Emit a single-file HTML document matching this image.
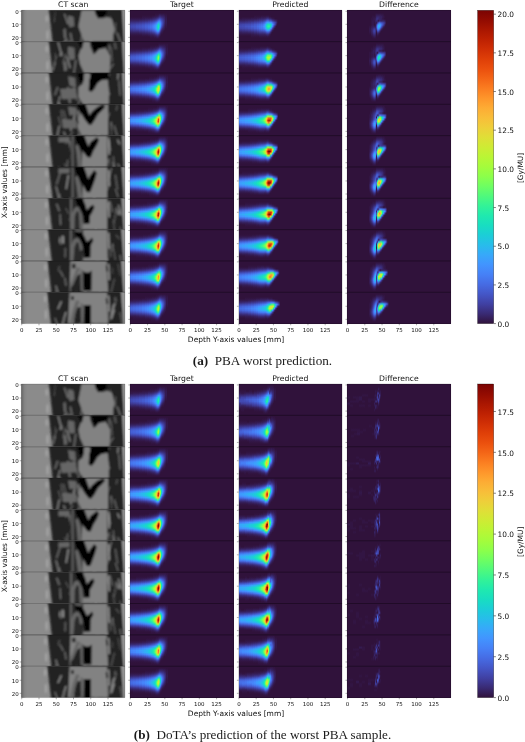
<!DOCTYPE html><html><head><meta charset="utf-8"><title>Figure</title><style>
html,body{margin:0;padding:0;background:#fff}#f{position:relative;width:525px;height:742px;overflow:hidden;background:#fff}.p{position:absolute;background:#30123b;overflow:hidden}.c{position:absolute;display:flex}.c i{flex:0 0 1px;height:100%}svg{position:absolute;left:0;top:0}text{font-family:"DejaVu Sans","Liberation Sans",sans-serif;fill:#111}.cap{font-family:"Liberation Serif",serif;fill:#1a1a1a}
</style></head><body><div id="f">
<div class="p" style="left:130px;top:10px;width:104px;height:32px"><div class="c" style="left:0px;top:3px;height:26px"><i style="flex-basis:3px;background:linear-gradient(#30123b,#30123b,#30123b,#33184a,#372466,#3d358b,#4143a7,#4249b1,#3f3e9c,#3a2d79,#351e58,#321543,#30123b,#30123b)"></i><i style="flex-basis:3px;background:linear-gradient(#30123b,#30123b,#30123b,#33184a,#372466,#3d358b,#4146ac,#424bb5,#4040a2,#3b2f80,#351e58,#321543,#30123b,#30123b)"></i><i style="flex-basis:3px;background:linear-gradient(#30123b,#30123b,#30123b,#33184a,#372466,#3e3891,#424bb5,#4451bf,#4146ac,#3b2f80,#351e58,#321543,#30123b,#30123b)"></i><i style="flex-basis:3px;background:linear-gradient(#30123b,#30123b,#30123b,#33184a,#38276d,#3f3b97,#434eba,#4454c3,#4249b1,#3d358b,#36215f,#321543,#30123b,#30123b)"></i><i style="flex-basis:3px;background:linear-gradient(#30123b,#30123b,#321543,#341b51,#392a73,#4040a2,#4454c3,#4559cb,#434eba,#3e3891,#372466,#33184a,#30123b,#30123b)"></i><i style="flex-basis:3px;background:linear-gradient(#30123b,#30123b,#321543,#351e58,#3a2d79,#4146ac,#455ccf,#4661d6,#4456c7,#3f3e9c,#38276d,#33184a,#30123b,#30123b)"></i><i style="flex-basis:2px;background:linear-gradient(#30123b,#30123b,#321543,#351e58,#3c3286,#424bb5,#4661d6,#4669e0,#455ed3,#4143a7,#392a73,#341b51,#30123b,#30123b)"></i><i style="flex-basis:2px;background:linear-gradient(#30123b,#30123b,#321543,#36215f,#3e3891,#4454c3,#466be3,#4773eb,#4666dd,#424bb5,#3b2f80,#351e58,#321543,#30123b)"></i><i style="background:linear-gradient(#30123b,#30123b,#33184a,#372466,#3f3b97,#4559cb,#4773eb,#477bf2,#476ee6,#4454c3,#3d358b,#351e58,#321543,#30123b)"></i><i style="background:linear-gradient(#30123b,#30123b,#33184a,#38276d,#4040a2,#455ed3,#477bf2,#4685fa,#4778f0,#4559cb,#3e3891,#36215f,#321543,#30123b)"></i><i style="background:linear-gradient(#30123b,#30123b,#341b51,#392a73,#4143a7,#4666dd,#4685fa,#448ffe,#4682f8,#4664da,#3f3e9c,#372466,#33184a,#30123b)"></i><i style="background:linear-gradient(#30123b,#321543,#341b51,#3a2d79,#424bb5,#4771e9,#4391fe,#3d9efe,#4391fe,#4771e9,#4249b1,#392a73,#33184a,#30123b)"></i><i style="background:linear-gradient(#30123b,#321543,#351e58,#3c3286,#4454c3,#4680f6,#38a5fb,#2cb7f0,#35abf8,#4685fa,#4456c7,#3b2f80,#341b51,#30123b)"></i><i style="background:linear-gradient(#30123b,#321543,#36215f,#3f3b97,#4664da,#4099ff,#20c7df,#18d7ca,#1ecbda,#3e9bfe,#4661d6,#3d358b,#351e58,#30123b)"></i><i style="background:linear-gradient(#30123b,#33184a,#38276d,#4146ac,#4778f0,#2cb7f0,#19e2bb,#1fe9af,#1ad4d0,#4099ff,#4559cb,#3b2f80,#341b51,#30123b)"></i><i style="background:linear-gradient(#30123b,#351e58,#3b2f80,#4451bf,#4680f6,#31aff5,#20c7df,#22c5e2,#38a5fb,#4771e9,#4040a2,#372466,#321543,#30123b)"></i><i style="background:linear-gradient(#30123b,#351e58,#3b2f80,#424bb5,#476ee6,#458afc,#4294ff,#4685fa,#4664da,#4040a2,#372466,#33184a,#30123b,#30123b)"></i><i style="background:linear-gradient(#30123b,#341b51,#392a73,#4040a2,#4456c7,#4666dd,#4666dd,#4454c3,#3f3b97,#372466,#33184a,#30123b,#30123b,#30123b)"></i><i style="background:linear-gradient(#30123b,#341b51,#38276d,#3e3891,#4146ac,#434eba,#4249b1,#3f3b97,#38276d,#341b51,#321543,#30123b,#30123b,#30123b)"></i><i style="background:linear-gradient(#30123b,#341b51,#372466,#3b2f80,#3e3891,#3f3b97,#3d358b,#392a73,#351e58,#321543,#30123b,#30123b,#30123b,#30123b)"></i><i style="background:linear-gradient(#30123b,#33184a,#36215f,#38276d,#3a2d79,#392a73,#372466,#351e58,#33184a,#30123b,#30123b,#30123b,#30123b,#30123b)"></i><i style="flex-basis:2px;background:linear-gradient(#30123b,#321543,#33184a,#341b51,#341b51,#341b51,#33184a,#321543,#30123b,#30123b,#30123b,#30123b,#30123b,#30123b)"></i></div></div>
<div class="p" style="left:239px;top:10px;width:103px;height:32px"><div class="c" style="left:0px;top:5px;height:23px"><i style="flex-basis:3px;background:linear-gradient(#30123b,#30123b,#321543,#36215f,#3c3286,#4143a7,#4249b1,#4143a7,#3c3286,#36215f,#33184a,#30123b,#30123b)"></i><i style="flex-basis:3px;background:linear-gradient(#30123b,#30123b,#33184a,#36215f,#3c3286,#4146ac,#424bb5,#4146ac,#3d358b,#372466,#33184a,#30123b,#30123b)"></i><i style="flex-basis:3px;background:linear-gradient(#30123b,#30123b,#33184a,#372466,#3d358b,#4249b1,#4451bf,#4249b1,#3e3891,#372466,#33184a,#30123b,#30123b)"></i><i style="flex-basis:3px;background:linear-gradient(#30123b,#30123b,#33184a,#38276d,#3e3891,#424bb5,#4454c3,#434eba,#3f3b97,#38276d,#33184a,#30123b,#30123b)"></i><i style="flex-basis:3px;background:linear-gradient(#30123b,#30123b,#341b51,#38276d,#3f3e9c,#4451bf,#455ccf,#4454c3,#4040a2,#392a73,#341b51,#321543,#30123b)"></i><i style="flex-basis:3px;background:linear-gradient(#30123b,#321543,#341b51,#3a2d79,#4143a7,#4559cb,#4661d6,#455ccf,#4146ac,#3b2f80,#351e58,#321543,#30123b)"></i><i style="flex-basis:2px;background:linear-gradient(#30123b,#321543,#351e58,#3b2f80,#4249b1,#4661d6,#466be3,#4664da,#434eba,#3d358b,#36215f,#321543,#30123b)"></i><i style="flex-basis:2px;background:linear-gradient(#30123b,#321543,#36215f,#3d358b,#434eba,#4669e0,#4773eb,#476ee6,#4456c7,#3f3b97,#372466,#33184a,#30123b)"></i><i style="flex-basis:2px;background:linear-gradient(#30123b,#33184a,#372466,#3e3891,#4456c7,#4771e9,#467df4,#4776ee,#455ccf,#3f3b97,#372466,#33184a,#30123b)"></i><i style="background:linear-gradient(#30123b,#33184a,#372466,#3f3e9c,#455ed3,#467df4,#458cfd,#4680f6,#4661d6,#3f3e9c,#372466,#33184a,#30123b)"></i><i style="background:linear-gradient(#30123b,#33184a,#38276d,#4143a7,#4669e0,#458cfd,#3e9bfe,#458afc,#4666dd,#4040a2,#372466,#33184a,#30123b)"></i><i style="background:linear-gradient(#30123b,#33184a,#392a73,#424bb5,#467df4,#37a8fa,#2ab9ee,#3aa3fc,#4776ee,#4146ac,#38276d,#33184a,#30123b)"></i><i style="background:linear-gradient(#30123b,#341b51,#3b2f80,#455ccf,#4294ff,#1fc9dd,#18dbc5,#22c5e2,#458cfd,#4454c3,#3a2d79,#33184a,#30123b)"></i><i style="background:linear-gradient(#30123b,#341b51,#3d358b,#4666dd,#37a8fa,#18e0bd,#25eca7,#18dbc5,#3d9efe,#455ccf,#3b2f80,#341b51,#30123b)"></i><i style="background:linear-gradient(#30123b,#341b51,#3c3286,#4664da,#35abf8,#1ce6b4,#32f298,#18e0bd,#3d9efe,#4559cb,#3a2d79,#33184a,#30123b)"></i><i style="background:linear-gradient(#30123b,#321543,#392a73,#4456c7,#3ba0fd,#19e2bb,#2cf09e,#19d5cd,#458cfd,#4249b1,#36215f,#321543,#30123b)"></i><i style="background:linear-gradient(#30123b,#321543,#38276d,#4454c3,#3d9efe,#18dec0,#19e3b9,#2fb2f4,#4664da,#3b2f80,#33184a,#30123b,#30123b)"></i><i style="background:linear-gradient(#30123b,#30123b,#36215f,#424bb5,#4391fe,#1fc9dd,#25c0e7,#467df4,#3f3e9c,#341b51,#30123b,#30123b,#30123b)"></i><i style="background:linear-gradient(#30123b,#30123b,#341b51,#3f3b97,#4776ee,#4099ff,#4682f8,#4249b1,#36215f,#30123b,#30123b,#30123b,#30123b)"></i><i style="background:linear-gradient(#30123b,#30123b,#33184a,#3c3286,#4661d6,#4776ee,#4454c3,#392a73,#321543,#30123b,#30123b,#30123b,#30123b)"></i><i style="background:linear-gradient(#30123b,#30123b,#321543,#392a73,#4451bf,#4456c7,#3c3286,#33184a,#30123b,#30123b,#30123b,#30123b,#30123b)"></i><i style="background:linear-gradient(#30123b,#30123b,#30123b,#372466,#4040a2,#3f3b97,#351e58,#30123b,#30123b,#30123b,#30123b,#30123b,#30123b)"></i><i style="background:linear-gradient(#30123b,#30123b,#30123b,#351e58,#3a2d79,#36215f,#30123b,#30123b,#30123b,#30123b,#30123b,#30123b,#30123b)"></i><i style="background:linear-gradient(#30123b,#30123b,#30123b,#321543,#33184a,#30123b,#30123b,#30123b,#30123b,#30123b,#30123b,#30123b,#30123b)"></i></div></div>
<div class="p" style="left:347px;top:10px;width:104px;height:32px"><div class="c" style="left:22px;top:3px;height:26px"><i style="flex-basis:2px;background:linear-gradient(#30123b,#30123b,#30123b,#30123b,#30123b,#30123b,#30123b,#321543,#33184a,#33184a,#321543,#30123b,#30123b,#30123b)"></i><i style="background:linear-gradient(#30123b,#30123b,#30123b,#321543,#321543,#321543,#321543,#341b51,#36215f,#36215f,#351e58,#33184a,#30123b,#30123b)"></i><i style="background:linear-gradient(#30123b,#30123b,#321543,#321543,#33184a,#33184a,#33184a,#351e58,#38276d,#392a73,#372466,#341b51,#321543,#30123b)"></i><i style="background:linear-gradient(#30123b,#30123b,#321543,#33184a,#33184a,#33184a,#33184a,#36215f,#3c3286,#3f3b97,#3c3286,#372466,#33184a,#30123b)"></i><i style="background:linear-gradient(#30123b,#30123b,#321543,#341b51,#33184a,#321543,#30123b,#36215f,#3f3b97,#4143a7,#3e3891,#38276d,#341b51,#30123b)"></i><i style="background:linear-gradient(#30123b,#321543,#33184a,#351e58,#36215f,#341b51,#33184a,#36215f,#3b2f80,#3d358b,#3a2d79,#36215f,#33184a,#30123b)"></i><i style="background:linear-gradient(#30123b,#341b51,#372466,#3a2d79,#38276d,#33184a,#3f3e9c,#424bb5,#3e3891,#351e58,#30123b,#30123b,#30123b,#30123b)"></i><i style="background:linear-gradient(#30123b,#341b51,#38276d,#3b2f80,#36215f,#3e3891,#4778f0,#4391fe,#477bf2,#424bb5,#38276d,#33184a,#30123b,#30123b)"></i><i style="background:linear-gradient(#30123b,#341b51,#38276d,#392a73,#321543,#455ccf,#3aa3fc,#2cb7f0,#458afc,#434eba,#372466,#321543,#30123b,#30123b)"></i><i style="background:linear-gradient(#30123b,#341b51,#372466,#372466,#372466,#4771e9,#31aff5,#33adf7,#4771e9,#3d358b,#33184a,#30123b,#30123b,#30123b)"></i><i style="background:linear-gradient(#30123b,#341b51,#36215f,#36215f,#372466,#4669e0,#4099ff,#4682f8,#4146ac,#351e58,#30123b,#30123b,#30123b,#30123b)"></i><i style="background:linear-gradient(#30123b,#33184a,#36215f,#351e58,#36215f,#455ccf,#4773eb,#4454c3,#38276d,#30123b,#30123b,#30123b,#30123b,#30123b)"></i><i style="background:linear-gradient(#30123b,#33184a,#341b51,#33184a,#372466,#4451bf,#4559cb,#3d358b,#33184a,#30123b,#30123b,#30123b,#30123b,#30123b)"></i><i style="background:linear-gradient(#30123b,#321543,#33184a,#321543,#372466,#4146ac,#4040a2,#351e58,#30123b,#30123b,#30123b,#30123b,#30123b,#30123b)"></i><i style="background:linear-gradient(#30123b,#30123b,#321543,#30123b,#36215f,#3e3891,#392a73,#321543,#30123b,#30123b,#30123b,#30123b,#30123b,#30123b)"></i><i style="background:linear-gradient(#30123b,#30123b,#30123b,#30123b,#33184a,#372466,#321543,#30123b,#30123b,#30123b,#30123b,#30123b,#30123b,#30123b)"></i></div></div>
<div class="p" style="left:130px;top:42px;width:104px;height:31px"><div class="c" style="left:0px;top:1px;height:28px"><i style="flex-basis:3px;background:linear-gradient(#30123b,#30123b,#30123b,#321543,#351e58,#3b2f80,#4249b1,#455ccf,#455ccf,#4249b1,#3b2f80,#341b51,#321543,#30123b,#30123b)"></i><i style="flex-basis:3px;background:linear-gradient(#30123b,#30123b,#30123b,#321543,#351e58,#3c3286,#424bb5,#455ed3,#455ed3,#424bb5,#3b2f80,#351e58,#321543,#30123b,#30123b)"></i><i style="flex-basis:3px;background:linear-gradient(#30123b,#30123b,#30123b,#321543,#36215f,#3d358b,#4451bf,#4664da,#4664da,#434eba,#3c3286,#351e58,#321543,#30123b,#30123b)"></i><i style="flex-basis:3px;background:linear-gradient(#30123b,#30123b,#30123b,#321543,#36215f,#3e3891,#4456c7,#4669e0,#4669e0,#4454c3,#3e3891,#36215f,#321543,#30123b,#30123b)"></i><i style="flex-basis:3px;background:linear-gradient(#30123b,#30123b,#30123b,#33184a,#372466,#3f3e9c,#455ccf,#4771e9,#4771e9,#455ccf,#3f3b97,#372466,#321543,#30123b,#30123b)"></i><i style="flex-basis:3px;background:linear-gradient(#30123b,#30123b,#30123b,#33184a,#38276d,#4143a7,#4664da,#477bf2,#477bf2,#4664da,#4143a7,#38276d,#33184a,#30123b,#30123b)"></i><i style="flex-basis:2px;background:linear-gradient(#30123b,#30123b,#30123b,#341b51,#3a2d79,#4249b1,#466be3,#4685fa,#4685fa,#476ee6,#424bb5,#3a2d79,#341b51,#30123b,#30123b)"></i><i style="flex-basis:2px;background:linear-gradient(#30123b,#30123b,#321543,#351e58,#3b2f80,#4451bf,#4776ee,#4391fe,#4391fe,#4778f0,#4454c3,#3b2f80,#341b51,#321543,#30123b)"></i><i style="background:linear-gradient(#30123b,#30123b,#321543,#351e58,#3d358b,#4559cb,#4680f6,#3e9bfe,#3d9efe,#4685fa,#455ccf,#3d358b,#351e58,#321543,#30123b)"></i><i style="background:linear-gradient(#30123b,#30123b,#321543,#36215f,#3e3891,#455ed3,#458afc,#38a5fb,#35abf8,#448ffe,#4664da,#3f3b97,#36215f,#321543,#30123b)"></i><i style="background:linear-gradient(#30123b,#30123b,#321543,#372466,#3f3e9c,#4666dd,#4294ff,#2eb4f2,#2ab9ee,#3d9efe,#476ee6,#4040a2,#372466,#33184a,#30123b)"></i><i style="background:linear-gradient(#30123b,#30123b,#33184a,#372466,#4143a7,#4771e9,#3aa3fc,#20c7df,#1ecbda,#2fb2f4,#4680f6,#424bb5,#392a73,#33184a,#30123b)"></i><i style="background:linear-gradient(#30123b,#30123b,#33184a,#392a73,#424bb5,#4680f6,#2ab9ee,#18e0bd,#1ce6b4,#1bd0d5,#4099ff,#455ccf,#3b2f80,#341b51,#30123b)"></i><i style="background:linear-gradient(#30123b,#30123b,#341b51,#3b2f80,#4559cb,#4196ff,#18dbc5,#43f787,#55fa76,#22ebaa,#2fb2f4,#4669e0,#3d358b,#341b51,#30123b)"></i><i style="background:linear-gradient(#30123b,#321543,#351e58,#3f3b97,#476ee6,#2ab9ee,#35f394,#8bff4b,#88ff4e,#2aefa1,#35abf8,#455ed3,#3b2f80,#33184a,#30123b)"></i><i style="background:linear-gradient(#30123b,#33184a,#38276d,#4249b1,#467df4,#27bee9,#1fe9af,#35f394,#20eaac,#23c3e4,#477bf2,#4040a2,#36215f,#321543,#30123b)"></i><i style="background:linear-gradient(#30123b,#33184a,#392a73,#4146ac,#4771e9,#3d9efe,#28bceb,#27bee9,#3d9efe,#4771e9,#4143a7,#372466,#321543,#30123b,#30123b)"></i><i style="background:linear-gradient(#30123b,#33184a,#38276d,#3f3e9c,#455ccf,#4778f0,#4687fb,#467df4,#4661d6,#4040a2,#372466,#33184a,#30123b,#30123b,#30123b)"></i><i style="background:linear-gradient(#30123b,#33184a,#372466,#3d358b,#424bb5,#455ed3,#4664da,#4456c7,#4040a2,#392a73,#341b51,#30123b,#30123b,#30123b,#30123b)"></i><i style="background:linear-gradient(#30123b,#33184a,#36215f,#3b2f80,#3f3e9c,#4249b1,#4249b1,#3f3e9c,#3a2d79,#351e58,#321543,#30123b,#30123b,#30123b,#30123b)"></i><i style="background:linear-gradient(#30123b,#33184a,#351e58,#392a73,#3c3286,#3d358b,#3c3286,#392a73,#351e58,#33184a,#30123b,#30123b,#30123b,#30123b,#30123b)"></i><i style="background:linear-gradient(#30123b,#321543,#341b51,#36215f,#372466,#38276d,#36215f,#341b51,#33184a,#30123b,#30123b,#30123b,#30123b,#30123b,#30123b)"></i><i style="flex-basis:2px;background:linear-gradient(#30123b,#321543,#321543,#33184a,#33184a,#33184a,#321543,#30123b,#30123b,#30123b,#30123b,#30123b,#30123b,#30123b,#30123b)"></i></div></div>
<div class="p" style="left:239px;top:42px;width:103px;height:31px"><div class="c" style="left:0px;top:4px;height:23px"><i style="flex-basis:3px;background:linear-gradient(#30123b,#30123b,#33184a,#372466,#3e3891,#4451bf,#455ed3,#4559cb,#4143a7,#3a2d79,#341b51,#30123b,#30123b)"></i><i style="flex-basis:3px;background:linear-gradient(#30123b,#30123b,#33184a,#372466,#3f3b97,#4454c3,#4661d6,#455ccf,#4146ac,#3a2d79,#341b51,#321543,#30123b)"></i><i style="flex-basis:3px;background:linear-gradient(#30123b,#30123b,#33184a,#38276d,#3f3e9c,#4559cb,#4666dd,#4661d6,#424bb5,#3b2f80,#351e58,#321543,#30123b)"></i><i style="flex-basis:3px;background:linear-gradient(#30123b,#30123b,#341b51,#392a73,#4143a7,#455ed3,#466be3,#4666dd,#4451bf,#3d358b,#351e58,#321543,#30123b)"></i><i style="flex-basis:3px;background:linear-gradient(#30123b,#321543,#341b51,#3a2d79,#4249b1,#4664da,#4773eb,#476ee6,#4456c7,#3e3891,#36215f,#321543,#30123b)"></i><i style="flex-basis:2px;background:linear-gradient(#30123b,#321543,#351e58,#3b2f80,#434eba,#466be3,#477bf2,#4776ee,#455ed3,#3f3e9c,#372466,#33184a,#30123b)"></i><i style="flex-basis:2px;background:linear-gradient(#30123b,#321543,#36215f,#3d358b,#4454c3,#4773eb,#4685fa,#4680f6,#4666dd,#4143a7,#38276d,#33184a,#30123b)"></i><i style="flex-basis:2px;background:linear-gradient(#30123b,#321543,#36215f,#3f3b97,#455ccf,#467df4,#448ffe,#458afc,#4771e9,#424bb5,#3a2d79,#341b51,#30123b)"></i><i style="flex-basis:2px;background:linear-gradient(#30123b,#33184a,#372466,#3f3e9c,#4664da,#4687fb,#3e9bfe,#4294ff,#4778f0,#4451bf,#3b2f80,#341b51,#30123b)"></i><i style="background:linear-gradient(#30123b,#33184a,#38276d,#4143a7,#466be3,#4391fe,#37a8fa,#3ba0fd,#467df4,#4454c3,#3b2f80,#341b51,#30123b)"></i><i style="background:linear-gradient(#30123b,#33184a,#38276d,#4146ac,#4773eb,#3d9efe,#2cb7f0,#35abf8,#4685fa,#4456c7,#3b2f80,#341b51,#30123b)"></i><i style="background:linear-gradient(#30123b,#33184a,#392a73,#424bb5,#467df4,#2fb2f4,#1fc9dd,#28bceb,#458cfd,#4559cb,#3c3286,#341b51,#30123b)"></i><i style="background:linear-gradient(#30123b,#33184a,#3a2d79,#4456c7,#4294ff,#1bd0d5,#1ce6b4,#18d7ca,#3ba0fd,#4661d6,#3c3286,#341b51,#30123b)"></i><i style="background:linear-gradient(#30123b,#341b51,#3d358b,#4669e0,#2eb4f2,#27eea4,#5dfc6f,#35f394,#23c3e4,#4776ee,#3f3b97,#351e58,#30123b)"></i><i style="background:linear-gradient(#30123b,#351e58,#3f3b97,#4776ee,#1ecbda,#5dfc6f,#a1fd3d,#75fe5c,#18dbc5,#4685fa,#4143a7,#36215f,#30123b)"></i><i style="background:linear-gradient(#30123b,#341b51,#3d358b,#4773eb,#1bd0d5,#75fe5c,#b7f735,#8fff49,#18dec0,#4682f8,#3f3e9c,#351e58,#30123b)"></i><i style="background:linear-gradient(#30123b,#33184a,#3a2d79,#4664da,#23c3e4,#6dfe62,#b1f936,#75fe5c,#1ecbda,#466be3,#3b2f80,#33184a,#30123b)"></i><i style="background:linear-gradient(#30123b,#321543,#38276d,#4661d6,#23c3e4,#65fd69,#96fe44,#2cf09e,#4196ff,#4143a7,#351e58,#30123b,#30123b)"></i><i style="background:linear-gradient(#30123b,#30123b,#372466,#4456c7,#2eb4f2,#38f491,#3ff68a,#27bee9,#455ed3,#38276d,#321543,#30123b,#30123b)"></i><i style="background:linear-gradient(#30123b,#30123b,#341b51,#4143a7,#4391fe,#1bd0d5,#27bee9,#4771e9,#3b2f80,#321543,#30123b,#30123b,#30123b)"></i><i style="background:linear-gradient(#30123b,#30123b,#33184a,#3e3891,#4778f0,#3ba0fd,#467df4,#3f3e9c,#341b51,#30123b,#30123b,#30123b,#30123b)"></i><i style="background:linear-gradient(#30123b,#30123b,#321543,#3b2f80,#4664da,#4778f0,#424bb5,#36215f,#30123b,#30123b,#30123b,#30123b,#30123b)"></i><i style="background:linear-gradient(#30123b,#30123b,#30123b,#38276d,#4451bf,#4454c3,#392a73,#321543,#30123b,#30123b,#30123b,#30123b,#30123b)"></i><i style="background:linear-gradient(#30123b,#30123b,#30123b,#351e58,#3f3b97,#3c3286,#33184a,#30123b,#30123b,#30123b,#30123b,#30123b,#30123b)"></i><i style="background:linear-gradient(#30123b,#30123b,#30123b,#321543,#351e58,#321543,#30123b,#30123b,#30123b,#30123b,#30123b,#30123b,#30123b)"></i></div></div>
<div class="p" style="left:347px;top:42px;width:104px;height:31px"><div class="c" style="left:22px;top:1px;height:28px"><i style="flex-basis:2px;background:linear-gradient(#30123b,#30123b,#30123b,#30123b,#30123b,#321543,#321543,#321543,#33184a,#341b51,#33184a,#321543,#30123b,#30123b,#30123b)"></i><i style="background:linear-gradient(#30123b,#30123b,#30123b,#321543,#321543,#33184a,#33184a,#33184a,#36215f,#38276d,#38276d,#351e58,#33184a,#30123b,#30123b)"></i><i style="background:linear-gradient(#30123b,#30123b,#30123b,#321543,#33184a,#341b51,#33184a,#341b51,#38276d,#3c3286,#3c3286,#38276d,#341b51,#321543,#30123b)"></i><i style="background:linear-gradient(#30123b,#30123b,#321543,#33184a,#351e58,#351e58,#341b51,#351e58,#3c3286,#4146ac,#4249b1,#3e3891,#372466,#33184a,#30123b)"></i><i style="background:linear-gradient(#30123b,#30123b,#321543,#341b51,#351e58,#341b51,#321543,#341b51,#3e3891,#4454c3,#4454c3,#4040a2,#38276d,#33184a,#30123b)"></i><i style="background:linear-gradient(#30123b,#30123b,#33184a,#36215f,#38276d,#38276d,#351e58,#351e58,#3b2f80,#4040a2,#4040a2,#3c3286,#36215f,#321543,#30123b)"></i><i style="background:linear-gradient(#30123b,#33184a,#36215f,#3b2f80,#3d358b,#372466,#3b2f80,#455ccf,#455ed3,#3f3b97,#351e58,#30123b,#30123b,#30123b,#30123b)"></i><i style="background:linear-gradient(#30123b,#33184a,#372466,#3d358b,#3e3891,#30123b,#4669e0,#2eb4f2,#23c3e4,#448ffe,#4451bf,#38276d,#321543,#30123b,#30123b)"></i><i style="background:linear-gradient(#30123b,#33184a,#372466,#3c3286,#3a2d79,#3d358b,#3ba0fd,#1ce6b4,#19e2bb,#3d9efe,#434eba,#372466,#321543,#30123b,#30123b)"></i><i style="background:linear-gradient(#30123b,#33184a,#372466,#3a2d79,#351e58,#434eba,#27bee9,#25eca7,#1ad2d2,#4778f0,#3c3286,#33184a,#30123b,#30123b,#30123b)"></i><i style="background:linear-gradient(#30123b,#33184a,#36215f,#392a73,#341b51,#434eba,#2fb2f4,#1ad4d0,#4099ff,#4146ac,#341b51,#30123b,#30123b,#30123b,#30123b)"></i><i style="background:linear-gradient(#30123b,#33184a,#36215f,#38276d,#341b51,#4146ac,#4391fe,#4099ff,#4559cb,#372466,#30123b,#30123b,#30123b,#30123b,#30123b)"></i><i style="background:linear-gradient(#30123b,#33184a,#341b51,#36215f,#321543,#4143a7,#467df4,#466be3,#3c3286,#321543,#30123b,#30123b,#30123b,#30123b,#30123b)"></i><i style="background:linear-gradient(#30123b,#321543,#33184a,#341b51,#30123b,#4040a2,#4666dd,#4146ac,#341b51,#30123b,#30123b,#30123b,#30123b,#30123b,#30123b)"></i><i style="background:linear-gradient(#30123b,#30123b,#321543,#321543,#321543,#3e3891,#424bb5,#38276d,#30123b,#30123b,#30123b,#30123b,#30123b,#30123b,#30123b)"></i><i style="background:linear-gradient(#30123b,#30123b,#30123b,#30123b,#30123b,#38276d,#392a73,#321543,#30123b,#30123b,#30123b,#30123b,#30123b,#30123b,#30123b)"></i></div></div>
<div class="p" style="left:130px;top:73px;width:104px;height:31px"><div class="c" style="left:0px;top:1px;height:29px"><i style="flex-basis:3px;background:linear-gradient(#30123b,#30123b,#30123b,#321543,#36215f,#3f3b97,#455ccf,#4773eb,#476ee6,#4454c3,#3c3286,#341b51,#30123b,#30123b,#30123b)"></i><i style="flex-basis:3px;background:linear-gradient(#30123b,#30123b,#30123b,#321543,#372466,#3f3e9c,#4661d6,#4778f0,#4773eb,#4456c7,#3d358b,#351e58,#321543,#30123b,#30123b)"></i><i style="flex-basis:3px;background:linear-gradient(#30123b,#30123b,#30123b,#321543,#372466,#4040a2,#4666dd,#467df4,#477bf2,#455ccf,#3e3891,#351e58,#321543,#30123b,#30123b)"></i><i style="flex-basis:3px;background:linear-gradient(#30123b,#30123b,#30123b,#33184a,#38276d,#4146ac,#466be3,#4685fa,#4682f8,#4664da,#3f3b97,#36215f,#321543,#30123b,#30123b)"></i><i style="flex-basis:3px;background:linear-gradient(#30123b,#30123b,#30123b,#33184a,#392a73,#424bb5,#4773eb,#448ffe,#458afc,#466be3,#4143a7,#372466,#321543,#30123b,#30123b)"></i><i style="flex-basis:2px;background:linear-gradient(#30123b,#30123b,#30123b,#341b51,#3a2d79,#4451bf,#477bf2,#4196ff,#4294ff,#4773eb,#4249b1,#38276d,#33184a,#30123b,#30123b)"></i><i style="flex-basis:2px;background:linear-gradient(#30123b,#30123b,#30123b,#341b51,#3c3286,#4559cb,#4685fa,#3aa3fc,#3d9efe,#467df4,#434eba,#392a73,#33184a,#30123b,#30123b)"></i><i style="background:linear-gradient(#30123b,#30123b,#321543,#351e58,#3d358b,#455ed3,#458cfd,#35abf8,#37a8fa,#4685fa,#4456c7,#3b2f80,#341b51,#30123b,#30123b)"></i><i style="background:linear-gradient(#30123b,#30123b,#321543,#351e58,#3e3891,#4664da,#4391fe,#2fb2f4,#2fb2f4,#458cfd,#455ccf,#3c3286,#341b51,#30123b,#30123b)"></i><i style="background:linear-gradient(#30123b,#30123b,#321543,#36215f,#3f3b97,#4669e0,#4099ff,#28bceb,#2ab9ee,#4196ff,#4661d6,#3d358b,#341b51,#30123b,#30123b)"></i><i style="background:linear-gradient(#30123b,#30123b,#321543,#36215f,#3f3e9c,#476ee6,#3aa3fc,#22c5e2,#22c5e2,#3ba0fd,#4669e0,#3e3891,#351e58,#321543,#30123b)"></i><i style="background:linear-gradient(#30123b,#30123b,#321543,#372466,#4143a7,#4776ee,#31aff5,#1ad2d2,#1ad2d2,#33adf7,#4771e9,#3f3e9c,#36215f,#321543,#30123b)"></i><i style="background:linear-gradient(#30123b,#30123b,#33184a,#38276d,#4249b1,#4680f6,#28bceb,#18dec0,#18e0bd,#27bee9,#467df4,#4146ac,#372466,#321543,#30123b)"></i><i style="background:linear-gradient(#30123b,#30123b,#33184a,#392a73,#4451bf,#458cfd,#1bd0d5,#27eea4,#2cf09e,#19d5cd,#4391fe,#4451bf,#392a73,#33184a,#30123b)"></i><i style="background:linear-gradient(#30123b,#30123b,#341b51,#3b2f80,#455ccf,#3ba0fd,#1ae4b6,#61fc6c,#71fe5f,#2aefa1,#31aff5,#4664da,#3b2f80,#341b51,#30123b)"></i><i style="background:linear-gradient(#30123b,#321543,#351e58,#3e3891,#476ee6,#25c0e7,#55fa76,#b7f735,#c3f134,#75fe5c,#1ecbda,#476ee6,#3d358b,#341b51,#30123b)"></i><i style="background:linear-gradient(#30123b,#321543,#36215f,#4143a7,#4687fb,#19e3b9,#a9fb39,#eecf3a,#e3db38,#7dff56,#25c0e7,#4664da,#3a2d79,#33184a,#30123b)"></i><i style="background:linear-gradient(#30123b,#341b51,#3a2d79,#4456c7,#3e9bfe,#1ce6b4,#80ff53,#a4fc3c,#79fe59,#18e0bd,#458afc,#4143a7,#36215f,#321543,#30123b)"></i><i style="background:linear-gradient(#30123b,#341b51,#3a2d79,#4454c3,#458afc,#20c7df,#1ce6b4,#1ae4b6,#23c3e4,#4682f8,#4249b1,#372466,#321543,#30123b,#30123b)"></i><i style="background:linear-gradient(#30123b,#341b51,#392a73,#4249b1,#4771e9,#4196ff,#37a8fa,#3e9bfe,#4773eb,#4146ac,#38276d,#33184a,#30123b,#30123b,#30123b)"></i><i style="background:linear-gradient(#30123b,#341b51,#392a73,#4040a2,#455ed3,#4776ee,#477bf2,#4669e0,#424bb5,#3a2d79,#341b51,#30123b,#30123b,#30123b,#30123b)"></i><i style="background:linear-gradient(#30123b,#341b51,#38276d,#3e3891,#424bb5,#4559cb,#4559cb,#4249b1,#3c3286,#36215f,#321543,#30123b,#30123b,#30123b,#30123b)"></i><i style="background:linear-gradient(#30123b,#33184a,#372466,#3b2f80,#3f3b97,#4040a2,#3f3b97,#3b2f80,#36215f,#33184a,#30123b,#30123b,#30123b,#30123b,#30123b)"></i><i style="background:linear-gradient(#30123b,#33184a,#351e58,#38276d,#3a2d79,#3a2d79,#38276d,#351e58,#33184a,#30123b,#30123b,#30123b,#30123b,#30123b,#30123b)"></i><i style="flex-basis:2px;background:linear-gradient(#30123b,#321543,#33184a,#33184a,#341b51,#33184a,#33184a,#321543,#30123b,#30123b,#30123b,#30123b,#30123b,#30123b,#30123b)"></i></div></div>
<div class="p" style="left:239px;top:73px;width:103px;height:31px"><div class="c" style="left:0px;top:4px;height:24px"><i style="flex-basis:3px;background:linear-gradient(#30123b,#30123b,#33184a,#392a73,#4146ac,#4664da,#4776ee,#466be3,#434eba,#3b2f80,#341b51,#30123b,#30123b)"></i><i style="flex-basis:3px;background:linear-gradient(#30123b,#30123b,#33184a,#392a73,#4249b1,#4669e0,#477bf2,#4771e9,#4451bf,#3b2f80,#341b51,#30123b,#30123b)"></i><i style="flex-basis:3px;background:linear-gradient(#30123b,#30123b,#341b51,#3a2d79,#424bb5,#476ee6,#4680f6,#4776ee,#4456c7,#3d358b,#351e58,#321543,#30123b)"></i><i style="flex-basis:3px;background:linear-gradient(#30123b,#30123b,#341b51,#3b2f80,#4451bf,#4776ee,#4687fb,#467df4,#455ed3,#3e3891,#351e58,#321543,#30123b)"></i><i style="flex-basis:3px;background:linear-gradient(#30123b,#321543,#351e58,#3d358b,#4559cb,#467df4,#4391fe,#4687fb,#4666dd,#3f3e9c,#36215f,#321543,#30123b)"></i><i style="flex-basis:2px;background:linear-gradient(#30123b,#321543,#36215f,#3e3891,#4661d6,#4687fb,#3e9bfe,#4391fe,#476ee6,#4143a7,#372466,#33184a,#30123b)"></i><i style="flex-basis:2px;background:linear-gradient(#30123b,#321543,#372466,#3f3e9c,#4666dd,#4391fe,#37a8fa,#3e9bfe,#4778f0,#424bb5,#392a73,#33184a,#30123b)"></i><i style="background:linear-gradient(#30123b,#33184a,#372466,#4143a7,#476ee6,#4099ff,#2fb2f4,#37a8fa,#4680f6,#4451bf,#3a2d79,#33184a,#30123b)"></i><i style="flex-basis:2px;background:linear-gradient(#30123b,#33184a,#38276d,#4249b1,#4776ee,#38a5fb,#27bee9,#2fb2f4,#458afc,#4456c7,#3b2f80,#341b51,#30123b)"></i><i style="background:linear-gradient(#30123b,#33184a,#392a73,#424bb5,#467df4,#31aff5,#1fc9dd,#28bceb,#448ffe,#4559cb,#3c3286,#341b51,#30123b)"></i><i style="background:linear-gradient(#30123b,#33184a,#392a73,#434eba,#4685fa,#28bceb,#1ad2d2,#22c5e2,#4294ff,#455ccf,#3c3286,#341b51,#30123b)"></i><i style="background:linear-gradient(#30123b,#33184a,#3a2d79,#4454c3,#448ffe,#1fc9dd,#18dec0,#1bd0d5,#3e9bfe,#455ed3,#3c3286,#341b51,#30123b)"></i><i style="background:linear-gradient(#30123b,#33184a,#3a2d79,#455ccf,#3d9efe,#18dbc5,#27eea4,#18dec0,#38a5fb,#4661d6,#3c3286,#341b51,#30123b)"></i><i style="background:linear-gradient(#30123b,#341b51,#3c3286,#4666dd,#2cb7f0,#2ff19b,#65fd69,#32f298,#2ab9ee,#4669e0,#3c3286,#341b51,#30123b)"></i><i style="background:linear-gradient(#30123b,#351e58,#3f3b97,#477bf2,#18d9c8,#8bff4b,#c1f334,#8fff49,#18dbc5,#467df4,#3f3b97,#351e58,#30123b)"></i><i style="background:linear-gradient(#30123b,#351e58,#4143a7,#448ffe,#2cf09e,#cdec34,#f7c13a,#d0ea34,#2ff19b,#4391fe,#4143a7,#351e58,#30123b)"></i><i style="background:linear-gradient(#30123b,#341b51,#3f3e9c,#458cfd,#38f491,#e5d938,#fe9b2d,#e7d739,#3cf58e,#448ffe,#3f3e9c,#351e58,#30123b)"></i><i style="background:linear-gradient(#30123b,#33184a,#3c3286,#477bf2,#27eea4,#e3db38,#fe9e2f,#d7e535,#1ce6b4,#4773eb,#3b2f80,#33184a,#30123b)"></i><i style="background:linear-gradient(#30123b,#321543,#3a2d79,#4776ee,#27eea4,#e3db38,#f8be39,#8fff49,#33adf7,#4146ac,#341b51,#30123b,#30123b)"></i><i style="background:linear-gradient(#30123b,#321543,#38276d,#466be3,#1ce6b4,#c3f134,#c1f334,#19e3b9,#4669e0,#38276d,#321543,#30123b,#30123b)"></i><i style="background:linear-gradient(#30123b,#30123b,#351e58,#4456c7,#20c7df,#59fb73,#27eea4,#4687fb,#3c3286,#321543,#30123b,#30123b,#30123b)"></i><i style="background:linear-gradient(#30123b,#30123b,#33184a,#4146ac,#3ba0fd,#19d5cd,#3ba0fd,#4146ac,#341b51,#30123b,#30123b,#30123b,#30123b)"></i><i style="background:linear-gradient(#30123b,#30123b,#321543,#3e3891,#4685fa,#3aa3fc,#455ed3,#36215f,#30123b,#30123b,#30123b,#30123b,#30123b)"></i><i style="background:linear-gradient(#30123b,#30123b,#30123b,#3b2f80,#476ee6,#476ee6,#3b2f80,#321543,#30123b,#30123b,#30123b,#30123b,#30123b)"></i><i style="background:linear-gradient(#30123b,#30123b,#30123b,#372466,#4454c3,#4040a2,#33184a,#30123b,#30123b,#30123b,#30123b,#30123b,#30123b)"></i><i style="background:linear-gradient(#30123b,#30123b,#30123b,#33184a,#392a73,#341b51,#30123b,#30123b,#30123b,#30123b,#30123b,#30123b,#30123b)"></i></div></div>
<div class="p" style="left:347px;top:73px;width:104px;height:31px"><div class="c" style="left:22px;top:1px;height:28px"><i style="background:linear-gradient(#30123b,#30123b,#30123b,#30123b,#30123b,#30123b,#30123b,#321543,#33184a,#33184a,#33184a,#321543,#30123b,#30123b,#30123b)"></i><i style="background:linear-gradient(#30123b,#30123b,#30123b,#30123b,#321543,#321543,#321543,#33184a,#341b51,#36215f,#36215f,#341b51,#321543,#30123b,#30123b)"></i><i style="background:linear-gradient(#30123b,#30123b,#30123b,#321543,#33184a,#341b51,#341b51,#341b51,#372466,#3a2d79,#3a2d79,#372466,#341b51,#321543,#30123b)"></i><i style="background:linear-gradient(#30123b,#30123b,#30123b,#33184a,#341b51,#351e58,#351e58,#351e58,#3a2d79,#3f3e9c,#4040a2,#3c3286,#36215f,#33184a,#30123b)"></i><i style="background:linear-gradient(#30123b,#30123b,#321543,#341b51,#36215f,#372466,#36215f,#372466,#3f3b97,#4456c7,#455ccf,#4249b1,#3a2d79,#341b51,#30123b)"></i><i style="background:linear-gradient(#30123b,#30123b,#321543,#351e58,#372466,#38276d,#36215f,#38276d,#4146ac,#4669e0,#476ee6,#4456c7,#3d358b,#351e58,#30123b)"></i><i style="background:linear-gradient(#30123b,#30123b,#33184a,#372466,#3a2d79,#3b2f80,#392a73,#392a73,#3f3b97,#4451bf,#4454c3,#4040a2,#392a73,#341b51,#30123b)"></i><i style="background:linear-gradient(#30123b,#33184a,#372466,#3d358b,#4143a7,#3b2f80,#3a2d79,#476ee6,#477bf2,#4451bf,#38276d,#30123b,#30123b,#30123b,#30123b)"></i><i style="background:linear-gradient(#30123b,#33184a,#38276d,#3f3e9c,#4146ac,#33184a,#4776ee,#18ddc2,#2aefa1,#1fc9dd,#4773eb,#3d358b,#341b51,#30123b,#30123b)"></i><i style="background:linear-gradient(#30123b,#341b51,#38276d,#3e3891,#3e3891,#3c3286,#28bceb,#75fe5c,#88ff4e,#18ddc2,#4773eb,#3b2f80,#33184a,#30123b,#30123b)"></i><i style="background:linear-gradient(#30123b,#341b51,#38276d,#3d358b,#38276d,#4454c3,#18e0bd,#9ffd3f,#69fd66,#2fb2f4,#424bb5,#351e58,#30123b,#30123b,#30123b)"></i><i style="background:linear-gradient(#30123b,#341b51,#372466,#3b2f80,#372466,#4559cb,#18dec0,#65fd69,#18dec0,#476ee6,#38276d,#30123b,#30123b,#30123b,#30123b)"></i><i style="background:linear-gradient(#30123b,#33184a,#372466,#3a2d79,#36215f,#434eba,#28bceb,#19d5cd,#458afc,#3d358b,#321543,#30123b,#30123b,#30123b,#30123b)"></i><i style="background:linear-gradient(#30123b,#33184a,#351e58,#372466,#341b51,#424bb5,#3aa3fc,#3d9efe,#434eba,#341b51,#30123b,#30123b,#30123b,#30123b,#30123b)"></i><i style="background:linear-gradient(#30123b,#321543,#341b51,#351e58,#30123b,#4249b1,#4687fb,#4669e0,#38276d,#30123b,#30123b,#30123b,#30123b,#30123b,#30123b)"></i><i style="background:linear-gradient(#30123b,#321543,#321543,#33184a,#30123b,#4040a2,#4669e0,#3f3b97,#321543,#30123b,#30123b,#30123b,#30123b,#30123b,#30123b)"></i><i style="background:linear-gradient(#30123b,#30123b,#30123b,#321543,#30123b,#3c3286,#3f3e9c,#341b51,#30123b,#30123b,#30123b,#30123b,#30123b,#30123b,#30123b)"></i><i style="background:linear-gradient(#30123b,#30123b,#30123b,#30123b,#30123b,#33184a,#33184a,#30123b,#30123b,#30123b,#30123b,#30123b,#30123b,#30123b,#30123b)"></i></div></div>
<div class="p" style="left:130px;top:104px;width:104px;height:32px"><div class="c" style="left:0px;top:1px;height:29px"><i style="flex-basis:3px;background:linear-gradient(#30123b,#30123b,#30123b,#321543,#372466,#4143a7,#476ee6,#448ffe,#4391fe,#4771e9,#4143a7,#372466,#321543,#30123b,#30123b)"></i><i style="flex-basis:3px;background:linear-gradient(#30123b,#30123b,#30123b,#321543,#372466,#4146ac,#4773eb,#4196ff,#4196ff,#4776ee,#4249b1,#372466,#321543,#30123b,#30123b)"></i><i style="flex-basis:3px;background:linear-gradient(#30123b,#30123b,#30123b,#33184a,#38276d,#4249b1,#4778f0,#3d9efe,#3ba0fd,#467df4,#424bb5,#38276d,#33184a,#30123b,#30123b)"></i><i style="flex-basis:3px;background:linear-gradient(#30123b,#30123b,#30123b,#33184a,#392a73,#434eba,#4680f6,#37a8fa,#37a8fa,#4685fa,#4454c3,#392a73,#33184a,#30123b,#30123b)"></i><i style="flex-basis:2px;background:linear-gradient(#30123b,#30123b,#30123b,#33184a,#3a2d79,#4456c7,#458afc,#2fb2f4,#2eb4f2,#448ffe,#4559cb,#3b2f80,#33184a,#30123b,#30123b)"></i><i style="flex-basis:2px;background:linear-gradient(#30123b,#30123b,#30123b,#341b51,#3b2f80,#455ccf,#4391fe,#2ab9ee,#27bee9,#4196ff,#4661d6,#3c3286,#341b51,#30123b,#30123b)"></i><i style="flex-basis:2px;background:linear-gradient(#30123b,#30123b,#30123b,#341b51,#3d358b,#4661d6,#3e9bfe,#22c5e2,#1fc9dd,#3aa3fc,#4669e0,#3e3891,#341b51,#30123b,#30123b)"></i><i style="background:linear-gradient(#30123b,#30123b,#321543,#351e58,#3e3891,#4669e0,#3aa3fc,#1bd0d5,#1ad2d2,#33adf7,#4771e9,#3f3b97,#351e58,#321543,#30123b)"></i><i style="background:linear-gradient(#30123b,#30123b,#321543,#351e58,#3f3b97,#476ee6,#35abf8,#19d5cd,#18d9c8,#2eb4f2,#4776ee,#3f3e9c,#36215f,#321543,#30123b)"></i><i style="background:linear-gradient(#30123b,#30123b,#321543,#36215f,#3f3e9c,#4773eb,#2eb4f2,#18ddc2,#18e0bd,#27bee9,#467df4,#4143a7,#36215f,#321543,#30123b)"></i><i style="background:linear-gradient(#30123b,#30123b,#321543,#36215f,#4143a7,#477bf2,#28bceb,#1ae4b6,#1fe9af,#1fc9dd,#4685fa,#4249b1,#372466,#321543,#30123b)"></i><i style="background:linear-gradient(#30123b,#30123b,#321543,#372466,#4146ac,#4682f8,#20c7df,#25eca7,#2cf09e,#19d5cd,#448ffe,#434eba,#38276d,#33184a,#30123b)"></i><i style="background:linear-gradient(#30123b,#30123b,#33184a,#38276d,#424bb5,#458afc,#1ad4d0,#38f491,#46f884,#19e2bb,#3d9efe,#4456c7,#392a73,#33184a,#30123b)"></i><i style="background:linear-gradient(#30123b,#30123b,#33184a,#392a73,#4454c3,#4196ff,#18e0bd,#5dfc6f,#71fe5f,#2aefa1,#31aff5,#4661d6,#3b2f80,#341b51,#30123b)"></i><i style="background:linear-gradient(#30123b,#30123b,#33184a,#3a2d79,#455ccf,#37a8fa,#2aefa1,#92ff47,#a7fc3a,#5dfc6f,#1fc9dd,#4773eb,#3e3891,#351e58,#30123b)"></i><i style="background:linear-gradient(#30123b,#30123b,#341b51,#3c3286,#4669e0,#25c0e7,#61fc6c,#cdec34,#e3db38,#affa37,#1fe9af,#458cfd,#4143a7,#36215f,#30123b)"></i><i style="background:linear-gradient(#30123b,#321543,#351e58,#3f3b97,#467df4,#18dec0,#b7f735,#fea431,#fb8122,#f1cb3a,#55fa76,#3d9efe,#424bb5,#36215f,#30123b)"></i><i style="background:linear-gradient(#30123b,#321543,#372466,#424bb5,#3e9bfe,#4ef97d,#f7c13a,#e4450a,#e2430a,#f7c13a,#3ff68a,#458cfd,#4040a2,#351e58,#30123b)"></i><i style="background:linear-gradient(#30123b,#341b51,#3b2f80,#4661d6,#2cb7f0,#61fc6c,#e3db38,#fcb136,#efcd3a,#8bff4b,#22c5e2,#4661d6,#392a73,#33184a,#30123b)"></i><i style="background:linear-gradient(#30123b,#341b51,#3c3286,#455ed3,#38a5fb,#20eaac,#75fe5c,#80ff53,#2ff19b,#2eb4f2,#4664da,#3b2f80,#33184a,#30123b,#30123b)"></i><i style="background:linear-gradient(#30123b,#341b51,#3b2f80,#4454c3,#4687fb,#28bceb,#19d5cd,#1ecbda,#3d9efe,#4664da,#3c3286,#341b51,#30123b,#30123b,#30123b)"></i><i style="background:linear-gradient(#30123b,#341b51,#3a2d79,#424bb5,#4771e9,#4391fe,#3d9efe,#458cfd,#4666dd,#3f3e9c,#36215f,#321543,#30123b,#30123b,#30123b)"></i><i style="background:linear-gradient(#30123b,#341b51,#392a73,#4040a2,#455ccf,#4771e9,#4771e9,#455ed3,#4143a7,#38276d,#33184a,#30123b,#30123b,#30123b,#30123b)"></i><i style="background:linear-gradient(#30123b,#341b51,#38276d,#3e3891,#4249b1,#4451bf,#424bb5,#3f3e9c,#392a73,#341b51,#321543,#30123b,#30123b,#30123b,#30123b)"></i><i style="background:linear-gradient(#30123b,#33184a,#36215f,#3a2d79,#3d358b,#3d358b,#3b2f80,#38276d,#341b51,#321543,#30123b,#30123b,#30123b,#30123b,#30123b)"></i><i style="background:linear-gradient(#30123b,#321543,#341b51,#36215f,#372466,#372466,#351e58,#33184a,#321543,#30123b,#30123b,#30123b,#30123b,#30123b,#30123b)"></i><i style="background:linear-gradient(#30123b,#321543,#321543,#33184a,#33184a,#33184a,#321543,#321543,#30123b,#30123b,#30123b,#30123b,#30123b,#30123b,#30123b)"></i></div></div>
<div class="p" style="left:239px;top:104px;width:103px;height:32px"><div class="c" style="left:0px;top:4px;height:25px"><i style="flex-basis:3px;background:linear-gradient(#30123b,#30123b,#341b51,#3b2f80,#4456c7,#4682f8,#4196ff,#4685fa,#455ccf,#3c3286,#341b51,#30123b,#30123b)"></i><i style="flex-basis:3px;background:linear-gradient(#30123b,#30123b,#341b51,#3c3286,#455ccf,#4687fb,#3e9bfe,#458cfd,#4661d6,#3d358b,#341b51,#30123b,#30123b)"></i><i style="flex-basis:3px;background:linear-gradient(#30123b,#30123b,#341b51,#3d358b,#4661d6,#448ffe,#38a5fb,#4294ff,#4666dd,#3e3891,#351e58,#30123b,#30123b)"></i><i style="flex-basis:2px;background:linear-gradient(#30123b,#321543,#351e58,#3e3891,#4666dd,#4196ff,#33adf7,#3e9bfe,#466be3,#3f3b97,#351e58,#321543,#30123b)"></i><i style="flex-basis:2px;background:linear-gradient(#30123b,#321543,#351e58,#3f3b97,#466be3,#3d9efe,#2eb4f2,#3aa3fc,#4773eb,#4040a2,#36215f,#321543,#30123b)"></i><i style="flex-basis:2px;background:linear-gradient(#30123b,#321543,#36215f,#4040a2,#4773eb,#38a5fb,#27bee9,#33adf7,#477bf2,#4143a7,#372466,#321543,#30123b)"></i><i style="flex-basis:2px;background:linear-gradient(#30123b,#321543,#372466,#4146ac,#477bf2,#31aff5,#1fc9dd,#2cb7f0,#4682f8,#424bb5,#38276d,#321543,#30123b)"></i><i style="background:linear-gradient(#30123b,#321543,#38276d,#4249b1,#4680f6,#2ab9ee,#1ad2d2,#25c0e7,#458cfd,#4451bf,#392a73,#33184a,#30123b)"></i><i style="background:linear-gradient(#30123b,#33184a,#38276d,#434eba,#4687fb,#25c0e7,#18d7ca,#1fc9dd,#4391fe,#4454c3,#392a73,#33184a,#30123b)"></i><i style="background:linear-gradient(#30123b,#33184a,#392a73,#4451bf,#458cfd,#20c7df,#18dec0,#1ad2d2,#4099ff,#4559cb,#3a2d79,#33184a,#30123b)"></i><i style="background:linear-gradient(#30123b,#33184a,#3a2d79,#4456c7,#4294ff,#1bd0d5,#1ce6b4,#18d9c8,#3aa3fc,#4661d6,#3b2f80,#341b51,#30123b)"></i><i style="background:linear-gradient(#30123b,#33184a,#3a2d79,#4559cb,#3e9bfe,#18d7ca,#22ebaa,#18dec0,#37a8fa,#4664da,#3c3286,#341b51,#30123b)"></i><i style="background:linear-gradient(#30123b,#341b51,#3b2f80,#455ed3,#3ba0fd,#18dec0,#2cf09e,#19e3b9,#35abf8,#4664da,#3c3286,#341b51,#30123b)"></i><i style="background:linear-gradient(#30123b,#341b51,#3b2f80,#4661d6,#35abf8,#1ce6b4,#3ff68a,#1fe9af,#31aff5,#4666dd,#3c3286,#341b51,#30123b)"></i><i style="background:linear-gradient(#30123b,#341b51,#3c3286,#4666dd,#2eb4f2,#2aefa1,#59fb73,#2cf09e,#2eb4f2,#4666dd,#3c3286,#341b51,#30123b)"></i><i style="background:linear-gradient(#30123b,#341b51,#3c3286,#466be3,#23c3e4,#4af880,#88ff4e,#43f787,#28bceb,#4666dd,#3c3286,#33184a,#30123b)"></i><i style="background:linear-gradient(#30123b,#341b51,#3d358b,#4776ee,#18d7ca,#8bff4b,#bcf534,#79fe59,#1ecbda,#466be3,#3b2f80,#33184a,#30123b)"></i><i style="background:linear-gradient(#30123b,#351e58,#4040a2,#448ffe,#35f394,#dbe236,#fbb838,#cbed34,#1fe9af,#4680f6,#3e3891,#341b51,#30123b)"></i><i style="background:linear-gradient(#30123b,#351e58,#4249b1,#38a5fb,#80ff53,#fe9b2d,#eb500e,#fcb136,#59fb73,#4294ff,#4040a2,#341b51,#30123b)"></i><i style="background:linear-gradient(#30123b,#351e58,#4143a7,#38a5fb,#99fe42,#f46617,#c12302,#fb8122,#71fe5f,#4294ff,#3f3b97,#341b51,#30123b)"></i><i style="background:linear-gradient(#30123b,#33184a,#3e3891,#4391fe,#88ff4e,#f26014,#bc2002,#fe992c,#38f491,#4773eb,#392a73,#321543,#30123b)"></i><i style="background:linear-gradient(#30123b,#321543,#3c3286,#448ffe,#8fff49,#f15d13,#dd3d08,#d7e535,#28bceb,#4146ac,#341b51,#30123b,#30123b)"></i><i style="background:linear-gradient(#30123b,#321543,#392a73,#4682f8,#7dff56,#fc8725,#fe9e2f,#43f787,#476ee6,#372466,#30123b,#30123b,#30123b)"></i><i style="background:linear-gradient(#30123b,#30123b,#36215f,#466be3,#32f298,#d9e436,#92ff47,#3ba0fd,#3d358b,#321543,#30123b,#30123b,#30123b)"></i><i style="background:linear-gradient(#30123b,#30123b,#341b51,#4454c3,#1bd0d5,#52fa7a,#22c5e2,#424bb5,#33184a,#30123b,#30123b,#30123b,#30123b)"></i><i style="background:linear-gradient(#30123b,#30123b,#321543,#4143a7,#31aff5,#1bd0d5,#4771e9,#372466,#30123b,#30123b,#30123b,#30123b,#30123b)"></i><i style="background:linear-gradient(#30123b,#30123b,#321543,#3e3891,#448ffe,#458cfd,#3d358b,#321543,#30123b,#30123b,#30123b,#30123b,#30123b)"></i><i style="background:linear-gradient(#30123b,#30123b,#30123b,#3a2d79,#476ee6,#4451bf,#33184a,#30123b,#30123b,#30123b,#30123b,#30123b,#30123b)"></i><i style="background:linear-gradient(#30123b,#30123b,#30123b,#351e58,#3f3b97,#36215f,#30123b,#30123b,#30123b,#30123b,#30123b,#30123b,#30123b)"></i></div></div>
<div class="p" style="left:347px;top:104px;width:104px;height:32px"><div class="c" style="left:22px;top:1px;height:29px"><i style="background:linear-gradient(#30123b,#30123b,#30123b,#30123b,#30123b,#321543,#321543,#33184a,#341b51,#351e58,#341b51,#33184a,#30123b,#30123b,#30123b)"></i><i style="background:linear-gradient(#30123b,#30123b,#30123b,#321543,#33184a,#33184a,#341b51,#351e58,#372466,#392a73,#38276d,#351e58,#321543,#30123b,#30123b)"></i><i style="background:linear-gradient(#30123b,#30123b,#30123b,#321543,#341b51,#36215f,#36215f,#38276d,#3c3286,#3f3b97,#3e3891,#392a73,#341b51,#321543,#30123b)"></i><i style="background:linear-gradient(#30123b,#30123b,#321543,#341b51,#36215f,#38276d,#392a73,#3b2f80,#4143a7,#4456c7,#4451bf,#3f3b97,#372466,#33184a,#30123b)"></i><i style="background:linear-gradient(#30123b,#30123b,#321543,#351e58,#392a73,#3c3286,#3e3891,#4143a7,#4664da,#4680f6,#4778f0,#4456c7,#3c3286,#341b51,#30123b)"></i><i style="background:linear-gradient(#30123b,#30123b,#33184a,#372466,#3c3286,#3f3e9c,#4146ac,#4456c7,#4682f8,#3aa3fc,#4196ff,#4666dd,#3e3891,#351e58,#30123b)"></i><i style="background:linear-gradient(#30123b,#321543,#341b51,#392a73,#4040a2,#4451bf,#4456c7,#4664da,#477bf2,#458afc,#4778f0,#4451bf,#3a2d79,#341b51,#30123b)"></i><i style="background:linear-gradient(#30123b,#33184a,#392a73,#4143a7,#4559cb,#434eba,#33184a,#4666dd,#4771e9,#3f3e9c,#30123b,#33184a,#321543,#30123b,#30123b)"></i><i style="background:linear-gradient(#30123b,#341b51,#3a2d79,#424bb5,#455ccf,#392a73,#4687fb,#3ff68a,#71fe5f,#18dbc5,#4776ee,#3c3286,#33184a,#30123b,#30123b)"></i><i style="background:linear-gradient(#30123b,#341b51,#3a2d79,#4146ac,#4249b1,#3d358b,#19e3b9,#d7e535,#d7e535,#27eea4,#4778f0,#3a2d79,#321543,#30123b,#30123b)"></i><i style="background:linear-gradient(#30123b,#341b51,#3a2d79,#4040a2,#3c3286,#4666dd,#65fd69,#f6c33a,#c1f334,#20c7df,#424bb5,#341b51,#30123b,#30123b,#30123b)"></i><i style="background:linear-gradient(#30123b,#341b51,#392a73,#3f3b97,#392a73,#4773eb,#75fe5c,#dbe236,#46f884,#4778f0,#38276d,#30123b,#30123b,#30123b,#30123b)"></i><i style="background:linear-gradient(#30123b,#341b51,#38276d,#3d358b,#38276d,#4666dd,#27eea4,#4ef97d,#3aa3fc,#3e3891,#321543,#30123b,#30123b,#30123b,#30123b)"></i><i style="background:linear-gradient(#30123b,#33184a,#372466,#3a2d79,#351e58,#4661d6,#1ad4d0,#22c5e2,#4456c7,#33184a,#30123b,#30123b,#30123b,#30123b,#30123b)"></i><i style="background:linear-gradient(#30123b,#33184a,#341b51,#36215f,#321543,#455ed3,#2fb2f4,#467df4,#392a73,#30123b,#30123b,#30123b,#30123b,#30123b,#30123b)"></i><i style="background:linear-gradient(#30123b,#321543,#33184a,#33184a,#30123b,#4454c3,#4687fb,#4143a7,#321543,#30123b,#30123b,#30123b,#30123b,#30123b,#30123b)"></i><i style="background:linear-gradient(#30123b,#30123b,#321543,#321543,#30123b,#4143a7,#4454c3,#351e58,#30123b,#30123b,#30123b,#30123b,#30123b,#30123b,#30123b)"></i><i style="background:linear-gradient(#30123b,#30123b,#30123b,#30123b,#30123b,#36215f,#351e58,#30123b,#30123b,#30123b,#30123b,#30123b,#30123b,#30123b,#30123b)"></i></div></div>
<div class="p" style="left:130px;top:136px;width:104px;height:31px"><div class="c" style="left:0px;top:0px;height:30px"><i style="flex-basis:3px;background:linear-gradient(#30123b,#30123b,#30123b,#321543,#351e58,#3f3b97,#4666dd,#448ffe,#3ba0fd,#448ffe,#4661d6,#3d358b,#351e58,#30123b,#30123b,#30123b)"></i><i style="flex-basis:3px;background:linear-gradient(#30123b,#30123b,#30123b,#321543,#36215f,#3f3e9c,#466be3,#4196ff,#37a8fa,#4294ff,#4666dd,#3e3891,#351e58,#321543,#30123b,#30123b)"></i><i style="flex-basis:3px;background:linear-gradient(#30123b,#30123b,#30123b,#321543,#36215f,#4040a2,#4771e9,#3d9efe,#2fb2f4,#3d9efe,#476ee6,#3f3e9c,#36215f,#321543,#30123b,#30123b)"></i><i style="flex-basis:2px;background:linear-gradient(#30123b,#30123b,#30123b,#321543,#372466,#4146ac,#4776ee,#37a8fa,#28bceb,#38a5fb,#4773eb,#4040a2,#36215f,#321543,#30123b,#30123b)"></i><i style="flex-basis:2px;background:linear-gradient(#30123b,#30123b,#30123b,#321543,#38276d,#4249b1,#467df4,#31aff5,#23c3e4,#33adf7,#477bf2,#4146ac,#372466,#321543,#30123b,#30123b)"></i><i style="flex-basis:2px;background:linear-gradient(#30123b,#30123b,#30123b,#33184a,#392a73,#434eba,#4685fa,#2cb7f0,#1ecbda,#2cb7f0,#4682f8,#424bb5,#38276d,#321543,#30123b,#30123b)"></i><i style="flex-basis:2px;background:linear-gradient(#30123b,#30123b,#30123b,#33184a,#3a2d79,#4454c3,#458cfd,#23c3e4,#19d5cd,#23c3e4,#458cfd,#4451bf,#392a73,#33184a,#30123b,#30123b)"></i><i style="background:linear-gradient(#30123b,#30123b,#30123b,#341b51,#3b2f80,#4559cb,#4294ff,#1ecbda,#18dec0,#1ecbda,#4294ff,#4456c7,#3a2d79,#33184a,#30123b,#30123b)"></i><i style="background:linear-gradient(#30123b,#30123b,#30123b,#341b51,#3b2f80,#455ed3,#3e9bfe,#1ad2d2,#19e3b9,#1ad4d0,#3e9bfe,#455ccf,#3b2f80,#341b51,#30123b,#30123b)"></i><i style="background:linear-gradient(#30123b,#30123b,#30123b,#341b51,#3c3286,#4661d6,#3ba0fd,#18d9c8,#1fe9af,#18dbc5,#3aa3fc,#4661d6,#3c3286,#341b51,#30123b,#30123b)"></i><i style="background:linear-gradient(#30123b,#30123b,#321543,#351e58,#3d358b,#4666dd,#35abf8,#18e0bd,#2aefa1,#19e3b9,#33adf7,#4669e0,#3d358b,#341b51,#30123b,#30123b)"></i><i style="background:linear-gradient(#30123b,#30123b,#321543,#351e58,#3f3b97,#476ee6,#2fb2f4,#1de7b2,#3cf58e,#20eaac,#2ab9ee,#4771e9,#3e3891,#351e58,#321543,#30123b)"></i><i style="background:linear-gradient(#30123b,#30123b,#321543,#36215f,#3f3e9c,#4776ee,#27bee9,#2aefa1,#55fa76,#32f298,#22c5e2,#4778f0,#3f3e9c,#36215f,#321543,#30123b)"></i><i style="background:linear-gradient(#30123b,#30123b,#321543,#372466,#4143a7,#467df4,#1ecbda,#43f787,#75fe5c,#52fa7a,#1ad4d0,#4685fa,#4146ac,#372466,#321543,#30123b)"></i><i style="background:linear-gradient(#30123b,#30123b,#321543,#372466,#4249b1,#458afc,#18d9c8,#69fd66,#9ffd3f,#7dff56,#1ae4b6,#4294ff,#434eba,#38276d,#33184a,#30123b)"></i><i style="background:linear-gradient(#30123b,#30123b,#33184a,#392a73,#4451bf,#4196ff,#1fe9af,#9cfe40,#cbed34,#b4f836,#3ff68a,#33adf7,#455ccf,#3a2d79,#33184a,#30123b)"></i><i style="background:linear-gradient(#30123b,#30123b,#33184a,#3a2d79,#455ccf,#33adf7,#4af880,#d4e735,#faba39,#f1cb3a,#99fe42,#1ad2d2,#4771e9,#3d358b,#341b51,#30123b)"></i><i style="background:linear-gradient(#30123b,#30123b,#341b51,#3d358b,#476ee6,#1ccdd8,#a1fd3d,#fe9b2d,#e7490c,#f46617,#dde037,#1fe9af,#467df4,#3f3b97,#341b51,#30123b)"></i><i style="background:linear-gradient(#30123b,#321543,#36215f,#4143a7,#458afc,#2cf09e,#eecf3a,#d83706,#9e1001,#e14109,#d9e436,#18ddc2,#476ee6,#3c3286,#33184a,#30123b)"></i><i style="background:linear-gradient(#30123b,#33184a,#3a2d79,#4559cb,#37a8fa,#4af880,#e3db38,#fd8a26,#fc8725,#ebd339,#4ef97d,#3d9efe,#4249b1,#36215f,#321543,#30123b)"></i><i style="background:linear-gradient(#30123b,#341b51,#3a2d79,#4456c7,#3e9bfe,#1ce6b4,#84ff51,#affa37,#88ff4e,#1ce6b4,#4196ff,#434eba,#372466,#321543,#30123b,#30123b)"></i><i style="background:linear-gradient(#30123b,#341b51,#3a2d79,#434eba,#4682f8,#28bceb,#18dec0,#19e2bb,#22c5e2,#4687fb,#434eba,#38276d,#33184a,#30123b,#30123b,#30123b)"></i><i style="background:linear-gradient(#30123b,#341b51,#392a73,#4146ac,#476ee6,#4294ff,#35abf8,#3aa3fc,#4682f8,#4456c7,#3b2f80,#341b51,#30123b,#30123b,#30123b,#30123b)"></i><i style="background:linear-gradient(#30123b,#341b51,#392a73,#4040a2,#455ccf,#4773eb,#467df4,#4771e9,#4456c7,#3e3891,#36215f,#321543,#30123b,#30123b,#30123b,#30123b)"></i><i style="background:linear-gradient(#30123b,#341b51,#38276d,#3d358b,#4249b1,#4456c7,#4456c7,#4249b1,#3d358b,#372466,#33184a,#30123b,#30123b,#30123b,#30123b,#30123b)"></i><i style="background:linear-gradient(#30123b,#33184a,#36215f,#3a2d79,#3d358b,#3f3b97,#3e3891,#3a2d79,#36215f,#33184a,#30123b,#30123b,#30123b,#30123b,#30123b,#30123b)"></i><i style="background:linear-gradient(#30123b,#321543,#341b51,#36215f,#372466,#38276d,#372466,#351e58,#33184a,#30123b,#30123b,#30123b,#30123b,#30123b,#30123b,#30123b)"></i><i style="background:linear-gradient(#30123b,#321543,#321543,#33184a,#341b51,#341b51,#33184a,#321543,#30123b,#30123b,#30123b,#30123b,#30123b,#30123b,#30123b,#30123b)"></i></div></div>
<div class="p" style="left:239px;top:136px;width:103px;height:31px"><div class="c" style="left:0px;top:3px;height:25px"><i style="flex-basis:3px;background:linear-gradient(#30123b,#30123b,#33184a,#3b2f80,#4456c7,#4685fa,#3ba0fd,#4196ff,#466be3,#3f3b97,#351e58,#321543,#30123b)"></i><i style="flex-basis:3px;background:linear-gradient(#30123b,#30123b,#341b51,#3b2f80,#455ccf,#458cfd,#37a8fa,#3d9efe,#4771e9,#3f3e9c,#36215f,#321543,#30123b)"></i><i style="flex-basis:3px;background:linear-gradient(#30123b,#30123b,#341b51,#3c3286,#4661d6,#4294ff,#2fb2f4,#38a5fb,#4776ee,#4143a7,#36215f,#321543,#30123b)"></i><i style="flex-basis:2px;background:linear-gradient(#30123b,#30123b,#341b51,#3d358b,#4666dd,#3e9bfe,#28bceb,#31aff5,#467df4,#4249b1,#372466,#321543,#30123b)"></i><i style="flex-basis:2px;background:linear-gradient(#30123b,#321543,#351e58,#3f3b97,#466be3,#3aa3fc,#23c3e4,#2cb7f0,#4685fa,#424bb5,#38276d,#321543,#30123b)"></i><i style="flex-basis:2px;background:linear-gradient(#30123b,#321543,#36215f,#3f3e9c,#4773eb,#33adf7,#1ccdd8,#25c0e7,#448ffe,#4451bf,#392a73,#33184a,#30123b)"></i><i style="flex-basis:2px;background:linear-gradient(#30123b,#321543,#36215f,#4143a7,#477bf2,#2cb7f0,#18d7ca,#1ccdd8,#4099ff,#4559cb,#3a2d79,#33184a,#30123b)"></i><i style="background:linear-gradient(#30123b,#321543,#372466,#4249b1,#4682f8,#25c0e7,#18dec0,#19d5cd,#3aa3fc,#4661d6,#3b2f80,#33184a,#30123b)"></i><i style="background:linear-gradient(#30123b,#321543,#38276d,#424bb5,#4687fb,#20c7df,#1ae4b6,#18ddc2,#35abf8,#4666dd,#3c3286,#341b51,#30123b)"></i><i style="background:linear-gradient(#30123b,#33184a,#38276d,#434eba,#448ffe,#1bd0d5,#20eaac,#19e3b9,#2eb4f2,#466be3,#3d358b,#341b51,#30123b)"></i><i style="background:linear-gradient(#30123b,#33184a,#392a73,#4454c3,#4196ff,#18d7ca,#2cf09e,#20eaac,#27bee9,#4773eb,#3f3b97,#351e58,#30123b)"></i><i style="background:linear-gradient(#30123b,#33184a,#3a2d79,#4456c7,#3e9bfe,#18dec0,#3cf58e,#2aefa1,#23c3e4,#4776ee,#3f3b97,#351e58,#30123b)"></i><i style="background:linear-gradient(#30123b,#33184a,#3a2d79,#455ccf,#3aa3fc,#1ae4b6,#4af880,#32f298,#20c7df,#4778f0,#3f3e9c,#351e58,#30123b)"></i><i style="background:linear-gradient(#30123b,#33184a,#3a2d79,#455ed3,#35abf8,#25eca7,#61fc6c,#43f787,#1ecbda,#4778f0,#3f3e9c,#351e58,#30123b)"></i><i style="background:linear-gradient(#30123b,#33184a,#3b2f80,#4661d6,#2eb4f2,#38f491,#84ff51,#59fb73,#1ad2d2,#477bf2,#3f3e9c,#351e58,#30123b)"></i><i style="background:linear-gradient(#30123b,#33184a,#3b2f80,#4666dd,#23c3e4,#5dfc6f,#a9fb39,#7dff56,#18d7ca,#477bf2,#3f3b97,#351e58,#30123b)"></i><i style="background:linear-gradient(#30123b,#33184a,#3c3286,#4771e9,#18d7ca,#9cfe40,#d9e436,#affa37,#1ae4b6,#4680f6,#3f3b97,#341b51,#30123b)"></i><i style="background:linear-gradient(#30123b,#341b51,#3f3b97,#4687fb,#2ff19b,#e7d739,#fe9029,#f4c73a,#55fa76,#4099ff,#4143a7,#351e58,#30123b)"></i><i style="background:linear-gradient(#30123b,#351e58,#4143a7,#3d9efe,#7dff56,#fc8725,#cc2b04,#f56918,#a7fc3a,#2eb4f2,#434eba,#36215f,#30123b)"></i><i style="background:linear-gradient(#30123b,#341b51,#3f3e9c,#3e9bfe,#92ff47,#ec530f,#880802,#da3907,#b9f635,#2eb4f2,#4249b1,#351e58,#30123b)"></i><i style="background:linear-gradient(#30123b,#321543,#3c3286,#4687fb,#79fe59,#ec530f,#7e0502,#e5470b,#8bff4b,#448ffe,#3d358b,#33184a,#30123b)"></i><i style="background:linear-gradient(#30123b,#321543,#3a2d79,#4682f8,#7dff56,#e84b0c,#a71401,#fdac34,#18e0bd,#4456c7,#351e58,#30123b,#30123b)"></i><i style="background:linear-gradient(#30123b,#30123b,#38276d,#4776ee,#69fd66,#f76f1a,#ef5811,#9cfe40,#458cfd,#3a2d79,#321543,#30123b,#30123b)"></i><i style="background:linear-gradient(#30123b,#30123b,#351e58,#4661d6,#27eea4,#ebd339,#cbed34,#22c5e2,#4143a7,#33184a,#30123b,#30123b,#30123b)"></i><i style="background:linear-gradient(#30123b,#30123b,#33184a,#4249b1,#1fc9dd,#75fe5c,#19e3b9,#4661d6,#351e58,#30123b,#30123b,#30123b,#30123b)"></i><i style="background:linear-gradient(#30123b,#30123b,#321543,#3f3b97,#37a8fa,#18e0bd,#458afc,#3a2d79,#30123b,#30123b,#30123b,#30123b,#30123b)"></i><i style="background:linear-gradient(#30123b,#30123b,#30123b,#3b2f80,#458afc,#3ba0fd,#4146ac,#321543,#30123b,#30123b,#30123b,#30123b,#30123b)"></i><i style="background:linear-gradient(#30123b,#30123b,#30123b,#38276d,#476ee6,#4661d6,#351e58,#30123b,#30123b,#30123b,#30123b,#30123b,#30123b)"></i><i style="background:linear-gradient(#30123b,#30123b,#30123b,#341b51,#3f3e9c,#38276d,#30123b,#30123b,#30123b,#30123b,#30123b,#30123b,#30123b)"></i></div></div>
<div class="p" style="left:347px;top:136px;width:104px;height:31px"><div class="c" style="left:22px;top:0px;height:30px"><i style="background:linear-gradient(#30123b,#30123b,#30123b,#30123b,#30123b,#321543,#321543,#33184a,#33184a,#351e58,#351e58,#341b51,#321543,#30123b,#30123b,#30123b)"></i><i style="background:linear-gradient(#30123b,#30123b,#30123b,#30123b,#321543,#341b51,#341b51,#351e58,#372466,#392a73,#3a2d79,#38276d,#341b51,#321543,#30123b,#30123b)"></i><i style="background:linear-gradient(#30123b,#30123b,#30123b,#321543,#341b51,#36215f,#372466,#38276d,#3b2f80,#3f3e9c,#4040a2,#3d358b,#372466,#33184a,#30123b,#30123b)"></i><i style="background:linear-gradient(#30123b,#30123b,#30123b,#33184a,#36215f,#392a73,#3a2d79,#3c3286,#4040a2,#4456c7,#455ed3,#434eba,#3c3286,#351e58,#321543,#30123b)"></i><i style="background:linear-gradient(#30123b,#30123b,#321543,#351e58,#392a73,#3d358b,#3f3e9c,#4146ac,#455ed3,#4682f8,#448ffe,#4776ee,#424bb5,#392a73,#33184a,#30123b)"></i><i style="background:linear-gradient(#30123b,#30123b,#33184a,#36215f,#3c3286,#4040a2,#424bb5,#4559cb,#467df4,#35abf8,#2eb4f2,#448ffe,#4559cb,#3b2f80,#341b51,#30123b)"></i><i style="background:linear-gradient(#30123b,#30123b,#341b51,#392a73,#4040a2,#4456c7,#4661d6,#466be3,#4682f8,#4099ff,#4294ff,#4771e9,#4146ac,#38276d,#33184a,#30123b)"></i><i style="background:linear-gradient(#30123b,#33184a,#38276d,#4040a2,#455ed3,#4664da,#3c3286,#4249b1,#4776ee,#4456c7,#36215f,#33184a,#341b51,#321543,#30123b,#30123b)"></i><i style="background:linear-gradient(#30123b,#341b51,#392a73,#4249b1,#4664da,#434eba,#434eba,#1ae4b6,#92ff47,#55fa76,#2eb4f2,#4456c7,#372466,#321543,#30123b,#30123b)"></i><i style="background:linear-gradient(#30123b,#341b51,#392a73,#4146ac,#4454c3,#351e58,#33adf7,#bef434,#faba39,#affa37,#23c3e4,#4451bf,#36215f,#30123b,#30123b,#30123b)"></i><i style="background:linear-gradient(#30123b,#341b51,#392a73,#4040a2,#4143a7,#3b2f80,#1ae4b6,#f5c53a,#fcb136,#69fd66,#4687fb,#3b2f80,#321543,#30123b,#30123b,#30123b)"></i><i style="background:linear-gradient(#30123b,#341b51,#392a73,#3f3b97,#3f3b97,#4040a2,#27eea4,#ebd339,#c8ef34,#1ecbda,#4249b1,#33184a,#30123b,#30123b,#30123b,#30123b)"></i><i style="background:linear-gradient(#30123b,#341b51,#38276d,#3d358b,#3d358b,#3f3b97,#18d7ca,#88ff4e,#1ce6b4,#4666dd,#351e58,#30123b,#30123b,#30123b,#30123b,#30123b)"></i><i style="background:linear-gradient(#30123b,#33184a,#36215f,#3a2d79,#392a73,#3f3b97,#25c0e7,#1ce6b4,#448ffe,#3b2f80,#30123b,#30123b,#30123b,#30123b,#30123b,#30123b)"></i><i style="background:linear-gradient(#30123b,#33184a,#341b51,#36215f,#351e58,#3f3e9c,#35abf8,#33adf7,#424bb5,#33184a,#30123b,#30123b,#30123b,#30123b,#30123b,#30123b)"></i><i style="background:linear-gradient(#30123b,#321543,#33184a,#341b51,#321543,#3f3b97,#458cfd,#466be3,#372466,#30123b,#30123b,#30123b,#30123b,#30123b,#30123b,#30123b)"></i><i style="background:linear-gradient(#30123b,#30123b,#321543,#321543,#30123b,#3b2f80,#4661d6,#3d358b,#30123b,#30123b,#30123b,#30123b,#30123b,#30123b,#30123b,#30123b)"></i><i style="background:linear-gradient(#30123b,#30123b,#30123b,#30123b,#30123b,#341b51,#38276d,#321543,#30123b,#30123b,#30123b,#30123b,#30123b,#30123b,#30123b,#30123b)"></i></div></div>
<div class="p" style="left:130px;top:167px;width:104px;height:31px"><div class="c" style="left:0px;top:0px;height:30px"><i style="flex-basis:3px;background:linear-gradient(#30123b,#30123b,#30123b,#30123b,#351e58,#3d358b,#455ed3,#458afc,#3aa3fc,#4294ff,#466be3,#3f3e9c,#36215f,#321543,#30123b,#30123b)"></i><i style="flex-basis:3px;background:linear-gradient(#30123b,#30123b,#30123b,#321543,#351e58,#3e3891,#4664da,#4391fe,#35abf8,#3e9bfe,#4771e9,#4040a2,#36215f,#321543,#30123b,#30123b)"></i><i style="flex-basis:3px;background:linear-gradient(#30123b,#30123b,#30123b,#321543,#351e58,#3f3b97,#4669e0,#4099ff,#2fb2f4,#3aa3fc,#4776ee,#4143a7,#372466,#321543,#30123b,#30123b)"></i><i style="flex-basis:2px;background:linear-gradient(#30123b,#30123b,#30123b,#321543,#36215f,#3f3e9c,#476ee6,#3ba0fd,#28bceb,#33adf7,#467df4,#4249b1,#372466,#321543,#30123b,#30123b)"></i><i style="flex-basis:2px;background:linear-gradient(#30123b,#30123b,#30123b,#321543,#36215f,#4040a2,#4773eb,#37a8fa,#23c3e4,#2eb4f2,#4685fa,#434eba,#38276d,#33184a,#30123b,#30123b)"></i><i style="flex-basis:2px;background:linear-gradient(#30123b,#30123b,#30123b,#321543,#372466,#4146ac,#477bf2,#2fb2f4,#1ecbda,#27bee9,#458cfd,#4454c3,#392a73,#33184a,#30123b,#30123b)"></i><i style="flex-basis:2px;background:linear-gradient(#30123b,#30123b,#30123b,#33184a,#38276d,#424bb5,#4682f8,#28bceb,#19d5cd,#1fc9dd,#4196ff,#455ccf,#3b2f80,#33184a,#30123b,#30123b)"></i><i style="background:linear-gradient(#30123b,#30123b,#30123b,#33184a,#392a73,#4451bf,#458afc,#22c5e2,#18dec0,#1ad4d0,#3ba0fd,#4661d6,#3c3286,#341b51,#30123b,#30123b)"></i><i style="background:linear-gradient(#30123b,#30123b,#30123b,#33184a,#3a2d79,#4454c3,#4391fe,#1ecbda,#19e3b9,#18d9c8,#37a8fa,#4666dd,#3d358b,#341b51,#30123b,#30123b)"></i><i style="background:linear-gradient(#30123b,#30123b,#30123b,#341b51,#3b2f80,#4559cb,#4196ff,#1ad4d0,#20eaac,#18e0bd,#31aff5,#466be3,#3e3891,#351e58,#321543,#30123b)"></i><i style="background:linear-gradient(#30123b,#30123b,#30123b,#341b51,#3b2f80,#455ed3,#3d9efe,#18dbc5,#2aefa1,#1de7b2,#2ab9ee,#4773eb,#3f3b97,#351e58,#321543,#30123b)"></i><i style="background:linear-gradient(#30123b,#30123b,#30123b,#341b51,#3d358b,#4664da,#37a8fa,#19e3b9,#3cf58e,#2aefa1,#22c5e2,#477bf2,#4040a2,#36215f,#321543,#30123b)"></i><i style="background:linear-gradient(#30123b,#30123b,#321543,#351e58,#3e3891,#466be3,#2fb2f4,#22ebaa,#55fa76,#3ff68a,#1ad2d2,#4685fa,#4146ac,#372466,#321543,#30123b)"></i><i style="background:linear-gradient(#30123b,#30123b,#321543,#351e58,#3f3b97,#4773eb,#25c0e7,#35f394,#75fe5c,#5dfc6f,#18e0bd,#4391fe,#434eba,#38276d,#33184a,#30123b)"></i><i style="background:linear-gradient(#30123b,#30123b,#321543,#36215f,#4040a2,#467df4,#1ccdd8,#59fb73,#9ffd3f,#8bff4b,#27eea4,#3aa3fc,#4559cb,#3a2d79,#33184a,#30123b)"></i><i style="background:linear-gradient(#30123b,#30123b,#321543,#372466,#4249b1,#458afc,#18e0bd,#8bff4b,#cbed34,#bef434,#59fb73,#27bee9,#4669e0,#3c3286,#341b51,#30123b)"></i><i style="background:linear-gradient(#30123b,#30123b,#33184a,#392a73,#4454c3,#3d9efe,#32f298,#c6f034,#f9bc39,#f7c13a,#affa37,#18e0bd,#4680f6,#3f3e9c,#351e58,#30123b)"></i><i style="background:linear-gradient(#30123b,#30123b,#33184a,#3b2f80,#4661d6,#27bee9,#88ff4e,#fdae35,#e84b0c,#ed5510,#f1cb3a,#38f491,#448ffe,#4143a7,#351e58,#30123b)"></i><i style="background:linear-gradient(#30123b,#321543,#351e58,#3f3b97,#477bf2,#19e3b9,#dbe236,#e4450a,#9b0f01,#d02f05,#f1cb3a,#25eca7,#467df4,#3e3891,#341b51,#30123b)"></i><i style="background:linear-gradient(#30123b,#33184a,#38276d,#434eba,#4099ff,#2ff19b,#d4e735,#fe9029,#fa7b1f,#f6c33a,#75fe5c,#2fb2f4,#4454c3,#38276d,#321543,#30123b)"></i><i style="background:linear-gradient(#30123b,#33184a,#392a73,#434eba,#448ffe,#18ddc2,#75fe5c,#affa37,#96fe44,#2aefa1,#38a5fb,#4559cb,#392a73,#33184a,#30123b,#30123b)"></i><i style="background:linear-gradient(#30123b,#33184a,#392a73,#4249b1,#4778f0,#2fb2f4,#18ddc2,#1ae4b6,#1ccdd8,#4294ff,#4456c7,#3a2d79,#33184a,#30123b,#30123b,#30123b)"></i><i style="background:linear-gradient(#30123b,#33184a,#38276d,#4040a2,#4666dd,#448ffe,#35abf8,#37a8fa,#458afc,#455ed3,#3d358b,#351e58,#321543,#30123b,#30123b,#30123b)"></i><i style="background:linear-gradient(#30123b,#33184a,#38276d,#3f3b97,#4456c7,#4771e9,#467df4,#4776ee,#455ccf,#3f3b97,#372466,#33184a,#30123b,#30123b,#30123b,#30123b)"></i><i style="background:linear-gradient(#30123b,#33184a,#372466,#3c3286,#4146ac,#4454c3,#4456c7,#424bb5,#3e3891,#38276d,#33184a,#30123b,#30123b,#30123b,#30123b,#30123b)"></i><i style="background:linear-gradient(#30123b,#33184a,#351e58,#392a73,#3d358b,#3f3b97,#3e3891,#3b2f80,#372466,#341b51,#321543,#30123b,#30123b,#30123b,#30123b,#30123b)"></i><i style="background:linear-gradient(#30123b,#321543,#341b51,#36215f,#372466,#38276d,#372466,#351e58,#33184a,#321543,#30123b,#30123b,#30123b,#30123b,#30123b,#30123b)"></i><i style="background:linear-gradient(#30123b,#321543,#321543,#33184a,#341b51,#341b51,#33184a,#321543,#30123b,#30123b,#30123b,#30123b,#30123b,#30123b,#30123b,#30123b)"></i></div></div>
<div class="p" style="left:239px;top:167px;width:103px;height:31px"><div class="c" style="left:0px;top:4px;height:24px"><i style="flex-basis:3px;background:linear-gradient(#30123b,#30123b,#351e58,#3d358b,#455ed3,#458cfd,#3aa3fc,#4294ff,#466be3,#3f3e9c,#36215f,#321543,#30123b)"></i><i style="flex-basis:3px;background:linear-gradient(#30123b,#321543,#351e58,#3e3891,#4664da,#4391fe,#35abf8,#3e9bfe,#4771e9,#4040a2,#36215f,#321543,#30123b)"></i><i style="flex-basis:3px;background:linear-gradient(#30123b,#321543,#351e58,#3f3b97,#4669e0,#3e9bfe,#2eb4f2,#38a5fb,#4778f0,#4146ac,#372466,#321543,#30123b)"></i><i style="flex-basis:2px;background:linear-gradient(#30123b,#321543,#36215f,#3f3e9c,#4771e9,#3aa3fc,#27bee9,#33adf7,#4680f6,#4249b1,#38276d,#321543,#30123b)"></i><i style="flex-basis:2px;background:linear-gradient(#30123b,#321543,#372466,#4143a7,#4776ee,#35abf8,#22c5e2,#2cb7f0,#4685fa,#434eba,#38276d,#33184a,#30123b)"></i><i style="flex-basis:2px;background:linear-gradient(#30123b,#321543,#372466,#4146ac,#467df4,#2eb4f2,#1ccdd8,#25c0e7,#448ffe,#4454c3,#3a2d79,#33184a,#30123b)"></i><i style="flex-basis:2px;background:linear-gradient(#30123b,#33184a,#38276d,#434eba,#4685fa,#27bee9,#18d9c8,#1ecbda,#4099ff,#455ccf,#3b2f80,#341b51,#30123b)"></i><i style="background:linear-gradient(#30123b,#33184a,#392a73,#4451bf,#458cfd,#20c7df,#18e0bd,#19d5cd,#3aa3fc,#4664da,#3c3286,#341b51,#30123b)"></i><i style="background:linear-gradient(#30123b,#33184a,#3a2d79,#4456c7,#4294ff,#1bd0d5,#1ce6b4,#18ddc2,#35abf8,#4669e0,#3d358b,#341b51,#30123b)"></i><i style="background:linear-gradient(#30123b,#341b51,#3b2f80,#455ccf,#4099ff,#19d5cd,#22ebaa,#19e3b9,#2eb4f2,#476ee6,#3f3b97,#351e58,#30123b)"></i><i style="background:linear-gradient(#30123b,#341b51,#3c3286,#4661d6,#3aa3fc,#18dec0,#2ff19b,#20eaac,#27bee9,#4776ee,#3f3e9c,#36215f,#30123b)"></i><i style="background:linear-gradient(#30123b,#341b51,#3d358b,#4664da,#35abf8,#1ae4b6,#3ff68a,#2aefa1,#23c3e4,#4778f0,#4040a2,#36215f,#30123b)"></i><i style="background:linear-gradient(#30123b,#341b51,#3d358b,#4669e0,#2fb2f4,#20eaac,#52fa7a,#32f298,#20c7df,#477bf2,#4040a2,#36215f,#30123b)"></i><i style="background:linear-gradient(#30123b,#351e58,#3e3891,#466be3,#2ab9ee,#2ff19b,#69fd66,#43f787,#1ecbda,#467df4,#4040a2,#36215f,#30123b)"></i><i style="background:linear-gradient(#30123b,#351e58,#3e3891,#4771e9,#22c5e2,#4af880,#88ff4e,#59fb73,#1ad2d2,#4680f6,#4040a2,#36215f,#30123b)"></i><i style="background:linear-gradient(#30123b,#351e58,#3f3b97,#4778f0,#1ad4d0,#75fe5c,#affa37,#80ff53,#18dbc5,#4680f6,#4040a2,#351e58,#30123b)"></i><i style="background:linear-gradient(#30123b,#351e58,#3f3e9c,#4685fa,#1ce6b4,#affa37,#dfdf37,#affa37,#1ce6b4,#4685fa,#3f3e9c,#351e58,#30123b)"></i><i style="background:linear-gradient(#30123b,#36215f,#4249b1,#3ba0fd,#5dfc6f,#f5c53a,#fc8423,#f5c53a,#5dfc6f,#3ba0fd,#4249b1,#36215f,#30123b)"></i><i style="background:linear-gradient(#30123b,#372466,#4454c3,#28bceb,#acfb38,#f46617,#c12302,#f36315,#acfb38,#28bceb,#4456c7,#372466,#30123b)"></i><i style="background:linear-gradient(#30123b,#36215f,#4451bf,#28bceb,#c1f334,#d83706,#7a0403,#d83706,#c1f334,#28bceb,#4451bf,#36215f,#30123b)"></i><i style="background:linear-gradient(#30123b,#341b51,#4040a2,#38a5fb,#affa37,#d43305,#7a0403,#e4450a,#96fe44,#4099ff,#3f3b97,#33184a,#30123b)"></i><i style="background:linear-gradient(#30123b,#33184a,#3f3b97,#3ba0fd,#b7f735,#d23105,#9e1001,#fdac34,#19e3b9,#455ccf,#36215f,#30123b,#30123b)"></i><i style="background:linear-gradient(#30123b,#321543,#3c3286,#4294ff,#a7fc3a,#ea4e0d,#ed5510,#99fe42,#448ffe,#3b2f80,#321543,#30123b,#30123b)"></i><i style="background:linear-gradient(#30123b,#30123b,#38276d,#477bf2,#59fb73,#f5c53a,#c6f034,#23c3e4,#4146ac,#33184a,#30123b,#30123b,#30123b)"></i><i style="background:linear-gradient(#30123b,#30123b,#351e58,#455ed3,#18e0bd,#80ff53,#18dec0,#455ed3,#351e58,#30123b,#30123b,#30123b,#30123b)"></i><i style="background:linear-gradient(#30123b,#30123b,#33184a,#434eba,#27bee9,#18e0bd,#4682f8,#392a73,#30123b,#30123b,#30123b,#30123b,#30123b)"></i><i style="background:linear-gradient(#30123b,#30123b,#321543,#3f3e9c,#3e9bfe,#3e9bfe,#4040a2,#321543,#30123b,#30123b,#30123b,#30123b,#30123b)"></i><i style="background:linear-gradient(#30123b,#30123b,#30123b,#3c3286,#4778f0,#4559cb,#351e58,#30123b,#30123b,#30123b,#30123b,#30123b,#30123b)"></i><i style="background:linear-gradient(#30123b,#30123b,#30123b,#36215f,#4040a2,#372466,#30123b,#30123b,#30123b,#30123b,#30123b,#30123b,#30123b)"></i></div></div>
<div class="p" style="left:347px;top:167px;width:104px;height:31px"><div class="c" style="left:22px;top:0px;height:30px"><i style="background:linear-gradient(#30123b,#30123b,#30123b,#30123b,#30123b,#321543,#321543,#321543,#33184a,#351e58,#351e58,#341b51,#321543,#30123b,#30123b,#30123b)"></i><i style="background:linear-gradient(#30123b,#30123b,#30123b,#30123b,#321543,#33184a,#341b51,#341b51,#36215f,#392a73,#3a2d79,#38276d,#351e58,#321543,#30123b,#30123b)"></i><i style="background:linear-gradient(#30123b,#30123b,#30123b,#321543,#341b51,#351e58,#372466,#372466,#3a2d79,#3f3b97,#4040a2,#3e3891,#38276d,#341b51,#321543,#30123b)"></i><i style="background:linear-gradient(#30123b,#30123b,#30123b,#33184a,#351e58,#38276d,#3a2d79,#3b2f80,#3f3b97,#4454c3,#455ed3,#4451bf,#3e3891,#36215f,#321543,#30123b)"></i><i style="background:linear-gradient(#30123b,#30123b,#321543,#341b51,#38276d,#3c3286,#3f3b97,#4040a2,#4456c7,#477bf2,#448ffe,#477bf2,#4451bf,#3a2d79,#341b51,#30123b)"></i><i style="background:linear-gradient(#30123b,#30123b,#321543,#351e58,#3b2f80,#3f3e9c,#4146ac,#4451bf,#4771e9,#3ba0fd,#2eb4f2,#4196ff,#4661d6,#3d358b,#351e58,#30123b)"></i><i style="background:linear-gradient(#30123b,#30123b,#33184a,#38276d,#3f3b97,#4451bf,#455ccf,#4664da,#4778f0,#4391fe,#4294ff,#4776ee,#424bb5,#392a73,#33184a,#30123b)"></i><i style="background:linear-gradient(#30123b,#33184a,#372466,#3f3b97,#4559cb,#4664da,#3e3891,#4143a7,#467df4,#4669e0,#3a2d79,#321543,#341b51,#321543,#30123b,#30123b)"></i><i style="background:linear-gradient(#30123b,#33184a,#38276d,#4143a7,#4661d6,#4456c7,#3e3891,#18d9c8,#99fe42,#79fe59,#1ecbda,#4666dd,#392a73,#321543,#30123b,#30123b)"></i><i style="background:linear-gradient(#30123b,#33184a,#38276d,#4040a2,#4454c3,#3a2d79,#4391fe,#a9fb39,#fdae35,#d0ea34,#18dbc5,#4661d6,#372466,#321543,#30123b,#30123b)"></i><i style="background:linear-gradient(#30123b,#33184a,#38276d,#3f3e9c,#4146ac,#341b51,#1bd0d5,#ecd13a,#fe992c,#9ffd3f,#3aa3fc,#3f3b97,#33184a,#30123b,#30123b,#30123b)"></i><i style="background:linear-gradient(#30123b,#33184a,#38276d,#3e3891,#4040a2,#392a73,#18ddc2,#e7d739,#e3db38,#19e3b9,#455ccf,#351e58,#30123b,#30123b,#30123b,#30123b)"></i><i style="background:linear-gradient(#30123b,#33184a,#372466,#3c3286,#3e3891,#38276d,#22c5e2,#8bff4b,#35f394,#467df4,#38276d,#30123b,#30123b,#30123b,#30123b,#30123b)"></i><i style="background:linear-gradient(#30123b,#33184a,#36215f,#3a2d79,#3a2d79,#392a73,#31aff5,#22ebaa,#37a8fa,#3f3b97,#321543,#30123b,#30123b,#30123b,#30123b,#30123b)"></i><i style="background:linear-gradient(#30123b,#321543,#341b51,#36215f,#36215f,#3b2f80,#3d9efe,#28bceb,#455ccf,#341b51,#30123b,#30123b,#30123b,#30123b,#30123b,#30123b)"></i><i style="background:linear-gradient(#30123b,#321543,#33184a,#341b51,#33184a,#3b2f80,#4685fa,#477bf2,#3a2d79,#30123b,#30123b,#30123b,#30123b,#30123b,#30123b,#30123b)"></i><i style="background:linear-gradient(#30123b,#30123b,#321543,#321543,#321543,#38276d,#4661d6,#4040a2,#321543,#30123b,#30123b,#30123b,#30123b,#30123b,#30123b,#30123b)"></i><i style="background:linear-gradient(#30123b,#30123b,#30123b,#30123b,#30123b,#33184a,#38276d,#33184a,#30123b,#30123b,#30123b,#30123b,#30123b,#30123b,#30123b,#30123b)"></i></div></div>
<div class="p" style="left:130px;top:198px;width:104px;height:32px"><div class="c" style="left:0px;top:1px;height:29px"><i style="flex-basis:3px;background:linear-gradient(#30123b,#30123b,#30123b,#321543,#38276d,#4249b1,#4778f0,#3e9bfe,#3d9efe,#477bf2,#4249b1,#38276d,#321543,#30123b,#30123b)"></i><i style="flex-basis:3px;background:linear-gradient(#30123b,#30123b,#30123b,#33184a,#38276d,#424bb5,#467df4,#3aa3fc,#38a5fb,#4680f6,#434eba,#38276d,#321543,#30123b,#30123b)"></i><i style="flex-basis:3px;background:linear-gradient(#30123b,#30123b,#30123b,#33184a,#392a73,#4451bf,#4682f8,#35abf8,#33adf7,#4687fb,#4451bf,#392a73,#33184a,#30123b,#30123b)"></i><i style="flex-basis:2px;background:linear-gradient(#30123b,#30123b,#30123b,#33184a,#3a2d79,#4454c3,#458afc,#2eb4f2,#2cb7f0,#448ffe,#4456c7,#3a2d79,#33184a,#30123b,#30123b)"></i><i style="flex-basis:2px;background:linear-gradient(#30123b,#30123b,#30123b,#33184a,#3b2f80,#4559cb,#4391fe,#28bceb,#27bee9,#4196ff,#455ccf,#3b2f80,#33184a,#30123b,#30123b)"></i><i style="flex-basis:2px;background:linear-gradient(#30123b,#30123b,#30123b,#341b51,#3c3286,#455ed3,#4099ff,#22c5e2,#20c7df,#3ba0fd,#4664da,#3c3286,#341b51,#30123b,#30123b)"></i><i style="flex-basis:2px;background:linear-gradient(#30123b,#30123b,#30123b,#341b51,#3d358b,#4666dd,#3aa3fc,#1bd0d5,#1ad2d2,#35abf8,#466be3,#3e3891,#351e58,#30123b,#30123b)"></i><i style="background:linear-gradient(#30123b,#30123b,#321543,#351e58,#3e3891,#466be3,#33adf7,#18d7ca,#18dbc5,#2eb4f2,#4773eb,#3f3b97,#351e58,#321543,#30123b)"></i><i style="background:linear-gradient(#30123b,#30123b,#321543,#351e58,#3f3b97,#4771e9,#2fb2f4,#18dec0,#18e0bd,#28bceb,#4778f0,#4040a2,#36215f,#321543,#30123b)"></i><i style="background:linear-gradient(#30123b,#30123b,#321543,#36215f,#4040a2,#4776ee,#28bceb,#19e3b9,#1de7b2,#22c5e2,#4680f6,#4143a7,#36215f,#321543,#30123b)"></i><i style="background:linear-gradient(#30123b,#30123b,#321543,#36215f,#4143a7,#467df4,#23c3e4,#20eaac,#25eca7,#1ccdd8,#4687fb,#4249b1,#372466,#321543,#30123b)"></i><i style="background:linear-gradient(#30123b,#30123b,#321543,#372466,#4249b1,#4685fa,#1ccdd8,#2cf09e,#35f394,#18d7ca,#4391fe,#434eba,#38276d,#321543,#30123b)"></i><i style="background:linear-gradient(#30123b,#30123b,#321543,#38276d,#424bb5,#458cfd,#18d7ca,#43f787,#4ef97d,#19e3b9,#3e9bfe,#4454c3,#392a73,#33184a,#30123b)"></i><i style="background:linear-gradient(#30123b,#30123b,#33184a,#392a73,#4454c3,#4196ff,#19e2bb,#61fc6c,#71fe5f,#27eea4,#35abf8,#455ed3,#3a2d79,#33184a,#30123b)"></i><i style="background:linear-gradient(#30123b,#30123b,#33184a,#3a2d79,#4559cb,#38a5fb,#25eca7,#8bff4b,#9cfe40,#4af880,#27bee9,#4669e0,#3c3286,#341b51,#30123b)"></i><i style="background:linear-gradient(#30123b,#30123b,#341b51,#3c3286,#4664da,#2cb7f0,#4af880,#b7f735,#c8ef34,#88ff4e,#18d9c8,#477bf2,#3f3b97,#351e58,#30123b)"></i><i style="background:linear-gradient(#30123b,#30123b,#341b51,#3e3891,#4773eb,#1bd0d5,#8fff49,#eecf3a,#fbb838,#d2e935,#35f394,#4196ff,#4249b1,#36215f,#30123b)"></i><i style="background:linear-gradient(#30123b,#321543,#351e58,#4040a2,#4687fb,#22ebaa,#dbe236,#f66c19,#e5470b,#fea431,#80ff53,#33adf7,#4451bf,#372466,#30123b)"></i><i style="background:linear-gradient(#30123b,#321543,#38276d,#4451bf,#35abf8,#7dff56,#fe9029,#b41b01,#b21a01,#fe932a,#65fd69,#4099ff,#4143a7,#351e58,#30123b)"></i><i style="background:linear-gradient(#30123b,#341b51,#3d358b,#466be3,#20c7df,#8fff49,#faba39,#fa7b1f,#fea732,#b1f936,#1ad4d0,#4669e0,#3a2d79,#33184a,#30123b)"></i><i style="background:linear-gradient(#30123b,#351e58,#3d358b,#4666dd,#2eb4f2,#38f491,#9ffd3f,#a7fc3a,#55fa76,#22c5e2,#476ee6,#3c3286,#341b51,#30123b,#30123b)"></i><i style="background:linear-gradient(#30123b,#351e58,#3c3286,#455ccf,#4294ff,#1ecbda,#19e3b9,#18dbc5,#35abf8,#466be3,#3e3891,#341b51,#30123b,#30123b,#30123b)"></i><i style="background:linear-gradient(#30123b,#351e58,#3b2f80,#4451bf,#477bf2,#3d9efe,#35abf8,#4099ff,#476ee6,#4040a2,#372466,#321543,#30123b,#30123b,#30123b)"></i><i style="background:linear-gradient(#30123b,#351e58,#3a2d79,#4146ac,#4664da,#477bf2,#477bf2,#4666dd,#4146ac,#392a73,#33184a,#30123b,#30123b,#30123b,#30123b)"></i><i style="background:linear-gradient(#30123b,#341b51,#392a73,#3f3b97,#434eba,#4456c7,#4454c3,#4040a2,#3a2d79,#351e58,#321543,#30123b,#30123b,#30123b,#30123b)"></i><i style="background:linear-gradient(#30123b,#341b51,#372466,#3b2f80,#3e3891,#3f3b97,#3c3286,#38276d,#351e58,#321543,#30123b,#30123b,#30123b,#30123b,#30123b)"></i><i style="background:linear-gradient(#30123b,#33184a,#341b51,#36215f,#38276d,#372466,#36215f,#341b51,#321543,#30123b,#30123b,#30123b,#30123b,#30123b,#30123b)"></i><i style="background:linear-gradient(#30123b,#321543,#33184a,#33184a,#341b51,#33184a,#33184a,#321543,#30123b,#30123b,#30123b,#30123b,#30123b,#30123b,#30123b)"></i></div></div>
<div class="p" style="left:239px;top:198px;width:103px;height:32px"><div class="c" style="left:0px;top:4px;height:25px"><i style="flex-basis:3px;background:linear-gradient(#30123b,#30123b,#341b51,#3c3286,#455ed3,#458cfd,#3aa3fc,#4391fe,#4664da,#3d358b,#341b51,#30123b,#30123b)"></i><i style="flex-basis:3px;background:linear-gradient(#30123b,#30123b,#341b51,#3d358b,#4664da,#4294ff,#35abf8,#4196ff,#4666dd,#3e3891,#351e58,#30123b,#30123b)"></i><i style="flex-basis:3px;background:linear-gradient(#30123b,#321543,#351e58,#3e3891,#4669e0,#3e9bfe,#2eb4f2,#3ba0fd,#476ee6,#3f3b97,#351e58,#321543,#30123b)"></i><i style="flex-basis:2px;background:linear-gradient(#30123b,#321543,#351e58,#3f3e9c,#476ee6,#3aa3fc,#28bceb,#37a8fa,#4776ee,#4040a2,#36215f,#321543,#30123b)"></i><i style="flex-basis:2px;background:linear-gradient(#30123b,#321543,#36215f,#4040a2,#4776ee,#35abf8,#22c5e2,#2fb2f4,#477bf2,#4143a7,#36215f,#321543,#30123b)"></i><i style="flex-basis:2px;background:linear-gradient(#30123b,#321543,#372466,#4146ac,#477bf2,#2eb4f2,#1ccdd8,#28bceb,#4685fa,#4249b1,#372466,#321543,#30123b)"></i><i style="flex-basis:2px;background:linear-gradient(#30123b,#321543,#38276d,#424bb5,#4685fa,#25c0e7,#18d7ca,#20c7df,#448ffe,#4451bf,#38276d,#321543,#30123b)"></i><i style="background:linear-gradient(#30123b,#33184a,#392a73,#4451bf,#458cfd,#1fc9dd,#18e0bd,#1ad2d2,#4196ff,#4456c7,#392a73,#33184a,#30123b)"></i><i style="background:linear-gradient(#30123b,#33184a,#392a73,#4454c3,#4391fe,#1bd0d5,#1ce6b4,#18d7ca,#3d9efe,#455ccf,#3a2d79,#33184a,#30123b)"></i><i style="background:linear-gradient(#30123b,#33184a,#3a2d79,#4559cb,#4099ff,#18d7ca,#22ebaa,#18dec0,#37a8fa,#4661d6,#3b2f80,#33184a,#30123b)"></i><i style="background:linear-gradient(#30123b,#341b51,#3b2f80,#455ed3,#3ba0fd,#18dec0,#2ff19b,#1ce6b4,#2fb2f4,#4669e0,#3c3286,#341b51,#30123b)"></i><i style="background:linear-gradient(#30123b,#341b51,#3b2f80,#4661d6,#37a8fa,#1ae4b6,#3cf58e,#22ebaa,#2cb7f0,#466be3,#3d358b,#341b51,#30123b)"></i><i style="background:linear-gradient(#30123b,#341b51,#3c3286,#4664da,#31aff5,#20eaac,#4ef97d,#2aefa1,#2ab9ee,#466be3,#3d358b,#341b51,#30123b)"></i><i style="background:linear-gradient(#30123b,#341b51,#3c3286,#4669e0,#2cb7f0,#2ff19b,#61fc6c,#35f394,#27bee9,#476ee6,#3d358b,#341b51,#30123b)"></i><i style="background:linear-gradient(#30123b,#341b51,#3d358b,#466be3,#25c0e7,#43f787,#80ff53,#43f787,#23c3e4,#476ee6,#3d358b,#341b51,#30123b)"></i><i style="background:linear-gradient(#30123b,#341b51,#3d358b,#4771e9,#1ccdd8,#69fd66,#a1fd3d,#5dfc6f,#20c7df,#466be3,#3c3286,#341b51,#30123b)"></i><i style="background:linear-gradient(#30123b,#341b51,#3e3891,#477bf2,#18ddc2,#9cfe40,#c8ef34,#88ff4e,#1bd0d5,#476ee6,#3c3286,#33184a,#30123b)"></i><i style="background:linear-gradient(#30123b,#351e58,#4040a2,#4391fe,#3cf58e,#e1dd37,#fcb136,#d2e935,#22ebaa,#4680f6,#3e3891,#341b51,#30123b)"></i><i style="background:linear-gradient(#30123b,#36215f,#424bb5,#35abf8,#8fff49,#fd8d27,#e4450a,#fea732,#65fd69,#4196ff,#4040a2,#351e58,#30123b)"></i><i style="background:linear-gradient(#30123b,#351e58,#4146ac,#31aff5,#affa37,#e5470b,#9e1001,#f36315,#88ff4e,#4099ff,#3f3e9c,#341b51,#30123b)"></i><i style="background:linear-gradient(#30123b,#33184a,#3f3b97,#3d9efe,#a7fc3a,#da3907,#850702,#f66c19,#52fa7a,#477bf2,#3a2d79,#321543,#30123b)"></i><i style="background:linear-gradient(#30123b,#321543,#3d358b,#4099ff,#b1f936,#d23105,#af1801,#efcd3a,#1fc9dd,#4249b1,#341b51,#30123b,#30123b)"></i><i style="background:linear-gradient(#30123b,#321543,#3a2d79,#4391fe,#acfb38,#e4450a,#f15d13,#71fe5f,#4778f0,#38276d,#30123b,#30123b,#30123b)"></i><i style="background:linear-gradient(#30123b,#30123b,#372466,#477bf2,#75fe5c,#fea933,#d0ea34,#2cb7f0,#3f3b97,#321543,#30123b,#30123b,#30123b)"></i><i style="background:linear-gradient(#30123b,#30123b,#351e58,#455ed3,#1de7b2,#99fe42,#18ddc2,#4456c7,#341b51,#30123b,#30123b,#30123b,#30123b)"></i><i style="background:linear-gradient(#30123b,#30123b,#33184a,#424bb5,#20c7df,#1ce6b4,#4680f6,#38276d,#30123b,#30123b,#30123b,#30123b,#30123b)"></i><i style="background:linear-gradient(#30123b,#30123b,#321543,#3f3e9c,#38a5fb,#3ba0fd,#3f3e9c,#321543,#30123b,#30123b,#30123b,#30123b,#30123b)"></i><i style="background:linear-gradient(#30123b,#30123b,#30123b,#3c3286,#4680f6,#455ed3,#341b51,#30123b,#30123b,#30123b,#30123b,#30123b,#30123b)"></i><i style="background:linear-gradient(#30123b,#30123b,#30123b,#372466,#434eba,#38276d,#30123b,#30123b,#30123b,#30123b,#30123b,#30123b,#30123b)"></i><i style="background:linear-gradient(#30123b,#30123b,#30123b,#321543,#341b51,#30123b,#30123b,#30123b,#30123b,#30123b,#30123b,#30123b,#30123b)"></i></div></div>
<div class="p" style="left:347px;top:198px;width:104px;height:32px"><div class="c" style="left:22px;top:1px;height:29px"><i style="background:linear-gradient(#30123b,#30123b,#30123b,#30123b,#321543,#321543,#321543,#33184a,#341b51,#351e58,#351e58,#33184a,#30123b,#30123b,#30123b)"></i><i style="background:linear-gradient(#30123b,#30123b,#30123b,#321543,#33184a,#341b51,#351e58,#36215f,#38276d,#3a2d79,#392a73,#36215f,#33184a,#30123b,#30123b)"></i><i style="background:linear-gradient(#30123b,#30123b,#30123b,#33184a,#351e58,#372466,#38276d,#3a2d79,#3e3891,#4143a7,#3f3e9c,#3a2d79,#351e58,#321543,#30123b)"></i><i style="background:linear-gradient(#30123b,#30123b,#321543,#341b51,#372466,#3a2d79,#3c3286,#3f3e9c,#4451bf,#4661d6,#455ccf,#4040a2,#38276d,#33184a,#30123b)"></i><i style="background:linear-gradient(#30123b,#30123b,#33184a,#36215f,#3b2f80,#3f3e9c,#4249b1,#455ccf,#477bf2,#4196ff,#458afc,#455ed3,#3d358b,#351e58,#30123b)"></i><i style="background:linear-gradient(#30123b,#30123b,#33184a,#38276d,#3f3e9c,#4451bf,#4664da,#4680f6,#35abf8,#20c7df,#31aff5,#4773eb,#3f3e9c,#36215f,#30123b)"></i><i style="background:linear-gradient(#30123b,#321543,#351e58,#3b2f80,#434eba,#4669e0,#467df4,#4294ff,#33adf7,#2fb2f4,#448ffe,#455ccf,#3c3286,#341b51,#30123b)"></i><i style="background:linear-gradient(#30123b,#341b51,#3a2d79,#424bb5,#4669e0,#4664da,#38276d,#4249b1,#4454c3,#38276d,#351e58,#351e58,#33184a,#30123b,#30123b)"></i><i style="background:linear-gradient(#30123b,#341b51,#3b2f80,#4451bf,#4666dd,#3d358b,#4685fa,#43f787,#7dff56,#18dec0,#4778f0,#3c3286,#33184a,#30123b,#30123b)"></i><i style="background:linear-gradient(#30123b,#351e58,#3b2f80,#424bb5,#434eba,#3d358b,#22ebaa,#eecf3a,#eecf3a,#3cf58e,#467df4,#3b2f80,#321543,#30123b,#30123b)"></i><i style="background:linear-gradient(#30123b,#351e58,#3b2f80,#4143a7,#3e3891,#476ee6,#96fe44,#fe992c,#e1dd37,#19d5cd,#4451bf,#341b51,#30123b,#30123b,#30123b)"></i><i style="background:linear-gradient(#30123b,#351e58,#3a2d79,#4040a2,#392a73,#4685fa,#affa37,#fbb637,#80ff53,#4687fb,#392a73,#30123b,#30123b,#30123b,#30123b)"></i><i style="background:linear-gradient(#30123b,#341b51,#392a73,#3e3891,#372466,#467df4,#71fe5f,#9ffd3f,#25c0e7,#4040a2,#321543,#30123b,#30123b,#30123b,#30123b)"></i><i style="background:linear-gradient(#30123b,#341b51,#372466,#3b2f80,#351e58,#4773eb,#22ebaa,#18ddc2,#4661d6,#341b51,#30123b,#30123b,#30123b,#30123b,#30123b)"></i><i style="background:linear-gradient(#30123b,#33184a,#351e58,#372466,#30123b,#476ee6,#1ecbda,#4391fe,#3a2d79,#30123b,#30123b,#30123b,#30123b,#30123b,#30123b)"></i><i style="background:linear-gradient(#30123b,#321543,#33184a,#341b51,#30123b,#4664da,#3e9bfe,#434eba,#321543,#30123b,#30123b,#30123b,#30123b,#30123b,#30123b)"></i><i style="background:linear-gradient(#30123b,#30123b,#321543,#321543,#321543,#4451bf,#4666dd,#36215f,#30123b,#30123b,#30123b,#30123b,#30123b,#30123b,#30123b)"></i><i style="background:linear-gradient(#30123b,#30123b,#30123b,#30123b,#30123b,#3a2d79,#392a73,#30123b,#30123b,#30123b,#30123b,#30123b,#30123b,#30123b,#30123b)"></i></div></div>
<div class="p" style="left:130px;top:230px;width:104px;height:31px"><div class="c" style="left:0px;top:0px;height:30px"><i style="flex-basis:3px;background:linear-gradient(#30123b,#30123b,#30123b,#321543,#351e58,#3e3891,#4661d6,#458afc,#3e9bfe,#4687fb,#455ed3,#3d358b,#341b51,#30123b,#30123b,#30123b)"></i><i style="flex-basis:3px;background:linear-gradient(#30123b,#30123b,#30123b,#321543,#36215f,#3f3b97,#4666dd,#4391fe,#3ba0fd,#448ffe,#4661d6,#3e3891,#351e58,#30123b,#30123b,#30123b)"></i><i style="flex-basis:3px;background:linear-gradient(#30123b,#30123b,#30123b,#321543,#36215f,#3f3e9c,#466be3,#4099ff,#35abf8,#4196ff,#4669e0,#3f3b97,#351e58,#321543,#30123b,#30123b)"></i><i style="flex-basis:2px;background:linear-gradient(#30123b,#30123b,#30123b,#321543,#372466,#4143a7,#4771e9,#3ba0fd,#2fb2f4,#3d9efe,#476ee6,#3f3e9c,#36215f,#321543,#30123b,#30123b)"></i><i style="flex-basis:2px;background:linear-gradient(#30123b,#30123b,#30123b,#321543,#372466,#4146ac,#4778f0,#37a8fa,#2ab9ee,#38a5fb,#4776ee,#4143a7,#36215f,#321543,#30123b,#30123b)"></i><i style="flex-basis:2px;background:linear-gradient(#30123b,#30123b,#30123b,#33184a,#38276d,#424bb5,#467df4,#31aff5,#23c3e4,#31aff5,#467df4,#4249b1,#372466,#321543,#30123b,#30123b)"></i><i style="flex-basis:2px;background:linear-gradient(#30123b,#30123b,#30123b,#33184a,#392a73,#4451bf,#4687fb,#2ab9ee,#1ccdd8,#2ab9ee,#4685fa,#434eba,#38276d,#33184a,#30123b,#30123b)"></i><i style="background:linear-gradient(#30123b,#30123b,#30123b,#33184a,#3a2d79,#4456c7,#448ffe,#23c3e4,#19d5cd,#22c5e2,#448ffe,#4454c3,#392a73,#33184a,#30123b,#30123b)"></i><i style="background:linear-gradient(#30123b,#30123b,#30123b,#341b51,#3b2f80,#4559cb,#4294ff,#1fc9dd,#18ddc2,#1ecbda,#4294ff,#4559cb,#3a2d79,#33184a,#30123b,#30123b)"></i><i style="background:linear-gradient(#30123b,#30123b,#30123b,#341b51,#3c3286,#455ed3,#3e9bfe,#1ad2d2,#19e3b9,#1ad4d0,#3e9bfe,#455ed3,#3b2f80,#341b51,#30123b,#30123b)"></i><i style="background:linear-gradient(#30123b,#30123b,#321543,#341b51,#3d358b,#4664da,#3aa3fc,#18d9c8,#1fe9af,#18dbc5,#38a5fb,#4664da,#3c3286,#341b51,#30123b,#30123b)"></i><i style="background:linear-gradient(#30123b,#30123b,#321543,#351e58,#3e3891,#4669e0,#35abf8,#18e0bd,#2aefa1,#19e3b9,#31aff5,#466be3,#3e3891,#351e58,#321543,#30123b)"></i><i style="background:linear-gradient(#30123b,#30123b,#321543,#36215f,#3f3b97,#4771e9,#2cb7f0,#1fe9af,#3ff68a,#25eca7,#28bceb,#4773eb,#3f3b97,#351e58,#321543,#30123b)"></i><i style="background:linear-gradient(#30123b,#30123b,#321543,#36215f,#4040a2,#4778f0,#23c3e4,#2ff19b,#5dfc6f,#3cf58e,#1ecbda,#467df4,#4143a7,#36215f,#321543,#30123b)"></i><i style="background:linear-gradient(#30123b,#30123b,#321543,#372466,#4146ac,#4682f8,#1ad2d2,#52fa7a,#88ff4e,#65fd69,#18ddc2,#448ffe,#424bb5,#372466,#321543,#30123b)"></i><i style="background:linear-gradient(#30123b,#30123b,#33184a,#38276d,#434eba,#4391fe,#19e2bb,#84ff51,#b7f735,#9ffd3f,#2cf09e,#38a5fb,#4559cb,#3a2d79,#33184a,#30123b)"></i><i style="background:linear-gradient(#30123b,#30123b,#33184a,#3a2d79,#4559cb,#38a5fb,#38f491,#c1f334,#efcd3a,#e1dd37,#80ff53,#20c7df,#466be3,#3c3286,#341b51,#30123b)"></i><i style="background:linear-gradient(#30123b,#30123b,#341b51,#3c3286,#4669e0,#20c7df,#8fff49,#fbb637,#f46617,#fc8725,#c8ef34,#19e2bb,#4778f0,#3e3891,#341b51,#30123b)"></i><i style="background:linear-gradient(#30123b,#321543,#36215f,#4040a2,#4685fa,#20eaac,#dfdf37,#ea4e0d,#c32503,#f15d13,#c3f134,#1ad4d0,#4669e0,#3b2f80,#33184a,#30123b)"></i><i style="background:linear-gradient(#30123b,#33184a,#392a73,#4454c3,#3ba0fd,#35f394,#d2e935,#fea732,#fea431,#d9e436,#38f491,#4196ff,#4146ac,#36215f,#321543,#30123b)"></i><i style="background:linear-gradient(#30123b,#341b51,#3a2d79,#4454c3,#4294ff,#18dec0,#6dfe62,#99fe42,#6dfe62,#18e0bd,#448ffe,#424bb5,#372466,#321543,#30123b,#30123b)"></i><i style="background:linear-gradient(#30123b,#341b51,#392a73,#424bb5,#477bf2,#2fb2f4,#18d7ca,#18dbc5,#28bceb,#4682f8,#424bb5,#38276d,#33184a,#30123b,#30123b,#30123b)"></i><i style="background:linear-gradient(#30123b,#341b51,#392a73,#4143a7,#4669e0,#458cfd,#3aa3fc,#3e9bfe,#477bf2,#4451bf,#3b2f80,#341b51,#30123b,#30123b,#30123b,#30123b)"></i><i style="background:linear-gradient(#30123b,#341b51,#38276d,#3f3e9c,#4559cb,#4771e9,#4778f0,#466be3,#4451bf,#3d358b,#36215f,#321543,#30123b,#30123b,#30123b,#30123b)"></i><i style="background:linear-gradient(#30123b,#341b51,#372466,#3d358b,#4146ac,#4451bf,#4454c3,#4146ac,#3c3286,#36215f,#33184a,#30123b,#30123b,#30123b,#30123b,#30123b)"></i><i style="background:linear-gradient(#30123b,#33184a,#36215f,#392a73,#3c3286,#3e3891,#3d358b,#3a2d79,#36215f,#33184a,#30123b,#30123b,#30123b,#30123b,#30123b,#30123b)"></i><i style="background:linear-gradient(#30123b,#321543,#341b51,#36215f,#372466,#372466,#36215f,#341b51,#33184a,#30123b,#30123b,#30123b,#30123b,#30123b,#30123b,#30123b)"></i><i style="background:linear-gradient(#30123b,#321543,#321543,#33184a,#341b51,#33184a,#33184a,#321543,#30123b,#30123b,#30123b,#30123b,#30123b,#30123b,#30123b,#30123b)"></i></div></div>
<div class="p" style="left:239px;top:230px;width:103px;height:31px"><div class="c" style="left:0px;top:4px;height:24px"><i style="flex-basis:3px;background:linear-gradient(#30123b,#321543,#351e58,#3e3891,#4661d6,#458afc,#3e9bfe,#4687fb,#455ed3,#3d358b,#341b51,#30123b,#30123b)"></i><i style="flex-basis:3px;background:linear-gradient(#30123b,#321543,#36215f,#3f3b97,#4666dd,#4391fe,#3aa3fc,#448ffe,#4664da,#3e3891,#351e58,#30123b,#30123b)"></i><i style="flex-basis:3px;background:linear-gradient(#30123b,#321543,#36215f,#3f3e9c,#466be3,#4099ff,#35abf8,#4196ff,#4669e0,#3f3b97,#351e58,#321543,#30123b)"></i><i style="flex-basis:2px;background:linear-gradient(#30123b,#321543,#372466,#4143a7,#4773eb,#3ba0fd,#2eb4f2,#3ba0fd,#4771e9,#4040a2,#36215f,#321543,#30123b)"></i><i style="flex-basis:2px;background:linear-gradient(#30123b,#321543,#38276d,#4146ac,#4778f0,#37a8fa,#28bceb,#37a8fa,#4776ee,#4143a7,#372466,#321543,#30123b)"></i><i style="flex-basis:2px;background:linear-gradient(#30123b,#33184a,#38276d,#424bb5,#4680f6,#2fb2f4,#22c5e2,#2fb2f4,#467df4,#4249b1,#372466,#321543,#30123b)"></i><i style="flex-basis:2px;background:linear-gradient(#30123b,#33184a,#392a73,#4451bf,#4687fb,#28bceb,#1bd0d5,#28bceb,#4687fb,#434eba,#392a73,#33184a,#30123b)"></i><i style="background:linear-gradient(#30123b,#341b51,#3a2d79,#4456c7,#4391fe,#22c5e2,#18d9c8,#20c7df,#4391fe,#4456c7,#3a2d79,#33184a,#30123b)"></i><i style="background:linear-gradient(#30123b,#341b51,#3b2f80,#455ccf,#4196ff,#1ccdd8,#18dec0,#1ccdd8,#4196ff,#4559cb,#3b2f80,#33184a,#30123b)"></i><i style="background:linear-gradient(#30123b,#341b51,#3c3286,#4661d6,#3d9efe,#1ad4d0,#1ae4b6,#19d5cd,#3ba0fd,#455ed3,#3c3286,#341b51,#30123b)"></i><i style="background:linear-gradient(#30123b,#351e58,#3d358b,#4666dd,#38a5fb,#18dbc5,#22ebaa,#18dec0,#35abf8,#4666dd,#3d358b,#341b51,#30123b)"></i><i style="background:linear-gradient(#30123b,#351e58,#3e3891,#4669e0,#33adf7,#19e2bb,#2cf09e,#19e3b9,#33adf7,#4669e0,#3d358b,#351e58,#30123b)"></i><i style="background:linear-gradient(#30123b,#351e58,#3e3891,#476ee6,#2eb4f2,#1de7b2,#38f491,#1de7b2,#2fb2f4,#4669e0,#3d358b,#351e58,#30123b)"></i><i style="background:linear-gradient(#30123b,#351e58,#3f3b97,#4771e9,#28bceb,#27eea4,#46f884,#22ebaa,#2eb4f2,#466be3,#3d358b,#351e58,#30123b)"></i><i style="background:linear-gradient(#30123b,#351e58,#3f3b97,#4776ee,#23c3e4,#35f394,#5dfc6f,#2aefa1,#2cb7f0,#466be3,#3d358b,#341b51,#30123b)"></i><i style="background:linear-gradient(#30123b,#351e58,#3f3e9c,#4778f0,#1ecbda,#4ef97d,#79fe59,#35f394,#2ab9ee,#4669e0,#3c3286,#341b51,#30123b)"></i><i style="background:linear-gradient(#30123b,#351e58,#3f3e9c,#4680f6,#18d9c8,#75fe5c,#9cfe40,#4ef97d,#28bceb,#4666dd,#3b2f80,#33184a,#30123b)"></i><i style="background:linear-gradient(#30123b,#36215f,#4146ac,#4294ff,#2aefa1,#b7f735,#d9e436,#96fe44,#18d7ca,#4776ee,#3d358b,#341b51,#30123b)"></i><i style="background:linear-gradient(#30123b,#372466,#4451bf,#33adf7,#71fe5f,#f5c53a,#fe9b2d,#dbe236,#2cf09e,#458afc,#3f3e9c,#351e58,#30123b)"></i><i style="background:linear-gradient(#30123b,#372466,#4451bf,#2ab9ee,#a7fc3a,#f9751d,#df3f08,#fdac34,#52fa7a,#448ffe,#3f3e9c,#341b51,#30123b)"></i><i style="background:linear-gradient(#30123b,#351e58,#4146ac,#31aff5,#b4f836,#e84b0c,#be2102,#fea431,#35f394,#4778f0,#3b2f80,#321543,#30123b)"></i><i style="background:linear-gradient(#30123b,#341b51,#4143a7,#2fb2f4,#c6f034,#dd3d08,#d63506,#d7e535,#25c0e7,#4249b1,#341b51,#30123b,#30123b)"></i><i style="background:linear-gradient(#30123b,#33184a,#3f3b97,#33adf7,#cbed34,#e5470b,#fb7e21,#59fb73,#4776ee,#38276d,#321543,#30123b,#30123b)"></i><i style="background:linear-gradient(#30123b,#321543,#3c3286,#3d9efe,#b1f936,#fe9029,#cbed34,#2eb4f2,#3f3b97,#33184a,#30123b,#30123b,#30123b)"></i><i style="background:linear-gradient(#30123b,#30123b,#38276d,#4680f6,#52fa7a,#affa37,#18dec0,#4456c7,#341b51,#30123b,#30123b,#30123b,#30123b)"></i><i style="background:linear-gradient(#30123b,#30123b,#351e58,#4666dd,#18dec0,#1de7b2,#477bf2,#372466,#30123b,#30123b,#30123b,#30123b,#30123b)"></i><i style="background:linear-gradient(#30123b,#30123b,#33184a,#4454c3,#2ab9ee,#3d9efe,#3e3891,#321543,#30123b,#30123b,#30123b,#30123b,#30123b)"></i><i style="background:linear-gradient(#30123b,#30123b,#321543,#4146ac,#448ffe,#4559cb,#341b51,#30123b,#30123b,#30123b,#30123b,#30123b,#30123b)"></i><i style="background:linear-gradient(#30123b,#30123b,#30123b,#3e3891,#4661d6,#38276d,#30123b,#30123b,#30123b,#30123b,#30123b,#30123b,#30123b)"></i><i style="background:linear-gradient(#30123b,#30123b,#30123b,#341b51,#38276d,#30123b,#30123b,#30123b,#30123b,#30123b,#30123b,#30123b,#30123b)"></i></div></div>
<div class="p" style="left:347px;top:230px;width:104px;height:31px"><div class="c" style="left:22px;top:0px;height:30px"><i style="background:linear-gradient(#30123b,#30123b,#30123b,#30123b,#30123b,#321543,#321543,#33184a,#341b51,#351e58,#351e58,#341b51,#321543,#30123b,#30123b,#30123b)"></i><i style="background:linear-gradient(#30123b,#30123b,#30123b,#30123b,#321543,#341b51,#351e58,#351e58,#372466,#3a2d79,#3a2d79,#372466,#341b51,#321543,#30123b,#30123b)"></i><i style="background:linear-gradient(#30123b,#30123b,#30123b,#321543,#341b51,#36215f,#38276d,#392a73,#3d358b,#4040a2,#4143a7,#3d358b,#372466,#33184a,#30123b,#30123b)"></i><i style="background:linear-gradient(#30123b,#30123b,#30123b,#33184a,#36215f,#3a2d79,#3d358b,#3f3e9c,#424bb5,#455ed3,#4661d6,#434eba,#3c3286,#351e58,#321543,#30123b)"></i><i style="background:linear-gradient(#30123b,#30123b,#321543,#351e58,#3a2d79,#3f3e9c,#424bb5,#455ccf,#4776ee,#4391fe,#4196ff,#4776ee,#4249b1,#392a73,#33184a,#30123b)"></i><i style="background:linear-gradient(#30123b,#30123b,#33184a,#372466,#3e3891,#4451bf,#466be3,#4687fb,#33adf7,#1ecbda,#20c7df,#4196ff,#4559cb,#3b2f80,#341b51,#30123b)"></i><i style="background:linear-gradient(#30123b,#30123b,#341b51,#392a73,#4249b1,#466be3,#458cfd,#33adf7,#22c5e2,#1ccdd8,#2eb4f2,#467df4,#4249b1,#38276d,#33184a,#30123b)"></i><i style="background:linear-gradient(#30123b,#33184a,#38276d,#4040a2,#4664da,#4776ee,#4661d6,#38276d,#36215f,#30123b,#3a2d79,#3a2d79,#36215f,#33184a,#30123b,#30123b)"></i><i style="background:linear-gradient(#30123b,#33184a,#392a73,#4146ac,#4664da,#4456c7,#3c3286,#25c0e7,#3cf58e,#1de7b2,#4099ff,#4249b1,#36215f,#30123b,#30123b,#30123b)"></i><i style="background:linear-gradient(#30123b,#341b51,#392a73,#4143a7,#4451bf,#351e58,#3ba0fd,#a4fc3c,#ebd339,#92ff47,#2cb7f0,#424bb5,#351e58,#30123b,#30123b,#30123b)"></i><i style="background:linear-gradient(#30123b,#341b51,#38276d,#3f3e9c,#4040a2,#3c3286,#19e3b9,#efcd3a,#f9bc39,#59fb73,#4685fa,#3b2f80,#321543,#30123b,#30123b,#30123b)"></i><i style="background:linear-gradient(#30123b,#341b51,#38276d,#3e3891,#3d358b,#424bb5,#3ff68a,#f8be39,#d9e436,#1ad2d2,#424bb5,#33184a,#30123b,#30123b,#30123b,#30123b)"></i><i style="background:linear-gradient(#30123b,#341b51,#372466,#3c3286,#3a2d79,#4454c3,#38f491,#d2e935,#52fa7a,#4778f0,#372466,#30123b,#30123b,#30123b,#30123b,#30123b)"></i><i style="background:linear-gradient(#30123b,#33184a,#36215f,#392a73,#38276d,#424bb5,#18dbc5,#43f787,#3aa3fc,#3d358b,#30123b,#30123b,#30123b,#30123b,#30123b,#30123b)"></i><i style="background:linear-gradient(#30123b,#321543,#341b51,#36215f,#341b51,#4249b1,#23c3e4,#22c5e2,#4456c7,#33184a,#30123b,#30123b,#30123b,#30123b,#30123b,#30123b)"></i><i style="background:linear-gradient(#30123b,#321543,#33184a,#341b51,#321543,#4146ac,#3aa3fc,#477bf2,#38276d,#30123b,#30123b,#30123b,#30123b,#30123b,#30123b,#30123b)"></i><i style="background:linear-gradient(#30123b,#30123b,#321543,#321543,#30123b,#3f3e9c,#467df4,#4040a2,#321543,#30123b,#30123b,#30123b,#30123b,#30123b,#30123b,#30123b)"></i><i style="background:linear-gradient(#30123b,#30123b,#30123b,#30123b,#30123b,#3a2d79,#4146ac,#341b51,#30123b,#30123b,#30123b,#30123b,#30123b,#30123b,#30123b,#30123b)"></i><i style="background:linear-gradient(#30123b,#30123b,#30123b,#30123b,#30123b,#321543,#341b51,#30123b,#30123b,#30123b,#30123b,#30123b,#30123b,#30123b,#30123b,#30123b)"></i></div></div>
<div class="p" style="left:130px;top:261px;width:104px;height:31px"><div class="c" style="left:0px;top:1px;height:29px"><i style="flex-basis:3px;background:linear-gradient(#30123b,#30123b,#30123b,#321543,#372466,#4040a2,#4669e0,#4680f6,#467df4,#455ed3,#3e3891,#351e58,#321543,#30123b,#30123b)"></i><i style="flex-basis:3px;background:linear-gradient(#30123b,#30123b,#30123b,#33184a,#38276d,#4146ac,#466be3,#4687fb,#4682f8,#4661d6,#3f3b97,#351e58,#321543,#30123b,#30123b)"></i><i style="flex-basis:3px;background:linear-gradient(#30123b,#30123b,#30123b,#33184a,#38276d,#4249b1,#4773eb,#458cfd,#458afc,#4669e0,#3f3e9c,#36215f,#321543,#30123b,#30123b)"></i><i style="flex-basis:3px;background:linear-gradient(#30123b,#30123b,#30123b,#33184a,#392a73,#434eba,#4778f0,#4196ff,#4391fe,#476ee6,#4143a7,#372466,#321543,#30123b,#30123b)"></i><i style="flex-basis:2px;background:linear-gradient(#30123b,#30123b,#30123b,#341b51,#3a2d79,#4454c3,#4680f6,#3d9efe,#3e9bfe,#4776ee,#4249b1,#38276d,#321543,#30123b,#30123b)"></i><i style="flex-basis:2px;background:linear-gradient(#30123b,#30123b,#30123b,#341b51,#3b2f80,#4559cb,#4687fb,#37a8fa,#3aa3fc,#467df4,#434eba,#392a73,#33184a,#30123b,#30123b)"></i><i style="flex-basis:2px;background:linear-gradient(#30123b,#30123b,#30123b,#351e58,#3d358b,#455ed3,#4391fe,#2fb2f4,#33adf7,#4687fb,#4454c3,#3a2d79,#33184a,#30123b,#30123b)"></i><i style="background:linear-gradient(#30123b,#30123b,#321543,#351e58,#3e3891,#4666dd,#4099ff,#28bceb,#2cb7f0,#448ffe,#4559cb,#3b2f80,#341b51,#30123b,#30123b)"></i><i style="background:linear-gradient(#30123b,#30123b,#321543,#36215f,#3f3b97,#4669e0,#3d9efe,#23c3e4,#27bee9,#4196ff,#455ed3,#3c3286,#341b51,#30123b,#30123b)"></i><i style="background:linear-gradient(#30123b,#30123b,#321543,#36215f,#3f3e9c,#476ee6,#38a5fb,#1fc9dd,#20c7df,#3d9efe,#4666dd,#3d358b,#351e58,#30123b,#30123b)"></i><i style="background:linear-gradient(#30123b,#30123b,#321543,#372466,#4143a7,#4776ee,#31aff5,#1ad4d0,#1ad2d2,#37a8fa,#466be3,#3f3b97,#351e58,#321543,#30123b)"></i><i style="background:linear-gradient(#30123b,#30123b,#321543,#372466,#4146ac,#467df4,#2ab9ee,#18ddc2,#18dbc5,#2eb4f2,#4776ee,#3f3e9c,#36215f,#321543,#30123b)"></i><i style="background:linear-gradient(#30123b,#30123b,#33184a,#38276d,#424bb5,#4685fa,#22c5e2,#1ce6b4,#1ce6b4,#23c3e4,#4680f6,#4146ac,#372466,#321543,#30123b)"></i><i style="background:linear-gradient(#30123b,#30123b,#33184a,#392a73,#4454c3,#4391fe,#1ad4d0,#2ff19b,#2ff19b,#1ad4d0,#448ffe,#434eba,#38276d,#33184a,#30123b)"></i><i style="background:linear-gradient(#30123b,#30123b,#341b51,#3b2f80,#455ccf,#3ba0fd,#1ae4b6,#59fb73,#61fc6c,#1fe9af,#38a5fb,#455ccf,#3a2d79,#33184a,#30123b)"></i><i style="background:linear-gradient(#30123b,#30123b,#341b51,#3d358b,#4669e0,#2cb7f0,#3cf58e,#a1fd3d,#acfb38,#5dfc6f,#22c5e2,#476ee6,#3d358b,#341b51,#30123b)"></i><i style="background:linear-gradient(#30123b,#321543,#351e58,#3f3e9c,#477bf2,#18d7ca,#96fe44,#e9d539,#f1cb3a,#affa37,#18e0bd,#467df4,#3f3b97,#351e58,#30123b)"></i><i style="background:linear-gradient(#30123b,#321543,#372466,#424bb5,#4099ff,#38f491,#dfdf37,#fe9029,#fea431,#b4f836,#19d5cd,#476ee6,#3c3286,#33184a,#30123b)"></i><i style="background:linear-gradient(#30123b,#341b51,#3c3286,#4661d6,#31aff5,#43f787,#b9f635,#d9e436,#b4f836,#2ff19b,#3e9bfe,#424bb5,#372466,#321543,#30123b)"></i><i style="background:linear-gradient(#30123b,#341b51,#3c3286,#455ed3,#3d9efe,#18ddc2,#3cf58e,#38f491,#18d7ca,#4391fe,#4451bf,#38276d,#321543,#30123b,#30123b)"></i><i style="background:linear-gradient(#30123b,#341b51,#3b2f80,#4451bf,#4680f6,#35abf8,#27bee9,#31aff5,#4682f8,#434eba,#392a73,#33184a,#30123b,#30123b,#30123b)"></i><i style="background:linear-gradient(#30123b,#341b51,#3a2d79,#4249b1,#4669e0,#4685fa,#458afc,#4776ee,#4454c3,#3c3286,#341b51,#30123b,#30123b,#30123b,#30123b)"></i><i style="background:linear-gradient(#30123b,#341b51,#392a73,#3f3e9c,#4456c7,#4664da,#4664da,#4451bf,#3e3891,#36215f,#321543,#30123b,#30123b,#30123b,#30123b)"></i><i style="background:linear-gradient(#30123b,#341b51,#38276d,#3d358b,#4143a7,#4249b1,#4143a7,#3d358b,#372466,#33184a,#30123b,#30123b,#30123b,#30123b,#30123b)"></i><i style="background:linear-gradient(#30123b,#33184a,#36215f,#392a73,#3b2f80,#3b2f80,#392a73,#36215f,#33184a,#321543,#30123b,#30123b,#30123b,#30123b,#30123b)"></i><i style="background:linear-gradient(#30123b,#321543,#341b51,#351e58,#36215f,#36215f,#341b51,#33184a,#321543,#30123b,#30123b,#30123b,#30123b,#30123b,#30123b)"></i><i style="background:linear-gradient(#30123b,#321543,#321543,#33184a,#33184a,#33184a,#321543,#30123b,#30123b,#30123b,#30123b,#30123b,#30123b,#30123b,#30123b)"></i></div></div>
<div class="p" style="left:239px;top:261px;width:103px;height:31px"><div class="c" style="left:0px;top:4px;height:24px"><i style="flex-basis:3px;background:linear-gradient(#30123b,#30123b,#341b51,#3a2d79,#434eba,#4771e9,#4682f8,#4778f0,#4456c7,#3c3286,#341b51,#30123b,#30123b)"></i><i style="flex-basis:3px;background:linear-gradient(#30123b,#30123b,#341b51,#3b2f80,#4451bf,#4776ee,#458afc,#467df4,#455ccf,#3d358b,#351e58,#321543,#30123b)"></i><i style="flex-basis:3px;background:linear-gradient(#30123b,#30123b,#341b51,#3c3286,#4456c7,#467df4,#4391fe,#4685fa,#4661d6,#3e3891,#351e58,#321543,#30123b)"></i><i style="flex-basis:3px;background:linear-gradient(#30123b,#321543,#351e58,#3d358b,#455ccf,#4685fa,#4099ff,#458cfd,#4669e0,#3f3e9c,#36215f,#321543,#30123b)"></i><i style="flex-basis:2px;background:linear-gradient(#30123b,#321543,#36215f,#3e3891,#4664da,#458cfd,#3aa3fc,#4196ff,#4771e9,#4143a7,#372466,#321543,#30123b)"></i><i style="flex-basis:2px;background:linear-gradient(#30123b,#321543,#36215f,#3f3e9c,#4669e0,#4294ff,#35abf8,#3ba0fd,#4778f0,#4249b1,#38276d,#33184a,#30123b)"></i><i style="flex-basis:2px;background:linear-gradient(#30123b,#321543,#372466,#4143a7,#4771e9,#3d9efe,#2cb7f0,#35abf8,#4680f6,#434eba,#392a73,#33184a,#30123b)"></i><i style="background:linear-gradient(#30123b,#33184a,#38276d,#4146ac,#4778f0,#37a8fa,#25c0e7,#2eb4f2,#458afc,#4456c7,#3a2d79,#341b51,#30123b)"></i><i style="background:linear-gradient(#30123b,#33184a,#392a73,#424bb5,#467df4,#31aff5,#20c7df,#27bee9,#4391fe,#4559cb,#3b2f80,#341b51,#30123b)"></i><i style="background:linear-gradient(#30123b,#33184a,#392a73,#434eba,#4682f8,#2cb7f0,#1bd0d5,#22c5e2,#4099ff,#4661d6,#3c3286,#341b51,#30123b)"></i><i style="background:linear-gradient(#30123b,#33184a,#3a2d79,#4451bf,#4687fb,#27bee9,#19d5cd,#1ecbda,#3e9bfe,#4661d6,#3d358b,#351e58,#30123b)"></i><i style="background:linear-gradient(#30123b,#341b51,#3a2d79,#4454c3,#458cfd,#22c5e2,#18ddc2,#1bd0d5,#3ba0fd,#4664da,#3d358b,#351e58,#30123b)"></i><i style="background:linear-gradient(#30123b,#341b51,#3a2d79,#4456c7,#4294ff,#1ccdd8,#19e2bb,#19d5cd,#3aa3fc,#4664da,#3d358b,#351e58,#30123b)"></i><i style="background:linear-gradient(#30123b,#341b51,#3b2f80,#4559cb,#4099ff,#1ad4d0,#1fe9af,#18dbc5,#38a5fb,#4664da,#3d358b,#341b51,#30123b)"></i><i style="background:linear-gradient(#30123b,#33184a,#3b2f80,#455ccf,#3d9efe,#18ddc2,#27eea4,#18e0bd,#38a5fb,#4661d6,#3c3286,#341b51,#30123b)"></i><i style="background:linear-gradient(#30123b,#33184a,#3b2f80,#455ed3,#37a8fa,#1ce6b4,#3cf58e,#1ce6b4,#37a8fa,#455ed3,#3b2f80,#33184a,#30123b)"></i><i style="background:linear-gradient(#30123b,#341b51,#3c3286,#4669e0,#28bceb,#38f491,#6dfe62,#35f394,#28bceb,#4669e0,#3c3286,#341b51,#30123b)"></i><i style="background:linear-gradient(#30123b,#341b51,#3f3b97,#4778f0,#19d5cd,#80ff53,#b7f735,#80ff53,#19d5cd,#4778f0,#3f3b97,#341b51,#30123b)"></i><i style="background:linear-gradient(#30123b,#341b51,#3f3b97,#4682f8,#1fe9af,#c3f134,#f2c93a,#c3f134,#1fe9af,#4682f8,#3f3b97,#341b51,#30123b)"></i><i style="background:linear-gradient(#30123b,#33184a,#3d358b,#4680f6,#35f394,#efcd3a,#fc8725,#e3db38,#20eaac,#4776ee,#3b2f80,#33184a,#30123b)"></i><i style="background:linear-gradient(#30123b,#321543,#3c3286,#4687fb,#5dfc6f,#fea732,#f9781e,#c3f134,#25c0e7,#434eba,#351e58,#30123b,#30123b)"></i><i style="background:linear-gradient(#30123b,#321543,#3a2d79,#4685fa,#71fe5f,#fe9b2d,#fea431,#59fb73,#467df4,#3a2d79,#321543,#30123b,#30123b)"></i><i style="background:linear-gradient(#30123b,#30123b,#392a73,#4680f6,#71fe5f,#fcb136,#d4e735,#20c7df,#4146ac,#33184a,#30123b,#30123b,#30123b)"></i><i style="background:linear-gradient(#30123b,#30123b,#36215f,#4771e9,#43f787,#cdec34,#3cf58e,#476ee6,#36215f,#30123b,#30123b,#30123b,#30123b)"></i><i style="background:linear-gradient(#30123b,#30123b,#341b51,#4559cb,#18d9c8,#35f394,#4196ff,#3b2f80,#30123b,#30123b,#30123b,#30123b,#30123b)"></i><i style="background:linear-gradient(#30123b,#30123b,#321543,#4249b1,#2cb7f0,#2cb7f0,#4249b1,#33184a,#30123b,#30123b,#30123b,#30123b,#30123b)"></i><i style="background:linear-gradient(#30123b,#30123b,#30123b,#3f3b97,#4294ff,#476ee6,#36215f,#30123b,#30123b,#30123b,#30123b,#30123b,#30123b)"></i><i style="background:linear-gradient(#30123b,#30123b,#30123b,#3c3286,#4771e9,#3d358b,#30123b,#30123b,#30123b,#30123b,#30123b,#30123b,#30123b)"></i><i style="background:linear-gradient(#30123b,#30123b,#30123b,#36215f,#4146ac,#341b51,#30123b,#30123b,#30123b,#30123b,#30123b,#30123b,#30123b)"></i><i style="background:linear-gradient(#30123b,#30123b,#30123b,#321543,#341b51,#30123b,#30123b,#30123b,#30123b,#30123b,#30123b,#30123b,#30123b)"></i></div></div>
<div class="p" style="left:347px;top:261px;width:104px;height:31px"><div class="c" style="left:22px;top:1px;height:29px"><i style="background:linear-gradient(#30123b,#30123b,#30123b,#30123b,#30123b,#321543,#321543,#33184a,#341b51,#341b51,#341b51,#321543,#30123b,#30123b,#30123b)"></i><i style="background:linear-gradient(#30123b,#30123b,#30123b,#321543,#33184a,#341b51,#341b51,#351e58,#372466,#392a73,#372466,#341b51,#321543,#30123b,#30123b)"></i><i style="background:linear-gradient(#30123b,#30123b,#30123b,#33184a,#341b51,#36215f,#372466,#3a2d79,#3d358b,#3f3b97,#3c3286,#372466,#33184a,#30123b,#30123b)"></i><i style="background:linear-gradient(#30123b,#30123b,#321543,#341b51,#372466,#3a2d79,#3d358b,#3f3e9c,#434eba,#4456c7,#424bb5,#3c3286,#351e58,#321543,#30123b)"></i><i style="background:linear-gradient(#30123b,#30123b,#33184a,#36215f,#3b2f80,#4040a2,#434eba,#4661d6,#477bf2,#4687fb,#4771e9,#424bb5,#392a73,#33184a,#30123b)"></i><i style="background:linear-gradient(#30123b,#30123b,#33184a,#38276d,#3f3e9c,#4559cb,#4773eb,#4391fe,#2fb2f4,#2cb7f0,#4391fe,#455ccf,#3b2f80,#341b51,#30123b)"></i><i style="background:linear-gradient(#30123b,#321543,#351e58,#3c3286,#4454c3,#4778f0,#3d9efe,#27bee9,#1fc9dd,#2cb7f0,#4685fa,#434eba,#392a73,#33184a,#30123b)"></i><i style="background:linear-gradient(#30123b,#341b51,#392a73,#4249b1,#4669e0,#4773eb,#455ccf,#3e3891,#3c3286,#3f3e9c,#3e3891,#38276d,#33184a,#30123b,#30123b)"></i><i style="background:linear-gradient(#30123b,#341b51,#3a2d79,#424bb5,#455ccf,#3d358b,#455ccf,#27bee9,#1fc9dd,#448ffe,#4249b1,#36215f,#30123b,#30123b,#30123b)"></i><i style="background:linear-gradient(#30123b,#341b51,#3a2d79,#4143a7,#3f3b97,#4146ac,#18dec0,#a7fc3a,#84ff51,#22c5e2,#4559cb,#372466,#30123b,#30123b,#30123b)"></i><i style="background:linear-gradient(#30123b,#341b51,#392a73,#3f3b97,#36215f,#4682f8,#7dff56,#e5d938,#84ff51,#3aa3fc,#3f3b97,#33184a,#30123b,#30123b,#30123b)"></i><i style="background:linear-gradient(#30123b,#341b51,#392a73,#3d358b,#30123b,#38a5fb,#b7f735,#e5d938,#2ff19b,#4669e0,#36215f,#30123b,#30123b,#30123b,#30123b)"></i><i style="background:linear-gradient(#30123b,#341b51,#38276d,#3b2f80,#351e58,#2ab9ee,#bcf534,#affa37,#2eb4f2,#3e3891,#321543,#30123b,#30123b,#30123b,#30123b)"></i><i style="background:linear-gradient(#30123b,#33184a,#36215f,#38276d,#36215f,#33adf7,#75fe5c,#1de7b2,#455ed3,#341b51,#30123b,#30123b,#30123b,#30123b,#30123b)"></i><i style="background:linear-gradient(#30123b,#33184a,#341b51,#351e58,#36215f,#4294ff,#18e0bd,#458afc,#38276d,#30123b,#30123b,#30123b,#30123b,#30123b,#30123b)"></i><i style="background:linear-gradient(#30123b,#321543,#33184a,#33184a,#36215f,#4685fa,#35abf8,#4146ac,#321543,#30123b,#30123b,#30123b,#30123b,#30123b,#30123b)"></i><i style="background:linear-gradient(#30123b,#30123b,#321543,#321543,#351e58,#4771e9,#466be3,#351e58,#30123b,#30123b,#30123b,#30123b,#30123b,#30123b,#30123b)"></i><i style="background:linear-gradient(#30123b,#30123b,#30123b,#30123b,#341b51,#4559cb,#3e3891,#30123b,#30123b,#30123b,#30123b,#30123b,#30123b,#30123b,#30123b)"></i><i style="background:linear-gradient(#30123b,#30123b,#30123b,#30123b,#321543,#3b2f80,#351e58,#30123b,#30123b,#30123b,#30123b,#30123b,#30123b,#30123b,#30123b)"></i></div></div>
<div class="p" style="left:130px;top:292px;width:104px;height:32px"><div class="c" style="left:0px;top:2px;height:28px"><i style="flex-basis:3px;background:linear-gradient(#30123b,#30123b,#30123b,#321543,#372466,#3f3b97,#4456c7,#4669e0,#4664da,#424bb5,#3b2f80,#341b51,#30123b,#30123b,#30123b)"></i><i style="flex-basis:3px;background:linear-gradient(#30123b,#30123b,#30123b,#33184a,#372466,#3f3e9c,#455ccf,#476ee6,#4669e0,#434eba,#3c3286,#341b51,#321543,#30123b,#30123b)"></i><i style="flex-basis:3px;background:linear-gradient(#30123b,#30123b,#30123b,#33184a,#38276d,#4040a2,#4661d6,#4773eb,#476ee6,#4454c3,#3d358b,#351e58,#321543,#30123b,#30123b)"></i><i style="flex-basis:3px;background:linear-gradient(#30123b,#30123b,#30123b,#33184a,#392a73,#4146ac,#4666dd,#4778f0,#4773eb,#4559cb,#3e3891,#36215f,#321543,#30123b,#30123b)"></i><i style="flex-basis:3px;background:linear-gradient(#30123b,#30123b,#30123b,#341b51,#3a2d79,#424bb5,#476ee6,#4682f8,#467df4,#4661d6,#3f3e9c,#36215f,#321543,#30123b,#30123b)"></i><i style="flex-basis:2px;background:linear-gradient(#30123b,#30123b,#321543,#341b51,#3b2f80,#4451bf,#4776ee,#458afc,#4685fa,#4669e0,#4143a7,#38276d,#33184a,#30123b,#30123b)"></i><i style="flex-basis:2px;background:linear-gradient(#30123b,#30123b,#321543,#351e58,#3c3286,#4456c7,#467df4,#4294ff,#448ffe,#4771e9,#4249b1,#392a73,#33184a,#30123b,#30123b)"></i><i style="flex-basis:2px;background:linear-gradient(#30123b,#30123b,#321543,#36215f,#3e3891,#455ed3,#4687fb,#3ba0fd,#3e9bfe,#477bf2,#4451bf,#3a2d79,#341b51,#30123b,#30123b)"></i><i style="background:linear-gradient(#30123b,#30123b,#321543,#372466,#3f3e9c,#4666dd,#4391fe,#35abf8,#37a8fa,#4687fb,#4559cb,#3c3286,#341b51,#321543,#30123b)"></i><i style="background:linear-gradient(#30123b,#30123b,#33184a,#372466,#4040a2,#466be3,#4099ff,#2eb4f2,#2fb2f4,#448ffe,#455ed3,#3d358b,#351e58,#321543,#30123b)"></i><i style="background:linear-gradient(#30123b,#30123b,#33184a,#38276d,#4146ac,#4773eb,#3aa3fc,#25c0e7,#27bee9,#3e9bfe,#4669e0,#3f3b97,#36215f,#321543,#30123b)"></i><i style="background:linear-gradient(#30123b,#30123b,#33184a,#392a73,#424bb5,#467df4,#2fb2f4,#1bd0d5,#1ccdd8,#35abf8,#4773eb,#4143a7,#372466,#321543,#30123b)"></i><i style="background:linear-gradient(#30123b,#30123b,#341b51,#3a2d79,#4454c3,#458afc,#23c3e4,#18e0bd,#18e0bd,#23c3e4,#4685fa,#434eba,#392a73,#33184a,#30123b)"></i><i style="background:linear-gradient(#30123b,#321543,#341b51,#3c3286,#455ed3,#3d9efe,#18dbc5,#38f491,#3cf58e,#18e0bd,#3ba0fd,#455ccf,#3b2f80,#341b51,#30123b)"></i><i style="background:linear-gradient(#30123b,#321543,#36215f,#3f3b97,#4771e9,#28bceb,#38f491,#8fff49,#96fe44,#3ff68a,#2ab9ee,#4669e0,#3d358b,#341b51,#30123b)"></i><i style="background:linear-gradient(#30123b,#33184a,#38276d,#4249b1,#458afc,#18dec0,#8bff4b,#cbed34,#b9f635,#46f884,#31aff5,#455ed3,#3a2d79,#33184a,#30123b)"></i><i style="background:linear-gradient(#30123b,#341b51,#3c3286,#455ccf,#3e9bfe,#18dec0,#55fa76,#75fe5c,#43f787,#1ccdd8,#467df4,#4040a2,#36215f,#321543,#30123b)"></i><i style="background:linear-gradient(#30123b,#351e58,#3c3286,#4456c7,#458afc,#28bceb,#18d7ca,#1ad2d2,#33adf7,#4776ee,#4143a7,#372466,#321543,#30123b,#30123b)"></i><i style="background:linear-gradient(#30123b,#351e58,#3a2d79,#424bb5,#476ee6,#458cfd,#4099ff,#458afc,#4666dd,#4040a2,#372466,#33184a,#30123b,#30123b,#30123b)"></i><i style="background:linear-gradient(#30123b,#341b51,#392a73,#4040a2,#4559cb,#466be3,#476ee6,#455ed3,#4143a7,#392a73,#341b51,#30123b,#30123b,#30123b,#30123b)"></i><i style="background:linear-gradient(#30123b,#341b51,#38276d,#3e3891,#4249b1,#4454c3,#434eba,#4040a2,#3a2d79,#351e58,#321543,#30123b,#30123b,#30123b,#30123b)"></i><i style="background:linear-gradient(#30123b,#341b51,#372466,#3b2f80,#3e3891,#3f3b97,#3d358b,#392a73,#351e58,#33184a,#30123b,#30123b,#30123b,#30123b,#30123b)"></i><i style="background:linear-gradient(#30123b,#33184a,#351e58,#372466,#392a73,#392a73,#372466,#351e58,#33184a,#30123b,#30123b,#30123b,#30123b,#30123b,#30123b)"></i><i style="flex-basis:2px;background:linear-gradient(#30123b,#321543,#33184a,#33184a,#33184a,#33184a,#321543,#30123b,#30123b,#30123b,#30123b,#30123b,#30123b,#30123b,#30123b)"></i></div></div>
<div class="p" style="left:239px;top:292px;width:103px;height:32px"><div class="c" style="left:0px;top:5px;height:23px"><i style="flex-basis:3px;background:linear-gradient(#30123b,#30123b,#341b51,#392a73,#4146ac,#455ed3,#466be3,#4661d6,#4146ac,#3a2d79,#341b51,#30123b,#30123b)"></i><i style="flex-basis:3px;background:linear-gradient(#30123b,#30123b,#341b51,#3a2d79,#4249b1,#4664da,#476ee6,#4666dd,#424bb5,#3b2f80,#341b51,#30123b,#30123b)"></i><i style="flex-basis:3px;background:linear-gradient(#30123b,#321543,#341b51,#3b2f80,#424bb5,#4669e0,#4776ee,#466be3,#434eba,#3b2f80,#351e58,#321543,#30123b)"></i><i style="flex-basis:3px;background:linear-gradient(#30123b,#321543,#351e58,#3c3286,#4451bf,#476ee6,#477bf2,#4771e9,#4454c3,#3d358b,#351e58,#321543,#30123b)"></i><i style="flex-basis:3px;background:linear-gradient(#30123b,#321543,#36215f,#3e3891,#4456c7,#4776ee,#4685fa,#477bf2,#455ccf,#3f3b97,#36215f,#321543,#30123b)"></i><i style="flex-basis:2px;background:linear-gradient(#30123b,#321543,#372466,#3f3b97,#455ed3,#4680f6,#458cfd,#4682f8,#4664da,#4040a2,#372466,#33184a,#30123b)"></i><i style="flex-basis:2px;background:linear-gradient(#30123b,#33184a,#38276d,#4040a2,#4666dd,#4687fb,#4196ff,#458cfd,#466be3,#4146ac,#38276d,#33184a,#30123b)"></i><i style="flex-basis:2px;background:linear-gradient(#30123b,#33184a,#392a73,#4146ac,#476ee6,#4294ff,#3aa3fc,#4099ff,#4778f0,#434eba,#3a2d79,#341b51,#30123b)"></i><i style="flex-basis:2px;background:linear-gradient(#30123b,#341b51,#3a2d79,#424bb5,#4778f0,#3d9efe,#2fb2f4,#3aa3fc,#4680f6,#4451bf,#3b2f80,#341b51,#30123b)"></i><i style="flex-basis:2px;background:linear-gradient(#30123b,#341b51,#3a2d79,#4451bf,#4680f6,#33adf7,#27bee9,#33adf7,#4682f8,#4454c3,#3b2f80,#341b51,#30123b)"></i><i style="background:linear-gradient(#30123b,#341b51,#3a2d79,#4454c3,#4687fb,#2cb7f0,#20c7df,#2eb4f2,#4682f8,#4451bf,#3a2d79,#341b51,#30123b)"></i><i style="background:linear-gradient(#30123b,#341b51,#3b2f80,#4456c7,#458cfd,#25c0e7,#1bd0d5,#2ab9ee,#4682f8,#434eba,#392a73,#33184a,#30123b)"></i><i style="background:linear-gradient(#30123b,#341b51,#3c3286,#455ed3,#3e9bfe,#1bd0d5,#18e0bd,#1fc9dd,#448ffe,#4454c3,#3a2d79,#33184a,#30123b)"></i><i style="background:linear-gradient(#30123b,#351e58,#3d358b,#4669e0,#33adf7,#1ae4b6,#2cf09e,#18dec0,#3ba0fd,#455ed3,#3b2f80,#341b51,#30123b)"></i><i style="background:linear-gradient(#30123b,#341b51,#3e3891,#4771e9,#23c3e4,#3ff68a,#71fe5f,#2ff19b,#2eb4f2,#4664da,#3b2f80,#33184a,#30123b)"></i><i style="background:linear-gradient(#30123b,#33184a,#3d358b,#4776ee,#18d9c8,#8fff49,#b9f635,#61fc6c,#28bceb,#455ed3,#392a73,#321543,#30123b)"></i><i style="background:linear-gradient(#30123b,#33184a,#3d358b,#4682f8,#2aefa1,#c8ef34,#d7e535,#52fa7a,#3e9bfe,#4143a7,#341b51,#30123b,#30123b)"></i><i style="background:linear-gradient(#30123b,#33184a,#3d358b,#458afc,#46f884,#dde037,#c6f034,#19e3b9,#466be3,#38276d,#321543,#30123b,#30123b)"></i><i style="background:linear-gradient(#30123b,#321543,#3b2f80,#458afc,#59fb73,#d7e535,#88ff4e,#38a5fb,#3f3e9c,#33184a,#30123b,#30123b,#30123b)"></i><i style="background:linear-gradient(#30123b,#30123b,#392a73,#4685fa,#4ef97d,#acfb38,#1ae4b6,#4661d6,#36215f,#30123b,#30123b,#30123b,#30123b)"></i><i style="background:linear-gradient(#30123b,#30123b,#372466,#4773eb,#1fe9af,#2ff19b,#458cfd,#3a2d79,#30123b,#30123b,#30123b,#30123b,#30123b)"></i><i style="background:linear-gradient(#30123b,#30123b,#341b51,#455ccf,#25c0e7,#37a8fa,#4040a2,#321543,#30123b,#30123b,#30123b,#30123b,#30123b)"></i><i style="background:linear-gradient(#30123b,#30123b,#33184a,#434eba,#4099ff,#4661d6,#351e58,#30123b,#30123b,#30123b,#30123b,#30123b,#30123b)"></i><i style="background:linear-gradient(#30123b,#30123b,#321543,#4143a7,#4771e9,#3a2d79,#30123b,#30123b,#30123b,#30123b,#30123b,#30123b,#30123b)"></i><i style="background:linear-gradient(#30123b,#30123b,#30123b,#3c3286,#434eba,#33184a,#30123b,#30123b,#30123b,#30123b,#30123b,#30123b,#30123b)"></i><i style="background:linear-gradient(#30123b,#30123b,#30123b,#36215f,#3a2d79,#321543,#30123b,#30123b,#30123b,#30123b,#30123b,#30123b,#30123b)"></i></div></div>
<div class="p" style="left:347px;top:292px;width:104px;height:32px"><div class="c" style="left:22px;top:2px;height:28px"><i style="background:linear-gradient(#30123b,#30123b,#30123b,#30123b,#30123b,#321543,#321543,#321543,#33184a,#33184a,#33184a,#321543,#30123b,#30123b,#30123b)"></i><i style="background:linear-gradient(#30123b,#30123b,#30123b,#321543,#321543,#33184a,#33184a,#341b51,#36215f,#372466,#36215f,#33184a,#321543,#30123b,#30123b)"></i><i style="background:linear-gradient(#30123b,#30123b,#30123b,#321543,#341b51,#351e58,#36215f,#38276d,#3a2d79,#3c3286,#3a2d79,#36215f,#33184a,#30123b,#30123b)"></i><i style="background:linear-gradient(#30123b,#30123b,#321543,#341b51,#36215f,#38276d,#3b2f80,#3e3891,#4143a7,#4249b1,#3f3e9c,#3a2d79,#351e58,#321543,#30123b)"></i><i style="background:linear-gradient(#30123b,#30123b,#33184a,#36215f,#3a2d79,#3e3891,#4146ac,#4454c3,#4669e0,#476ee6,#455ed3,#4040a2,#38276d,#33184a,#30123b)"></i><i style="background:linear-gradient(#30123b,#30123b,#341b51,#38276d,#3e3891,#434eba,#4666dd,#467df4,#4294ff,#4196ff,#4778f0,#434eba,#3a2d79,#341b51,#30123b)"></i><i style="background:linear-gradient(#30123b,#321543,#351e58,#3b2f80,#434eba,#476ee6,#448ffe,#37a8fa,#31aff5,#3e9bfe,#4771e9,#4143a7,#38276d,#33184a,#30123b)"></i><i style="background:linear-gradient(#30123b,#341b51,#392a73,#4143a7,#455ed3,#4669e0,#455ed3,#4249b1,#4143a7,#4146ac,#3e3891,#372466,#33184a,#30123b,#30123b)"></i><i style="background:linear-gradient(#30123b,#341b51,#3a2d79,#4143a7,#434eba,#3c3286,#3f3b97,#467df4,#4685fa,#455ed3,#3d358b,#341b51,#30123b,#30123b,#30123b)"></i><i style="background:linear-gradient(#30123b,#341b51,#392a73,#3f3b97,#3a2d79,#4146ac,#28bceb,#2ff19b,#1ae4b6,#4196ff,#4249b1,#351e58,#30123b,#30123b,#30123b)"></i><i style="background:linear-gradient(#30123b,#341b51,#38276d,#3b2f80,#30123b,#4685fa,#3ff68a,#96fe44,#27eea4,#4685fa,#3d358b,#33184a,#30123b,#30123b,#30123b)"></i><i style="background:linear-gradient(#30123b,#341b51,#38276d,#392a73,#38276d,#35abf8,#84ff51,#9ffd3f,#1ad4d0,#4559cb,#351e58,#30123b,#30123b,#30123b,#30123b)"></i><i style="background:linear-gradient(#30123b,#341b51,#372466,#372466,#3c3286,#23c3e4,#9cfe40,#6dfe62,#4099ff,#3c3286,#321543,#30123b,#30123b,#30123b,#30123b)"></i><i style="background:linear-gradient(#30123b,#33184a,#351e58,#351e58,#3e3891,#20c7df,#79fe59,#18dec0,#4559cb,#341b51,#30123b,#30123b,#30123b,#30123b,#30123b)"></i><i style="background:linear-gradient(#30123b,#321543,#341b51,#33184a,#3c3286,#33adf7,#18e0bd,#4682f8,#38276d,#30123b,#30123b,#30123b,#30123b,#30123b,#30123b)"></i><i style="background:linear-gradient(#30123b,#321543,#321543,#321543,#3b2f80,#4294ff,#3ba0fd,#3f3e9c,#321543,#30123b,#30123b,#30123b,#30123b,#30123b,#30123b)"></i><i style="background:linear-gradient(#30123b,#30123b,#30123b,#30123b,#392a73,#467df4,#4664da,#341b51,#30123b,#30123b,#30123b,#30123b,#30123b,#30123b,#30123b)"></i><i style="background:linear-gradient(#30123b,#30123b,#30123b,#30123b,#372466,#4664da,#3c3286,#30123b,#30123b,#30123b,#30123b,#30123b,#30123b,#30123b,#30123b)"></i><i style="background:linear-gradient(#30123b,#30123b,#30123b,#30123b,#341b51,#4146ac,#36215f,#30123b,#30123b,#30123b,#30123b,#30123b,#30123b,#30123b,#30123b)"></i><i style="background:linear-gradient(#30123b,#30123b,#30123b,#30123b,#321543,#36215f,#321543,#30123b,#30123b,#30123b,#30123b,#30123b,#30123b,#30123b,#30123b)"></i></div></div>
<div class="p" style="left:130px;top:384px;width:104px;height:31px"><div class="c" style="left:0px;top:2px;height:27px"><i style="flex-basis:3px;background:linear-gradient(#30123b,#30123b,#30123b,#321543,#341b51,#3a2d79,#3f3e9c,#424bb5,#4249b1,#3f3b97,#392a73,#341b51,#30123b,#30123b,#30123b)"></i><i style="flex-basis:3px;background:linear-gradient(#30123b,#30123b,#30123b,#321543,#351e58,#3a2d79,#4040a2,#434eba,#434eba,#3f3e9c,#392a73,#341b51,#321543,#30123b,#30123b)"></i><i style="flex-basis:3px;background:linear-gradient(#30123b,#30123b,#30123b,#321543,#351e58,#3b2f80,#4143a7,#4451bf,#4451bf,#4040a2,#3a2d79,#341b51,#321543,#30123b,#30123b)"></i><i style="flex-basis:3px;background:linear-gradient(#30123b,#30123b,#30123b,#321543,#36215f,#3c3286,#4249b1,#4456c7,#4456c7,#4146ac,#3b2f80,#351e58,#321543,#30123b,#30123b)"></i><i style="flex-basis:3px;background:linear-gradient(#30123b,#30123b,#30123b,#33184a,#36215f,#3d358b,#424bb5,#455ccf,#455ccf,#424bb5,#3c3286,#36215f,#321543,#30123b,#30123b)"></i><i style="flex-basis:3px;background:linear-gradient(#30123b,#30123b,#30123b,#33184a,#372466,#3f3b97,#4454c3,#4664da,#4664da,#4451bf,#3e3891,#372466,#33184a,#30123b,#30123b)"></i><i style="flex-basis:2px;background:linear-gradient(#30123b,#30123b,#30123b,#341b51,#392a73,#4040a2,#455ccf,#466be3,#466be3,#4559cb,#3f3e9c,#38276d,#33184a,#30123b,#30123b)"></i><i style="flex-basis:2px;background:linear-gradient(#30123b,#30123b,#321543,#341b51,#3a2d79,#4146ac,#4664da,#4776ee,#4776ee,#4664da,#4146ac,#392a73,#341b51,#321543,#30123b)"></i><i style="background:linear-gradient(#30123b,#30123b,#321543,#351e58,#3b2f80,#424bb5,#466be3,#467df4,#4680f6,#466be3,#434eba,#3b2f80,#351e58,#321543,#30123b)"></i><i style="background:linear-gradient(#30123b,#30123b,#321543,#351e58,#3c3286,#4451bf,#4771e9,#4687fb,#4687fb,#4773eb,#4454c3,#3c3286,#351e58,#321543,#30123b)"></i><i style="background:linear-gradient(#30123b,#30123b,#321543,#36215f,#3e3891,#4559cb,#477bf2,#4391fe,#4294ff,#4680f6,#455ccf,#3e3891,#36215f,#321543,#30123b)"></i><i style="background:linear-gradient(#30123b,#30123b,#33184a,#372466,#3f3e9c,#4661d6,#4685fa,#3ba0fd,#3aa3fc,#448ffe,#4669e0,#4040a2,#38276d,#33184a,#30123b)"></i><i style="background:linear-gradient(#30123b,#30123b,#33184a,#38276d,#4143a7,#476ee6,#4099ff,#2ab9ee,#27bee9,#37a8fa,#467df4,#434eba,#3a2d79,#341b51,#30123b)"></i><i style="background:linear-gradient(#30123b,#321543,#341b51,#3a2d79,#4451bf,#4682f8,#2cb7f0,#18d9c8,#18dec0,#20c7df,#4391fe,#4559cb,#3b2f80,#341b51,#30123b)"></i><i style="background:linear-gradient(#30123b,#321543,#351e58,#3e3891,#4661d6,#3e9bfe,#19d5cd,#27eea4,#22ebaa,#1ecbda,#458cfd,#4451bf,#392a73,#33184a,#30123b)"></i><i style="background:linear-gradient(#30123b,#33184a,#38276d,#4143a7,#476ee6,#3d9efe,#22c5e2,#1ad2d2,#22c5e2,#3e9bfe,#4666dd,#3e3891,#351e58,#321543,#30123b)"></i><i style="background:linear-gradient(#30123b,#341b51,#38276d,#4040a2,#4661d6,#4682f8,#4196ff,#4196ff,#4680f6,#455ccf,#3e3891,#36215f,#321543,#30123b,#30123b)"></i><i style="background:linear-gradient(#30123b,#33184a,#372466,#3e3891,#434eba,#4664da,#466be3,#4664da,#434eba,#3d358b,#36215f,#321543,#30123b,#30123b,#30123b)"></i><i style="background:linear-gradient(#30123b,#33184a,#36215f,#3b2f80,#4040a2,#434eba,#4451bf,#4146ac,#3d358b,#372466,#33184a,#30123b,#30123b,#30123b,#30123b)"></i><i style="background:linear-gradient(#30123b,#33184a,#36215f,#3a2d79,#3d358b,#3f3e9c,#3f3b97,#3c3286,#38276d,#341b51,#321543,#30123b,#30123b,#30123b,#30123b)"></i><i style="background:linear-gradient(#30123b,#33184a,#351e58,#372466,#392a73,#3a2d79,#392a73,#372466,#341b51,#321543,#30123b,#30123b,#30123b,#30123b,#30123b)"></i><i style="flex-basis:2px;background:linear-gradient(#30123b,#321543,#33184a,#341b51,#341b51,#341b51,#33184a,#321543,#30123b,#30123b,#30123b,#30123b,#30123b,#30123b,#30123b)"></i></div></div>
<div class="p" style="left:239px;top:384px;width:103px;height:31px"><div class="c" style="left:0px;top:1px;height:29px"><i style="flex-basis:2px;background:linear-gradient(#30123b,#30123b,#30123b,#321543,#341b51,#392a73,#3e3891,#4249b1,#4249b1,#3b2f80,#372466,#33184a,#30123b,#30123b,#30123b)"></i><i style="flex-basis:3px;background:linear-gradient(#30123b,#30123b,#30123b,#321543,#33184a,#392a73,#4040a2,#424bb5,#4249b1,#3f3b97,#36215f,#33184a,#321543,#30123b,#30123b)"></i><i style="flex-basis:2px;background:linear-gradient(#30123b,#30123b,#30123b,#321543,#341b51,#3a2d79,#4040a2,#4451bf,#424bb5,#3f3e9c,#372466,#33184a,#30123b,#30123b,#30123b)"></i><i style="flex-basis:3px;background:linear-gradient(#30123b,#30123b,#30123b,#30123b,#351e58,#3b2f80,#4249b1,#4559cb,#434eba,#4040a2,#392a73,#33184a,#30123b,#30123b,#30123b)"></i><i style="flex-basis:3px;background:linear-gradient(#30123b,#30123b,#30123b,#321543,#351e58,#3c3286,#424bb5,#455ed3,#4559cb,#4143a7,#3a2d79,#341b51,#30123b,#30123b,#30123b)"></i><i style="flex-basis:2px;background:linear-gradient(#30123b,#30123b,#30123b,#30123b,#341b51,#3c3286,#4451bf,#4664da,#455ed3,#4249b1,#3d358b,#341b51,#30123b,#30123b,#30123b)"></i><i style="flex-basis:3px;background:linear-gradient(#30123b,#30123b,#30123b,#321543,#36215f,#3d358b,#4451bf,#4666dd,#4664da,#434eba,#3e3891,#351e58,#321543,#30123b,#30123b)"></i><i style="flex-basis:2px;background:linear-gradient(#30123b,#30123b,#30123b,#33184a,#372466,#4040a2,#4456c7,#476ee6,#466be3,#4456c7,#3f3e9c,#36215f,#321543,#30123b,#30123b)"></i><i style="flex-basis:2px;background:linear-gradient(#30123b,#30123b,#30123b,#33184a,#392a73,#4143a7,#4661d6,#477bf2,#477bf2,#4661d6,#4146ac,#38276d,#33184a,#30123b,#30123b)"></i><i style="background:linear-gradient(#30123b,#30123b,#30123b,#341b51,#3a2d79,#4249b1,#466be3,#4682f8,#4682f8,#466be3,#4249b1,#392a73,#33184a,#30123b,#30123b)"></i><i style="background:linear-gradient(#30123b,#30123b,#30123b,#341b51,#3b2f80,#434eba,#4773eb,#4687fb,#458cfd,#4776ee,#434eba,#3a2d79,#341b51,#30123b,#30123b)"></i><i style="background:linear-gradient(#30123b,#30123b,#321543,#351e58,#3c3286,#4456c7,#467df4,#4294ff,#4099ff,#4682f8,#4559cb,#3d358b,#351e58,#321543,#30123b)"></i><i style="background:linear-gradient(#30123b,#30123b,#321543,#36215f,#3e3891,#4661d6,#448ffe,#38a5fb,#33adf7,#4294ff,#4666dd,#3f3e9c,#372466,#33184a,#30123b)"></i><i style="background:linear-gradient(#30123b,#30123b,#321543,#372466,#4040a2,#4771e9,#38a5fb,#25c0e7,#1ccdd8,#2ab9ee,#4778f0,#4146ac,#392a73,#341b51,#30123b)"></i><i style="background:linear-gradient(#30123b,#30123b,#33184a,#3a2d79,#434eba,#4685fa,#23c3e4,#1ae4b6,#25eca7,#1ecbda,#458cfd,#4456c7,#392a73,#33184a,#30123b)"></i><i style="background:linear-gradient(#30123b,#321543,#351e58,#3f3e9c,#4661d6,#3d9efe,#1ad4d0,#20eaac,#27eea4,#2fb2f4,#4680f6,#4146ac,#351e58,#321543,#30123b)"></i><i style="background:linear-gradient(#30123b,#33184a,#36215f,#4143a7,#477bf2,#3e9bfe,#18d7ca,#1ad2d2,#2fb2f4,#477bf2,#4451bf,#3a2d79,#33184a,#30123b,#30123b)"></i><i style="background:linear-gradient(#30123b,#33184a,#3b2f80,#3a2d79,#3f3b97,#4687fb,#3e9bfe,#3aa3fc,#4687fb,#434eba,#392a73,#33184a,#30123b,#30123b,#30123b)"></i><i style="background:linear-gradient(#30123b,#33184a,#351e58,#392a73,#4249b1,#4778f0,#477bf2,#4776ee,#4454c3,#3d358b,#351e58,#321543,#30123b,#30123b,#30123b)"></i><i style="background:linear-gradient(#30123b,#33184a,#341b51,#3a2d79,#4040a2,#455ed3,#4456c7,#4040a2,#3b2f80,#351e58,#321543,#30123b,#30123b,#30123b,#30123b)"></i><i style="background:linear-gradient(#30123b,#33184a,#341b51,#372466,#3b2f80,#3e3891,#3d358b,#3a2d79,#36215f,#33184a,#30123b,#30123b,#30123b,#30123b,#30123b)"></i><i style="background:linear-gradient(#30123b,#321543,#341b51,#36215f,#38276d,#38276d,#372466,#351e58,#33184a,#30123b,#30123b,#30123b,#30123b,#30123b,#30123b)"></i><i style="flex-basis:2px;background:linear-gradient(#30123b,#30123b,#321543,#33184a,#33184a,#33184a,#33184a,#321543,#30123b,#30123b,#30123b,#30123b,#30123b,#30123b,#30123b)"></i></div></div>
<div class="p" style="left:347px;top:384px;width:104px;height:31px"><div class="c" style="left:0px;top:3px;height:25px"><i style="flex-basis:3px;background:linear-gradient(#30123b,#30123b,#30123b,#30123b,#30123b,#321543,#30123b,#30123b,#33184a,#30123b,#30123b,#30123b,#30123b)"></i><i style="flex-basis:3px;background:linear-gradient(#30123b,#30123b,#30123b,#30123b,#30123b,#30123b,#30123b,#321543,#30123b,#321543,#30123b,#30123b,#30123b)"></i><i style="flex-basis:3px;background:linear-gradient(#30123b,#30123b,#30123b,#30123b,#30123b,#321543,#30123b,#321543,#30123b,#30123b,#30123b,#30123b,#30123b)"></i><i style="flex-basis:3px;background:linear-gradient(#30123b,#30123b,#30123b,#30123b,#30123b,#321543,#321543,#321543,#30123b,#30123b,#30123b,#30123b,#30123b)"></i><i style="flex-basis:3px;background:linear-gradient(#30123b,#30123b,#30123b,#30123b,#30123b,#33184a,#33184a,#30123b,#30123b,#321543,#30123b,#30123b,#30123b)"></i><i style="flex-basis:3px;background:linear-gradient(#30123b,#30123b,#30123b,#30123b,#321543,#30123b,#30123b,#321543,#30123b,#321543,#30123b,#30123b,#30123b)"></i><i style="flex-basis:3px;background:linear-gradient(#30123b,#30123b,#30123b,#30123b,#321543,#30123b,#30123b,#30123b,#30123b,#30123b,#30123b,#30123b,#30123b)"></i><i style="flex-basis:3px;background:linear-gradient(#30123b,#30123b,#30123b,#30123b,#30123b,#30123b,#321543,#321543,#30123b,#321543,#30123b,#30123b,#30123b)"></i><i style="flex-basis:3px;background:linear-gradient(#30123b,#30123b,#30123b,#30123b,#30123b,#30123b,#321543,#30123b,#30123b,#30123b,#30123b,#30123b,#30123b)"></i><i style="background:linear-gradient(#30123b,#30123b,#30123b,#30123b,#321543,#321543,#33184a,#321543,#351e58,#33184a,#30123b,#33184a,#30123b)"></i><i style="background:linear-gradient(#30123b,#30123b,#33184a,#321543,#341b51,#321543,#33184a,#38276d,#30123b,#36215f,#36215f,#30123b,#30123b)"></i><i style="background:linear-gradient(#30123b,#30123b,#321543,#30123b,#33184a,#351e58,#33184a,#3a2d79,#30123b,#351e58,#33184a,#30123b,#30123b)"></i><i style="background:linear-gradient(#30123b,#30123b,#33184a,#3c3286,#3c3286,#4040a2,#3c3286,#351e58,#30123b,#321543,#321543,#30123b,#30123b)"></i><i style="background:linear-gradient(#30123b,#351e58,#321543,#3d358b,#33184a,#36215f,#4143a7,#3e3891,#36215f,#321543,#30123b,#30123b,#30123b)"></i><i style="background:linear-gradient(#30123b,#321543,#321543,#341b51,#3f3e9c,#3d358b,#38276d,#341b51,#321543,#30123b,#30123b,#30123b,#30123b)"></i><i style="background:linear-gradient(#30123b,#30123b,#33184a,#341b51,#36215f,#33184a,#30123b,#30123b,#30123b,#30123b,#30123b,#30123b,#30123b)"></i></div></div>
<div class="p" style="left:130px;top:415px;width:104px;height:32px"><div class="c" style="left:0px;top:2px;height:28px"><i style="flex-basis:3px;background:linear-gradient(#30123b,#30123b,#30123b,#321543,#36215f,#3d358b,#4451bf,#4661d6,#455ed3,#4249b1,#3a2d79,#341b51,#30123b,#30123b,#30123b)"></i><i style="flex-basis:3px;background:linear-gradient(#30123b,#30123b,#30123b,#321543,#36215f,#3e3891,#4454c3,#4664da,#4661d6,#424bb5,#3b2f80,#341b51,#321543,#30123b,#30123b)"></i><i style="flex-basis:3px;background:linear-gradient(#30123b,#30123b,#30123b,#321543,#372466,#3f3b97,#4456c7,#4669e0,#4666dd,#434eba,#3c3286,#351e58,#321543,#30123b,#30123b)"></i><i style="flex-basis:3px;background:linear-gradient(#30123b,#30123b,#30123b,#33184a,#372466,#3f3e9c,#455ccf,#4771e9,#466be3,#4454c3,#3d358b,#351e58,#321543,#30123b,#30123b)"></i><i style="flex-basis:3px;background:linear-gradient(#30123b,#30123b,#30123b,#33184a,#38276d,#4143a7,#4664da,#4778f0,#4773eb,#455ccf,#3f3b97,#36215f,#321543,#30123b,#30123b)"></i><i style="flex-basis:2px;background:linear-gradient(#30123b,#30123b,#30123b,#341b51,#3a2d79,#4249b1,#4669e0,#4680f6,#467df4,#4664da,#4040a2,#372466,#33184a,#30123b,#30123b)"></i><i style="flex-basis:2px;background:linear-gradient(#30123b,#30123b,#321543,#341b51,#3b2f80,#434eba,#4771e9,#4687fb,#4685fa,#466be3,#4146ac,#38276d,#33184a,#30123b,#30123b)"></i><i style="flex-basis:2px;background:linear-gradient(#30123b,#30123b,#321543,#351e58,#3c3286,#4456c7,#477bf2,#4391fe,#448ffe,#4773eb,#434eba,#3a2d79,#341b51,#30123b,#30123b)"></i><i style="background:linear-gradient(#30123b,#30123b,#321543,#36215f,#3e3891,#455ccf,#4682f8,#3e9bfe,#3e9bfe,#467df4,#4454c3,#3b2f80,#341b51,#321543,#30123b)"></i><i style="background:linear-gradient(#30123b,#30123b,#321543,#36215f,#3f3b97,#4661d6,#458afc,#38a5fb,#3aa3fc,#4685fa,#455ccf,#3d358b,#351e58,#321543,#30123b)"></i><i style="background:linear-gradient(#30123b,#30123b,#33184a,#372466,#3f3e9c,#4669e0,#4294ff,#31aff5,#31aff5,#4391fe,#4664da,#3e3891,#36215f,#321543,#30123b)"></i><i style="background:linear-gradient(#30123b,#30123b,#33184a,#38276d,#4143a7,#4771e9,#3ba0fd,#27bee9,#27bee9,#3d9efe,#476ee6,#4040a2,#372466,#321543,#30123b)"></i><i style="background:linear-gradient(#30123b,#30123b,#33184a,#392a73,#424bb5,#467df4,#2fb2f4,#1ad2d2,#1ad4d0,#2eb4f2,#467df4,#4249b1,#38276d,#33184a,#30123b)"></i><i style="background:linear-gradient(#30123b,#30123b,#341b51,#3b2f80,#4454c3,#458cfd,#1fc9dd,#1fe9af,#22ebaa,#1ad4d0,#4196ff,#4559cb,#3b2f80,#341b51,#30123b)"></i><i style="background:linear-gradient(#30123b,#321543,#351e58,#3d358b,#4664da,#37a8fa,#1de7b2,#61fc6c,#6dfe62,#27eea4,#31aff5,#4664da,#3c3286,#341b51,#30123b)"></i><i style="background:linear-gradient(#30123b,#321543,#372466,#4143a7,#477bf2,#1ecbda,#59fb73,#a4fc3c,#96fe44,#2cf09e,#38a5fb,#4559cb,#3a2d79,#33184a,#30123b)"></i><i style="background:linear-gradient(#30123b,#341b51,#3a2d79,#4451bf,#458afc,#1ccdd8,#2ff19b,#4af880,#27eea4,#23c3e4,#4778f0,#3f3e9c,#36215f,#321543,#30123b)"></i><i style="background:linear-gradient(#30123b,#341b51,#3a2d79,#434eba,#477bf2,#35abf8,#20c7df,#23c3e4,#3ba0fd,#476ee6,#4040a2,#36215f,#321543,#30123b,#30123b)"></i><i style="background:linear-gradient(#30123b,#341b51,#392a73,#4143a7,#4664da,#4680f6,#458cfd,#4680f6,#4661d6,#3f3e9c,#372466,#321543,#30123b,#30123b,#30123b)"></i><i style="background:linear-gradient(#30123b,#341b51,#38276d,#3f3b97,#4451bf,#4664da,#4666dd,#4559cb,#4040a2,#392a73,#33184a,#30123b,#30123b,#30123b,#30123b)"></i><i style="background:linear-gradient(#30123b,#341b51,#372466,#3d358b,#4143a7,#424bb5,#4249b1,#3f3e9c,#3a2d79,#351e58,#321543,#30123b,#30123b,#30123b,#30123b)"></i><i style="background:linear-gradient(#30123b,#33184a,#36215f,#3a2d79,#3d358b,#3e3891,#3c3286,#392a73,#351e58,#321543,#30123b,#30123b,#30123b,#30123b,#30123b)"></i><i style="background:linear-gradient(#30123b,#33184a,#351e58,#372466,#38276d,#38276d,#36215f,#341b51,#321543,#30123b,#30123b,#30123b,#30123b,#30123b,#30123b)"></i><i style="flex-basis:2px;background:linear-gradient(#30123b,#321543,#321543,#33184a,#33184a,#33184a,#321543,#30123b,#30123b,#30123b,#30123b,#30123b,#30123b,#30123b,#30123b)"></i></div></div>
<div class="p" style="left:239px;top:415px;width:103px;height:32px"><div class="c" style="left:0px;top:1px;height:28px"><i style="flex-basis:3px;background:linear-gradient(#30123b,#30123b,#30123b,#321543,#341b51,#3a2d79,#4040a2,#4559cb,#4664da,#4456c7,#3f3e9c,#36215f,#321543,#30123b,#30123b)"></i><i style="flex-basis:2px;background:linear-gradient(#30123b,#30123b,#30123b,#321543,#341b51,#3a2d79,#4146ac,#4661d6,#4666dd,#4454c3,#3e3891,#372466,#321543,#30123b,#30123b)"></i><i style="flex-basis:3px;background:linear-gradient(#30123b,#30123b,#30123b,#321543,#341b51,#3b2f80,#4249b1,#4664da,#476ee6,#455ed3,#3f3e9c,#392a73,#321543,#30123b,#30123b)"></i><i style="flex-basis:2px;background:linear-gradient(#30123b,#30123b,#30123b,#30123b,#351e58,#3b2f80,#424bb5,#4666dd,#4771e9,#4661d6,#4143a7,#392a73,#33184a,#30123b,#30123b)"></i><i style="flex-basis:3px;background:linear-gradient(#30123b,#30123b,#30123b,#321543,#351e58,#3c3286,#4451bf,#4669e0,#4778f0,#466be3,#4249b1,#392a73,#341b51,#321543,#30123b)"></i><i style="flex-basis:3px;background:linear-gradient(#30123b,#30123b,#30123b,#321543,#36215f,#3d358b,#4559cb,#4776ee,#4680f6,#476ee6,#434eba,#3c3286,#341b51,#321543,#30123b)"></i><i style="flex-basis:2px;background:linear-gradient(#30123b,#30123b,#30123b,#33184a,#36215f,#3f3e9c,#455ccf,#4680f6,#4687fb,#4776ee,#4454c3,#3d358b,#351e58,#321543,#30123b)"></i><i style="flex-basis:2px;background:linear-gradient(#30123b,#30123b,#30123b,#33184a,#38276d,#4040a2,#4666dd,#4687fb,#448ffe,#4680f6,#455ed3,#3e3891,#351e58,#321543,#30123b)"></i><i style="background:linear-gradient(#30123b,#30123b,#30123b,#33184a,#392a73,#4143a7,#466be3,#448ffe,#4099ff,#458afc,#4664da,#3f3e9c,#36215f,#321543,#30123b)"></i><i style="background:linear-gradient(#30123b,#30123b,#30123b,#33184a,#392a73,#4249b1,#4771e9,#4196ff,#3aa3fc,#4391fe,#4669e0,#4143a7,#38276d,#33184a,#30123b)"></i><i style="background:linear-gradient(#30123b,#30123b,#30123b,#341b51,#3a2d79,#424bb5,#4778f0,#3d9efe,#33adf7,#3d9efe,#4773eb,#4249b1,#392a73,#33184a,#30123b)"></i><i style="background:linear-gradient(#30123b,#30123b,#321543,#341b51,#3b2f80,#4451bf,#4682f8,#35abf8,#2cb7f0,#33adf7,#467df4,#4451bf,#3a2d79,#341b51,#30123b)"></i><i style="background:linear-gradient(#30123b,#30123b,#321543,#351e58,#3d358b,#4559cb,#458cfd,#2ab9ee,#20c7df,#27bee9,#458cfd,#455ccf,#3c3286,#351e58,#30123b)"></i><i style="background:linear-gradient(#30123b,#30123b,#321543,#36215f,#3f3b97,#4666dd,#3e9bfe,#1bd0d5,#18e0bd,#18d7ca,#38a5fb,#466be3,#3f3b97,#36215f,#30123b)"></i><i style="background:linear-gradient(#30123b,#30123b,#33184a,#372466,#4143a7,#4776ee,#2cb7f0,#25eca7,#46f884,#35f394,#1ccdd8,#477bf2,#4143a7,#36215f,#30123b)"></i><i style="background:linear-gradient(#30123b,#30123b,#33184a,#392a73,#4451bf,#4294ff,#19e3b9,#71fe5f,#a1fd3d,#75fe5c,#18dbc5,#4687fb,#4040a2,#36215f,#30123b)"></i><i style="background:linear-gradient(#30123b,#321543,#36215f,#3f3e9c,#4773eb,#22c5e2,#32f298,#69fd66,#9ffd3f,#5dfc6f,#18dec0,#458afc,#3f3e9c,#351e58,#30123b)"></i><i style="background:linear-gradient(#30123b,#33184a,#372466,#4040a2,#4776ee,#27bee9,#1bd0d5,#1fe9af,#55fa76,#18d7ca,#458afc,#424bb5,#372466,#33184a,#30123b)"></i><i style="background:linear-gradient(#30123b,#33184a,#3e3891,#4451bf,#476ee6,#28bceb,#1ad4d0,#23c3e4,#2fb2f4,#4773eb,#4040a2,#38276d,#33184a,#30123b,#30123b)"></i><i style="background:linear-gradient(#30123b,#30123b,#351e58,#3d358b,#4661d6,#466be3,#37a8fa,#458afc,#4666dd,#4249b1,#392a73,#33184a,#30123b,#30123b,#30123b)"></i><i style="background:linear-gradient(#30123b,#33184a,#351e58,#392a73,#4146ac,#4666dd,#476ee6,#4456c7,#4143a7,#3a2d79,#341b51,#321543,#30123b,#30123b,#30123b)"></i><i style="background:linear-gradient(#30123b,#33184a,#351e58,#392a73,#3e3891,#4143a7,#4143a7,#3f3b97,#3a2d79,#351e58,#321543,#30123b,#30123b,#30123b,#30123b)"></i><i style="background:linear-gradient(#30123b,#321543,#341b51,#372466,#3a2d79,#3b2f80,#3b2f80,#38276d,#351e58,#33184a,#30123b,#30123b,#30123b,#30123b,#30123b)"></i><i style="background:linear-gradient(#30123b,#321543,#33184a,#351e58,#36215f,#36215f,#36215f,#341b51,#321543,#30123b,#30123b,#30123b,#30123b,#30123b,#30123b)"></i><i style="background:linear-gradient(#30123b,#30123b,#321543,#33184a,#33184a,#33184a,#33184a,#321543,#30123b,#30123b,#30123b,#30123b,#30123b,#30123b,#30123b)"></i></div></div>
<div class="p" style="left:347px;top:415px;width:104px;height:32px"><div class="c" style="left:1px;top:3px;height:22px"><i style="flex-basis:3px;background:linear-gradient(#30123b,#30123b,#30123b,#30123b,#30123b,#30123b,#30123b,#30123b,#30123b,#30123b,#30123b,#30123b)"></i><i style="flex-basis:3px;background:linear-gradient(#30123b,#30123b,#30123b,#30123b,#30123b,#30123b,#321543,#30123b,#30123b,#321543,#30123b,#30123b)"></i><i style="flex-basis:3px;background:linear-gradient(#30123b,#30123b,#30123b,#30123b,#30123b,#30123b,#321543,#30123b,#321543,#30123b,#30123b,#30123b)"></i><i style="flex-basis:3px;background:linear-gradient(#30123b,#30123b,#30123b,#30123b,#30123b,#30123b,#321543,#321543,#33184a,#30123b,#30123b,#30123b)"></i><i style="flex-basis:3px;background:linear-gradient(#30123b,#30123b,#30123b,#30123b,#30123b,#30123b,#30123b,#321543,#30123b,#30123b,#30123b,#30123b)"></i><i style="flex-basis:3px;background:linear-gradient(#30123b,#30123b,#30123b,#30123b,#30123b,#30123b,#321543,#30123b,#30123b,#30123b,#30123b,#30123b)"></i><i style="flex-basis:3px;background:linear-gradient(#30123b,#30123b,#30123b,#30123b,#30123b,#30123b,#30123b,#30123b,#30123b,#30123b,#30123b,#30123b)"></i><i style="flex-basis:3px;background:linear-gradient(#30123b,#30123b,#30123b,#30123b,#321543,#30123b,#30123b,#30123b,#30123b,#30123b,#30123b,#30123b)"></i><i style="flex-basis:2px;background:linear-gradient(#30123b,#30123b,#30123b,#30123b,#30123b,#321543,#30123b,#30123b,#321543,#30123b,#30123b,#30123b)"></i><i style="background:linear-gradient(#30123b,#30123b,#30123b,#30123b,#30123b,#321543,#36215f,#351e58,#351e58,#321543,#321543,#30123b)"></i><i style="background:linear-gradient(#30123b,#30123b,#321543,#341b51,#392a73,#392a73,#33184a,#372466,#351e58,#36215f,#341b51,#30123b)"></i><i style="background:linear-gradient(#30123b,#30123b,#321543,#341b51,#3b2f80,#351e58,#392a73,#372466,#38276d,#3a2d79,#392a73,#30123b)"></i><i style="background:linear-gradient(#30123b,#33184a,#351e58,#3a2d79,#3f3e9c,#33184a,#341b51,#4143a7,#372466,#321543,#30123b,#30123b)"></i><i style="background:linear-gradient(#30123b,#351e58,#351e58,#33184a,#3d358b,#4661d6,#4451bf,#3c3286,#36215f,#30123b,#30123b,#30123b)"></i><i style="background:linear-gradient(#30123b,#30123b,#33184a,#351e58,#38276d,#3d358b,#30123b,#30123b,#321543,#30123b,#30123b,#30123b)"></i><i style="background:linear-gradient(#30123b,#30123b,#30123b,#321543,#33184a,#321543,#30123b,#30123b,#30123b,#30123b,#30123b,#30123b)"></i></div></div>
<div class="p" style="left:130px;top:447px;width:104px;height:31px"><div class="c" style="left:0px;top:1px;height:28px"><i style="flex-basis:3px;background:linear-gradient(#30123b,#30123b,#30123b,#321543,#36215f,#3f3b97,#455ccf,#4776ee,#4776ee,#455ed3,#3f3b97,#36215f,#321543,#30123b,#30123b)"></i><i style="flex-basis:3px;background:linear-gradient(#30123b,#30123b,#30123b,#321543,#372466,#3f3e9c,#4661d6,#477bf2,#477bf2,#4664da,#3f3e9c,#372466,#321543,#30123b,#30123b)"></i><i style="flex-basis:3px;background:linear-gradient(#30123b,#30123b,#30123b,#33184a,#372466,#4040a2,#4666dd,#4680f6,#4682f8,#4669e0,#4143a7,#372466,#321543,#30123b,#30123b)"></i><i style="flex-basis:3px;background:linear-gradient(#30123b,#30123b,#30123b,#33184a,#38276d,#4146ac,#466be3,#4687fb,#458afc,#476ee6,#4249b1,#38276d,#33184a,#30123b,#30123b)"></i><i style="flex-basis:3px;background:linear-gradient(#30123b,#30123b,#30123b,#33184a,#392a73,#424bb5,#4773eb,#4391fe,#4294ff,#4778f0,#434eba,#3a2d79,#33184a,#30123b,#30123b)"></i><i style="flex-basis:2px;background:linear-gradient(#30123b,#30123b,#30123b,#341b51,#3b2f80,#4451bf,#467df4,#3e9bfe,#3d9efe,#4682f8,#4456c7,#3b2f80,#341b51,#30123b,#30123b)"></i><i style="flex-basis:2px;background:linear-gradient(#30123b,#30123b,#321543,#351e58,#3c3286,#4559cb,#4685fa,#37a8fa,#35abf8,#458cfd,#455ed3,#3d358b,#351e58,#321543,#30123b)"></i><i style="background:linear-gradient(#30123b,#30123b,#321543,#351e58,#3d358b,#455ed3,#448ffe,#2fb2f4,#2eb4f2,#4196ff,#4666dd,#3e3891,#351e58,#321543,#30123b)"></i><i style="background:linear-gradient(#30123b,#30123b,#321543,#36215f,#3e3891,#4664da,#4294ff,#2ab9ee,#28bceb,#3d9efe,#466be3,#3f3e9c,#36215f,#321543,#30123b)"></i><i style="background:linear-gradient(#30123b,#30123b,#321543,#36215f,#3f3e9c,#4669e0,#3e9bfe,#23c3e4,#22c5e2,#38a5fb,#4773eb,#4040a2,#372466,#321543,#30123b)"></i><i style="background:linear-gradient(#30123b,#30123b,#321543,#372466,#4040a2,#4771e9,#38a5fb,#1ecbda,#1bd0d5,#2fb2f4,#477bf2,#4146ac,#38276d,#33184a,#30123b)"></i><i style="background:linear-gradient(#30123b,#30123b,#33184a,#38276d,#4146ac,#4778f0,#2fb2f4,#18d7ca,#18dbc5,#25c0e7,#4685fa,#434eba,#392a73,#33184a,#30123b)"></i><i style="background:linear-gradient(#30123b,#30123b,#33184a,#38276d,#424bb5,#4682f8,#25c0e7,#1ae4b6,#1fe9af,#1bd0d5,#4294ff,#4456c7,#3a2d79,#341b51,#30123b)"></i><i style="background:linear-gradient(#30123b,#30123b,#33184a,#3a2d79,#4454c3,#448ffe,#1ad2d2,#2ff19b,#3ff68a,#1ae4b6,#35abf8,#4666dd,#3d358b,#351e58,#30123b)"></i><i style="background:linear-gradient(#30123b,#30123b,#341b51,#3c3286,#455ed3,#3aa3fc,#1de7b2,#71fe5f,#8bff4b,#4ef97d,#1ecbda,#477bf2,#4040a2,#36215f,#30123b)"></i><i style="background:linear-gradient(#30123b,#321543,#351e58,#3e3891,#4771e9,#23c3e4,#5dfc6f,#c3f134,#d9e436,#a4fc3c,#1ce6b4,#458cfd,#4146ac,#36215f,#30123b)"></i><i style="background:linear-gradient(#30123b,#321543,#372466,#4146ac,#458afc,#1ce6b4,#b1f936,#f6c33a,#f7c13a,#affa37,#18e0bd,#467df4,#3f3e9c,#351e58,#30123b)"></i><i style="background:linear-gradient(#30123b,#341b51,#3b2f80,#455ccf,#3ba0fd,#20eaac,#8fff49,#b9f635,#9ffd3f,#2ff19b,#37a8fa,#4456c7,#392a73,#33184a,#30123b)"></i><i style="background:linear-gradient(#30123b,#341b51,#3b2f80,#4456c7,#448ffe,#1ecbda,#20eaac,#25eca7,#1ad2d2,#4196ff,#4456c7,#3a2d79,#33184a,#30123b,#30123b)"></i><i style="background:linear-gradient(#30123b,#341b51,#3a2d79,#424bb5,#4776ee,#3e9bfe,#31aff5,#38a5fb,#4680f6,#4454c3,#3b2f80,#341b51,#30123b,#30123b,#30123b)"></i><i style="background:linear-gradient(#30123b,#341b51,#392a73,#4143a7,#4661d6,#4778f0,#4680f6,#4773eb,#4454c3,#3d358b,#351e58,#321543,#30123b,#30123b,#30123b)"></i><i style="background:linear-gradient(#30123b,#341b51,#38276d,#3f3b97,#434eba,#455ed3,#455ed3,#434eba,#3e3891,#372466,#33184a,#30123b,#30123b,#30123b,#30123b)"></i><i style="background:linear-gradient(#30123b,#341b51,#372466,#3c3286,#3f3e9c,#4143a7,#4040a2,#3c3286,#372466,#341b51,#321543,#30123b,#30123b,#30123b,#30123b)"></i><i style="background:linear-gradient(#30123b,#33184a,#351e58,#38276d,#3a2d79,#3a2d79,#392a73,#36215f,#33184a,#321543,#30123b,#30123b,#30123b,#30123b,#30123b)"></i><i style="flex-basis:2px;background:linear-gradient(#30123b,#321543,#33184a,#341b51,#341b51,#341b51,#33184a,#321543,#30123b,#30123b,#30123b,#30123b,#30123b,#30123b,#30123b)"></i></div></div>
<div class="p" style="left:239px;top:447px;width:103px;height:31px"><div class="c" style="left:0px;top:0px;height:30px"><i style="flex-basis:2px;background:linear-gradient(#30123b,#30123b,#30123b,#321543,#341b51,#392a73,#424bb5,#476ee6,#4776ee,#4771e9,#434eba,#3a2d79,#33184a,#30123b,#30123b,#30123b)"></i><i style="flex-basis:3px;background:linear-gradient(#30123b,#30123b,#30123b,#30123b,#341b51,#3a2d79,#424bb5,#476ee6,#4682f8,#4771e9,#434eba,#3b2f80,#341b51,#30123b,#30123b,#30123b)"></i><i style="flex-basis:2px;background:linear-gradient(#30123b,#30123b,#30123b,#30123b,#341b51,#3b2f80,#4454c3,#4773eb,#4682f8,#4776ee,#4454c3,#3c3286,#341b51,#321543,#30123b,#30123b)"></i><i style="flex-basis:2px;background:linear-gradient(#30123b,#30123b,#30123b,#321543,#351e58,#3b2f80,#4454c3,#4776ee,#448ffe,#467df4,#4456c7,#3c3286,#341b51,#30123b,#30123b,#30123b)"></i><i style="flex-basis:2px;background:linear-gradient(#30123b,#30123b,#30123b,#321543,#351e58,#3c3286,#4454c3,#477bf2,#4196ff,#4682f8,#455ed3,#3d358b,#341b51,#321543,#30123b,#30123b)"></i><i style="flex-basis:2px;background:linear-gradient(#30123b,#30123b,#30123b,#321543,#351e58,#3d358b,#455ccf,#4685fa,#4099ff,#4687fb,#4664da,#3f3b97,#351e58,#321543,#30123b,#30123b)"></i><i style="flex-basis:2px;background:linear-gradient(#30123b,#30123b,#30123b,#321543,#36215f,#3f3b97,#455ed3,#4687fb,#3e9bfe,#448ffe,#4669e0,#3f3b97,#36215f,#321543,#30123b,#30123b)"></i><i style="flex-basis:2px;background:linear-gradient(#30123b,#30123b,#30123b,#321543,#372466,#4143a7,#4669e0,#458cfd,#38a5fb,#4099ff,#4771e9,#4040a2,#372466,#321543,#30123b,#30123b)"></i><i style="background:linear-gradient(#30123b,#30123b,#30123b,#33184a,#372466,#4143a7,#4771e9,#4196ff,#37a8fa,#3ba0fd,#4778f0,#4146ac,#372466,#321543,#30123b,#30123b)"></i><i style="background:linear-gradient(#30123b,#30123b,#30123b,#33184a,#38276d,#4146ac,#4773eb,#3ba0fd,#31aff5,#37a8fa,#467df4,#424bb5,#38276d,#321543,#30123b,#30123b)"></i><i style="background:linear-gradient(#30123b,#30123b,#30123b,#33184a,#392a73,#4249b1,#4776ee,#38a5fb,#28bceb,#31aff5,#4682f8,#4451bf,#392a73,#33184a,#30123b,#30123b)"></i><i style="background:linear-gradient(#30123b,#30123b,#30123b,#33184a,#392a73,#434eba,#477bf2,#33adf7,#20c7df,#2cb7f0,#458afc,#4456c7,#3a2d79,#341b51,#30123b,#30123b)"></i><i style="background:linear-gradient(#30123b,#30123b,#321543,#33184a,#3a2d79,#4454c3,#4685fa,#2cb7f0,#1ad2d2,#23c3e4,#4391fe,#455ccf,#3b2f80,#341b51,#30123b,#30123b)"></i><i style="background:linear-gradient(#30123b,#30123b,#321543,#341b51,#3b2f80,#4559cb,#4391fe,#22c5e2,#18dbc5,#1ccdd8,#3e9bfe,#4661d6,#3e3891,#351e58,#321543,#30123b)"></i><i style="background:linear-gradient(#30123b,#30123b,#321543,#341b51,#3c3286,#455ed3,#3d9efe,#1bd0d5,#19e3b9,#18dbc5,#35abf8,#466be3,#3f3e9c,#36215f,#321543,#30123b)"></i><i style="background:linear-gradient(#30123b,#30123b,#321543,#351e58,#3e3891,#4666dd,#37a8fa,#18dbc5,#27eea4,#1de7b2,#27bee9,#477bf2,#4143a7,#372466,#321543,#30123b)"></i><i style="background:linear-gradient(#30123b,#30123b,#321543,#36215f,#3f3e9c,#4773eb,#2ab9ee,#22ebaa,#52fa7a,#43f787,#18d9c8,#4391fe,#4451bf,#38276d,#33184a,#30123b)"></i><i style="background:linear-gradient(#30123b,#30123b,#33184a,#38276d,#4249b1,#4685fa,#19d5cd,#69fd66,#a9fb39,#9cfe40,#38f491,#2eb4f2,#4666dd,#3c3286,#341b51,#30123b)"></i><i style="background:linear-gradient(#30123b,#30123b,#33184a,#3a2d79,#4456c7,#3aa3fc,#38f491,#d4e735,#faba39,#e5d938,#84ff51,#23c3e4,#476ee6,#3c3286,#341b51,#30123b)"></i><i style="background:linear-gradient(#30123b,#321543,#36215f,#3f3e9c,#4771e9,#20c7df,#92ff47,#d2e935,#d0ea34,#acfb38,#2cf09e,#3ba0fd,#4559cb,#38276d,#33184a,#30123b)"></i><i style="background:linear-gradient(#30123b,#33184a,#3a2d79,#4456c7,#3ba0fd,#46f884,#bcf534,#9ffd3f,#92ff47,#3ff68a,#20c7df,#466be3,#3b2f80,#341b51,#30123b,#30123b)"></i><i style="background:linear-gradient(#30123b,#341b51,#38276d,#4146ac,#4687fb,#18ddc2,#2ff19b,#19e2bb,#3ba0fd,#4294ff,#466be3,#3d358b,#341b51,#30123b,#30123b,#30123b)"></i><i style="background:linear-gradient(#30123b,#33184a,#36215f,#3c3286,#476ee6,#467df4,#1bd0d5,#1ad4d0,#4685fa,#4559cb,#3c3286,#351e58,#321543,#30123b,#30123b,#30123b)"></i><i style="background:linear-gradient(#30123b,#341b51,#372466,#3c3286,#4454c3,#4771e9,#4682f8,#4685fa,#4664da,#3f3b97,#372466,#321543,#30123b,#30123b,#30123b,#30123b)"></i><i style="background:linear-gradient(#30123b,#33184a,#36215f,#3b2f80,#4040a2,#4451bf,#4454c3,#4249b1,#3f3b97,#38276d,#341b51,#30123b,#30123b,#30123b,#30123b,#30123b)"></i><i style="background:linear-gradient(#30123b,#33184a,#351e58,#392a73,#3c3286,#3f3b97,#3e3891,#3b2f80,#372466,#341b51,#321543,#30123b,#30123b,#30123b,#30123b,#30123b)"></i><i style="background:linear-gradient(#30123b,#321543,#341b51,#36215f,#38276d,#38276d,#372466,#36215f,#33184a,#321543,#30123b,#30123b,#30123b,#30123b,#30123b,#30123b)"></i><i style="flex-basis:2px;background:linear-gradient(#30123b,#30123b,#321543,#33184a,#33184a,#33184a,#321543,#321543,#30123b,#30123b,#30123b,#30123b,#30123b,#30123b,#30123b,#30123b)"></i></div></div>
<div class="p" style="left:347px;top:447px;width:104px;height:31px"><div class="c" style="left:0px;top:3px;height:23px"><i style="flex-basis:3px;background:linear-gradient(#30123b,#30123b,#30123b,#30123b,#30123b,#30123b,#30123b,#321543,#321543,#30123b,#30123b,#30123b,#30123b)"></i><i style="flex-basis:3px;background:linear-gradient(#30123b,#30123b,#30123b,#30123b,#30123b,#30123b,#30123b,#321543,#30123b,#30123b,#321543,#30123b,#30123b)"></i><i style="flex-basis:3px;background:linear-gradient(#30123b,#30123b,#30123b,#30123b,#30123b,#30123b,#30123b,#321543,#30123b,#30123b,#30123b,#30123b,#30123b)"></i><i style="flex-basis:3px;background:linear-gradient(#30123b,#30123b,#30123b,#30123b,#321543,#30123b,#30123b,#341b51,#30123b,#30123b,#30123b,#30123b,#30123b)"></i><i style="flex-basis:3px;background:linear-gradient(#30123b,#30123b,#30123b,#30123b,#30123b,#321543,#30123b,#30123b,#321543,#321543,#30123b,#30123b,#30123b)"></i><i style="flex-basis:3px;background:linear-gradient(#30123b,#30123b,#30123b,#30123b,#30123b,#321543,#321543,#30123b,#321543,#30123b,#30123b,#30123b,#30123b)"></i><i style="flex-basis:3px;background:linear-gradient(#30123b,#30123b,#30123b,#30123b,#30123b,#30123b,#321543,#30123b,#321543,#30123b,#30123b,#30123b,#30123b)"></i><i style="flex-basis:3px;background:linear-gradient(#30123b,#30123b,#30123b,#30123b,#30123b,#30123b,#321543,#341b51,#321543,#30123b,#30123b,#30123b,#30123b)"></i><i style="flex-basis:3px;background:linear-gradient(#30123b,#30123b,#30123b,#30123b,#30123b,#30123b,#30123b,#30123b,#30123b,#30123b,#30123b,#30123b,#30123b)"></i><i style="background:linear-gradient(#30123b,#30123b,#30123b,#30123b,#30123b,#30123b,#341b51,#351e58,#30123b,#33184a,#321543,#341b51,#30123b)"></i><i style="background:linear-gradient(#30123b,#30123b,#30123b,#341b51,#30123b,#3a2d79,#3b2f80,#321543,#30123b,#30123b,#321543,#341b51,#30123b)"></i><i style="background:linear-gradient(#30123b,#33184a,#341b51,#3a2d79,#4559cb,#424bb5,#392a73,#3b2f80,#321543,#351e58,#30123b,#30123b,#30123b)"></i><i style="background:linear-gradient(#30123b,#351e58,#38276d,#4143a7,#4666dd,#4669e0,#36215f,#30123b,#36215f,#392a73,#341b51,#30123b,#30123b)"></i><i style="background:linear-gradient(#30123b,#321543,#33184a,#4146ac,#455ccf,#4454c3,#36215f,#36215f,#351e58,#351e58,#30123b,#30123b,#30123b)"></i><i style="background:linear-gradient(#30123b,#33184a,#341b51,#30123b,#33184a,#4249b1,#3f3b97,#33184a,#30123b,#30123b,#30123b,#30123b,#30123b)"></i><i style="background:linear-gradient(#30123b,#321543,#30123b,#33184a,#351e58,#33184a,#351e58,#321543,#30123b,#30123b,#30123b,#30123b,#30123b)"></i></div></div>
<div class="p" style="left:130px;top:478px;width:104px;height:31px"><div class="c" style="left:0px;top:1px;height:29px"><i style="flex-basis:3px;background:linear-gradient(#30123b,#30123b,#30123b,#33184a,#38276d,#4249b1,#4776ee,#4196ff,#4294ff,#4771e9,#4143a7,#372466,#321543,#30123b,#30123b)"></i><i style="flex-basis:3px;background:linear-gradient(#30123b,#30123b,#30123b,#33184a,#392a73,#434eba,#467df4,#3d9efe,#3e9bfe,#4776ee,#4146ac,#372466,#321543,#30123b,#30123b)"></i><i style="flex-basis:3px;background:linear-gradient(#30123b,#30123b,#30123b,#33184a,#392a73,#4451bf,#4682f8,#38a5fb,#38a5fb,#467df4,#424bb5,#38276d,#321543,#30123b,#30123b)"></i><i style="flex-basis:2px;background:linear-gradient(#30123b,#30123b,#30123b,#33184a,#3a2d79,#4456c7,#458afc,#31aff5,#33adf7,#4685fa,#4451bf,#392a73,#33184a,#30123b,#30123b)"></i><i style="flex-basis:2px;background:linear-gradient(#30123b,#30123b,#30123b,#341b51,#3b2f80,#455ccf,#4391fe,#2cb7f0,#2eb4f2,#458cfd,#4456c7,#3a2d79,#33184a,#30123b,#30123b)"></i><i style="flex-basis:2px;background:linear-gradient(#30123b,#30123b,#30123b,#341b51,#3c3286,#4661d6,#4099ff,#25c0e7,#27bee9,#4294ff,#455ccf,#3b2f80,#33184a,#30123b,#30123b)"></i><i style="flex-basis:2px;background:linear-gradient(#30123b,#30123b,#30123b,#351e58,#3e3891,#4669e0,#3aa3fc,#1fc9dd,#1fc9dd,#3d9efe,#4664da,#3c3286,#341b51,#30123b,#30123b)"></i><i style="background:linear-gradient(#30123b,#30123b,#321543,#351e58,#3f3b97,#476ee6,#35abf8,#1ad4d0,#1ad2d2,#37a8fa,#4669e0,#3e3891,#341b51,#30123b,#30123b)"></i><i style="background:linear-gradient(#30123b,#30123b,#321543,#36215f,#3f3e9c,#4773eb,#2fb2f4,#18d9c8,#18d9c8,#31aff5,#476ee6,#3f3b97,#351e58,#30123b,#30123b)"></i><i style="background:linear-gradient(#30123b,#30123b,#321543,#36215f,#4040a2,#4778f0,#2ab9ee,#18e0bd,#18e0bd,#2ab9ee,#4776ee,#3f3e9c,#351e58,#321543,#30123b)"></i><i style="background:linear-gradient(#30123b,#30123b,#321543,#372466,#4146ac,#467df4,#25c0e7,#1ce6b4,#1ce6b4,#23c3e4,#467df4,#4040a2,#36215f,#321543,#30123b)"></i><i style="background:linear-gradient(#30123b,#30123b,#321543,#372466,#4249b1,#4685fa,#1ecbda,#25eca7,#27eea4,#1ccdd8,#4685fa,#4146ac,#372466,#321543,#30123b)"></i><i style="background:linear-gradient(#30123b,#30123b,#33184a,#38276d,#434eba,#448ffe,#19d5cd,#35f394,#38f491,#18d7ca,#448ffe,#434eba,#38276d,#321543,#30123b)"></i><i style="background:linear-gradient(#30123b,#30123b,#33184a,#392a73,#4454c3,#4099ff,#18e0bd,#52fa7a,#59fb73,#1ae4b6,#3d9efe,#4454c3,#392a73,#33184a,#30123b)"></i><i style="background:linear-gradient(#30123b,#30123b,#33184a,#3a2d79,#455ccf,#38a5fb,#22ebaa,#7dff56,#84ff51,#2ff19b,#31aff5,#4661d6,#3b2f80,#33184a,#30123b)"></i><i style="background:linear-gradient(#30123b,#30123b,#341b51,#3c3286,#4666dd,#2ab9ee,#46f884,#acfb38,#b7f735,#69fd66,#1fc9dd,#4771e9,#3d358b,#341b51,#30123b)"></i><i style="background:linear-gradient(#30123b,#321543,#351e58,#3e3891,#4776ee,#1bd0d5,#88ff4e,#e5d938,#f1cb3a,#b9f635,#1fe9af,#458afc,#4040a2,#36215f,#30123b)"></i><i style="background:linear-gradient(#30123b,#321543,#36215f,#4143a7,#458afc,#25eca7,#d7e535,#fb7e21,#f36315,#f7c13a,#55fa76,#3e9bfe,#4249b1,#36215f,#30123b)"></i><i style="background:linear-gradient(#30123b,#33184a,#38276d,#4454c3,#31aff5,#7dff56,#fe992c,#ca2a04,#d23105,#faba39,#3cf58e,#458afc,#3f3e9c,#351e58,#30123b)"></i><i style="background:linear-gradient(#30123b,#351e58,#3d358b,#476ee6,#1fc9dd,#8bff4b,#f6c33a,#fe962b,#f7c13a,#92ff47,#23c3e4,#455ed3,#392a73,#321543,#30123b)"></i><i style="background:linear-gradient(#30123b,#351e58,#3e3891,#4669e0,#2eb4f2,#35f394,#92ff47,#92ff47,#38f491,#2eb4f2,#4664da,#3b2f80,#33184a,#30123b,#30123b)"></i><i style="background:linear-gradient(#30123b,#351e58,#3d358b,#455ccf,#4294ff,#20c7df,#18dec0,#1ad2d2,#3d9efe,#4661d6,#3c3286,#341b51,#30123b,#30123b,#30123b)"></i><i style="background:linear-gradient(#30123b,#351e58,#3b2f80,#4451bf,#4778f0,#3e9bfe,#38a5fb,#448ffe,#4666dd,#3f3b97,#36215f,#321543,#30123b,#30123b,#30123b)"></i><i style="background:linear-gradient(#30123b,#351e58,#3a2d79,#4146ac,#4664da,#4776ee,#4776ee,#4661d6,#4143a7,#38276d,#33184a,#30123b,#30123b,#30123b,#30123b)"></i><i style="background:linear-gradient(#30123b,#341b51,#392a73,#3f3b97,#424bb5,#4454c3,#434eba,#3f3e9c,#392a73,#341b51,#321543,#30123b,#30123b,#30123b,#30123b)"></i><i style="background:linear-gradient(#30123b,#341b51,#372466,#3b2f80,#3d358b,#3e3891,#3c3286,#38276d,#341b51,#321543,#30123b,#30123b,#30123b,#30123b,#30123b)"></i><i style="background:linear-gradient(#30123b,#33184a,#341b51,#36215f,#372466,#372466,#351e58,#33184a,#321543,#30123b,#30123b,#30123b,#30123b,#30123b,#30123b)"></i><i style="background:linear-gradient(#30123b,#321543,#33184a,#33184a,#341b51,#33184a,#321543,#321543,#30123b,#30123b,#30123b,#30123b,#30123b,#30123b,#30123b)"></i></div></div>
<div class="p" style="left:239px;top:478px;width:103px;height:31px"><div class="c" style="left:0px;top:0px;height:30px"><i style="flex-basis:3px;background:linear-gradient(#30123b,#30123b,#30123b,#30123b,#351e58,#3b2f80,#4559cb,#4685fa,#3d9efe,#4391fe,#466be3,#3f3e9c,#36215f,#321543,#30123b,#30123b)"></i><i style="flex-basis:2px;background:linear-gradient(#30123b,#30123b,#30123b,#321543,#351e58,#3c3286,#455ccf,#4685fa,#3aa3fc,#4196ff,#476ee6,#4040a2,#36215f,#321543,#30123b,#30123b)"></i><i style="flex-basis:2px;background:linear-gradient(#30123b,#30123b,#30123b,#321543,#351e58,#3c3286,#4661d6,#448ffe,#37a8fa,#3e9bfe,#4776ee,#4040a2,#36215f,#321543,#30123b,#30123b)"></i><i style="flex-basis:2px;background:linear-gradient(#30123b,#30123b,#30123b,#30123b,#351e58,#3f3b97,#4666dd,#4391fe,#31aff5,#3ba0fd,#477bf2,#4146ac,#372466,#321543,#30123b,#30123b)"></i><i style="flex-basis:2px;background:linear-gradient(#30123b,#30123b,#30123b,#30123b,#36215f,#3f3b97,#4664da,#4196ff,#2ab9ee,#37a8fa,#4682f8,#434eba,#38276d,#33184a,#30123b,#30123b)"></i><i style="flex-basis:2px;background:linear-gradient(#30123b,#30123b,#30123b,#321543,#36215f,#3f3b97,#4669e0,#3ba0fd,#23c3e4,#31aff5,#4682f8,#4451bf,#38276d,#33184a,#30123b,#30123b)"></i><i style="flex-basis:2px;background:linear-gradient(#30123b,#30123b,#30123b,#321543,#372466,#3f3e9c,#4771e9,#37a8fa,#20c7df,#27bee9,#458afc,#4456c7,#3a2d79,#33184a,#30123b,#30123b)"></i><i style="flex-basis:2px;background:linear-gradient(#30123b,#30123b,#30123b,#33184a,#372466,#4146ac,#4778f0,#2eb4f2,#1bd0d5,#20c7df,#4196ff,#455ccf,#3b2f80,#341b51,#30123b,#30123b)"></i><i style="background:linear-gradient(#30123b,#30123b,#30123b,#33184a,#392a73,#424bb5,#4680f6,#27bee9,#18d7ca,#1bd0d5,#3ba0fd,#4664da,#3c3286,#341b51,#30123b,#30123b)"></i><i style="background:linear-gradient(#30123b,#30123b,#30123b,#33184a,#392a73,#424bb5,#458afc,#23c3e4,#18e0bd,#18d7ca,#37a8fa,#4669e0,#3d358b,#351e58,#30123b,#30123b)"></i><i style="background:linear-gradient(#30123b,#30123b,#30123b,#341b51,#3a2d79,#4451bf,#4391fe,#1ecbda,#1ce6b4,#18dec0,#2fb2f4,#476ee6,#3e3891,#351e58,#321543,#30123b)"></i><i style="background:linear-gradient(#30123b,#30123b,#30123b,#341b51,#3a2d79,#4456c7,#4196ff,#19d5cd,#25eca7,#1ce6b4,#27bee9,#4776ee,#3f3e9c,#36215f,#321543,#30123b)"></i><i style="background:linear-gradient(#30123b,#30123b,#321543,#341b51,#3c3286,#455ed3,#3d9efe,#18e0bd,#32f298,#27eea4,#1fc9dd,#4680f6,#4143a7,#36215f,#321543,#30123b)"></i><i style="background:linear-gradient(#30123b,#30123b,#321543,#341b51,#3d358b,#4666dd,#37a8fa,#1fe9af,#4af880,#3cf58e,#1ad4d0,#458afc,#424bb5,#372466,#321543,#30123b)"></i><i style="background:linear-gradient(#30123b,#30123b,#321543,#351e58,#3f3b97,#476ee6,#2eb4f2,#2cf09e,#69fd66,#59fb73,#19e2bb,#4099ff,#4454c3,#392a73,#33184a,#30123b)"></i><i style="background:linear-gradient(#30123b,#30123b,#321543,#36215f,#4040a2,#4778f0,#22c5e2,#4af880,#96fe44,#8bff4b,#2ff19b,#33adf7,#455ed3,#3b2f80,#33184a,#30123b)"></i><i style="background:linear-gradient(#30123b,#30123b,#321543,#372466,#4146ac,#4687fb,#18dbc5,#7dff56,#c8ef34,#c6f034,#79fe59,#1ccdd8,#4773eb,#3f3b97,#341b51,#30123b)"></i><i style="background:linear-gradient(#30123b,#30123b,#33184a,#38276d,#4451bf,#3e9bfe,#35f394,#c8ef34,#fcb136,#fdae35,#d7e535,#35f394,#448ffe,#4143a7,#351e58,#30123b)"></i><i style="background:linear-gradient(#30123b,#30123b,#341b51,#3b2f80,#4664da,#22c5e2,#96fe44,#fe9b2d,#ea4e0d,#f26014,#eecf3a,#38f491,#4687fb,#3f3b97,#351e58,#30123b)"></i><i style="background:linear-gradient(#30123b,#321543,#372466,#4143a7,#4682f8,#20eaac,#d7e535,#fb8122,#d02f05,#eb500e,#dde037,#18ddc2,#4776ee,#3e3891,#341b51,#30123b)"></i><i style="background:linear-gradient(#30123b,#341b51,#3b2f80,#4249b1,#477bf2,#20eaac,#9ffd3f,#d2e935,#e9d539,#d4e735,#22ebaa,#4685fa,#4143a7,#372466,#321543,#30123b)"></i><i style="background:linear-gradient(#30123b,#351e58,#3c3286,#4143a7,#3e9bfe,#20eaac,#a1fd3d,#a4fc3c,#35f394,#18d7ca,#458cfd,#4040a2,#36215f,#321543,#30123b,#30123b)"></i><i style="background:linear-gradient(#30123b,#341b51,#3b2f80,#3f3e9c,#4687fb,#1ccdd8,#2cf09e,#18d7ca,#2fb2f4,#477bf2,#4249b1,#38276d,#33184a,#30123b,#30123b,#30123b)"></i><i style="background:linear-gradient(#30123b,#33184a,#38276d,#4040a2,#4669e0,#458afc,#3ba0fd,#3aa3fc,#4773eb,#424bb5,#3a2d79,#341b51,#30123b,#30123b,#30123b,#30123b)"></i><i style="background:linear-gradient(#30123b,#341b51,#372466,#3e3891,#4451bf,#4669e0,#466be3,#4661d6,#424bb5,#3c3286,#351e58,#321543,#30123b,#30123b,#30123b,#30123b)"></i><i style="background:linear-gradient(#30123b,#33184a,#36215f,#3a2d79,#3f3e9c,#4146ac,#4146ac,#3f3e9c,#3b2f80,#36215f,#33184a,#30123b,#30123b,#30123b,#30123b,#30123b)"></i><i style="background:linear-gradient(#30123b,#321543,#341b51,#372466,#3a2d79,#3b2f80,#3a2d79,#38276d,#351e58,#33184a,#30123b,#30123b,#30123b,#30123b,#30123b,#30123b)"></i><i style="flex-basis:2px;background:linear-gradient(#30123b,#30123b,#321543,#33184a,#341b51,#341b51,#33184a,#321543,#30123b,#30123b,#30123b,#30123b,#30123b,#30123b,#30123b,#30123b)"></i></div></div>
<div class="p" style="left:347px;top:478px;width:104px;height:31px"><div class="c" style="left:0px;top:1px;height:26px"><i style="flex-basis:3px;background:linear-gradient(#30123b,#30123b,#30123b,#30123b,#30123b,#30123b,#321543,#30123b,#321543,#321543,#30123b,#30123b,#30123b,#30123b)"></i><i style="flex-basis:3px;background:linear-gradient(#30123b,#30123b,#30123b,#30123b,#30123b,#321543,#321543,#30123b,#30123b,#30123b,#30123b,#30123b,#30123b,#30123b)"></i><i style="flex-basis:3px;background:linear-gradient(#30123b,#30123b,#30123b,#30123b,#30123b,#30123b,#321543,#30123b,#30123b,#321543,#30123b,#30123b,#30123b,#30123b)"></i><i style="flex-basis:3px;background:linear-gradient(#30123b,#30123b,#30123b,#30123b,#30123b,#30123b,#30123b,#30123b,#30123b,#321543,#30123b,#30123b,#30123b,#30123b)"></i><i style="flex-basis:3px;background:linear-gradient(#30123b,#30123b,#30123b,#30123b,#321543,#30123b,#321543,#33184a,#321543,#30123b,#30123b,#30123b,#30123b,#30123b)"></i><i style="flex-basis:3px;background:linear-gradient(#30123b,#30123b,#30123b,#30123b,#30123b,#30123b,#30123b,#30123b,#30123b,#30123b,#30123b,#30123b,#30123b,#30123b)"></i><i style="flex-basis:3px;background:linear-gradient(#30123b,#30123b,#30123b,#30123b,#30123b,#30123b,#30123b,#30123b,#30123b,#30123b,#30123b,#30123b,#30123b,#30123b)"></i><i style="flex-basis:3px;background:linear-gradient(#30123b,#30123b,#30123b,#30123b,#30123b,#30123b,#30123b,#33184a,#30123b,#30123b,#30123b,#30123b,#30123b,#30123b)"></i><i style="flex-basis:2px;background:linear-gradient(#30123b,#30123b,#30123b,#30123b,#30123b,#30123b,#321543,#30123b,#321543,#30123b,#30123b,#30123b,#30123b,#30123b)"></i><i style="background:linear-gradient(#30123b,#30123b,#30123b,#30123b,#30123b,#321543,#321543,#30123b,#30123b,#351e58,#351e58,#321543,#30123b,#30123b)"></i><i style="background:linear-gradient(#30123b,#30123b,#30123b,#30123b,#30123b,#321543,#33184a,#351e58,#33184a,#36215f,#38276d,#36215f,#30123b,#30123b)"></i><i style="background:linear-gradient(#30123b,#30123b,#30123b,#30123b,#351e58,#351e58,#30123b,#321543,#3c3286,#372466,#372466,#36215f,#351e58,#30123b)"></i><i style="background:linear-gradient(#30123b,#321543,#321543,#33184a,#351e58,#351e58,#321543,#341b51,#38276d,#321543,#372466,#321543,#321543,#30123b)"></i><i style="background:linear-gradient(#30123b,#33184a,#30123b,#372466,#351e58,#4040a2,#30123b,#392a73,#38276d,#3d358b,#321543,#341b51,#30123b,#30123b)"></i><i style="background:linear-gradient(#30123b,#36215f,#341b51,#3c3286,#4143a7,#476ee6,#476ee6,#3d358b,#341b51,#341b51,#30123b,#30123b,#30123b,#30123b)"></i><i style="background:linear-gradient(#30123b,#30123b,#321543,#321543,#3f3b97,#3f3b97,#4249b1,#372466,#33184a,#30123b,#30123b,#30123b,#30123b,#30123b)"></i><i style="background:linear-gradient(#30123b,#30123b,#321543,#341b51,#36215f,#36215f,#351e58,#321543,#30123b,#30123b,#30123b,#30123b,#30123b,#30123b)"></i></div></div>
<div class="p" style="left:130px;top:509px;width:104px;height:32px"><div class="c" style="left:0px;top:1px;height:30px"><i style="flex-basis:3px;background:linear-gradient(#30123b,#30123b,#30123b,#321543,#36215f,#4040a2,#476ee6,#4099ff,#37a8fa,#4391fe,#4661d6,#3d358b,#341b51,#30123b,#30123b,#30123b)"></i><i style="flex-basis:3px;background:linear-gradient(#30123b,#30123b,#30123b,#321543,#372466,#4143a7,#4773eb,#3ba0fd,#2fb2f4,#4099ff,#4666dd,#3e3891,#351e58,#30123b,#30123b,#30123b)"></i><i style="flex-basis:3px;background:linear-gradient(#30123b,#30123b,#30123b,#321543,#372466,#4146ac,#477bf2,#37a8fa,#2ab9ee,#3ba0fd,#476ee6,#3f3b97,#351e58,#321543,#30123b,#30123b)"></i><i style="flex-basis:2px;background:linear-gradient(#30123b,#30123b,#30123b,#33184a,#38276d,#424bb5,#4680f6,#2fb2f4,#23c3e4,#35abf8,#4773eb,#4040a2,#36215f,#321543,#30123b,#30123b)"></i><i style="flex-basis:2px;background:linear-gradient(#30123b,#30123b,#30123b,#33184a,#392a73,#4451bf,#4687fb,#2ab9ee,#1ecbda,#2fb2f4,#477bf2,#4143a7,#372466,#321543,#30123b,#30123b)"></i><i style="flex-basis:2px;background:linear-gradient(#30123b,#30123b,#30123b,#33184a,#3a2d79,#4456c7,#448ffe,#23c3e4,#1ad4d0,#28bceb,#4682f8,#4249b1,#372466,#321543,#30123b,#30123b)"></i><i style="flex-basis:2px;background:linear-gradient(#30123b,#30123b,#30123b,#341b51,#3b2f80,#455ccf,#4099ff,#1ccdd8,#18ddc2,#20c7df,#458cfd,#4451bf,#392a73,#33184a,#30123b,#30123b)"></i><i style="background:linear-gradient(#30123b,#30123b,#30123b,#341b51,#3c3286,#4661d6,#3ba0fd,#19d5cd,#1ae4b6,#1ad2d2,#4196ff,#4456c7,#3a2d79,#33184a,#30123b,#30123b)"></i><i style="background:linear-gradient(#30123b,#30123b,#30123b,#351e58,#3d358b,#4666dd,#37a8fa,#18ddc2,#20eaac,#18d9c8,#3d9efe,#455ccf,#3a2d79,#33184a,#30123b,#30123b)"></i><i style="background:linear-gradient(#30123b,#30123b,#321543,#351e58,#3e3891,#466be3,#31aff5,#19e3b9,#2aefa1,#18e0bd,#38a5fb,#4661d6,#3b2f80,#341b51,#30123b,#30123b)"></i><i style="background:linear-gradient(#30123b,#30123b,#321543,#351e58,#3f3b97,#4771e9,#2cb7f0,#1fe9af,#38f491,#1de7b2,#31aff5,#4666dd,#3d358b,#341b51,#30123b,#30123b)"></i><i style="background:linear-gradient(#30123b,#30123b,#321543,#36215f,#4040a2,#4778f0,#25c0e7,#2cf09e,#4ef97d,#27eea4,#28bceb,#476ee6,#3e3891,#351e58,#321543,#30123b)"></i><i style="background:linear-gradient(#30123b,#30123b,#321543,#372466,#4143a7,#4680f6,#1ecbda,#3ff68a,#6dfe62,#3cf58e,#20c7df,#4778f0,#3f3e9c,#351e58,#321543,#30123b)"></i><i style="background:linear-gradient(#30123b,#30123b,#321543,#38276d,#4249b1,#458afc,#18d9c8,#5dfc6f,#8fff49,#61fc6c,#18d7ca,#4685fa,#4143a7,#36215f,#321543,#30123b)"></i><i style="background:linear-gradient(#30123b,#30123b,#33184a,#392a73,#4451bf,#4196ff,#1ae4b6,#88ff4e,#b1f936,#8fff49,#1de7b2,#4294ff,#434eba,#38276d,#321543,#30123b)"></i><i style="background:linear-gradient(#30123b,#30123b,#33184a,#3a2d79,#4559cb,#38a5fb,#32f298,#b4f836,#dde037,#c1f334,#46f884,#33adf7,#455ccf,#3a2d79,#33184a,#30123b)"></i><i style="background:linear-gradient(#30123b,#30123b,#341b51,#3c3286,#4666dd,#27bee9,#71fe5f,#ebd339,#fea130,#f9bc39,#9ffd3f,#1ad2d2,#476ee6,#3d358b,#341b51,#30123b)"></i><i style="background:linear-gradient(#30123b,#321543,#351e58,#3f3b97,#4778f0,#18dec0,#c3f134,#f8721c,#d02f05,#eb500e,#e3db38,#1fe9af,#467df4,#3e3891,#341b51,#30123b)"></i><i style="background:linear-gradient(#30123b,#321543,#372466,#4249b1,#4099ff,#4ef97d,#fdae35,#b41b01,#7a0403,#d43305,#dde037,#18dbc5,#466be3,#3b2f80,#33184a,#30123b)"></i><i style="background:linear-gradient(#30123b,#341b51,#3b2f80,#4661d6,#2ab9ee,#71fe5f,#f7c13a,#f46617,#f66c19,#f1cb3a,#52fa7a,#3e9bfe,#4249b1,#36215f,#321543,#30123b)"></i><i style="background:linear-gradient(#30123b,#341b51,#3c3286,#4661d6,#37a8fa,#2cf09e,#a1fd3d,#c1f334,#96fe44,#1fe9af,#4196ff,#424bb5,#372466,#321543,#30123b,#30123b)"></i><i style="background:linear-gradient(#30123b,#341b51,#3b2f80,#4456c7,#458cfd,#20c7df,#1de7b2,#1de7b2,#1fc9dd,#458afc,#434eba,#38276d,#33184a,#30123b,#30123b,#30123b)"></i><i style="background:linear-gradient(#30123b,#341b51,#3a2d79,#424bb5,#4776ee,#3d9efe,#2fb2f4,#35abf8,#4685fa,#4456c7,#3b2f80,#341b51,#30123b,#30123b,#30123b,#30123b)"></i><i style="background:linear-gradient(#30123b,#341b51,#3a2d79,#4143a7,#4664da,#477bf2,#4682f8,#4773eb,#4456c7,#3e3891,#36215f,#321543,#30123b,#30123b,#30123b,#30123b)"></i><i style="background:linear-gradient(#30123b,#341b51,#38276d,#3f3b97,#434eba,#4559cb,#4559cb,#424bb5,#3d358b,#372466,#33184a,#30123b,#30123b,#30123b,#30123b,#30123b)"></i><i style="background:linear-gradient(#30123b,#341b51,#372466,#3b2f80,#3e3891,#3f3e9c,#3e3891,#3a2d79,#36215f,#33184a,#30123b,#30123b,#30123b,#30123b,#30123b,#30123b)"></i><i style="background:linear-gradient(#30123b,#33184a,#341b51,#36215f,#38276d,#38276d,#372466,#351e58,#33184a,#30123b,#30123b,#30123b,#30123b,#30123b,#30123b,#30123b)"></i><i style="background:linear-gradient(#30123b,#321543,#33184a,#341b51,#341b51,#341b51,#33184a,#321543,#30123b,#30123b,#30123b,#30123b,#30123b,#30123b,#30123b,#30123b)"></i></div></div>
<div class="p" style="left:239px;top:509px;width:103px;height:32px"><div class="c" style="left:0px;top:0px;height:31px"><i style="flex-basis:3px;background:linear-gradient(#30123b,#30123b,#30123b,#30123b,#341b51,#38276d,#4451bf,#477bf2,#37a8fa,#38a5fb,#448ffe,#455ed3,#3c3286,#341b51,#30123b,#30123b,#30123b)"></i><i style="flex-basis:3px;background:linear-gradient(#30123b,#30123b,#30123b,#30123b,#341b51,#3a2d79,#4454c3,#4680f6,#35abf8,#33adf7,#4294ff,#455ccf,#3d358b,#341b51,#30123b,#30123b,#30123b)"></i><i style="flex-basis:2px;background:linear-gradient(#30123b,#30123b,#30123b,#30123b,#33184a,#3a2d79,#4559cb,#4687fb,#2fb2f4,#2cb7f0,#4294ff,#4664da,#3f3b97,#351e58,#30123b,#30123b,#30123b)"></i><i style="flex-basis:2px;background:linear-gradient(#30123b,#30123b,#30123b,#30123b,#341b51,#3c3286,#4559cb,#458cfd,#2ab9ee,#27bee9,#3e9bfe,#466be3,#3f3b97,#351e58,#321543,#30123b,#30123b)"></i><i style="flex-basis:2px;background:linear-gradient(#30123b,#30123b,#30123b,#30123b,#341b51,#3d358b,#455ed3,#4099ff,#23c3e4,#1fc9dd,#37a8fa,#476ee6,#3f3e9c,#36215f,#321543,#30123b,#30123b)"></i><i style="flex-basis:2px;background:linear-gradient(#30123b,#30123b,#30123b,#30123b,#351e58,#3f3b97,#4664da,#3e9bfe,#1fc9dd,#1ccdd8,#33adf7,#4773eb,#4143a7,#36215f,#321543,#30123b,#30123b)"></i><i style="background:linear-gradient(#30123b,#30123b,#30123b,#30123b,#351e58,#3f3b97,#466be3,#3aa3fc,#1bd0d5,#1ad4d0,#2cb7f0,#467df4,#4249b1,#372466,#321543,#30123b,#30123b)"></i><i style="background:linear-gradient(#30123b,#30123b,#30123b,#321543,#351e58,#3f3e9c,#4771e9,#35abf8,#19d5cd,#18d9c8,#28bceb,#4685fa,#424bb5,#38276d,#321543,#30123b,#30123b)"></i><i style="background:linear-gradient(#30123b,#30123b,#30123b,#321543,#36215f,#4040a2,#4776ee,#2fb2f4,#18d9c8,#18e0bd,#23c3e4,#458afc,#424bb5,#38276d,#33184a,#30123b,#30123b)"></i><i style="background:linear-gradient(#30123b,#30123b,#30123b,#321543,#372466,#4143a7,#4778f0,#2cb7f0,#18dec0,#1ce6b4,#1fc9dd,#448ffe,#4451bf,#392a73,#33184a,#30123b,#30123b)"></i><i style="background:linear-gradient(#30123b,#30123b,#30123b,#321543,#372466,#4146ac,#467df4,#28bceb,#1ae4b6,#20eaac,#1ad2d2,#4196ff,#4456c7,#3a2d79,#33184a,#30123b,#30123b)"></i><i style="background:linear-gradient(#30123b,#30123b,#30123b,#321543,#38276d,#4249b1,#4682f8,#23c3e4,#20eaac,#2aefa1,#18dbc5,#3d9efe,#455ccf,#3b2f80,#341b51,#30123b,#30123b)"></i><i style="background:linear-gradient(#30123b,#30123b,#30123b,#33184a,#392a73,#434eba,#458afc,#1ecbda,#2ff19b,#3cf58e,#19e3b9,#37a8fa,#4661d6,#3c3286,#341b51,#30123b,#30123b)"></i><i style="background:linear-gradient(#30123b,#30123b,#30123b,#33184a,#3a2d79,#4454c3,#4294ff,#18d7ca,#46f884,#59fb73,#25eca7,#2fb2f4,#4669e0,#3d358b,#351e58,#321543,#30123b)"></i><i style="background:linear-gradient(#30123b,#30123b,#30123b,#341b51,#3b2f80,#4559cb,#3d9efe,#19e2bb,#5dfc6f,#79fe59,#38f491,#25c0e7,#4773eb,#3f3b97,#36215f,#321543,#30123b)"></i><i style="background:linear-gradient(#30123b,#30123b,#30123b,#341b51,#3c3286,#455ed3,#35abf8,#20eaac,#84ff51,#9cfe40,#5dfc6f,#1ad2d2,#4680f6,#4143a7,#372466,#321543,#30123b)"></i><i style="background:linear-gradient(#30123b,#30123b,#321543,#351e58,#3d358b,#4669e0,#28bceb,#3cf58e,#acfb38,#c3f134,#92ff47,#1ae4b6,#4294ff,#434eba,#38276d,#33184a,#30123b)"></i><i style="background:linear-gradient(#30123b,#30123b,#321543,#36215f,#3f3e9c,#4776ee,#1ccdd8,#6dfe62,#dde037,#f4c73a,#cdec34,#4af880,#2fb2f4,#4664da,#3b2f80,#33184a,#30123b)"></i><i style="background:linear-gradient(#30123b,#30123b,#321543,#372466,#4146ac,#458afc,#1ce6b4,#c1f334,#fe992c,#f76f1a,#fcb136,#a4fc3c,#18d7ca,#4773eb,#3f3b97,#351e58,#30123b)"></i><i style="background:linear-gradient(#30123b,#30123b,#33184a,#392a73,#4456c7,#35abf8,#7dff56,#fe9b2d,#b91e02,#980e01,#e5470b,#dde037,#20eaac,#477bf2,#3e3891,#341b51,#30123b)"></i><i style="background:linear-gradient(#30123b,#321543,#36215f,#3f3e9c,#4778f0,#18d9c8,#c6f034,#f05b12,#8e0a01,#c82803,#fd8d27,#99fe42,#28bceb,#4559cb,#3a2d79,#33184a,#30123b)"></i><i style="background:linear-gradient(#30123b,#33184a,#372466,#4040a2,#458cfd,#2ff19b,#bcf534,#f9bc39,#f1cb3a,#fea130,#b9f635,#19e3b9,#4778f0,#3c3286,#341b51,#30123b,#30123b)"></i><i style="background:linear-gradient(#30123b,#33184a,#36215f,#424bb5,#4773eb,#20c7df,#1ecbda,#2ff19b,#4af880,#5dfc6f,#18d9c8,#4680f6,#3f3e9c,#351e58,#321543,#30123b,#30123b)"></i><i style="background:linear-gradient(#30123b,#33184a,#3a2d79,#455ccf,#4776ee,#28bceb,#1fe9af,#4ef97d,#1de7b2,#2fb2f4,#4669e0,#3f3b97,#351e58,#321543,#30123b,#30123b,#30123b)"></i><i style="background:linear-gradient(#30123b,#33184a,#38276d,#4146ac,#4669e0,#458cfd,#4294ff,#37a8fa,#4391fe,#4669e0,#4040a2,#372466,#33184a,#30123b,#30123b,#30123b,#30123b)"></i><i style="background:linear-gradient(#30123b,#33184a,#36215f,#3d358b,#424bb5,#4661d6,#4771e9,#4773eb,#4661d6,#4143a7,#392a73,#341b51,#30123b,#30123b,#30123b,#30123b,#30123b)"></i><i style="background:linear-gradient(#30123b,#33184a,#36215f,#3a2d79,#3f3b97,#4249b1,#434eba,#4249b1,#3f3b97,#392a73,#341b51,#321543,#30123b,#30123b,#30123b,#30123b,#30123b)"></i><i style="background:linear-gradient(#30123b,#321543,#341b51,#372466,#3a2d79,#3c3286,#3c3286,#3a2d79,#372466,#341b51,#321543,#30123b,#30123b,#30123b,#30123b,#30123b,#30123b)"></i><i style="background:linear-gradient(#30123b,#321543,#33184a,#341b51,#36215f,#36215f,#36215f,#341b51,#33184a,#321543,#30123b,#30123b,#30123b,#30123b,#30123b,#30123b,#30123b)"></i><i style="background:linear-gradient(#30123b,#30123b,#321543,#321543,#33184a,#33184a,#33184a,#321543,#30123b,#30123b,#30123b,#30123b,#30123b,#30123b,#30123b,#30123b,#30123b)"></i></div></div>
<div class="p" style="left:347px;top:509px;width:104px;height:32px"><div class="c" style="left:0px;top:2px;height:27px"><i style="flex-basis:3px;background:linear-gradient(#30123b,#30123b,#30123b,#30123b,#30123b,#30123b,#30123b,#33184a,#30123b,#321543,#321543,#30123b,#30123b,#30123b,#30123b)"></i><i style="flex-basis:3px;background:linear-gradient(#30123b,#30123b,#30123b,#30123b,#30123b,#30123b,#321543,#321543,#321543,#321543,#30123b,#30123b,#30123b,#30123b,#30123b)"></i><i style="flex-basis:3px;background:linear-gradient(#30123b,#30123b,#30123b,#30123b,#30123b,#321543,#30123b,#30123b,#30123b,#321543,#30123b,#321543,#30123b,#30123b,#30123b)"></i><i style="flex-basis:3px;background:linear-gradient(#30123b,#30123b,#30123b,#30123b,#30123b,#30123b,#30123b,#30123b,#30123b,#30123b,#30123b,#30123b,#30123b,#30123b,#30123b)"></i><i style="flex-basis:3px;background:linear-gradient(#30123b,#30123b,#30123b,#30123b,#321543,#30123b,#30123b,#30123b,#321543,#321543,#321543,#30123b,#30123b,#30123b,#30123b)"></i><i style="flex-basis:3px;background:linear-gradient(#30123b,#30123b,#30123b,#30123b,#30123b,#321543,#321543,#30123b,#30123b,#30123b,#321543,#30123b,#30123b,#30123b,#30123b)"></i><i style="flex-basis:3px;background:linear-gradient(#30123b,#30123b,#30123b,#30123b,#30123b,#30123b,#321543,#30123b,#321543,#30123b,#30123b,#30123b,#30123b,#30123b,#30123b)"></i><i style="flex-basis:3px;background:linear-gradient(#30123b,#30123b,#30123b,#30123b,#30123b,#321543,#30123b,#30123b,#30123b,#30123b,#30123b,#30123b,#30123b,#30123b,#30123b)"></i><i style="flex-basis:3px;background:linear-gradient(#30123b,#30123b,#30123b,#30123b,#30123b,#321543,#321543,#30123b,#321543,#30123b,#30123b,#30123b,#30123b,#30123b,#30123b)"></i><i style="background:linear-gradient(#30123b,#30123b,#30123b,#30123b,#30123b,#33184a,#351e58,#341b51,#33184a,#36215f,#321543,#372466,#341b51,#33184a,#30123b)"></i><i style="background:linear-gradient(#30123b,#30123b,#321543,#30123b,#321543,#392a73,#372466,#392a73,#38276d,#351e58,#341b51,#341b51,#33184a,#321543,#30123b)"></i><i style="background:linear-gradient(#30123b,#30123b,#321543,#36215f,#392a73,#3b2f80,#4146ac,#4143a7,#3b2f80,#36215f,#30123b,#321543,#30123b,#30123b,#30123b)"></i><i style="background:linear-gradient(#30123b,#30123b,#321543,#351e58,#434eba,#341b51,#36215f,#424bb5,#4146ac,#4143a7,#3e3891,#36215f,#30123b,#30123b,#30123b)"></i><i style="background:linear-gradient(#30123b,#30123b,#372466,#30123b,#392a73,#341b51,#321543,#30123b,#372466,#38276d,#341b51,#321543,#30123b,#30123b,#30123b)"></i><i style="background:linear-gradient(#30123b,#341b51,#3c3286,#3a2d79,#3b2f80,#3f3b97,#4454c3,#3d358b,#372466,#30123b,#30123b,#30123b,#30123b,#30123b,#30123b)"></i><i style="background:linear-gradient(#30123b,#30123b,#321543,#321543,#33184a,#321543,#33184a,#33184a,#30123b,#30123b,#30123b,#30123b,#30123b,#30123b,#30123b)"></i></div></div>
<div class="p" style="left:130px;top:541px;width:104px;height:31px"><div class="c" style="left:0px;top:0px;height:30px"><i style="flex-basis:3px;background:linear-gradient(#30123b,#30123b,#30123b,#321543,#351e58,#3e3891,#4666dd,#4294ff,#35abf8,#4099ff,#466be3,#3f3e9c,#36215f,#321543,#30123b,#30123b)"></i><i style="flex-basis:3px;background:linear-gradient(#30123b,#30123b,#30123b,#321543,#36215f,#3f3b97,#466be3,#3e9bfe,#2fb2f4,#3ba0fd,#4771e9,#4040a2,#36215f,#321543,#30123b,#30123b)"></i><i style="flex-basis:3px;background:linear-gradient(#30123b,#30123b,#30123b,#321543,#36215f,#4040a2,#4771e9,#3aa3fc,#28bceb,#37a8fa,#4778f0,#4143a7,#372466,#321543,#30123b,#30123b)"></i><i style="flex-basis:2px;background:linear-gradient(#30123b,#30123b,#30123b,#321543,#372466,#4143a7,#4776ee,#35abf8,#22c5e2,#2fb2f4,#4680f6,#4249b1,#372466,#321543,#30123b,#30123b)"></i><i style="flex-basis:2px;background:linear-gradient(#30123b,#30123b,#30123b,#321543,#372466,#4249b1,#467df4,#2eb4f2,#1ecbda,#28bceb,#4687fb,#434eba,#38276d,#33184a,#30123b,#30123b)"></i><i style="flex-basis:2px;background:linear-gradient(#30123b,#30123b,#30123b,#33184a,#38276d,#424bb5,#4685fa,#27bee9,#19d5cd,#22c5e2,#448ffe,#4454c3,#392a73,#33184a,#30123b,#30123b)"></i><i style="flex-basis:2px;background:linear-gradient(#30123b,#30123b,#30123b,#33184a,#392a73,#4454c3,#458cfd,#20c7df,#18dec0,#1bd0d5,#4099ff,#455ccf,#3a2d79,#33184a,#30123b,#30123b)"></i><i style="background:linear-gradient(#30123b,#30123b,#30123b,#33184a,#3a2d79,#4559cb,#4196ff,#1bd0d5,#1ce6b4,#18d9c8,#3aa3fc,#4661d6,#3c3286,#341b51,#30123b,#30123b)"></i><i style="background:linear-gradient(#30123b,#30123b,#30123b,#341b51,#3b2f80,#455ccf,#3e9bfe,#18d7ca,#20eaac,#18dec0,#35abf8,#4666dd,#3d358b,#341b51,#30123b,#30123b)"></i><i style="background:linear-gradient(#30123b,#30123b,#30123b,#341b51,#3c3286,#4661d6,#3aa3fc,#18dec0,#2cf09e,#1ce6b4,#2eb4f2,#466be3,#3e3891,#351e58,#30123b,#30123b)"></i><i style="background:linear-gradient(#30123b,#30123b,#30123b,#341b51,#3d358b,#4666dd,#35abf8,#1ae4b6,#3cf58e,#25eca7,#27bee9,#4773eb,#3f3b97,#351e58,#321543,#30123b)"></i><i style="background:linear-gradient(#30123b,#30123b,#321543,#351e58,#3e3891,#466be3,#2eb4f2,#22ebaa,#52fa7a,#35f394,#1fc9dd,#477bf2,#4040a2,#36215f,#321543,#30123b)"></i><i style="background:linear-gradient(#30123b,#30123b,#321543,#351e58,#3f3e9c,#4773eb,#25c0e7,#35f394,#6dfe62,#4ef97d,#19d5cd,#4687fb,#4146ac,#372466,#321543,#30123b)"></i><i style="background:linear-gradient(#30123b,#30123b,#321543,#36215f,#4040a2,#467df4,#1ccdd8,#4ef97d,#8fff49,#71fe5f,#19e3b9,#4294ff,#434eba,#38276d,#321543,#30123b)"></i><i style="background:linear-gradient(#30123b,#30123b,#321543,#372466,#4249b1,#4687fb,#18dbc5,#79fe59,#b1f936,#9ffd3f,#2cf09e,#38a5fb,#4559cb,#392a73,#33184a,#30123b)"></i><i style="background:linear-gradient(#30123b,#30123b,#33184a,#38276d,#434eba,#4196ff,#20eaac,#a7fc3a,#dde037,#cdec34,#69fd66,#25c0e7,#4669e0,#3c3286,#341b51,#30123b)"></i><i style="background:linear-gradient(#30123b,#30123b,#33184a,#3a2d79,#455ccf,#33adf7,#52fa7a,#dfdf37,#fea130,#fcb136,#b9f635,#19e2bb,#4680f6,#3f3b97,#351e58,#30123b)"></i><i style="background:linear-gradient(#30123b,#30123b,#341b51,#3c3286,#466be3,#1ccdd8,#a9fb39,#fd8a26,#d23105,#df3f08,#f6c33a,#3ff68a,#448ffe,#4040a2,#351e58,#30123b)"></i><i style="background:linear-gradient(#30123b,#321543,#36215f,#4040a2,#4687fb,#2aefa1,#f2c93a,#c52603,#7a0403,#bc2002,#f6c33a,#25eca7,#467df4,#3e3891,#341b51,#30123b)"></i><i style="background:linear-gradient(#30123b,#33184a,#392a73,#4456c7,#38a5fb,#4ef97d,#ecd13a,#f66c19,#f26014,#fbb637,#80ff53,#2fb2f4,#4454c3,#372466,#321543,#30123b)"></i><i style="background:linear-gradient(#30123b,#341b51,#3a2d79,#4456c7,#3e9bfe,#1fe9af,#96fe44,#c3f134,#a4fc3c,#32f298,#37a8fa,#4559cb,#392a73,#33184a,#30123b,#30123b)"></i><i style="background:linear-gradient(#30123b,#341b51,#3a2d79,#434eba,#4682f8,#25c0e7,#1ae4b6,#20eaac,#1ad2d2,#4196ff,#4456c7,#3a2d79,#33184a,#30123b,#30123b,#30123b)"></i><i style="background:linear-gradient(#30123b,#341b51,#392a73,#4146ac,#476ee6,#4099ff,#2fb2f4,#31aff5,#458cfd,#455ed3,#3d358b,#351e58,#321543,#30123b,#30123b,#30123b)"></i><i style="background:linear-gradient(#30123b,#341b51,#38276d,#4040a2,#455ed3,#4778f0,#4682f8,#4778f0,#455ed3,#3f3b97,#372466,#321543,#30123b,#30123b,#30123b,#30123b)"></i><i style="background:linear-gradient(#30123b,#341b51,#38276d,#3e3891,#424bb5,#4559cb,#455ccf,#434eba,#3f3b97,#38276d,#33184a,#30123b,#30123b,#30123b,#30123b,#30123b)"></i><i style="background:linear-gradient(#30123b,#33184a,#36215f,#3a2d79,#3e3891,#3f3e9c,#3f3b97,#3b2f80,#372466,#341b51,#321543,#30123b,#30123b,#30123b,#30123b,#30123b)"></i><i style="background:linear-gradient(#30123b,#321543,#341b51,#36215f,#38276d,#38276d,#372466,#351e58,#33184a,#321543,#30123b,#30123b,#30123b,#30123b,#30123b,#30123b)"></i><i style="background:linear-gradient(#30123b,#321543,#33184a,#33184a,#341b51,#341b51,#33184a,#321543,#30123b,#30123b,#30123b,#30123b,#30123b,#30123b,#30123b,#30123b)"></i></div></div>
<div class="p" style="left:239px;top:541px;width:103px;height:31px"><div class="c" style="left:0px;top:0px;height:30px"><i style="flex-basis:2px;background:linear-gradient(#30123b,#30123b,#30123b,#321543,#351e58,#3e3891,#4669e0,#4294ff,#35abf8,#4294ff,#4771e9,#3f3b97,#36215f,#321543,#30123b,#30123b)"></i><i style="flex-basis:3px;background:linear-gradient(#30123b,#30123b,#30123b,#30123b,#36215f,#3f3e9c,#466be3,#4099ff,#2fb2f4,#3d9efe,#4771e9,#3f3e9c,#36215f,#321543,#30123b,#30123b)"></i><i style="flex-basis:2px;background:linear-gradient(#30123b,#30123b,#30123b,#321543,#36215f,#3f3e9c,#4771e9,#3ba0fd,#2cb7f0,#38a5fb,#4776ee,#4040a2,#36215f,#321543,#30123b,#30123b)"></i><i style="flex-basis:3px;background:linear-gradient(#30123b,#30123b,#30123b,#321543,#372466,#4040a2,#4776ee,#38a5fb,#23c3e4,#31aff5,#4680f6,#4146ac,#372466,#321543,#30123b,#30123b)"></i><i style="flex-basis:2px;background:linear-gradient(#30123b,#30123b,#30123b,#321543,#372466,#4146ac,#477bf2,#33adf7,#20c7df,#28bceb,#4682f8,#434eba,#38276d,#321543,#30123b,#30123b)"></i><i style="flex-basis:2px;background:linear-gradient(#30123b,#30123b,#30123b,#321543,#38276d,#424bb5,#4680f6,#2eb4f2,#1bd0d5,#22c5e2,#458afc,#4451bf,#38276d,#33184a,#30123b,#30123b)"></i><i style="background:linear-gradient(#30123b,#30123b,#30123b,#33184a,#392a73,#4451bf,#4685fa,#27bee9,#19d5cd,#1fc9dd,#4294ff,#4456c7,#392a73,#33184a,#30123b,#30123b)"></i><i style="background:linear-gradient(#30123b,#30123b,#30123b,#33184a,#392a73,#4454c3,#458afc,#23c3e4,#18ddc2,#1bd0d5,#4099ff,#4559cb,#3a2d79,#33184a,#30123b,#30123b)"></i><i style="background:linear-gradient(#30123b,#30123b,#30123b,#33184a,#392a73,#4456c7,#4391fe,#1ecbda,#19e2bb,#19d5cd,#3e9bfe,#455ed3,#3b2f80,#341b51,#30123b,#30123b)"></i><i style="background:linear-gradient(#30123b,#30123b,#30123b,#341b51,#3a2d79,#4559cb,#4099ff,#1ad4d0,#1ce6b4,#18ddc2,#3aa3fc,#4664da,#3c3286,#341b51,#30123b,#30123b)"></i><i style="background:linear-gradient(#30123b,#30123b,#30123b,#341b51,#3b2f80,#455ccf,#3ba0fd,#18dbc5,#22ebaa,#1ae4b6,#31aff5,#4669e0,#3d358b,#341b51,#30123b,#30123b)"></i><i style="background:linear-gradient(#30123b,#30123b,#30123b,#341b51,#3c3286,#4661d6,#37a8fa,#19e2bb,#2cf09e,#22ebaa,#2ab9ee,#4771e9,#3e3891,#351e58,#321543,#30123b)"></i><i style="background:linear-gradient(#30123b,#30123b,#321543,#351e58,#3d358b,#4666dd,#31aff5,#1de7b2,#3ff68a,#2cf09e,#23c3e4,#4778f0,#3f3b97,#351e58,#321543,#30123b)"></i><i style="background:linear-gradient(#30123b,#30123b,#321543,#351e58,#3e3891,#476ee6,#2ab9ee,#2cf09e,#59fb73,#3cf58e,#1ccdd8,#4680f6,#4040a2,#36215f,#321543,#30123b)"></i><i style="background:linear-gradient(#30123b,#30123b,#321543,#36215f,#3f3e9c,#4778f0,#22c5e2,#43f787,#79fe59,#59fb73,#18dbc5,#458cfd,#4249b1,#372466,#321543,#30123b)"></i><i style="background:linear-gradient(#30123b,#30123b,#321543,#36215f,#4143a7,#4680f6,#1ad2d2,#65fd69,#9ffd3f,#80ff53,#20eaac,#3e9bfe,#4451bf,#392a73,#33184a,#30123b)"></i><i style="background:linear-gradient(#30123b,#30123b,#321543,#38276d,#424bb5,#458afc,#19e2bb,#92ff47,#c6f034,#affa37,#3ff68a,#31aff5,#455ed3,#3b2f80,#33184a,#30123b)"></i><i style="background:linear-gradient(#30123b,#30123b,#33184a,#392a73,#4454c3,#3e9bfe,#2cf09e,#c1f334,#f4c73a,#e3db38,#8bff4b,#1bd0d5,#4771e9,#3d358b,#351e58,#30123b)"></i><i style="background:linear-gradient(#30123b,#30123b,#33184a,#3b2f80,#4664da,#2ab9ee,#75fe5c,#f7c13a,#f8721c,#fb7e21,#e5d938,#2cf09e,#458cfd,#4143a7,#351e58,#30123b)"></i><i style="background:linear-gradient(#30123b,#30123b,#351e58,#3e3891,#4778f0,#18e0bd,#dbe236,#e84b0c,#9e1001,#bc2002,#fbb637,#35f394,#4294ff,#4249b1,#351e58,#30123b)"></i><i style="background:linear-gradient(#30123b,#33184a,#392a73,#4451bf,#38a5fb,#79fe59,#fe9029,#c82803,#cc2b04,#f46617,#cdec34,#18e0bd,#476ee6,#3d358b,#341b51,#30123b)"></i><i style="background:linear-gradient(#30123b,#341b51,#3a2d79,#4454c3,#2cb7f0,#61fc6c,#fcb336,#fa7b1f,#fe9b2d,#c6f034,#27eea4,#448ffe,#4040a2,#36215f,#321543,#30123b)"></i><i style="background:linear-gradient(#30123b,#351e58,#3b2f80,#434eba,#25c0e7,#3cf58e,#7dff56,#92ff47,#4af880,#27bee9,#4682f8,#4249b1,#351e58,#321543,#30123b,#30123b)"></i><i style="background:linear-gradient(#30123b,#341b51,#3b2f80,#4451bf,#458cfd,#27bee9,#25c0e7,#22c5e2,#2fb2f4,#477bf2,#424bb5,#38276d,#321543,#30123b,#30123b,#30123b)"></i><i style="background:linear-gradient(#30123b,#341b51,#392a73,#4040a2,#4778f0,#448ffe,#3e9bfe,#3ba0fd,#4687fb,#4451bf,#3a2d79,#341b51,#30123b,#30123b,#30123b,#30123b)"></i><i style="background:linear-gradient(#30123b,#341b51,#392a73,#3f3e9c,#4559cb,#466be3,#4773eb,#466be3,#4451bf,#3c3286,#351e58,#321543,#30123b,#30123b,#30123b,#30123b)"></i><i style="background:linear-gradient(#30123b,#341b51,#372466,#3d358b,#4143a7,#434eba,#434eba,#4040a2,#3b2f80,#36215f,#33184a,#30123b,#30123b,#30123b,#30123b,#30123b)"></i><i style="background:linear-gradient(#30123b,#33184a,#351e58,#38276d,#3b2f80,#3c3286,#3b2f80,#38276d,#351e58,#33184a,#30123b,#30123b,#30123b,#30123b,#30123b,#30123b)"></i><i style="background:linear-gradient(#30123b,#321543,#33184a,#351e58,#36215f,#36215f,#351e58,#341b51,#321543,#30123b,#30123b,#30123b,#30123b,#30123b,#30123b,#30123b)"></i><i style="background:linear-gradient(#30123b,#30123b,#321543,#33184a,#33184a,#33184a,#321543,#321543,#30123b,#30123b,#30123b,#30123b,#30123b,#30123b,#30123b,#30123b)"></i></div></div>
<div class="p" style="left:347px;top:541px;width:104px;height:31px"><div class="c" style="left:0px;top:2px;height:25px"><i style="flex-basis:3px;background:linear-gradient(#30123b,#30123b,#30123b,#30123b,#30123b,#321543,#30123b,#30123b,#30123b,#30123b,#30123b,#30123b,#30123b)"></i><i style="flex-basis:3px;background:linear-gradient(#30123b,#30123b,#30123b,#30123b,#30123b,#321543,#30123b,#30123b,#30123b,#30123b,#30123b,#30123b,#30123b)"></i><i style="flex-basis:3px;background:linear-gradient(#30123b,#30123b,#30123b,#30123b,#30123b,#30123b,#30123b,#30123b,#30123b,#30123b,#30123b,#30123b,#30123b)"></i><i style="flex-basis:3px;background:linear-gradient(#30123b,#30123b,#30123b,#30123b,#30123b,#30123b,#321543,#30123b,#30123b,#30123b,#30123b,#30123b,#30123b)"></i><i style="flex-basis:3px;background:linear-gradient(#30123b,#30123b,#30123b,#30123b,#30123b,#321543,#321543,#321543,#321543,#30123b,#30123b,#30123b,#30123b)"></i><i style="flex-basis:3px;background:linear-gradient(#30123b,#30123b,#30123b,#30123b,#321543,#321543,#321543,#321543,#30123b,#30123b,#30123b,#30123b,#30123b)"></i><i style="flex-basis:3px;background:linear-gradient(#30123b,#30123b,#30123b,#30123b,#30123b,#30123b,#30123b,#30123b,#321543,#30123b,#30123b,#30123b,#30123b)"></i><i style="flex-basis:3px;background:linear-gradient(#30123b,#30123b,#30123b,#30123b,#30123b,#30123b,#321543,#30123b,#30123b,#30123b,#30123b,#30123b,#30123b)"></i><i style="flex-basis:3px;background:linear-gradient(#30123b,#30123b,#30123b,#30123b,#321543,#30123b,#33184a,#321543,#321543,#30123b,#30123b,#30123b,#30123b)"></i><i style="background:linear-gradient(#30123b,#30123b,#30123b,#321543,#321543,#341b51,#33184a,#30123b,#36215f,#351e58,#30123b,#341b51,#30123b)"></i><i style="background:linear-gradient(#30123b,#30123b,#321543,#351e58,#372466,#3d358b,#33184a,#351e58,#341b51,#38276d,#321543,#33184a,#30123b)"></i><i style="background:linear-gradient(#30123b,#30123b,#321543,#30123b,#3c3286,#4456c7,#3d358b,#321543,#3a2d79,#321543,#33184a,#321543,#30123b)"></i><i style="background:linear-gradient(#30123b,#321543,#341b51,#3f3e9c,#4249b1,#434eba,#36215f,#351e58,#36215f,#30123b,#30123b,#30123b,#30123b)"></i><i style="background:linear-gradient(#30123b,#30123b,#3c3286,#3c3286,#4143a7,#3f3e9c,#30123b,#351e58,#30123b,#341b51,#321543,#30123b,#30123b)"></i><i style="background:linear-gradient(#30123b,#321543,#351e58,#3b2f80,#321543,#30123b,#321543,#33184a,#321543,#30123b,#30123b,#30123b,#30123b)"></i><i style="background:linear-gradient(#30123b,#321543,#30123b,#33184a,#30123b,#321543,#351e58,#33184a,#30123b,#30123b,#30123b,#30123b,#30123b)"></i></div></div>
<div class="p" style="left:130px;top:572px;width:104px;height:32px"><div class="c" style="left:0px;top:0px;height:30px"><i style="flex-basis:3px;background:linear-gradient(#30123b,#30123b,#30123b,#30123b,#341b51,#3c3286,#455ccf,#458cfd,#37a8fa,#3d9efe,#4773eb,#4143a7,#372466,#321543,#30123b,#30123b)"></i><i style="flex-basis:3px;background:linear-gradient(#30123b,#30123b,#30123b,#30123b,#341b51,#3d358b,#4661d6,#4391fe,#31aff5,#38a5fb,#477bf2,#4146ac,#372466,#321543,#30123b,#30123b)"></i><i style="flex-basis:3px;background:linear-gradient(#30123b,#30123b,#30123b,#321543,#351e58,#3e3891,#4666dd,#4099ff,#2ab9ee,#31aff5,#4682f8,#424bb5,#38276d,#321543,#30123b,#30123b)"></i><i style="flex-basis:2px;background:linear-gradient(#30123b,#30123b,#30123b,#321543,#351e58,#3f3b97,#466be3,#3aa3fc,#23c3e4,#2cb7f0,#458afc,#4451bf,#392a73,#33184a,#30123b,#30123b)"></i><i style="flex-basis:2px;background:linear-gradient(#30123b,#30123b,#30123b,#321543,#36215f,#4040a2,#4773eb,#35abf8,#1fc9dd,#25c0e7,#4391fe,#4456c7,#3a2d79,#33184a,#30123b,#30123b)"></i><i style="flex-basis:2px;background:linear-gradient(#30123b,#30123b,#30123b,#321543,#372466,#4143a7,#4778f0,#2eb4f2,#1ad2d2,#1fc9dd,#4099ff,#455ccf,#3b2f80,#341b51,#30123b,#30123b)"></i><i style="flex-basis:2px;background:linear-gradient(#30123b,#30123b,#30123b,#321543,#38276d,#4249b1,#4682f8,#27bee9,#18ddc2,#1ad4d0,#38a5fb,#4664da,#3c3286,#341b51,#30123b,#30123b)"></i><i style="background:linear-gradient(#30123b,#30123b,#30123b,#33184a,#38276d,#434eba,#458afc,#20c7df,#19e3b9,#18ddc2,#31aff5,#466be3,#3e3891,#351e58,#30123b,#30123b)"></i><i style="background:linear-gradient(#30123b,#30123b,#30123b,#33184a,#392a73,#4451bf,#448ffe,#1ccdd8,#1fe9af,#19e3b9,#2cb7f0,#4771e9,#3f3b97,#351e58,#321543,#30123b)"></i><i style="background:linear-gradient(#30123b,#30123b,#30123b,#33184a,#3a2d79,#4456c7,#4196ff,#19d5cd,#27eea4,#1fe9af,#25c0e7,#4778f0,#3f3e9c,#36215f,#321543,#30123b)"></i><i style="background:linear-gradient(#30123b,#30123b,#30123b,#341b51,#3b2f80,#455ccf,#3d9efe,#18ddc2,#35f394,#2aefa1,#1fc9dd,#4680f6,#4143a7,#36215f,#321543,#30123b)"></i><i style="background:linear-gradient(#30123b,#30123b,#30123b,#341b51,#3c3286,#4661d6,#38a5fb,#1ae4b6,#4af880,#3cf58e,#1ad4d0,#4687fb,#4249b1,#372466,#321543,#30123b)"></i><i style="background:linear-gradient(#30123b,#30123b,#30123b,#341b51,#3d358b,#4669e0,#2fb2f4,#25eca7,#65fd69,#55fa76,#18dec0,#4294ff,#434eba,#38276d,#33184a,#30123b)"></i><i style="background:linear-gradient(#30123b,#30123b,#321543,#351e58,#3f3b97,#4771e9,#27bee9,#3cf58e,#88ff4e,#7dff56,#22ebaa,#3aa3fc,#4456c7,#392a73,#33184a,#30123b)"></i><i style="background:linear-gradient(#30123b,#30123b,#321543,#36215f,#3f3e9c,#477bf2,#1ccdd8,#5dfc6f,#acfb38,#a4fc3c,#43f787,#2eb4f2,#4664da,#3b2f80,#341b51,#30123b)"></i><i style="background:linear-gradient(#30123b,#30123b,#321543,#372466,#4146ac,#4687fb,#18dec0,#92ff47,#d7e535,#d4e735,#80ff53,#1ad2d2,#4776ee,#3e3891,#351e58,#30123b)"></i><i style="background:linear-gradient(#30123b,#30123b,#33184a,#38276d,#434eba,#3e9bfe,#2ff19b,#cbed34,#fdac34,#fea933,#cdec34,#27eea4,#448ffe,#4146ac,#36215f,#30123b)"></i><i style="background:linear-gradient(#30123b,#30123b,#33184a,#3a2d79,#455ed3,#2ab9ee,#84ff51,#fea732,#dc3b07,#da3907,#fdac34,#69fd66,#3aa3fc,#424bb5,#372466,#30123b)"></i><i style="background:linear-gradient(#30123b,#30123b,#351e58,#3e3891,#4776ee,#18e0bd,#d9e436,#dd3d08,#7a0403,#a91601,#fea732,#4af880,#448ffe,#4040a2,#351e58,#30123b)"></i><i style="background:linear-gradient(#30123b,#33184a,#38276d,#424bb5,#4294ff,#2cf09e,#d7e535,#fb7e21,#f15d13,#fea431,#a1fd3d,#22c5e2,#4661d6,#392a73,#33184a,#30123b)"></i><i style="background:linear-gradient(#30123b,#33184a,#38276d,#424bb5,#458cfd,#18ddc2,#80ff53,#bef434,#affa37,#46f884,#2cb7f0,#4664da,#3b2f80,#33184a,#30123b,#30123b)"></i><i style="background:linear-gradient(#30123b,#33184a,#38276d,#4146ac,#4778f0,#2eb4f2,#18e0bd,#20eaac,#18d9c8,#3ba0fd,#4661d6,#3c3286,#341b51,#30123b,#30123b,#30123b)"></i><i style="background:linear-gradient(#30123b,#33184a,#38276d,#4040a2,#4666dd,#448ffe,#31aff5,#31aff5,#4294ff,#4666dd,#3f3b97,#36215f,#321543,#30123b,#30123b,#30123b)"></i><i style="background:linear-gradient(#30123b,#33184a,#372466,#3f3b97,#4456c7,#4773eb,#4682f8,#477bf2,#4664da,#4040a2,#38276d,#33184a,#30123b,#30123b,#30123b,#30123b)"></i><i style="background:linear-gradient(#30123b,#33184a,#372466,#3c3286,#4146ac,#4456c7,#455ccf,#4451bf,#3f3e9c,#392a73,#341b51,#321543,#30123b,#30123b,#30123b,#30123b)"></i><i style="background:linear-gradient(#30123b,#33184a,#351e58,#392a73,#3d358b,#3f3b97,#3f3b97,#3c3286,#38276d,#341b51,#321543,#30123b,#30123b,#30123b,#30123b,#30123b)"></i><i style="background:linear-gradient(#30123b,#321543,#341b51,#36215f,#372466,#38276d,#372466,#351e58,#33184a,#321543,#30123b,#30123b,#30123b,#30123b,#30123b,#30123b)"></i><i style="background:linear-gradient(#30123b,#321543,#321543,#33184a,#341b51,#341b51,#33184a,#321543,#30123b,#30123b,#30123b,#30123b,#30123b,#30123b,#30123b,#30123b)"></i></div></div>
<div class="p" style="left:239px;top:572px;width:103px;height:32px"><div class="c" style="left:0px;top:0px;height:31px"><i style="flex-basis:3px;background:linear-gradient(#30123b,#30123b,#30123b,#30123b,#341b51,#392a73,#4454c3,#4687fb,#37a8fa,#37a8fa,#4682f8,#4451bf,#3a2d79,#341b51,#30123b,#30123b,#30123b)"></i><i style="flex-basis:3px;background:linear-gradient(#30123b,#30123b,#30123b,#30123b,#341b51,#3b2f80,#4456c7,#458cfd,#35abf8,#31aff5,#458afc,#4559cb,#3b2f80,#341b51,#30123b,#30123b,#30123b)"></i><i style="flex-basis:2px;background:linear-gradient(#30123b,#30123b,#30123b,#321543,#351e58,#3b2f80,#455ccf,#448ffe,#2eb4f2,#2cb7f0,#448ffe,#455ed3,#3c3286,#341b51,#321543,#30123b,#30123b)"></i><i style="flex-basis:2px;background:linear-gradient(#30123b,#30123b,#30123b,#30123b,#351e58,#3d358b,#4661d6,#4294ff,#28bceb,#27bee9,#4099ff,#4664da,#3e3891,#351e58,#321543,#30123b,#30123b)"></i><i style="flex-basis:2px;background:linear-gradient(#30123b,#30123b,#30123b,#321543,#351e58,#3e3891,#4669e0,#3e9bfe,#23c3e4,#22c5e2,#3ba0fd,#4669e0,#3f3b97,#351e58,#30123b,#30123b,#30123b)"></i><i style="flex-basis:2px;background:linear-gradient(#30123b,#30123b,#30123b,#321543,#36215f,#3f3e9c,#466be3,#37a8fa,#1ecbda,#1ecbda,#38a5fb,#476ee6,#3f3e9c,#351e58,#321543,#30123b,#30123b)"></i><i style="background:linear-gradient(#30123b,#30123b,#30123b,#321543,#36215f,#4040a2,#4773eb,#31aff5,#1ad2d2,#1ad2d2,#33adf7,#4776ee,#4040a2,#36215f,#321543,#30123b,#30123b)"></i><i style="background:linear-gradient(#30123b,#30123b,#30123b,#321543,#36215f,#4143a7,#4778f0,#2fb2f4,#19d5cd,#18d7ca,#2eb4f2,#477bf2,#4146ac,#372466,#321543,#30123b,#30123b)"></i><i style="background:linear-gradient(#30123b,#30123b,#30123b,#321543,#372466,#4146ac,#477bf2,#2cb7f0,#18dbc5,#18dec0,#2ab9ee,#4680f6,#4249b1,#372466,#321543,#30123b,#30123b)"></i><i style="background:linear-gradient(#30123b,#30123b,#30123b,#33184a,#38276d,#4249b1,#4680f6,#27bee9,#19e2bb,#1ae4b6,#25c0e7,#4685fa,#424bb5,#38276d,#321543,#30123b,#30123b)"></i><i style="background:linear-gradient(#30123b,#30123b,#30123b,#33184a,#392a73,#424bb5,#4687fb,#20c7df,#1fe9af,#1fe9af,#1fc9dd,#458afc,#434eba,#38276d,#33184a,#30123b,#30123b)"></i><i style="background:linear-gradient(#30123b,#30123b,#30123b,#33184a,#392a73,#4451bf,#458cfd,#1ccdd8,#25eca7,#27eea4,#1ad4d0,#4391fe,#4454c3,#392a73,#33184a,#30123b,#30123b)"></i><i style="background:linear-gradient(#30123b,#30123b,#30123b,#33184a,#3a2d79,#4454c3,#4294ff,#18d7ca,#32f298,#38f491,#18ddc2,#3e9bfe,#455ccf,#3b2f80,#341b51,#30123b,#30123b)"></i><i style="background:linear-gradient(#30123b,#30123b,#30123b,#341b51,#3b2f80,#455ccf,#3d9efe,#18e0bd,#4af880,#55fa76,#1ce6b4,#37a8fa,#4661d6,#3c3286,#341b51,#30123b,#30123b)"></i><i style="background:linear-gradient(#30123b,#30123b,#321543,#341b51,#3c3286,#4664da,#37a8fa,#1fe9af,#6dfe62,#79fe59,#2cf09e,#2cb7f0,#466be3,#3e3891,#351e58,#321543,#30123b)"></i><i style="background:linear-gradient(#30123b,#30123b,#321543,#351e58,#3e3891,#466be3,#2cb7f0,#2ff19b,#92ff47,#9cfe40,#4ef97d,#20c7df,#4776ee,#3f3e9c,#36215f,#321543,#30123b)"></i><i style="background:linear-gradient(#30123b,#30123b,#321543,#36215f,#3f3e9c,#4773eb,#22c5e2,#4ef97d,#b4f836,#c1f334,#84ff51,#18ddc2,#4687fb,#4146ac,#372466,#321543,#30123b)"></i><i style="background:linear-gradient(#30123b,#30123b,#321543,#372466,#4143a7,#4680f6,#18d7ca,#88ff4e,#dfdf37,#efcd3a,#c3f134,#38f491,#3aa3fc,#4559cb,#3a2d79,#33184a,#30123b)"></i><i style="background:linear-gradient(#30123b,#30123b,#33184a,#38276d,#434eba,#4391fe,#27eea4,#cbed34,#fe992c,#f46617,#fdae35,#9cfe40,#1ecbda,#4666dd,#3a2d79,#341b51,#30123b)"></i><i style="background:linear-gradient(#30123b,#30123b,#33184a,#3a2d79,#455ed3,#27bee9,#96fe44,#fc8423,#b91e02,#b71d02,#ef5811,#cbed34,#19d5cd,#4778f0,#3e3891,#351e58,#30123b)"></i><i style="background:linear-gradient(#30123b,#321543,#36215f,#4143a7,#4685fa,#2aefa1,#d9e436,#e2430a,#7a0403,#7e0502,#f15d13,#9cfe40,#31aff5,#4559cb,#38276d,#321543,#30123b)"></i><i style="background:linear-gradient(#30123b,#33184a,#38276d,#4454c3,#3ba0fd,#2aefa1,#bef434,#fcb136,#fe9b2d,#f1cb3a,#65fd69,#1ccdd8,#4669e0,#3b2f80,#33184a,#30123b,#30123b)"></i><i style="background:linear-gradient(#30123b,#341b51,#38276d,#455ed3,#3e9bfe,#18d7ca,#3ff68a,#71fe5f,#a4fc3c,#46f884,#2ab9ee,#476ee6,#3e3891,#341b51,#30123b,#30123b,#30123b)"></i><i style="background:linear-gradient(#30123b,#321543,#372466,#4249b1,#455ed3,#4666dd,#20c7df,#2cf09e,#1ad4d0,#3d9efe,#4664da,#3e3891,#351e58,#321543,#30123b,#30123b,#30123b)"></i><i style="background:linear-gradient(#30123b,#33184a,#392a73,#3f3b97,#4669e0,#467df4,#3aa3fc,#33adf7,#4294ff,#4664da,#3f3b97,#372466,#321543,#30123b,#30123b,#30123b,#30123b)"></i><i style="background:linear-gradient(#30123b,#33184a,#38276d,#3e3891,#4451bf,#4669e0,#4773eb,#466be3,#4559cb,#3f3e9c,#38276d,#33184a,#30123b,#30123b,#30123b,#30123b,#30123b)"></i><i style="background:linear-gradient(#30123b,#33184a,#36215f,#3b2f80,#3f3e9c,#4249b1,#434eba,#4146ac,#3e3891,#38276d,#341b51,#321543,#30123b,#30123b,#30123b,#30123b,#30123b)"></i><i style="background:linear-gradient(#30123b,#321543,#351e58,#372466,#3a2d79,#3c3286,#3c3286,#392a73,#36215f,#341b51,#321543,#30123b,#30123b,#30123b,#30123b,#30123b,#30123b)"></i><i style="background:linear-gradient(#30123b,#321543,#33184a,#341b51,#36215f,#36215f,#36215f,#341b51,#33184a,#321543,#30123b,#30123b,#30123b,#30123b,#30123b,#30123b,#30123b)"></i><i style="background:linear-gradient(#30123b,#30123b,#321543,#33184a,#33184a,#33184a,#321543,#321543,#30123b,#30123b,#30123b,#30123b,#30123b,#30123b,#30123b,#30123b,#30123b)"></i></div></div>
<div class="p" style="left:347px;top:572px;width:104px;height:32px"><div class="c" style="left:0px;top:3px;height:26px"><i style="flex-basis:3px;background:linear-gradient(#30123b,#30123b,#30123b,#30123b,#30123b,#321543,#321543,#321543,#30123b,#321543,#30123b,#30123b,#30123b,#30123b)"></i><i style="flex-basis:3px;background:linear-gradient(#30123b,#30123b,#30123b,#30123b,#30123b,#30123b,#30123b,#30123b,#30123b,#30123b,#30123b,#30123b,#30123b,#30123b)"></i><i style="flex-basis:3px;background:linear-gradient(#30123b,#30123b,#30123b,#30123b,#30123b,#30123b,#30123b,#30123b,#30123b,#30123b,#30123b,#30123b,#30123b,#30123b)"></i><i style="flex-basis:3px;background:linear-gradient(#30123b,#30123b,#30123b,#30123b,#30123b,#30123b,#30123b,#30123b,#30123b,#30123b,#321543,#30123b,#30123b,#30123b)"></i><i style="flex-basis:3px;background:linear-gradient(#30123b,#30123b,#30123b,#30123b,#30123b,#321543,#30123b,#30123b,#30123b,#30123b,#30123b,#30123b,#30123b,#30123b)"></i><i style="flex-basis:3px;background:linear-gradient(#30123b,#30123b,#30123b,#30123b,#30123b,#30123b,#30123b,#321543,#321543,#30123b,#30123b,#30123b,#30123b,#30123b)"></i><i style="flex-basis:3px;background:linear-gradient(#30123b,#30123b,#30123b,#30123b,#30123b,#30123b,#30123b,#30123b,#321543,#30123b,#30123b,#30123b,#30123b,#30123b)"></i><i style="flex-basis:3px;background:linear-gradient(#30123b,#30123b,#30123b,#30123b,#30123b,#30123b,#30123b,#321543,#30123b,#30123b,#30123b,#30123b,#30123b,#30123b)"></i><i style="flex-basis:3px;background:linear-gradient(#30123b,#30123b,#30123b,#30123b,#30123b,#30123b,#30123b,#30123b,#30123b,#30123b,#321543,#30123b,#30123b,#30123b)"></i><i style="background:linear-gradient(#30123b,#30123b,#30123b,#30123b,#30123b,#33184a,#30123b,#30123b,#36215f,#341b51,#38276d,#351e58,#30123b,#30123b)"></i><i style="background:linear-gradient(#30123b,#30123b,#30123b,#351e58,#372466,#372466,#3f3b97,#36215f,#3d358b,#3b2f80,#33184a,#351e58,#341b51,#30123b)"></i><i style="background:linear-gradient(#30123b,#30123b,#33184a,#3a2d79,#38276d,#3a2d79,#455ccf,#424bb5,#36215f,#36215f,#321543,#321543,#321543,#30123b)"></i><i style="background:linear-gradient(#30123b,#351e58,#3c3286,#3c3286,#38276d,#33184a,#3c3286,#4040a2,#351e58,#341b51,#372466,#321543,#30123b,#30123b)"></i><i style="background:linear-gradient(#30123b,#321543,#372466,#351e58,#351e58,#321543,#392a73,#3a2d79,#36215f,#341b51,#321543,#30123b,#30123b,#30123b)"></i><i style="background:linear-gradient(#30123b,#30123b,#33184a,#3f3e9c,#3b2f80,#4040a2,#372466,#30123b,#30123b,#30123b,#30123b,#30123b,#30123b,#30123b)"></i><i style="background:linear-gradient(#30123b,#321543,#321543,#341b51,#351e58,#33184a,#341b51,#321543,#30123b,#30123b,#30123b,#30123b,#30123b,#30123b)"></i></div></div>
<div class="p" style="left:130px;top:604px;width:104px;height:31px"><div class="c" style="left:0px;top:0px;height:30px"><i style="flex-basis:3px;background:linear-gradient(#30123b,#30123b,#30123b,#321543,#36215f,#3f3b97,#4669e0,#4391fe,#3ba0fd,#458cfd,#4661d6,#3d358b,#341b51,#30123b,#30123b,#30123b)"></i><i style="flex-basis:3px;background:linear-gradient(#30123b,#30123b,#30123b,#321543,#36215f,#3f3e9c,#466be3,#4099ff,#37a8fa,#4294ff,#4664da,#3e3891,#351e58,#30123b,#30123b,#30123b)"></i><i style="flex-basis:3px;background:linear-gradient(#30123b,#30123b,#30123b,#321543,#372466,#4143a7,#4773eb,#3ba0fd,#2fb2f4,#3e9bfe,#466be3,#3f3b97,#351e58,#321543,#30123b,#30123b)"></i><i style="flex-basis:2px;background:linear-gradient(#30123b,#30123b,#30123b,#321543,#372466,#4146ac,#4778f0,#37a8fa,#28bceb,#3aa3fc,#4771e9,#4040a2,#36215f,#321543,#30123b,#30123b)"></i><i style="flex-basis:2px;background:linear-gradient(#30123b,#30123b,#30123b,#33184a,#38276d,#424bb5,#4680f6,#31aff5,#23c3e4,#33adf7,#4778f0,#4143a7,#372466,#321543,#30123b,#30123b)"></i><i style="flex-basis:2px;background:linear-gradient(#30123b,#30123b,#30123b,#33184a,#392a73,#4451bf,#4685fa,#2ab9ee,#1ecbda,#2eb4f2,#4680f6,#4249b1,#372466,#321543,#30123b,#30123b)"></i><i style="flex-basis:2px;background:linear-gradient(#30123b,#30123b,#30123b,#33184a,#3a2d79,#4456c7,#448ffe,#22c5e2,#19d5cd,#25c0e7,#458afc,#434eba,#38276d,#33184a,#30123b,#30123b)"></i><i style="background:linear-gradient(#30123b,#30123b,#30123b,#341b51,#3b2f80,#455ccf,#4196ff,#1ccdd8,#18dec0,#1ecbda,#4391fe,#4456c7,#3a2d79,#33184a,#30123b,#30123b)"></i><i style="background:linear-gradient(#30123b,#30123b,#30123b,#341b51,#3c3286,#455ed3,#3d9efe,#1ad4d0,#19e3b9,#1ad2d2,#4099ff,#4559cb,#3a2d79,#33184a,#30123b,#30123b)"></i><i style="background:linear-gradient(#30123b,#30123b,#30123b,#341b51,#3d358b,#4664da,#38a5fb,#18dbc5,#1fe9af,#18d9c8,#3ba0fd,#455ed3,#3b2f80,#341b51,#30123b,#30123b)"></i><i style="background:linear-gradient(#30123b,#30123b,#321543,#351e58,#3e3891,#4669e0,#33adf7,#19e2bb,#2aefa1,#19e2bb,#35abf8,#4666dd,#3c3286,#341b51,#30123b,#30123b)"></i><i style="background:linear-gradient(#30123b,#30123b,#321543,#351e58,#3f3b97,#4771e9,#2cb7f0,#1fe9af,#3cf58e,#1fe9af,#2eb4f2,#476ee6,#3e3891,#351e58,#321543,#30123b)"></i><i style="background:linear-gradient(#30123b,#30123b,#321543,#36215f,#4040a2,#4778f0,#25c0e7,#2cf09e,#55fa76,#2ff19b,#23c3e4,#4776ee,#3f3e9c,#351e58,#321543,#30123b)"></i><i style="background:linear-gradient(#30123b,#30123b,#321543,#372466,#4146ac,#4680f6,#1ccdd8,#46f884,#75fe5c,#4ef97d,#1ad2d2,#4682f8,#4143a7,#36215f,#321543,#30123b)"></i><i style="background:linear-gradient(#30123b,#30123b,#33184a,#38276d,#424bb5,#458cfd,#18dbc5,#6dfe62,#9ffd3f,#79fe59,#19e3b9,#4391fe,#424bb5,#38276d,#321543,#30123b)"></i><i style="background:linear-gradient(#30123b,#30123b,#33184a,#392a73,#4454c3,#3e9bfe,#22ebaa,#9ffd3f,#cbed34,#b1f936,#38f491,#35abf8,#4559cb,#3a2d79,#33184a,#30123b)"></i><i style="background:linear-gradient(#30123b,#30123b,#341b51,#3b2f80,#455ed3,#2fb2f4,#52fa7a,#d7e535,#faba39,#efcd3a,#92ff47,#1ccdd8,#476ee6,#3d358b,#341b51,#30123b)"></i><i style="background:linear-gradient(#30123b,#30123b,#341b51,#3d358b,#4771e9,#1ad2d2,#a9fb39,#fe962b,#e7490c,#f66c19,#d7e535,#1ae4b6,#477bf2,#3e3891,#341b51,#30123b)"></i><i style="background:linear-gradient(#30123b,#321543,#36215f,#4146ac,#448ffe,#32f298,#f2c93a,#d43305,#a11201,#e5470b,#d0ea34,#18d7ca,#466be3,#3b2f80,#33184a,#30123b)"></i><i style="background:linear-gradient(#30123b,#341b51,#3a2d79,#455ccf,#33adf7,#52fa7a,#e7d739,#fd8a26,#fd8a26,#e5d938,#46f884,#4099ff,#4146ac,#36215f,#321543,#30123b)"></i><i style="background:linear-gradient(#30123b,#341b51,#3b2f80,#4559cb,#3d9efe,#1de7b2,#88ff4e,#acfb38,#80ff53,#1ae4b6,#4294ff,#424bb5,#372466,#321543,#30123b,#30123b)"></i><i style="background:linear-gradient(#30123b,#341b51,#3a2d79,#4451bf,#4685fa,#27bee9,#18e0bd,#19e2bb,#23c3e4,#4685fa,#424bb5,#38276d,#33184a,#30123b,#30123b,#30123b)"></i><i style="background:linear-gradient(#30123b,#341b51,#392a73,#4249b1,#476ee6,#4294ff,#35abf8,#3aa3fc,#4680f6,#4454c3,#3b2f80,#341b51,#30123b,#30123b,#30123b,#30123b)"></i><i style="background:linear-gradient(#30123b,#341b51,#392a73,#4040a2,#455ed3,#4776ee,#467df4,#4771e9,#4454c3,#3d358b,#36215f,#321543,#30123b,#30123b,#30123b,#30123b)"></i><i style="background:linear-gradient(#30123b,#341b51,#38276d,#3e3891,#4249b1,#4456c7,#4456c7,#4249b1,#3d358b,#372466,#33184a,#30123b,#30123b,#30123b,#30123b,#30123b)"></i><i style="background:linear-gradient(#30123b,#33184a,#36215f,#3a2d79,#3d358b,#3f3b97,#3d358b,#3a2d79,#36215f,#33184a,#30123b,#30123b,#30123b,#30123b,#30123b,#30123b)"></i><i style="background:linear-gradient(#30123b,#321543,#341b51,#36215f,#372466,#38276d,#36215f,#341b51,#33184a,#30123b,#30123b,#30123b,#30123b,#30123b,#30123b,#30123b)"></i><i style="background:linear-gradient(#30123b,#321543,#33184a,#33184a,#341b51,#341b51,#33184a,#321543,#30123b,#30123b,#30123b,#30123b,#30123b,#30123b,#30123b,#30123b)"></i></div></div>
<div class="p" style="left:239px;top:604px;width:103px;height:31px"><div class="c" style="left:0px;top:0px;height:30px"><i style="flex-basis:2px;background:linear-gradient(#30123b,#30123b,#30123b,#321543,#36215f,#3f3e9c,#4669e0,#4294ff,#3aa3fc,#458cfd,#455ed3,#3d358b,#341b51,#30123b,#30123b,#30123b)"></i><i style="flex-basis:3px;background:linear-gradient(#30123b,#30123b,#30123b,#30123b,#36215f,#3f3e9c,#466be3,#4196ff,#35abf8,#4294ff,#4664da,#3e3891,#341b51,#30123b,#30123b,#30123b)"></i><i style="flex-basis:2px;background:linear-gradient(#30123b,#30123b,#30123b,#321543,#36215f,#4143a7,#4771e9,#3e9bfe,#33adf7,#4196ff,#4669e0,#3f3b97,#351e58,#30123b,#30123b,#30123b)"></i><i style="flex-basis:2px;background:linear-gradient(#30123b,#30123b,#30123b,#33184a,#372466,#4143a7,#4773eb,#3aa3fc,#2ab9ee,#3ba0fd,#466be3,#3f3e9c,#36215f,#30123b,#30123b,#30123b)"></i><i style="flex-basis:2px;background:linear-gradient(#30123b,#30123b,#30123b,#33184a,#372466,#4249b1,#477bf2,#35abf8,#27bee9,#38a5fb,#4773eb,#4040a2,#36215f,#30123b,#30123b,#30123b)"></i><i style="flex-basis:2px;background:linear-gradient(#30123b,#30123b,#30123b,#33184a,#38276d,#4249b1,#4680f6,#31aff5,#25c0e7,#31aff5,#4776ee,#4146ac,#372466,#30123b,#30123b,#30123b)"></i><i style="background:linear-gradient(#30123b,#30123b,#30123b,#33184a,#392a73,#434eba,#458afc,#2cb7f0,#1fc9dd,#2eb4f2,#4680f6,#4249b1,#372466,#321543,#30123b,#30123b)"></i><i style="flex-basis:2px;background:linear-gradient(#30123b,#30123b,#30123b,#341b51,#3a2d79,#4454c3,#448ffe,#27bee9,#1ad4d0,#28bceb,#4685fa,#434eba,#38276d,#321543,#30123b,#30123b)"></i><i style="background:linear-gradient(#30123b,#30123b,#30123b,#341b51,#3b2f80,#4559cb,#4294ff,#1fc9dd,#18ddc2,#22c5e2,#458cfd,#4454c3,#3a2d79,#33184a,#30123b,#30123b)"></i><i style="background:linear-gradient(#30123b,#30123b,#30123b,#341b51,#3b2f80,#455ed3,#4099ff,#1ad2d2,#19e2bb,#1ecbda,#4391fe,#4456c7,#3a2d79,#33184a,#30123b,#30123b)"></i><i style="background:linear-gradient(#30123b,#30123b,#30123b,#341b51,#3d358b,#4661d6,#3d9efe,#19d5cd,#1ce6b4,#1ad4d0,#3e9bfe,#455ccf,#3b2f80,#33184a,#30123b,#30123b)"></i><i style="background:linear-gradient(#30123b,#30123b,#30123b,#341b51,#3e3891,#4666dd,#38a5fb,#18dbc5,#20eaac,#18dbc5,#3aa3fc,#4661d6,#3c3286,#341b51,#30123b,#30123b)"></i><i style="background:linear-gradient(#30123b,#30123b,#321543,#351e58,#3f3b97,#466be3,#31aff5,#19e2bb,#2ff19b,#19e2bb,#31aff5,#4669e0,#3d358b,#341b51,#30123b,#30123b)"></i><i style="background:linear-gradient(#30123b,#30123b,#321543,#36215f,#3f3e9c,#4773eb,#2ab9ee,#20eaac,#4af880,#20eaac,#2ab9ee,#4771e9,#3e3891,#351e58,#321543,#30123b)"></i><i style="background:linear-gradient(#30123b,#30123b,#321543,#36215f,#4040a2,#467df4,#22c5e2,#32f298,#65fd69,#32f298,#20c7df,#4778f0,#3f3e9c,#36215f,#321543,#30123b)"></i><i style="background:linear-gradient(#30123b,#30123b,#321543,#372466,#4146ac,#4685fa,#1ad4d0,#52fa7a,#88ff4e,#59fb73,#18d7ca,#4685fa,#4146ac,#372466,#321543,#30123b)"></i><i style="background:linear-gradient(#30123b,#30123b,#33184a,#38276d,#434eba,#4391fe,#19e3b9,#80ff53,#acfb38,#92ff47,#1fe9af,#4099ff,#4451bf,#392a73,#33184a,#30123b)"></i><i style="background:linear-gradient(#30123b,#30123b,#33184a,#3a2d79,#4559cb,#3aa3fc,#32f298,#b4f836,#e1dd37,#d0ea34,#59fb73,#2ab9ee,#4664da,#3c3286,#341b51,#30123b)"></i><i style="background:linear-gradient(#30123b,#30123b,#341b51,#3c3286,#4666dd,#27bee9,#79fe59,#f1cb3a,#fd8a26,#fe992c,#bef434,#18dbc5,#477bf2,#3f3b97,#351e58,#30123b)"></i><i style="background:linear-gradient(#30123b,#321543,#351e58,#3f3e9c,#4680f6,#1ae4b6,#cbed34,#ea4e0d,#9b0f01,#dc3b07,#dbe236,#27eea4,#458afc,#3e3891,#351e58,#30123b)"></i><i style="background:linear-gradient(#30123b,#33184a,#3a2d79,#4661d6,#2fb2f4,#35f394,#efcd3a,#c82803,#980e01,#fc8725,#92ff47,#20c7df,#4456c7,#38276d,#33184a,#30123b)"></i><i style="background:linear-gradient(#30123b,#351e58,#3e3891,#4661d6,#3ba0fd,#3cf58e,#e9d539,#fe932a,#f56918,#bcf534,#18dec0,#4687fb,#3f3e9c,#351e58,#321543,#30123b)"></i><i style="background:linear-gradient(#30123b,#372466,#4146ac,#4771e9,#35abf8,#32f298,#9ffd3f,#b7f735,#92ff47,#25c0e7,#476ee6,#3f3e9c,#36215f,#321543,#30123b,#30123b)"></i><i style="background:linear-gradient(#30123b,#351e58,#3f3b97,#4664da,#35abf8,#25c0e7,#18d7ca,#19e2bb,#37a8fa,#4776ee,#4040a2,#36215f,#321543,#30123b,#30123b,#30123b)"></i><i style="background:linear-gradient(#30123b,#351e58,#392a73,#424bb5,#4664da,#4687fb,#37a8fa,#3d9efe,#4773eb,#4249b1,#38276d,#33184a,#30123b,#30123b,#30123b,#30123b)"></i><i style="background:linear-gradient(#30123b,#341b51,#38276d,#3f3b97,#4456c7,#4669e0,#4771e9,#4661d6,#4146ac,#3a2d79,#341b51,#321543,#30123b,#30123b,#30123b,#30123b)"></i><i style="background:linear-gradient(#30123b,#341b51,#372466,#3c3286,#4143a7,#424bb5,#4249b1,#3f3b97,#3a2d79,#351e58,#321543,#30123b,#30123b,#30123b,#30123b,#30123b)"></i><i style="background:linear-gradient(#30123b,#33184a,#351e58,#38276d,#3b2f80,#3b2f80,#3a2d79,#372466,#341b51,#321543,#30123b,#30123b,#30123b,#30123b,#30123b,#30123b)"></i><i style="background:linear-gradient(#30123b,#321543,#33184a,#351e58,#36215f,#36215f,#351e58,#33184a,#321543,#30123b,#30123b,#30123b,#30123b,#30123b,#30123b,#30123b)"></i><i style="background:linear-gradient(#30123b,#30123b,#321543,#33184a,#33184a,#33184a,#321543,#30123b,#30123b,#30123b,#30123b,#30123b,#30123b,#30123b,#30123b,#30123b)"></i></div></div>
<div class="p" style="left:347px;top:604px;width:104px;height:31px"><div class="c" style="left:0px;top:1px;height:24px"><i style="flex-basis:3px;background:linear-gradient(#30123b,#30123b,#30123b,#30123b,#30123b,#321543,#30123b,#30123b,#30123b,#30123b,#30123b,#30123b,#30123b)"></i><i style="flex-basis:3px;background:linear-gradient(#30123b,#30123b,#30123b,#321543,#30123b,#30123b,#30123b,#30123b,#30123b,#30123b,#30123b,#30123b,#30123b)"></i><i style="flex-basis:3px;background:linear-gradient(#30123b,#30123b,#30123b,#30123b,#30123b,#30123b,#30123b,#30123b,#321543,#321543,#30123b,#30123b,#30123b)"></i><i style="flex-basis:3px;background:linear-gradient(#30123b,#30123b,#30123b,#30123b,#321543,#321543,#321543,#30123b,#30123b,#30123b,#30123b,#30123b,#30123b)"></i><i style="flex-basis:3px;background:linear-gradient(#30123b,#30123b,#30123b,#30123b,#30123b,#30123b,#30123b,#321543,#30123b,#30123b,#30123b,#30123b,#30123b)"></i><i style="flex-basis:3px;background:linear-gradient(#30123b,#30123b,#30123b,#30123b,#30123b,#30123b,#30123b,#30123b,#30123b,#30123b,#30123b,#321543,#30123b)"></i><i style="flex-basis:3px;background:linear-gradient(#30123b,#30123b,#30123b,#30123b,#30123b,#30123b,#321543,#30123b,#321543,#321543,#30123b,#30123b,#30123b)"></i><i style="flex-basis:3px;background:linear-gradient(#30123b,#30123b,#30123b,#30123b,#30123b,#30123b,#30123b,#30123b,#30123b,#321543,#30123b,#30123b,#30123b)"></i><i style="flex-basis:2px;background:linear-gradient(#30123b,#30123b,#30123b,#30123b,#30123b,#30123b,#30123b,#30123b,#30123b,#30123b,#30123b,#30123b,#30123b)"></i><i style="background:linear-gradient(#30123b,#30123b,#30123b,#30123b,#30123b,#30123b,#321543,#321543,#341b51,#33184a,#30123b,#30123b,#30123b)"></i><i style="background:linear-gradient(#30123b,#30123b,#30123b,#30123b,#321543,#321543,#341b51,#36215f,#3b2f80,#372466,#341b51,#341b51,#30123b)"></i><i style="background:linear-gradient(#30123b,#30123b,#321543,#341b51,#33184a,#351e58,#341b51,#424bb5,#4143a7,#321543,#33184a,#36215f,#30123b)"></i><i style="background:linear-gradient(#30123b,#30123b,#33184a,#372466,#33184a,#3b2f80,#321543,#3c3286,#3d358b,#392a73,#341b51,#30123b,#30123b)"></i><i style="background:linear-gradient(#30123b,#341b51,#38276d,#341b51,#30123b,#4143a7,#4776ee,#476ee6,#4664da,#321543,#351e58,#341b51,#30123b)"></i><i style="background:linear-gradient(#30123b,#351e58,#3c3286,#3a2d79,#3a2d79,#3d358b,#392a73,#424bb5,#3c3286,#321543,#30123b,#30123b,#30123b)"></i><i style="background:linear-gradient(#30123b,#33184a,#341b51,#392a73,#3e3891,#321543,#3e3891,#341b51,#321543,#30123b,#30123b,#30123b,#30123b)"></i><i style="background:linear-gradient(#30123b,#30123b,#30123b,#321543,#351e58,#30123b,#33184a,#33184a,#30123b,#30123b,#30123b,#30123b,#30123b)"></i></div></div>
<div class="p" style="left:130px;top:635px;width:104px;height:31px"><div class="c" style="left:0px;top:1px;height:29px"><i style="flex-basis:3px;background:linear-gradient(#30123b,#30123b,#30123b,#33184a,#38276d,#4146ac,#476ee6,#4687fb,#4682f8,#4661d6,#3e3891,#351e58,#321543,#30123b,#30123b)"></i><i style="flex-basis:3px;background:linear-gradient(#30123b,#30123b,#30123b,#33184a,#38276d,#4249b1,#4771e9,#458cfd,#4687fb,#4666dd,#3f3b97,#36215f,#321543,#30123b,#30123b)"></i><i style="flex-basis:3px;background:linear-gradient(#30123b,#30123b,#30123b,#33184a,#392a73,#424bb5,#4778f0,#4294ff,#448ffe,#466be3,#4040a2,#36215f,#321543,#30123b,#30123b)"></i><i style="flex-basis:3px;background:linear-gradient(#30123b,#30123b,#30123b,#33184a,#3a2d79,#4451bf,#4680f6,#3d9efe,#4196ff,#4773eb,#4143a7,#372466,#321543,#30123b,#30123b)"></i><i style="flex-basis:2px;background:linear-gradient(#30123b,#30123b,#30123b,#341b51,#3b2f80,#4559cb,#4687fb,#38a5fb,#3ba0fd,#477bf2,#4249b1,#38276d,#321543,#30123b,#30123b)"></i><i style="flex-basis:2px;background:linear-gradient(#30123b,#30123b,#30123b,#341b51,#3c3286,#455ed3,#448ffe,#31aff5,#35abf8,#4682f8,#434eba,#392a73,#33184a,#30123b,#30123b)"></i><i style="flex-basis:2px;background:linear-gradient(#30123b,#30123b,#321543,#351e58,#3e3891,#4664da,#4099ff,#2ab9ee,#2eb4f2,#458cfd,#4456c7,#3a2d79,#33184a,#30123b,#30123b)"></i><i style="background:linear-gradient(#30123b,#30123b,#321543,#36215f,#3f3b97,#466be3,#3ba0fd,#23c3e4,#25c0e7,#4196ff,#455ed3,#3b2f80,#341b51,#30123b,#30123b)"></i><i style="background:linear-gradient(#30123b,#30123b,#321543,#36215f,#3f3e9c,#4771e9,#37a8fa,#1ecbda,#20c7df,#3e9bfe,#4664da,#3c3286,#341b51,#30123b,#30123b)"></i><i style="background:linear-gradient(#30123b,#30123b,#321543,#372466,#4040a2,#4776ee,#31aff5,#1ad2d2,#1bd0d5,#38a5fb,#4669e0,#3e3891,#351e58,#30123b,#30123b)"></i><i style="background:linear-gradient(#30123b,#30123b,#321543,#372466,#4146ac,#477bf2,#2ab9ee,#18dbc5,#18d7ca,#31aff5,#4771e9,#3f3b97,#351e58,#321543,#30123b)"></i><i style="background:linear-gradient(#30123b,#30123b,#33184a,#38276d,#424bb5,#4685fa,#23c3e4,#19e3b9,#19e2bb,#28bceb,#4778f0,#4040a2,#36215f,#321543,#30123b)"></i><i style="background:linear-gradient(#30123b,#30123b,#33184a,#392a73,#4451bf,#458cfd,#1bd0d5,#25eca7,#22ebaa,#1fc9dd,#4682f8,#4146ac,#372466,#321543,#30123b)"></i><i style="background:linear-gradient(#30123b,#30123b,#33184a,#3a2d79,#4456c7,#4099ff,#18ddc2,#3ff68a,#3ff68a,#18dbc5,#4294ff,#4451bf,#38276d,#33184a,#30123b)"></i><i style="background:linear-gradient(#30123b,#30123b,#341b51,#3c3286,#4661d6,#35abf8,#22ebaa,#71fe5f,#79fe59,#27eea4,#35abf8,#455ed3,#3a2d79,#33184a,#30123b)"></i><i style="background:linear-gradient(#30123b,#321543,#351e58,#3e3891,#476ee6,#23c3e4,#55fa76,#b4f836,#bef434,#71fe5f,#1ecbda,#4771e9,#3e3891,#341b51,#30123b)"></i><i style="background:linear-gradient(#30123b,#321543,#36215f,#4040a2,#4682f8,#18e0bd,#acfb38,#f7c13a,#fbb838,#bef434,#1ce6b4,#4680f6,#3f3b97,#351e58,#30123b)"></i><i style="background:linear-gradient(#30123b,#33184a,#38276d,#4451bf,#3aa3fc,#52fa7a,#efcd3a,#f8721c,#fd8a26,#c3f134,#18ddc2,#4771e9,#3c3286,#341b51,#30123b)"></i><i style="background:linear-gradient(#30123b,#341b51,#3d358b,#4666dd,#28bceb,#59fb73,#d0ea34,#ebd339,#c3f134,#3ff68a,#3ba0fd,#424bb5,#372466,#321543,#30123b)"></i><i style="background:linear-gradient(#30123b,#351e58,#3d358b,#4664da,#38a5fb,#1ce6b4,#52fa7a,#4af880,#18dec0,#4196ff,#4451bf,#38276d,#321543,#30123b,#30123b)"></i><i style="background:linear-gradient(#30123b,#351e58,#3c3286,#4456c7,#4687fb,#2eb4f2,#20c7df,#2cb7f0,#4687fb,#4451bf,#392a73,#33184a,#30123b,#30123b,#30123b)"></i><i style="background:linear-gradient(#30123b,#351e58,#3b2f80,#424bb5,#476ee6,#458afc,#448ffe,#477bf2,#4456c7,#3c3286,#351e58,#321543,#30123b,#30123b,#30123b)"></i><i style="background:linear-gradient(#30123b,#341b51,#3a2d79,#4143a7,#4559cb,#4669e0,#4666dd,#4454c3,#3e3891,#372466,#321543,#30123b,#30123b,#30123b,#30123b)"></i><i style="background:linear-gradient(#30123b,#341b51,#38276d,#3e3891,#4146ac,#424bb5,#4146ac,#3d358b,#372466,#33184a,#30123b,#30123b,#30123b,#30123b,#30123b)"></i><i style="background:linear-gradient(#30123b,#33184a,#36215f,#392a73,#3c3286,#3c3286,#3a2d79,#36215f,#33184a,#321543,#30123b,#30123b,#30123b,#30123b,#30123b)"></i><i style="background:linear-gradient(#30123b,#33184a,#341b51,#36215f,#36215f,#36215f,#351e58,#33184a,#321543,#30123b,#30123b,#30123b,#30123b,#30123b,#30123b)"></i><i style="background:linear-gradient(#30123b,#321543,#321543,#33184a,#33184a,#33184a,#321543,#30123b,#30123b,#30123b,#30123b,#30123b,#30123b,#30123b,#30123b)"></i></div></div>
<div class="p" style="left:239px;top:635px;width:103px;height:31px"><div class="c" style="left:0px;top:0px;height:30px"><i style="flex-basis:3px;background:linear-gradient(#30123b,#30123b,#30123b,#30123b,#341b51,#3c3286,#434eba,#4778f0,#4687fb,#477bf2,#455ccf,#3d358b,#341b51,#321543,#30123b,#30123b)"></i><i style="flex-basis:3px;background:linear-gradient(#30123b,#30123b,#30123b,#30123b,#341b51,#3b2f80,#4456c7,#467df4,#4391fe,#4685fa,#455ed3,#3e3891,#351e58,#321543,#30123b,#30123b)"></i><i style="flex-basis:2px;background:linear-gradient(#30123b,#30123b,#30123b,#321543,#341b51,#3d358b,#455ccf,#467df4,#4196ff,#4687fb,#4664da,#3e3891,#351e58,#321543,#30123b,#30123b)"></i><i style="flex-basis:2px;background:linear-gradient(#30123b,#30123b,#30123b,#321543,#351e58,#3c3286,#455ed3,#4682f8,#4099ff,#458cfd,#466be3,#3f3b97,#351e58,#321543,#30123b,#30123b)"></i><i style="flex-basis:2px;background:linear-gradient(#30123b,#30123b,#30123b,#321543,#351e58,#3d358b,#4664da,#458cfd,#38a5fb,#4391fe,#4771e9,#3f3e9c,#372466,#321543,#30123b,#30123b)"></i><i style="flex-basis:2px;background:linear-gradient(#30123b,#30123b,#30123b,#321543,#36215f,#3f3b97,#4664da,#4391fe,#33adf7,#3e9bfe,#4776ee,#4143a7,#372466,#321543,#30123b,#30123b)"></i><i style="flex-basis:2px;background:linear-gradient(#30123b,#30123b,#30123b,#321543,#372466,#4040a2,#4669e0,#3d9efe,#2cb7f0,#37a8fa,#467df4,#424bb5,#38276d,#33184a,#30123b,#30123b)"></i><i style="flex-basis:2px;background:linear-gradient(#30123b,#30123b,#30123b,#321543,#38276d,#4143a7,#4773eb,#37a8fa,#25c0e7,#2fb2f4,#4682f8,#434eba,#38276d,#33184a,#30123b,#30123b)"></i><i style="background:linear-gradient(#30123b,#30123b,#30123b,#321543,#392a73,#4249b1,#467df4,#2fb2f4,#1fc9dd,#28bceb,#458cfd,#4456c7,#3a2d79,#33184a,#30123b,#30123b)"></i><i style="background:linear-gradient(#30123b,#30123b,#30123b,#33184a,#3a2d79,#434eba,#4685fa,#2cb7f0,#1bd0d5,#20c7df,#4294ff,#455ccf,#3c3286,#341b51,#321543,#30123b)"></i><i style="background:linear-gradient(#30123b,#30123b,#30123b,#33184a,#3b2f80,#4451bf,#458afc,#25c0e7,#18d7ca,#1bd0d5,#3e9bfe,#4664da,#3d358b,#341b51,#321543,#30123b)"></i><i style="background:linear-gradient(#30123b,#30123b,#30123b,#341b51,#3b2f80,#4456c7,#4391fe,#1ccdd8,#18e0bd,#18d9c8,#38a5fb,#466be3,#3f3b97,#351e58,#321543,#30123b)"></i><i style="background:linear-gradient(#30123b,#30123b,#30123b,#341b51,#3c3286,#455ed3,#3e9bfe,#18d7ca,#1de7b2,#19e2bb,#2eb4f2,#4771e9,#3f3e9c,#36215f,#321543,#30123b)"></i><i style="background:linear-gradient(#30123b,#30123b,#321543,#351e58,#3e3891,#4669e0,#37a8fa,#18e0bd,#2ff19b,#25eca7,#22c5e2,#477bf2,#4146ac,#372466,#321543,#30123b)"></i><i style="background:linear-gradient(#30123b,#30123b,#321543,#36215f,#3f3e9c,#4773eb,#2ab9ee,#20eaac,#59fb73,#46f884,#18d9c8,#448ffe,#4451bf,#392a73,#33184a,#30123b)"></i><i style="background:linear-gradient(#30123b,#30123b,#321543,#372466,#4146ac,#4682f8,#1ccdd8,#46f884,#99fe42,#8bff4b,#2aefa1,#31aff5,#4664da,#3c3286,#341b51,#30123b)"></i><i style="background:linear-gradient(#30123b,#30123b,#33184a,#38276d,#4451bf,#4099ff,#1de7b2,#96fe44,#d9e436,#d9e436,#8fff49,#1ad4d0,#4773eb,#3d358b,#341b51,#30123b)"></i><i style="background:linear-gradient(#30123b,#30123b,#33184a,#3a2d79,#455ed3,#31aff5,#6dfe62,#f2c93a,#fd8a26,#fe9029,#cbed34,#19e2bb,#467df4,#3e3891,#351e58,#30123b)"></i><i style="background:linear-gradient(#30123b,#321543,#372466,#4143a7,#477bf2,#18dbc5,#bef434,#fea431,#ea4e0d,#fea933,#9cfe40,#25c0e7,#4666dd,#3b2f80,#33184a,#30123b)"></i><i style="background:linear-gradient(#30123b,#33184a,#38276d,#4249b1,#4682f8,#1ce6b4,#65fd69,#c6f034,#c6f034,#7dff56,#27bee9,#4666dd,#3c3286,#341b51,#321543,#30123b)"></i><i style="background:linear-gradient(#30123b,#33184a,#3a2d79,#4146ac,#4682f8,#31aff5,#1ad2d2,#22ebaa,#18ddc2,#2fb2f4,#476ee6,#3e3891,#351e58,#321543,#30123b,#30123b)"></i><i style="background:linear-gradient(#30123b,#33184a,#38276d,#3f3b97,#467df4,#476ee6,#3d9efe,#31aff5,#4294ff,#4669e0,#3f3e9c,#351e58,#321543,#30123b,#30123b,#30123b)"></i><i style="background:linear-gradient(#30123b,#33184a,#372466,#3f3e9c,#466be3,#4669e0,#477bf2,#4776ee,#455ccf,#4143a7,#392a73,#33184a,#30123b,#30123b,#30123b,#30123b)"></i><i style="background:linear-gradient(#30123b,#33184a,#372466,#3d358b,#4249b1,#4559cb,#4661d6,#4454c3,#4040a2,#3a2d79,#341b51,#321543,#30123b,#30123b,#30123b,#30123b)"></i><i style="background:linear-gradient(#30123b,#33184a,#351e58,#392a73,#3e3891,#4040a2,#4040a2,#3e3891,#392a73,#351e58,#321543,#30123b,#30123b,#30123b,#30123b,#30123b)"></i><i style="background:linear-gradient(#30123b,#321543,#341b51,#36215f,#392a73,#3a2d79,#392a73,#372466,#341b51,#321543,#30123b,#30123b,#30123b,#30123b,#30123b,#30123b)"></i><i style="flex-basis:2px;background:linear-gradient(#30123b,#30123b,#321543,#33184a,#33184a,#33184a,#33184a,#321543,#30123b,#30123b,#30123b,#30123b,#30123b,#30123b,#30123b,#30123b)"></i></div></div>
<div class="p" style="left:347px;top:635px;width:104px;height:31px"><div class="c" style="left:0px;top:3px;height:23px"><i style="flex-basis:3px;background:linear-gradient(#30123b,#30123b,#30123b,#30123b,#30123b,#30123b,#30123b,#30123b,#321543,#30123b,#30123b,#30123b,#30123b)"></i><i style="flex-basis:3px;background:linear-gradient(#30123b,#30123b,#30123b,#30123b,#30123b,#30123b,#30123b,#30123b,#30123b,#30123b,#30123b,#30123b,#30123b)"></i><i style="flex-basis:3px;background:linear-gradient(#30123b,#30123b,#30123b,#30123b,#30123b,#30123b,#321543,#30123b,#30123b,#30123b,#321543,#30123b,#30123b)"></i><i style="flex-basis:3px;background:linear-gradient(#30123b,#30123b,#30123b,#30123b,#30123b,#30123b,#321543,#30123b,#321543,#321543,#30123b,#30123b,#30123b)"></i><i style="flex-basis:3px;background:linear-gradient(#30123b,#30123b,#30123b,#30123b,#30123b,#341b51,#30123b,#30123b,#30123b,#30123b,#30123b,#30123b,#30123b)"></i><i style="flex-basis:3px;background:linear-gradient(#30123b,#30123b,#30123b,#30123b,#30123b,#321543,#321543,#30123b,#30123b,#30123b,#30123b,#30123b,#30123b)"></i><i style="flex-basis:3px;background:linear-gradient(#30123b,#30123b,#30123b,#30123b,#30123b,#30123b,#30123b,#30123b,#30123b,#30123b,#30123b,#30123b,#30123b)"></i><i style="flex-basis:3px;background:linear-gradient(#30123b,#30123b,#30123b,#30123b,#30123b,#30123b,#30123b,#30123b,#30123b,#30123b,#30123b,#30123b,#30123b)"></i><i style="flex-basis:2px;background:linear-gradient(#30123b,#30123b,#30123b,#30123b,#321543,#321543,#321543,#30123b,#30123b,#30123b,#30123b,#321543,#30123b)"></i><i style="background:linear-gradient(#30123b,#30123b,#30123b,#30123b,#321543,#30123b,#321543,#33184a,#321543,#321543,#341b51,#33184a,#30123b)"></i><i style="background:linear-gradient(#30123b,#30123b,#30123b,#321543,#321543,#321543,#321543,#351e58,#351e58,#38276d,#33184a,#321543,#30123b)"></i><i style="background:linear-gradient(#30123b,#30123b,#30123b,#30123b,#341b51,#392a73,#36215f,#3b2f80,#38276d,#33184a,#36215f,#351e58,#30123b)"></i><i style="background:linear-gradient(#30123b,#321543,#30123b,#341b51,#3c3286,#392a73,#434eba,#4451bf,#3a2d79,#321543,#351e58,#30123b,#30123b)"></i><i style="background:linear-gradient(#30123b,#321543,#321543,#33184a,#33184a,#3b2f80,#351e58,#351e58,#36215f,#341b51,#33184a,#321543,#30123b)"></i><i style="background:linear-gradient(#30123b,#30123b,#341b51,#341b51,#3d358b,#30123b,#372466,#30123b,#33184a,#30123b,#30123b,#30123b,#30123b)"></i><i style="background:linear-gradient(#30123b,#30123b,#38276d,#372466,#372466,#351e58,#30123b,#30123b,#33184a,#30123b,#30123b,#30123b,#30123b)"></i><i style="background:linear-gradient(#30123b,#30123b,#321543,#321543,#321543,#321543,#321543,#30123b,#30123b,#30123b,#30123b,#30123b,#30123b)"></i></div></div>
<div class="p" style="left:130px;top:666px;width:104px;height:32px"><div class="c" style="left:0px;top:2px;height:28px"><i style="flex-basis:3px;background:linear-gradient(#30123b,#30123b,#30123b,#33184a,#372466,#3f3e9c,#455ccf,#476ee6,#4669e0,#434eba,#3b2f80,#341b51,#30123b,#30123b,#30123b)"></i><i style="flex-basis:3px;background:linear-gradient(#30123b,#30123b,#30123b,#33184a,#38276d,#4040a2,#455ed3,#4773eb,#476ee6,#4454c3,#3c3286,#351e58,#321543,#30123b,#30123b)"></i><i style="flex-basis:3px;background:linear-gradient(#30123b,#30123b,#30123b,#33184a,#38276d,#4143a7,#4664da,#4778f0,#4773eb,#4456c7,#3d358b,#351e58,#321543,#30123b,#30123b)"></i><i style="flex-basis:3px;background:linear-gradient(#30123b,#30123b,#30123b,#33184a,#392a73,#4249b1,#466be3,#4680f6,#4778f0,#455ccf,#3f3b97,#36215f,#321543,#30123b,#30123b)"></i><i style="flex-basis:3px;background:linear-gradient(#30123b,#30123b,#30123b,#341b51,#3a2d79,#434eba,#4773eb,#4687fb,#4682f8,#4664da,#4040a2,#372466,#321543,#30123b,#30123b)"></i><i style="flex-basis:2px;background:linear-gradient(#30123b,#30123b,#321543,#351e58,#3c3286,#4454c3,#477bf2,#4391fe,#458cfd,#476ee6,#4146ac,#38276d,#33184a,#30123b,#30123b)"></i><i style="flex-basis:2px;background:linear-gradient(#30123b,#30123b,#321543,#351e58,#3d358b,#455ccf,#4682f8,#3e9bfe,#4196ff,#4776ee,#424bb5,#392a73,#33184a,#30123b,#30123b)"></i><i style="flex-basis:2px;background:linear-gradient(#30123b,#30123b,#321543,#36215f,#3f3b97,#4664da,#458cfd,#37a8fa,#3aa3fc,#4680f6,#4454c3,#3b2f80,#341b51,#30123b,#30123b)"></i><i style="background:linear-gradient(#30123b,#30123b,#321543,#372466,#4040a2,#466be3,#4099ff,#2eb4f2,#31aff5,#458cfd,#455ccf,#3c3286,#351e58,#321543,#30123b)"></i><i style="background:linear-gradient(#30123b,#30123b,#33184a,#38276d,#4143a7,#4771e9,#3ba0fd,#27bee9,#2ab9ee,#4196ff,#4664da,#3e3891,#351e58,#321543,#30123b)"></i><i style="background:linear-gradient(#30123b,#30123b,#33184a,#38276d,#4249b1,#4778f0,#35abf8,#1fc9dd,#20c7df,#3aa3fc,#466be3,#3f3e9c,#36215f,#321543,#30123b)"></i><i style="background:linear-gradient(#30123b,#30123b,#33184a,#3a2d79,#434eba,#4682f8,#2ab9ee,#18d7ca,#19d5cd,#2fb2f4,#4778f0,#4143a7,#372466,#321543,#30123b)"></i><i style="background:linear-gradient(#30123b,#30123b,#341b51,#3b2f80,#4456c7,#4391fe,#1ecbda,#1de7b2,#1de7b2,#1fc9dd,#458afc,#4451bf,#392a73,#33184a,#30123b)"></i><i style="background:linear-gradient(#30123b,#321543,#351e58,#3d358b,#4664da,#38a5fb,#19e3b9,#4af880,#52fa7a,#1ce6b4,#37a8fa,#4661d6,#3c3286,#341b51,#30123b)"></i><i style="background:linear-gradient(#30123b,#321543,#36215f,#3f3e9c,#4776ee,#22c5e2,#4ef97d,#a4fc3c,#a9fb39,#55fa76,#23c3e4,#476ee6,#3d358b,#341b51,#30123b)"></i><i style="background:linear-gradient(#30123b,#33184a,#38276d,#434eba,#4391fe,#1ce6b4,#a1fd3d,#dde037,#cbed34,#59fb73,#2cb7f0,#4661d6,#3b2f80,#33184a,#30123b)"></i><i style="background:linear-gradient(#30123b,#351e58,#3c3286,#455ed3,#3aa3fc,#1ce6b4,#6dfe62,#8bff4b,#55fa76,#19d5cd,#4685fa,#4143a7,#36215f,#321543,#30123b)"></i><i style="background:linear-gradient(#30123b,#351e58,#3c3286,#4559cb,#448ffe,#22c5e2,#18dec0,#18d9c8,#2eb4f2,#477bf2,#4146ac,#372466,#321543,#30123b,#30123b)"></i><i style="background:linear-gradient(#30123b,#351e58,#3b2f80,#434eba,#4773eb,#4294ff,#3ba0fd,#448ffe,#466be3,#4143a7,#38276d,#33184a,#30123b,#30123b,#30123b)"></i><i style="background:linear-gradient(#30123b,#351e58,#3a2d79,#4143a7,#455ed3,#4771e9,#4773eb,#4661d6,#4146ac,#392a73,#341b51,#30123b,#30123b,#30123b,#30123b)"></i><i style="background:linear-gradient(#30123b,#341b51,#392a73,#3f3b97,#424bb5,#4456c7,#4454c3,#4143a7,#3b2f80,#351e58,#321543,#30123b,#30123b,#30123b,#30123b)"></i><i style="background:linear-gradient(#30123b,#341b51,#372466,#3b2f80,#3f3b97,#3f3e9c,#3e3891,#3a2d79,#36215f,#33184a,#30123b,#30123b,#30123b,#30123b,#30123b)"></i><i style="background:linear-gradient(#30123b,#33184a,#351e58,#38276d,#392a73,#392a73,#372466,#351e58,#33184a,#30123b,#30123b,#30123b,#30123b,#30123b,#30123b)"></i><i style="flex-basis:2px;background:linear-gradient(#30123b,#321543,#33184a,#33184a,#341b51,#33184a,#321543,#321543,#30123b,#30123b,#30123b,#30123b,#30123b,#30123b,#30123b)"></i></div></div>
<div class="p" style="left:239px;top:666px;width:103px;height:32px"><div class="c" style="left:0px;top:0px;height:30px"><i style="flex-basis:3px;background:linear-gradient(#30123b,#30123b,#30123b,#30123b,#33184a,#38276d,#3f3e9c,#4661d6,#4771e9,#4669e0,#4451bf,#3d358b,#341b51,#30123b,#30123b,#30123b)"></i><i style="flex-basis:3px;background:linear-gradient(#30123b,#30123b,#30123b,#30123b,#321543,#38276d,#3f3e9c,#4661d6,#4773eb,#4771e9,#4456c7,#3c3286,#341b51,#321543,#30123b,#30123b)"></i><i style="flex-basis:2px;background:linear-gradient(#30123b,#30123b,#30123b,#30123b,#33184a,#372466,#4143a7,#4666dd,#4778f0,#4771e9,#4456c7,#3e3891,#341b51,#321543,#30123b,#30123b)"></i><i style="flex-basis:2px;background:linear-gradient(#30123b,#30123b,#30123b,#30123b,#341b51,#392a73,#4146ac,#4669e0,#4682f8,#4778f0,#455ed3,#3f3b97,#36215f,#30123b,#30123b,#30123b)"></i><i style="flex-basis:3px;background:linear-gradient(#30123b,#30123b,#30123b,#30123b,#341b51,#392a73,#4249b1,#476ee6,#4687fb,#4778f0,#455ed3,#3f3e9c,#36215f,#321543,#30123b,#30123b)"></i><i style="flex-basis:2px;background:linear-gradient(#30123b,#30123b,#30123b,#30123b,#351e58,#3a2d79,#4451bf,#4778f0,#4687fb,#4685fa,#4666dd,#4040a2,#372466,#321543,#30123b,#30123b)"></i><i style="flex-basis:2px;background:linear-gradient(#30123b,#30123b,#30123b,#321543,#351e58,#3c3286,#4454c3,#467df4,#448ffe,#458cfd,#476ee6,#4146ac,#38276d,#33184a,#30123b,#30123b)"></i><i style="flex-basis:2px;background:linear-gradient(#30123b,#30123b,#30123b,#321543,#351e58,#3d358b,#455ccf,#4685fa,#3d9efe,#4099ff,#4776ee,#434eba,#3a2d79,#33184a,#30123b,#30123b)"></i><i style="background:linear-gradient(#30123b,#30123b,#30123b,#321543,#36215f,#3d358b,#4664da,#448ffe,#38a5fb,#3d9efe,#467df4,#4456c7,#3b2f80,#341b51,#30123b,#30123b)"></i><i style="background:linear-gradient(#30123b,#30123b,#30123b,#321543,#36215f,#3f3b97,#4669e0,#4391fe,#35abf8,#3ba0fd,#4685fa,#4559cb,#3c3286,#341b51,#30123b,#30123b)"></i><i style="background:linear-gradient(#30123b,#30123b,#30123b,#33184a,#372466,#4143a7,#476ee6,#4099ff,#2fb2f4,#35abf8,#448ffe,#455ed3,#3d358b,#351e58,#321543,#30123b)"></i><i style="background:linear-gradient(#30123b,#30123b,#30123b,#33184a,#38276d,#4249b1,#4776ee,#3ba0fd,#27bee9,#2ab9ee,#3e9bfe,#4666dd,#3f3b97,#36215f,#321543,#30123b)"></i><i style="background:linear-gradient(#30123b,#30123b,#30123b,#33184a,#392a73,#424bb5,#4680f6,#33adf7,#1fc9dd,#1fc9dd,#37a8fa,#4771e9,#4040a2,#372466,#321543,#30123b)"></i><i style="background:linear-gradient(#30123b,#30123b,#30123b,#341b51,#3a2d79,#4451bf,#458afc,#27bee9,#18dbc5,#18ddc2,#28bceb,#467df4,#4249b1,#38276d,#33184a,#30123b)"></i><i style="background:linear-gradient(#30123b,#30123b,#321543,#341b51,#3b2f80,#455ccf,#4099ff,#1ad2d2,#27eea4,#2aefa1,#1ad4d0,#4196ff,#455ccf,#3a2d79,#341b51,#30123b)"></i><i style="background:linear-gradient(#30123b,#30123b,#321543,#351e58,#3e3891,#4669e0,#2fb2f4,#25eca7,#75fe5c,#7dff56,#2cf09e,#2cb7f0,#466be3,#3d358b,#351e58,#30123b)"></i><i style="background:linear-gradient(#30123b,#30123b,#321543,#372466,#4146ac,#4680f6,#1ad4d0,#80ff53,#d0ea34,#d2e935,#59fb73,#25c0e7,#4666dd,#3d358b,#341b51,#30123b)"></i><i style="background:linear-gradient(#30123b,#321543,#341b51,#3c3286,#455ed3,#31aff5,#38f491,#a7fc3a,#cdec34,#d7e535,#59fb73,#37a8fa,#4454c3,#392a73,#33184a,#30123b)"></i><i style="background:linear-gradient(#30123b,#321543,#351e58,#3d358b,#4773eb,#2cb7f0,#18d9c8,#8bff4b,#88ff4e,#4af880,#23c3e4,#466be3,#3d358b,#341b51,#30123b,#30123b)"></i><i style="background:linear-gradient(#30123b,#321543,#36215f,#3b2f80,#4664da,#37a8fa,#18dec0,#46f884,#18e0bd,#458cfd,#4559cb,#3d358b,#351e58,#321543,#30123b,#30123b)"></i><i style="background:linear-gradient(#30123b,#33184a,#38276d,#3f3b97,#455ccf,#4294ff,#3aa3fc,#4391fe,#4773eb,#4456c7,#3f3b97,#36215f,#321543,#30123b,#30123b,#30123b)"></i><i style="background:linear-gradient(#30123b,#33184a,#36215f,#3b2f80,#4040a2,#4559cb,#4666dd,#476ee6,#4559cb,#3f3e9c,#38276d,#33184a,#30123b,#30123b,#30123b,#30123b)"></i><i style="background:linear-gradient(#30123b,#33184a,#351e58,#3a2d79,#3f3b97,#4146ac,#424bb5,#4249b1,#3e3891,#392a73,#341b51,#321543,#30123b,#30123b,#30123b,#30123b)"></i><i style="background:linear-gradient(#30123b,#321543,#341b51,#372466,#3a2d79,#3d358b,#3d358b,#3b2f80,#38276d,#341b51,#321543,#30123b,#30123b,#30123b,#30123b,#30123b)"></i><i style="background:linear-gradient(#30123b,#321543,#33184a,#351e58,#36215f,#372466,#372466,#351e58,#341b51,#321543,#30123b,#30123b,#30123b,#30123b,#30123b,#30123b)"></i><i style="background:linear-gradient(#30123b,#30123b,#321543,#33184a,#341b51,#341b51,#33184a,#33184a,#321543,#30123b,#30123b,#30123b,#30123b,#30123b,#30123b,#30123b)"></i></div></div>
<div class="p" style="left:347px;top:666px;width:104px;height:32px"><div class="c" style="left:0px;top:2px;height:24px"><i style="flex-basis:3px;background:linear-gradient(#30123b,#30123b,#30123b,#30123b,#30123b,#30123b,#321543,#30123b,#30123b,#30123b,#321543,#30123b,#30123b)"></i><i style="flex-basis:3px;background:linear-gradient(#30123b,#30123b,#30123b,#30123b,#30123b,#30123b,#321543,#30123b,#321543,#321543,#30123b,#30123b,#30123b)"></i><i style="flex-basis:3px;background:linear-gradient(#30123b,#30123b,#30123b,#30123b,#30123b,#30123b,#30123b,#30123b,#30123b,#30123b,#30123b,#30123b,#30123b)"></i><i style="flex-basis:3px;background:linear-gradient(#30123b,#30123b,#30123b,#30123b,#30123b,#30123b,#30123b,#341b51,#30123b,#30123b,#30123b,#30123b,#30123b)"></i><i style="flex-basis:3px;background:linear-gradient(#30123b,#30123b,#30123b,#30123b,#321543,#30123b,#30123b,#30123b,#321543,#321543,#30123b,#30123b,#30123b)"></i><i style="flex-basis:3px;background:linear-gradient(#30123b,#30123b,#30123b,#30123b,#30123b,#30123b,#30123b,#321543,#30123b,#30123b,#30123b,#30123b,#30123b)"></i><i style="flex-basis:3px;background:linear-gradient(#30123b,#30123b,#30123b,#30123b,#321543,#30123b,#30123b,#30123b,#30123b,#30123b,#30123b,#30123b,#30123b)"></i><i style="flex-basis:3px;background:linear-gradient(#30123b,#30123b,#30123b,#30123b,#30123b,#30123b,#321543,#321543,#341b51,#30123b,#30123b,#30123b,#30123b)"></i><i style="flex-basis:3px;background:linear-gradient(#30123b,#30123b,#30123b,#30123b,#30123b,#30123b,#321543,#30123b,#30123b,#30123b,#30123b,#30123b,#30123b)"></i><i style="background:linear-gradient(#30123b,#30123b,#30123b,#30123b,#30123b,#30123b,#321543,#30123b,#321543,#341b51,#30123b,#321543,#30123b)"></i><i style="background:linear-gradient(#30123b,#30123b,#30123b,#321543,#321543,#341b51,#392a73,#3e3891,#4040a2,#36215f,#30123b,#321543,#30123b)"></i><i style="background:linear-gradient(#30123b,#30123b,#30123b,#341b51,#392a73,#36215f,#351e58,#321543,#3f3b97,#372466,#30123b,#321543,#30123b)"></i><i style="background:linear-gradient(#30123b,#30123b,#30123b,#38276d,#372466,#321543,#455ed3,#4146ac,#372466,#33184a,#321543,#30123b,#30123b)"></i><i style="background:linear-gradient(#30123b,#33184a,#341b51,#392a73,#4249b1,#4146ac,#424bb5,#3c3286,#321543,#30123b,#30123b,#30123b,#30123b)"></i><i style="background:linear-gradient(#30123b,#341b51,#351e58,#341b51,#3f3b97,#3c3286,#30123b,#341b51,#30123b,#30123b,#30123b,#30123b,#30123b)"></i><i style="background:linear-gradient(#30123b,#30123b,#321543,#30123b,#33184a,#30123b,#33184a,#321543,#30123b,#30123b,#30123b,#30123b,#30123b)"></i></div></div>
<svg width="525" height="742" viewBox="0 0 525 742"><defs><filter id="bl" x="-5%" y="-20%" width="110%" height="140%"><feGaussianBlur stdDeviation="0.85"/></filter></defs><clipPath id="k0_0"><rect x="21.40" y="10.30" width="103.50" height="31.33"/></clipPath><g clip-path="url(#k0_0)"><rect x="20.40" y="9.30" width="105.50" height="33.33" fill="#8b8b8b"/><g filter="url(#bl)"><rect x="20.40" y="8.30" width="4.2" height="35.33" fill="#7b7b7b"/><rect x="20.40" y="8.30" width="1.6" height="35.33" fill="#4a4a4a"/><ellipse cx="46.7" cy="18.6" rx="1.0" ry="3.5" fill="#a9a9a9"/><ellipse cx="47.5" cy="35.1" rx="1.0" ry="4.8" fill="#a9a9a9"/><polygon points="48.8,8.7 121.9,8.7 124.0,43.2 52.8,43.2" fill="#222222"/><polygon points="87.0,17.4 88.3,17.4 87.3,26.2 86.0,26.2" fill="#8f8f8f"/><polygon points="81.3,34.5 83.2,34.5 82.0,42.2 80.1,42.2" fill="#616161"/><polygon points="64.0,40.8 66.1,40.8 64.6,51.5 62.5,51.5" fill="#878787"/><polygon points="98.9,22.6 100.5,22.6 103.9,32.8 102.3,32.8" fill="#717171"/><polygon points="98.5,11.9 99.8,11.9 97.3,16.6 95.9,16.6" fill="#8a8a8a"/><polygon points="116.2,32.7 118.1,32.7 121.6,42.2 119.7,42.2" fill="#656565"/><polygon points="99.4,30.7 101.2,30.7 102.6,37.3 100.9,37.3" fill="#878787"/><polygon points="106.9,23.8 109.1,23.8 110.9,37.2 108.7,37.2" fill="#505050"/><polygon points="114.8,22.4 116.1,22.4 115.9,33.8 114.5,33.8" fill="#5a5a5a"/><polygon points="109.7,15.9 111.0,15.9 110.8,27.8 109.5,27.8" fill="#4d4d4d"/><polygon points="63.6,13.8 65.1,13.8 68.8,24.3 67.2,24.3" fill="#727272"/><polygon points="89.1,39.2 91.3,39.2 92.7,46.2 90.6,46.2" fill="#8d8d8d"/><polygon points="69.4,32.7 71.3,32.7 74.2,48.0 72.2,48.0" fill="#666666"/><polygon points="54.8,11.4 55.7,11.4 54.8,22.4 53.8,22.4" fill="#505050"/><polygon points="111.4,36.0 113.3,36.0 112.5,50.1 110.6,50.1" fill="#7d7d7d"/><polygon points="91.3,29.5 92.6,29.5 92.0,40.7 90.7,40.7" fill="#6e6e6e"/><polygon points="86.5,26.0 88.6,26.0 85.0,33.1 82.9,33.1" fill="#696969"/><polygon points="81.3,25.6 82.4,25.6 86.3,36.5 85.2,36.5" fill="#575757"/><polygon points="68.4,40.4 70.3,40.4 69.3,51.5 67.4,51.5" fill="#757575"/><polygon points="87.5,13.1 88.9,13.1 86.3,27.0 84.9,27.0" fill="#898989"/><polygon points="93.2,10.8 94.6,10.8 91.6,15.3 90.2,15.3" fill="#545454"/><polygon points="65.4,38.0 67.5,38.0 66.8,44.8 64.6,44.8" fill="#696969"/><polygon points="109.1,19.4 110.3,19.4 113.5,28.9 112.3,28.9" fill="#727272"/><polygon points="81.6,23.0 83.0,23.0 82.3,30.8 80.9,30.8" fill="#757575"/><polygon points="122.6,8.7 130.4,8.7 130.4,43.2 124.6,43.2" fill="#969696"/><polygon points="81.6,10.3 95.2,10.3 97.6,17.0 101.9,18.6 107.2,17.0 112.0,19.1 114.7,29.5 111.2,41.6 84.0,41.6 78.4,26.6" fill="#828282"/><polygon points="68.0,15.4 73.6,16.7 74.4,26.3 69.6,27.6 67.7,21.5" fill="#666666"/><polygon points="63.2,29.5 65.6,27.9 66.4,37.5 64.0,39.1" fill="#666666"/><polygon points="94.6,10.3 107.4,10.3 105.8,14.5 101.9,17.7 98.1,18.6 95.8,14.5" fill="#060606"/></g></g><clipPath id="k0_1"><rect x="21.40" y="41.63" width="103.50" height="31.33"/></clipPath><g clip-path="url(#k0_1)"><rect x="20.40" y="40.63" width="105.50" height="33.33" fill="#8b8b8b"/><g filter="url(#bl)"><rect x="20.40" y="39.63" width="4.2" height="35.33" fill="#7b7b7b"/><rect x="20.40" y="39.63" width="1.6" height="35.33" fill="#4a4a4a"/><ellipse cx="46.7" cy="48.8" rx="1.0" ry="3.5" fill="#a9a9a9"/><ellipse cx="47.5" cy="65.6" rx="1.0" ry="4.8" fill="#a9a9a9"/><polygon points="48.8,40.0 121.9,40.0 124.0,74.6 52.8,74.6" fill="#222222"/><polygon points="98.9,43.0 100.3,43.0 98.6,54.7 97.2,54.7" fill="#8c8c8c"/><polygon points="64.8,53.8 66.5,53.8 63.9,63.6 62.2,63.6" fill="#575757"/><polygon points="97.0,49.5 98.5,49.5 97.1,54.0 95.6,54.0" fill="#5d5d5d"/><polygon points="83.8,43.5 85.7,43.5 86.2,56.3 84.3,56.3" fill="#7b7b7b"/><polygon points="92.8,61.7 94.8,61.7 93.6,76.1 91.6,76.1" fill="#5e5e5e"/><polygon points="94.2,53.3 96.3,53.3 95.6,65.8 93.6,65.8" fill="#878787"/><polygon points="55.7,56.0 56.8,56.0 53.8,70.1 52.7,70.1" fill="#7d7d7d"/><polygon points="110.3,47.1 111.6,47.1 112.8,62.1 111.5,62.1" fill="#5e5e5e"/><polygon points="81.8,46.8 83.0,46.8 85.8,53.1 84.6,53.1" fill="#797979"/><polygon points="61.1,51.9 62.8,51.9 60.6,56.0 58.9,56.0" fill="#7a7a7a"/><polygon points="72.5,53.4 73.5,53.4 71.5,58.3 70.5,58.3" fill="#4a4a4a"/><polygon points="65.9,56.2 67.9,56.2 71.1,68.0 69.1,68.0" fill="#757575"/><polygon points="89.7,51.5 90.8,51.5 90.8,63.6 89.7,63.6" fill="#6a6a6a"/><polygon points="94.0,57.8 96.1,57.8 93.8,63.3 91.7,63.3" fill="#888888"/><polygon points="54.8,52.7 55.8,52.7 56.0,65.0 55.1,65.0" fill="#515151"/><polygon points="97.3,63.0 98.5,63.0 99.3,71.8 98.1,71.8" fill="#6e6e6e"/><polygon points="100.4,48.1 102.0,48.1 104.4,62.8 102.8,62.8" fill="#525252"/><polygon points="112.3,63.8 114.5,63.8 110.9,69.0 108.7,69.0" fill="#5f5f5f"/><polygon points="75.0,59.9 76.7,59.9 74.7,74.0 73.0,74.0" fill="#686868"/><polygon points="113.6,42.6 115.8,42.6 116.9,49.2 114.6,49.2" fill="#525252"/><polygon points="80.7,45.5 82.2,45.5 85.8,54.0 84.3,54.0" fill="#7c7c7c"/><polygon points="57.2,42.1 58.9,42.1 62.8,56.0 61.1,56.0" fill="#7d7d7d"/><polygon points="83.5,60.5 84.9,60.5 88.2,65.6 86.8,65.6" fill="#646464"/><polygon points="108.9,44.5 110.2,44.5 109.5,52.2 108.3,52.2" fill="#6d6d6d"/><polygon points="122.6,40.0 130.4,40.0 130.4,74.6 124.6,74.6" fill="#969696"/><polygon points="83.2,41.6 89.6,41.6 90.4,46.4 93.6,54.4 98.4,49.6 105.6,48.0 110.4,56.0 109.6,73.0 84.0,73.0 80.0,64.0 78.4,56.0" fill="#828282"/><polygon points="68.0,46.4 74.4,47.7 75.0,59.2 69.6,59.9 67.7,52.8" fill="#666666"/><polygon points="63.2,62.4 66.4,60.8 67.2,70.4 64.0,71.2" fill="#666666"/><polygon points="91.4,41.6 108.6,41.6 107.8,44.8 103.5,47.4 98.7,49.3 94.9,53.8 92.8,48.0" fill="#060606"/><polygon points="77.9,41.6 83.7,41.6 81.8,49.3 80.2,46.4" fill="#060606"/></g></g><clipPath id="k0_2"><rect x="21.40" y="72.96" width="103.50" height="31.33"/></clipPath><g clip-path="url(#k0_2)"><rect x="20.40" y="71.96" width="105.50" height="33.33" fill="#8b8b8b"/><g filter="url(#bl)"><rect x="20.40" y="70.96" width="4.2" height="35.33" fill="#7b7b7b"/><rect x="20.40" y="70.96" width="1.6" height="35.33" fill="#4a4a4a"/><ellipse cx="46.7" cy="79.4" rx="1.0" ry="3.5" fill="#a9a9a9"/><ellipse cx="47.5" cy="96.1" rx="1.0" ry="4.8" fill="#a9a9a9"/><polygon points="48.8,71.4 121.9,71.4 124.0,105.9 52.8,105.9" fill="#222222"/><polygon points="108.7,73.8 109.9,73.8 106.7,85.2 105.4,85.2" fill="#747474"/><polygon points="58.0,103.1 60.2,103.1 61.3,113.3 59.0,113.3" fill="#7f7f7f"/><polygon points="104.8,86.0 106.8,86.0 110.2,95.1 108.2,95.1" fill="#797979"/><polygon points="78.7,99.9 80.1,99.9 78.7,105.0 77.3,105.0" fill="#656565"/><polygon points="103.3,93.6 104.5,93.6 106.8,107.3 105.6,107.3" fill="#646464"/><polygon points="88.1,97.9 89.6,97.9 86.2,110.8 84.7,110.8" fill="#6b6b6b"/><polygon points="83.0,80.7 85.1,80.7 84.7,84.9 82.6,84.9" fill="#4b4b4b"/><polygon points="87.2,99.9 88.6,99.9 85.6,114.7 84.2,114.7" fill="#535353"/><polygon points="106.3,93.8 108.2,93.8 108.0,104.3 106.1,104.3" fill="#888888"/><polygon points="79.1,89.5 80.9,89.5 82.0,98.6 80.2,98.6" fill="#727272"/><polygon points="84.3,101.7 86.3,101.7 89.4,116.8 87.5,116.8" fill="#5f5f5f"/><polygon points="99.9,74.8 101.1,74.8 103.1,87.5 101.9,87.5" fill="#5d5d5d"/><polygon points="117.6,73.1 119.0,73.1 118.5,79.5 117.1,79.5" fill="#8a8a8a"/><polygon points="72.9,86.4 74.4,86.4 78.3,100.6 76.7,100.6" fill="#6a6a6a"/><polygon points="89.8,97.5 91.8,97.5 90.5,103.2 88.5,103.2" fill="#7a7a7a"/><polygon points="66.8,87.2 69.0,87.2 71.0,103.1 68.8,103.1" fill="#6c6c6c"/><polygon points="88.3,75.1 90.5,75.1 92.8,90.6 90.6,90.6" fill="#858585"/><polygon points="80.7,97.9 81.7,97.9 79.3,103.9 78.3,103.9" fill="#595959"/><polygon points="59.5,95.9 60.6,95.9 58.3,104.9 57.2,104.9" fill="#8b8b8b"/><polygon points="87.7,92.0 89.5,92.0 86.8,102.0 85.1,102.0" fill="#818181"/><polygon points="107.6,93.5 108.8,93.5 107.0,104.4 105.9,104.4" fill="#5a5a5a"/><polygon points="94.7,92.5 96.2,92.5 95.2,101.5 93.8,101.5" fill="#545454"/><polygon points="56.7,87.0 58.8,87.0 55.9,95.2 53.9,95.2" fill="#606060"/><polygon points="118.1,80.3 119.6,80.3 120.9,95.8 119.5,95.8" fill="#656565"/><polygon points="122.6,71.4 130.4,71.4 130.4,105.9 124.6,105.9" fill="#969696"/><polygon points="84.0,73.0 89.6,73.0 90.1,79.4 92.0,88.0 95.2,80.0 100.0,76.8 107.2,78.4 108.8,88.9 108.8,104.3 83.2,104.3 78.4,96.9 78.4,87.3 82.4,84.0" fill="#828282"/><polygon points="68.0,76.2 75.2,77.8 76.0,87.3 69.6,85.7" fill="#666666"/><polygon points="60.0,88.9 76.0,88.0 76.8,98.5 61.6,99.2" fill="#666666"/><polygon points="88.6,90.5 89.3,80.0 91.4,73.0 108.3,73.0 109.3,80.0 106.4,79.4 101.3,80.3 97.4,83.2 94.2,89.3 91.4,92.1" fill="#060606"/><polygon points="77.0,73.0 84.3,73.0 83.7,80.2 81.9,84.8 79.2,80.2" fill="#060606"/></g></g><clipPath id="k0_3"><rect x="21.40" y="104.29" width="103.50" height="31.33"/></clipPath><g clip-path="url(#k0_3)"><rect x="20.40" y="103.29" width="105.50" height="33.33" fill="#8b8b8b"/><g filter="url(#bl)"><rect x="20.40" y="102.29" width="4.2" height="35.33" fill="#7b7b7b"/><rect x="20.40" y="102.29" width="1.6" height="35.33" fill="#4a4a4a"/><ellipse cx="46.7" cy="110.7" rx="1.0" ry="3.5" fill="#a9a9a9"/><ellipse cx="47.5" cy="127.5" rx="1.0" ry="4.8" fill="#a9a9a9"/><polygon points="48.8,102.7 121.9,102.7 124.0,137.2 52.8,137.2" fill="#222222"/><polygon points="110.2,121.9 111.8,121.9 112.4,130.1 110.9,130.1" fill="#6e6e6e"/><polygon points="108.9,112.6 110.5,112.6 107.6,120.7 106.0,120.7" fill="#5a5a5a"/><polygon points="57.5,116.6 59.0,116.6 62.2,127.3 60.7,127.3" fill="#545454"/><polygon points="81.2,124.7 82.9,124.7 83.1,135.5 81.4,135.5" fill="#737373"/><polygon points="62.9,110.2 64.4,110.2 67.6,124.6 66.0,124.6" fill="#585858"/><polygon points="85.1,119.0 86.6,119.0 89.2,134.7 87.7,134.7" fill="#7a7a7a"/><polygon points="74.5,109.0 76.6,109.0 74.6,122.3 72.4,122.3" fill="#7b7b7b"/><polygon points="72.0,131.4 73.3,131.4 69.5,138.1 68.3,138.1" fill="#6b6b6b"/><polygon points="102.2,115.2 103.5,115.2 106.1,129.0 104.9,129.0" fill="#4b4b4b"/><polygon points="110.7,126.1 111.7,126.1 112.0,134.9 111.0,134.9" fill="#535353"/><polygon points="116.4,105.3 118.3,105.3 117.2,110.8 115.3,110.8" fill="#4b4b4b"/><polygon points="96.2,127.1 98.0,127.1 101.5,141.1 99.7,141.1" fill="#838383"/><polygon points="101.1,121.4 102.8,121.4 105.8,136.2 104.0,136.2" fill="#757575"/><polygon points="58.4,125.7 60.0,125.7 57.7,138.3 56.1,138.3" fill="#7a7a7a"/><polygon points="113.6,125.6 114.8,125.6 117.8,136.1 116.6,136.1" fill="#717171"/><polygon points="76.1,121.8 77.3,121.8 80.2,133.8 79.0,133.8" fill="#6a6a6a"/><polygon points="78.1,134.0 80.0,134.0 78.1,141.6 76.3,141.6" fill="#727272"/><polygon points="71.7,122.3 73.3,122.3 71.4,130.8 69.8,130.8" fill="#898989"/><polygon points="77.1,110.5 79.3,110.5 80.0,121.0 77.8,121.0" fill="#737373"/><polygon points="62.7,131.4 64.5,131.4 66.4,136.0 64.5,136.0" fill="#727272"/><polygon points="60.2,109.7 62.4,109.7 63.1,117.9 60.9,117.9" fill="#4e4e4e"/><polygon points="91.6,130.0 93.1,130.0 92.7,138.3 91.1,138.3" fill="#727272"/><polygon points="96.8,133.3 98.8,133.3 99.7,144.3 97.8,144.3" fill="#787878"/><polygon points="88.5,124.4 90.4,124.4 90.9,138.7 89.0,138.7" fill="#676767"/><polygon points="122.6,102.7 130.4,102.7 130.4,137.2 124.6,137.2" fill="#969696"/><polygon points="84.0,104.3 108.0,104.3 108.0,135.6 81.6,135.6 77.9,126.7 80.0,113.9" fill="#828282"/><polygon points="68.0,106.7 76.0,107.5 76.8,113.9 69.6,115.5" fill="#666666"/><polygon points="61.6,118.7 76.0,120.3 76.8,128.3 63.2,128.3" fill="#666666"/><polygon points="77.0,104.3 85.6,104.3 87.8,110.7 89.9,116.3 91.4,123.2 88.8,124.4 85.3,120.3 80.8,112.9" fill="#060606"/><polygon points="88.5,124.4 89.4,115.8 91.7,112.0 97.4,107.0 102.9,104.6 105.3,106.5 101.9,110.4 98.1,113.9 94.4,120.6 91.5,124.8" fill="#060606"/></g></g><clipPath id="k0_4"><rect x="21.40" y="135.62" width="103.50" height="31.33"/></clipPath><g clip-path="url(#k0_4)"><rect x="20.40" y="134.62" width="105.50" height="33.33" fill="#8b8b8b"/><g filter="url(#bl)"><rect x="20.40" y="133.62" width="4.2" height="35.33" fill="#7b7b7b"/><rect x="20.40" y="133.62" width="1.6" height="35.33" fill="#4a4a4a"/><ellipse cx="46.7" cy="142.0" rx="1.0" ry="3.5" fill="#a9a9a9"/><ellipse cx="47.5" cy="158.0" rx="1.0" ry="4.8" fill="#a9a9a9"/><polygon points="48.8,134.0 121.9,134.0 124.0,168.5 52.8,168.5" fill="#222222"/><polygon points="82.1,147.0 83.3,147.0 79.4,157.2 78.2,157.2" fill="#8d8d8d"/><polygon points="107.2,159.3 109.0,159.3 108.2,163.7 106.4,163.7" fill="#656565"/><polygon points="66.9,159.7 68.6,159.7 67.3,174.8 65.5,174.8" fill="#5a5a5a"/><polygon points="101.9,166.9 103.2,166.9 100.6,172.9 99.3,172.9" fill="#535353"/><polygon points="93.0,150.5 94.5,150.5 97.4,157.3 95.8,157.3" fill="#696969"/><polygon points="58.0,166.7 59.2,166.7 61.7,179.3 60.5,179.3" fill="#696969"/><polygon points="71.6,149.4 72.8,149.4 70.7,159.1 69.5,159.1" fill="#535353"/><polygon points="68.7,140.7 70.9,140.7 72.7,152.1 70.5,152.1" fill="#878787"/><polygon points="116.5,139.4 118.6,139.4 120.8,144.6 118.7,144.6" fill="#777777"/><polygon points="112.6,156.1 113.6,156.1 115.3,167.7 114.2,167.7" fill="#686868"/><polygon points="98.7,160.6 99.9,160.6 96.0,166.6 94.8,166.6" fill="#7e7e7e"/><polygon points="107.9,137.1 108.9,137.1 111.0,150.8 110.0,150.8" fill="#7f7f7f"/><polygon points="78.6,149.0 80.4,149.0 81.2,155.1 79.4,155.1" fill="#646464"/><polygon points="108.9,157.9 109.9,157.9 109.7,166.8 108.7,166.8" fill="#5c5c5c"/><polygon points="67.7,139.6 68.9,139.6 66.6,143.7 65.3,143.7" fill="#7a7a7a"/><polygon points="93.1,166.7 94.4,166.7 96.7,175.4 95.4,175.4" fill="#7b7b7b"/><polygon points="69.7,144.5 71.0,144.5 71.4,150.1 70.1,150.1" fill="#8d8d8d"/><polygon points="87.9,138.5 89.7,138.5 88.5,148.5 86.7,148.5" fill="#747474"/><polygon points="112.1,161.5 113.4,161.5 114.3,168.2 113.0,168.2" fill="#757575"/><polygon points="63.7,163.4 65.5,163.4 68.6,171.7 66.8,171.7" fill="#4d4d4d"/><polygon points="84.4,166.5 85.5,166.5 89.3,174.4 88.3,174.4" fill="#5a5a5a"/><polygon points="95.4,157.9 96.4,157.9 94.8,162.1 93.8,162.1" fill="#848484"/><polygon points="116.8,163.4 118.9,163.4 122.4,172.3 120.3,172.3" fill="#5e5e5e"/><polygon points="102.1,149.7 103.7,149.7 100.2,156.5 98.5,156.5" fill="#4a4a4a"/><polygon points="122.6,134.0 130.4,134.0 130.4,168.5 124.6,168.5" fill="#969696"/><polygon points="83.2,135.6 107.2,135.6 107.2,167.0 81.1,167.0 80.5,154.8" fill="#828282"/><polygon points="107.7,138.8 109.3,138.8 109.9,154.8 108.3,154.8" fill="#9a9a9a"/><polygon points="70.4,135.6 83.2,135.6 81.6,167.0 70.4,167.0" fill="#2b2b2b"/><polygon points="58.4,137.2 69.6,136.9 69.6,142.3 58.4,142.3" fill="#666666"/><polygon points="75.4,145.5 78.2,144.6 80.8,153.2 81.8,167.0 77.9,167.0 76.8,154.8" fill="#666666"/><polygon points="71.8,135.6 73.4,135.6 73.4,167.0 71.8,167.0" fill="#666666"/><polygon points="74.4,135.6 84.3,135.6 86.6,142.0 89.4,148.4 90.7,155.8 87.2,157.0 81.1,149.0 76.5,142.0" fill="#060606"/><polygon points="86.9,157.0 87.2,149.2 90.4,142.3 96.8,137.2 99.0,139.8 97.1,144.6 93.3,151.0 90.7,157.5" fill="#060606"/></g></g><clipPath id="k0_5"><rect x="21.40" y="166.95" width="103.50" height="31.33"/></clipPath><g clip-path="url(#k0_5)"><rect x="20.40" y="165.95" width="105.50" height="33.33" fill="#8b8b8b"/><g filter="url(#bl)"><rect x="20.40" y="164.95" width="4.2" height="35.33" fill="#7b7b7b"/><rect x="20.40" y="164.95" width="1.6" height="35.33" fill="#4a4a4a"/><ellipse cx="46.4" cy="173.3" rx="1.0" ry="3.5" fill="#a9a9a9"/><ellipse cx="47.2" cy="189.3" rx="1.0" ry="4.8" fill="#a9a9a9"/><polygon points="48.5,165.4 121.6,165.4 124.0,199.9 52.8,199.9" fill="#222222"/><polygon points="60.5,197.4 62.1,197.4 62.3,204.3 60.8,204.3" fill="#5c5c5c"/><polygon points="111.0,168.2 112.1,168.2 108.5,181.4 107.4,181.4" fill="#7f7f7f"/><polygon points="55.0,186.3 57.0,186.3 60.9,201.1 58.9,201.1" fill="#6b6b6b"/><polygon points="77.5,194.1 79.0,194.1 75.1,205.8 73.7,205.8" fill="#828282"/><polygon points="82.6,184.4 84.5,184.4 87.8,193.3 85.8,193.3" fill="#767676"/><polygon points="102.1,191.4 103.5,191.4 102.4,195.6 101.0,195.6" fill="#5d5d5d"/><polygon points="114.7,174.9 116.0,174.9 118.2,189.8 116.9,189.8" fill="#666666"/><polygon points="114.9,189.1 115.9,189.1 118.7,197.0 117.6,197.0" fill="#757575"/><polygon points="94.8,192.3 96.5,192.3 95.6,199.5 93.9,199.5" fill="#606060"/><polygon points="67.5,175.1 69.4,175.1 67.0,189.3 65.2,189.3" fill="#7f7f7f"/><polygon points="108.9,183.8 110.4,183.8 107.9,190.3 106.4,190.3" fill="#5f5f5f"/><polygon points="59.1,173.0 61.3,173.0 57.6,184.4 55.4,184.4" fill="#5b5b5b"/><polygon points="101.8,196.2 103.3,196.2 105.8,208.8 104.4,208.8" fill="#4a4a4a"/><polygon points="108.6,181.9 109.9,181.9 106.5,193.0 105.1,193.0" fill="#545454"/><polygon points="89.4,185.2 90.7,185.2 92.8,198.2 91.5,198.2" fill="#616161"/><polygon points="93.4,197.6 94.8,197.6 93.3,209.1 92.0,209.1" fill="#8a8a8a"/><polygon points="84.9,193.9 86.1,193.9 84.3,201.3 83.1,201.3" fill="#717171"/><polygon points="86.6,190.6 87.7,190.6 86.0,205.7 84.9,205.7" fill="#6f6f6f"/><polygon points="89.0,182.4 91.2,182.4 90.5,193.7 88.3,193.7" fill="#676767"/><polygon points="69.9,197.7 71.8,197.7 70.1,205.2 68.2,205.2" fill="#7c7c7c"/><polygon points="87.5,168.2 89.1,168.2 91.1,176.7 89.5,176.7" fill="#7b7b7b"/><polygon points="59.4,193.9 60.5,193.9 57.0,205.8 56.0,205.8" fill="#7a7a7a"/><polygon points="78.9,173.4 80.9,173.4 81.8,189.1 79.8,189.1" fill="#6a6a6a"/><polygon points="87.4,168.7 88.4,168.7 85.3,175.6 84.3,175.6" fill="#646464"/><polygon points="122.2,165.4 130.4,165.4 130.4,199.9 124.6,199.9" fill="#969696"/><polygon points="82.4,167.0 107.2,167.0 107.2,198.3 82.1,198.3 81.1,186.1" fill="#828282"/><polygon points="107.7,170.1 109.3,170.1 109.9,186.1 108.3,186.1" fill="#9a9a9a"/><polygon points="70.4,167.0 83.2,167.0 82.4,198.3 70.4,198.3" fill="#2b2b2b"/><polygon points="58.4,168.5 69.6,168.2 69.6,173.3 58.4,173.3" fill="#666666"/><polygon points="75.0,176.9 77.9,175.9 80.8,185.3 82.4,198.3 78.2,198.3 76.6,186.9" fill="#666666"/><polygon points="71.8,167.0 73.4,167.0 73.4,198.3 71.8,198.3" fill="#666666"/><polygon points="73.6,167.0 84.0,167.0 86.9,174.9 89.8,184.5 90.7,190.9 86.6,191.9 81.8,182.9 76.6,174.1" fill="#060606"/><polygon points="86.2,191.9 86.6,182.9 89.8,175.9 94.4,170.1 96.8,173.0 94.9,179.7 91.7,188.5 90.1,192.2" fill="#060606"/></g></g><clipPath id="k0_6"><rect x="21.40" y="198.28" width="103.50" height="31.33"/></clipPath><g clip-path="url(#k0_6)"><rect x="20.40" y="197.28" width="105.50" height="33.33" fill="#8b8b8b"/><g filter="url(#bl)"><rect x="20.40" y="196.28" width="4.2" height="35.33" fill="#7b7b7b"/><rect x="20.40" y="196.28" width="1.6" height="35.33" fill="#4a4a4a"/><ellipse cx="46.1" cy="204.7" rx="1.0" ry="3.5" fill="#a9a9a9"/><ellipse cx="46.9" cy="220.7" rx="1.0" ry="4.8" fill="#a9a9a9"/><polygon points="48.2,196.7 121.4,196.7 123.7,231.2 52.3,231.2" fill="#222222"/><polygon points="118.8,208.7 120.6,208.7 119.5,215.1 117.6,215.1" fill="#828282"/><polygon points="70.3,212.6 72.3,212.6 71.0,221.3 68.9,221.3" fill="#4e4e4e"/><polygon points="108.9,201.3 110.7,201.3 113.5,211.9 111.7,211.9" fill="#5b5b5b"/><polygon points="83.0,225.9 84.9,225.9 81.2,238.4 79.3,238.4" fill="#494949"/><polygon points="75.5,215.9 77.4,215.9 81.4,228.7 79.4,228.7" fill="#8d8d8d"/><polygon points="90.2,229.2 91.8,229.2 95.3,237.4 93.6,237.4" fill="#565656"/><polygon points="80.4,213.1 81.5,213.1 82.2,225.8 81.1,225.8" fill="#535353"/><polygon points="105.7,203.5 107.7,203.5 109.7,210.6 107.8,210.6" fill="#515151"/><polygon points="55.6,203.8 57.8,203.8 60.4,211.2 58.2,211.2" fill="#626262"/><polygon points="84.8,204.2 86.0,204.2 85.7,208.2 84.5,208.2" fill="#4a4a4a"/><polygon points="102.3,219.6 103.4,219.6 107.1,230.0 106.0,230.0" fill="#7d7d7d"/><polygon points="115.7,208.5 117.7,208.5 114.9,223.0 112.9,223.0" fill="#494949"/><polygon points="82.6,210.9 84.0,210.9 81.7,215.3 80.4,215.3" fill="#626262"/><polygon points="88.7,221.9 90.5,221.9 94.5,227.2 92.6,227.2" fill="#8b8b8b"/><polygon points="86.9,219.7 88.5,219.7 87.7,226.3 86.1,226.3" fill="#6c6c6c"/><polygon points="117.6,204.8 119.2,204.8 122.3,215.6 120.7,215.6" fill="#797979"/><polygon points="83.1,221.0 84.1,221.0 80.6,225.3 79.6,225.3" fill="#8e8e8e"/><polygon points="112.9,220.1 114.0,220.1 115.3,233.6 114.2,233.6" fill="#5c5c5c"/><polygon points="59.4,214.0 60.7,214.0 61.2,225.0 59.9,225.0" fill="#737373"/><polygon points="100.4,220.3 101.7,220.3 100.3,236.1 99.0,236.1" fill="#737373"/><polygon points="64.9,207.9 66.6,207.9 69.6,214.1 67.9,214.1" fill="#4d4d4d"/><polygon points="94.7,220.1 96.7,220.1 96.9,231.8 95.0,231.8" fill="#8f8f8f"/><polygon points="115.5,207.6 116.6,207.6 117.8,213.4 116.7,213.4" fill="#797979"/><polygon points="119.3,226.5 120.3,226.5 123.3,241.3 122.2,241.3" fill="#636363"/><polygon points="122.1,196.7 130.4,196.7 130.4,231.2 124.3,231.2" fill="#969696"/><polygon points="82.4,198.3 107.2,198.3 107.2,229.6 81.6,229.6" fill="#828282"/><polygon points="107.7,201.5 109.3,201.5 109.9,217.5 108.3,217.5" fill="#9a9a9a"/><polygon points="70.1,198.3 83.2,198.3 82.4,229.6 70.1,229.6" fill="#2b2b2b"/><polygon points="71.2,229.6 71.5,214.3 74.4,207.9 78.4,206.3 81.8,210.3 82.9,229.6 79.8,229.6 79.0,212.3 76.8,211.1 74.7,215.9 74.4,229.6" fill="#666666"/><polygon points="70.2,198.3 72.0,198.3 72.0,229.6 70.2,229.6" fill="#666666"/><polygon points="74.9,198.3 82.7,198.3 85.3,204.7 86.9,210.3 90.4,206.3 93.3,204.7 94.4,207.6 92.0,212.7 89.9,215.9 89.6,223.5 83.7,223.9 83.0,215.9 80.0,209.5 76.8,203.9" fill="#060606"/></g></g><clipPath id="k0_7"><rect x="21.40" y="229.61" width="103.50" height="31.33"/></clipPath><g clip-path="url(#k0_7)"><rect x="20.40" y="228.61" width="105.50" height="33.33" fill="#8b8b8b"/><g filter="url(#bl)"><rect x="20.40" y="227.61" width="4.2" height="35.33" fill="#7b7b7b"/><rect x="20.40" y="227.61" width="1.6" height="35.33" fill="#4a4a4a"/><ellipse cx="45.8" cy="236.0" rx="1.0" ry="3.5" fill="#a9a9a9"/><ellipse cx="46.6" cy="252.0" rx="1.0" ry="4.8" fill="#a9a9a9"/><polygon points="47.8,228.0 121.1,228.0 123.7,262.5 52.0,262.5" fill="#222222"/><polygon points="59.4,236.8 60.8,236.8 61.4,244.6 59.9,244.6" fill="#6f6f6f"/><polygon points="106.8,258.4 108.4,258.4 105.0,267.5 103.4,267.5" fill="#888888"/><polygon points="81.3,247.8 82.6,247.8 82.3,257.2 81.1,257.2" fill="#4f4f4f"/><polygon points="114.7,234.7 116.8,234.7 120.7,239.3 118.7,239.3" fill="#4f4f4f"/><polygon points="80.1,231.9 81.1,231.9 77.4,244.5 76.4,244.5" fill="#494949"/><polygon points="59.1,238.4 60.6,238.4 60.3,242.6 58.8,242.6" fill="#787878"/><polygon points="98.0,254.6 99.0,254.6 101.3,269.3 100.3,269.3" fill="#777777"/><polygon points="109.8,246.7 111.0,246.7 111.1,257.1 109.9,257.1" fill="#5b5b5b"/><polygon points="97.7,252.5 99.5,252.5 97.1,263.7 95.2,263.7" fill="#777777"/><polygon points="73.9,241.2 75.3,241.2 77.5,256.3 76.1,256.3" fill="#767676"/><polygon points="72.5,250.4 73.6,250.4 74.8,260.4 73.6,260.4" fill="#8b8b8b"/><polygon points="119.4,254.9 120.9,254.9 122.6,267.2 121.0,267.2" fill="#636363"/><polygon points="91.9,249.3 93.0,249.3 93.7,261.2 92.6,261.2" fill="#5e5e5e"/><polygon points="79.4,242.6 81.5,242.6 83.0,250.2 80.8,250.2" fill="#5a5a5a"/><polygon points="61.7,235.8 63.8,235.8 64.2,243.4 62.1,243.4" fill="#8d8d8d"/><polygon points="112.0,243.8 113.2,243.8 113.5,251.3 112.3,251.3" fill="#7e7e7e"/><polygon points="112.2,247.4 113.8,247.4 116.3,260.6 114.8,260.6" fill="#525252"/><polygon points="98.0,247.8 99.5,247.8 102.3,253.4 100.9,253.4" fill="#5c5c5c"/><polygon points="81.7,252.6 83.9,252.6 82.7,268.1 80.5,268.1" fill="#6a6a6a"/><polygon points="94.8,236.4 96.9,236.4 97.6,248.9 95.5,248.9" fill="#6c6c6c"/><polygon points="86.0,252.2 87.8,252.2 87.5,256.3 85.7,256.3" fill="#4b4b4b"/><polygon points="89.1,232.0 90.5,232.0 89.3,245.4 87.9,245.4" fill="#636363"/><polygon points="96.9,243.4 98.5,243.4 100.1,248.6 98.4,248.6" fill="#5b5b5b"/><polygon points="64.6,248.1 66.1,248.1 65.9,257.5 64.4,257.5" fill="#616161"/><polygon points="121.8,228.0 130.4,228.0 130.4,262.5 124.3,262.5" fill="#969696"/><polygon points="81.6,229.6 107.2,229.6 107.7,260.9 82.4,260.9" fill="#828282"/><polygon points="107.7,232.8 109.3,232.8 109.9,248.8 108.3,248.8" fill="#9a9a9a"/><polygon points="69.8,229.6 83.2,229.6 83.2,260.9 69.8,260.9" fill="#2b2b2b"/><polygon points="70.4,260.9 70.9,245.6 73.6,239.5 77.9,237.3 81.8,240.8 82.7,250.1 79.8,250.4 78.9,243.0 76.6,242.1 74.4,247.2 73.4,260.9" fill="#666666"/><polygon points="69.9,229.6 71.7,229.6 71.7,260.9 69.9,260.9" fill="#666666"/><polygon points="75.4,229.6 82.4,229.6 81.8,231.8 74.7,231.2" fill="#666666"/><polygon points="74.1,231.8 81.8,232.5 84.6,236.8 86.9,242.1 90.1,239.5 92.0,237.6 93.3,240.5 90.7,245.6 90.4,257.6 83.7,257.9 83.0,246.4 79.5,239.2 75.7,235.7" fill="#060606"/></g></g><clipPath id="k0_8"><rect x="21.40" y="260.94" width="103.50" height="31.33"/></clipPath><g clip-path="url(#k0_8)"><rect x="20.40" y="259.94" width="105.50" height="33.33" fill="#8b8b8b"/><g filter="url(#bl)"><rect x="20.40" y="258.94" width="4.2" height="35.33" fill="#7b7b7b"/><rect x="20.40" y="258.94" width="1.6" height="35.33" fill="#4a4a4a"/><ellipse cx="45.4" cy="267.3" rx="1.0" ry="3.5" fill="#a9a9a9"/><ellipse cx="46.2" cy="283.3" rx="1.0" ry="4.8" fill="#a9a9a9"/><polygon points="47.5,259.3 121.0,259.3 123.5,293.9 51.5,293.9" fill="#222222"/><polygon points="77.3,275.1 78.9,275.1 79.5,280.0 77.9,280.0" fill="#5c5c5c"/><polygon points="73.6,272.7 75.6,272.7 77.9,288.3 75.9,288.3" fill="#636363"/><polygon points="63.9,278.1 65.9,278.1 67.1,285.7 65.1,285.7" fill="#5d5d5d"/><polygon points="55.3,290.7 56.4,290.7 57.0,298.0 55.9,298.0" fill="#6f6f6f"/><polygon points="58.4,266.1 60.3,266.1 59.2,271.6 57.3,271.6" fill="#494949"/><polygon points="87.3,268.5 88.9,268.5 87.9,276.9 86.3,276.9" fill="#666666"/><polygon points="91.4,279.7 93.1,279.7 91.4,293.8 89.7,293.8" fill="#4d4d4d"/><polygon points="96.7,267.9 98.7,267.9 100.1,276.6 98.1,276.6" fill="#898989"/><polygon points="98.4,290.4 100.6,290.4 104.5,301.4 102.3,301.4" fill="#5b5b5b"/><polygon points="90.1,261.3 92.0,261.3 88.2,275.9 86.3,275.9" fill="#5f5f5f"/><polygon points="54.9,285.5 56.6,285.5 59.8,296.3 58.1,296.3" fill="#717171"/><polygon points="105.8,279.5 107.6,279.5 105.4,288.5 103.6,288.5" fill="#5c5c5c"/><polygon points="74.3,288.3 75.9,288.3 77.2,293.5 75.6,293.5" fill="#4c4c4c"/><polygon points="113.4,278.8 115.3,278.8 111.6,294.1 109.7,294.1" fill="#4b4b4b"/><polygon points="100.2,278.1 102.0,278.1 101.3,286.2 99.4,286.2" fill="#737373"/><polygon points="117.2,263.6 118.4,263.6 120.2,272.5 119.1,272.5" fill="#515151"/><polygon points="112.4,267.8 113.4,267.8 112.6,274.0 111.6,274.0" fill="#4d4d4d"/><polygon points="104.7,269.6 105.9,269.6 105.5,284.0 104.2,284.0" fill="#4c4c4c"/><polygon points="99.7,283.4 100.9,283.4 103.6,288.9 102.5,288.9" fill="#8b8b8b"/><polygon points="83.5,289.8 85.1,289.8 88.9,301.2 87.2,301.2" fill="#8f8f8f"/><polygon points="105.3,264.9 107.0,264.9 110.2,269.1 108.5,269.1" fill="#5f5f5f"/><polygon points="106.5,283.3 107.6,283.3 108.0,294.8 107.0,294.8" fill="#5e5e5e"/><polygon points="59.0,270.5 60.9,270.5 64.3,277.1 62.4,277.1" fill="#616161"/><polygon points="118.5,269.7 119.6,269.7 120.6,276.2 119.5,276.2" fill="#494949"/><polygon points="121.6,259.3 130.4,259.3 130.4,293.9 124.2,293.9" fill="#969696"/><polygon points="70.4,260.9 106.7,260.9 108.0,292.3 69.6,292.3" fill="#828282"/><polygon points="107.7,264.1 109.3,264.1 109.9,280.1 108.3,280.1" fill="#9a9a9a"/><polygon points="74.7,276.9 82.4,272.4 82.7,292.3 70.4,292.3 71.2,283.3" fill="#222222"/><polygon points="72.0,263.8 75.5,263.8 75.5,268.3 72.0,268.3" fill="#222222"/><polygon points="105.8,265.4 108.0,265.4 108.3,271.5 106.1,271.5" fill="#222222"/><polygon points="76.8,267.3 80.5,268.1 76.0,278.5 72.5,286.5 70.4,284.9 73.6,276.1" fill="#666666"/><polygon points="80.2,269.7 82.4,269.7 82.7,291.3 80.8,291.3" fill="#666666"/><polygon points="82.9,270.5 85.0,272.4 89.4,272.4 91.7,270.5 91.4,290.7 83.4,290.7" fill="#060606"/></g></g><clipPath id="k0_9"><rect x="21.40" y="292.27" width="103.50" height="31.33"/></clipPath><g clip-path="url(#k0_9)"><rect x="20.40" y="291.27" width="105.50" height="33.33" fill="#8b8b8b"/><g filter="url(#bl)"><rect x="20.40" y="290.27" width="4.2" height="35.33" fill="#7b7b7b"/><rect x="20.40" y="290.27" width="1.6" height="35.33" fill="#4a4a4a"/><ellipse cx="45.1" cy="298.7" rx="1.0" ry="3.5" fill="#a9a9a9"/><ellipse cx="45.9" cy="314.6" rx="1.0" ry="4.8" fill="#a9a9a9"/><polygon points="47.2,290.7 120.8,290.7 123.5,325.2 51.2,325.2" fill="#222222"/><polygon points="114.2,297.2 116.2,297.2 116.8,302.2 114.7,302.2" fill="#5c5c5c"/><polygon points="69.8,309.9 71.1,309.9 72.1,321.7 70.8,321.7" fill="#656565"/><polygon points="79.5,306.4 80.8,306.4 77.6,312.0 76.4,312.0" fill="#6a6a6a"/><polygon points="60.4,301.2 62.4,301.2 59.0,309.0 57.0,309.0" fill="#7f7f7f"/><polygon points="69.9,321.5 71.9,321.5 71.9,329.6 69.9,329.6" fill="#585858"/><polygon points="81.6,312.5 83.8,312.5 83.3,321.7 81.1,321.7" fill="#767676"/><polygon points="113.4,309.7 115.1,309.7 112.2,319.0 110.5,319.0" fill="#8b8b8b"/><polygon points="95.2,322.0 96.7,322.0 97.6,330.7 96.1,330.7" fill="#787878"/><polygon points="103.5,302.0 104.8,302.0 103.1,308.4 101.8,308.4" fill="#7a7a7a"/><polygon points="114.1,303.0 115.9,303.0 112.3,314.6 110.4,314.6" fill="#7d7d7d"/><polygon points="54.2,317.7 55.5,317.7 58.9,326.9 57.6,326.9" fill="#6f6f6f"/><polygon points="112.7,304.5 114.5,304.5 111.8,319.3 110.0,319.3" fill="#828282"/><polygon points="65.2,312.1 66.8,312.1 63.1,324.9 61.5,324.9" fill="#898989"/><polygon points="104.0,322.3 105.2,322.3 104.1,334.4 102.8,334.4" fill="#5a5a5a"/><polygon points="78.9,316.0 80.3,316.0 81.4,331.0 79.9,331.0" fill="#8f8f8f"/><polygon points="100.8,307.3 102.0,307.3 102.7,319.2 101.4,319.2" fill="#727272"/><polygon points="63.4,317.3 65.2,317.3 62.3,331.7 60.5,331.7" fill="#6f6f6f"/><polygon points="77.0,309.2 78.3,309.2 81.4,322.4 80.1,322.4" fill="#484848"/><polygon points="72.8,293.3 74.1,293.3 70.3,300.3 69.0,300.3" fill="#5b5b5b"/><polygon points="89.6,299.8 91.2,299.8 92.5,306.4 90.8,306.4" fill="#818181"/><polygon points="118.9,312.3 121.1,312.3 123.9,325.7 121.7,325.7" fill="#4d4d4d"/><polygon points="88.5,313.8 90.0,313.8 91.2,329.0 89.7,329.0" fill="#505050"/><polygon points="106.8,309.6 108.9,309.6 109.8,321.3 107.7,321.3" fill="#4b4b4b"/><polygon points="79.7,306.2 81.4,306.2 81.3,312.3 79.7,312.3" fill="#7e7e7e"/><polygon points="121.4,290.7 130.4,290.7 130.4,325.2 124.2,325.2" fill="#969696"/><polygon points="69.6,292.3 106.9,292.3 108.0,323.6 68.0,323.6" fill="#828282"/><polygon points="107.7,295.5 109.3,295.5 109.9,311.5 108.3,311.5" fill="#9a9a9a"/><polygon points="75.5,307.5 82.7,306.7 83.4,323.6 73.8,323.6" fill="#222222"/><polygon points="71.2,296.3 73.9,296.3 73.9,299.9 71.2,299.9" fill="#222222"/><polygon points="105.8,298.3 108.0,298.3 108.3,304.1 106.1,304.1" fill="#222222"/><polygon points="76.0,300.3 79.5,301.1 76.0,311.5 72.8,323.6 69.6,323.6 72.8,309.9" fill="#666666"/><polygon points="80.5,303.5 83.0,303.5 83.4,323.6 81.1,323.6" fill="#666666"/><polygon points="83.8,305.1 91.0,305.1 91.0,324.2 83.8,324.2" fill="#060606"/></g></g><text x="73.2" y="7.4" font-size="7.7" text-anchor="middle">CT scan</text><text x="18.8" y="13.5" font-size="5.5" text-anchor="end">0</text><text x="18.8" y="26.5" font-size="5.5" text-anchor="end">10</text><text x="18.8" y="39.6" font-size="5.5" text-anchor="end">20</text><text x="18.8" y="44.8" font-size="5.5" text-anchor="end">0</text><text x="18.8" y="57.8" font-size="5.5" text-anchor="end">10</text><text x="18.8" y="70.9" font-size="5.5" text-anchor="end">20</text><text x="18.8" y="76.1" font-size="5.5" text-anchor="end">0</text><text x="18.8" y="89.2" font-size="5.5" text-anchor="end">10</text><text x="18.8" y="102.2" font-size="5.5" text-anchor="end">20</text><text x="18.8" y="107.4" font-size="5.5" text-anchor="end">0</text><text x="18.8" y="120.5" font-size="5.5" text-anchor="end">10</text><text x="18.8" y="133.6" font-size="5.5" text-anchor="end">20</text><text x="18.8" y="138.8" font-size="5.5" text-anchor="end">0</text><text x="18.8" y="151.8" font-size="5.5" text-anchor="end">10</text><text x="18.8" y="164.9" font-size="5.5" text-anchor="end">20</text><text x="18.8" y="170.1" font-size="5.5" text-anchor="end">0</text><text x="18.8" y="183.2" font-size="5.5" text-anchor="end">10</text><text x="18.8" y="196.2" font-size="5.5" text-anchor="end">20</text><text x="18.8" y="201.4" font-size="5.5" text-anchor="end">0</text><text x="18.8" y="214.5" font-size="5.5" text-anchor="end">10</text><text x="18.8" y="227.5" font-size="5.5" text-anchor="end">20</text><text x="18.8" y="232.8" font-size="5.5" text-anchor="end">0</text><text x="18.8" y="245.8" font-size="5.5" text-anchor="end">10</text><text x="18.8" y="258.9" font-size="5.5" text-anchor="end">20</text><text x="18.8" y="264.1" font-size="5.5" text-anchor="end">0</text><text x="18.8" y="277.1" font-size="5.5" text-anchor="end">10</text><text x="18.8" y="290.2" font-size="5.5" text-anchor="end">20</text><text x="18.8" y="295.4" font-size="5.5" text-anchor="end">0</text><text x="18.8" y="308.5" font-size="5.5" text-anchor="end">10</text><text x="18.8" y="321.5" font-size="5.5" text-anchor="end">20</text><text x="21.7" y="331.9" font-size="5.5" text-anchor="middle">0</text><text x="39.0" y="331.9" font-size="5.5" text-anchor="middle">25</text><text x="56.2" y="331.9" font-size="5.5" text-anchor="middle">50</text><text x="73.5" y="331.9" font-size="5.5" text-anchor="middle">75</text><text x="90.7" y="331.9" font-size="5.5" text-anchor="middle">100</text><text x="108.0" y="331.9" font-size="5.5" text-anchor="middle">125</text><text x="181.8" y="7.4" font-size="7.7" text-anchor="middle">Target</text><text x="130.3" y="331.9" font-size="5.5" text-anchor="middle">0</text><text x="147.6" y="331.9" font-size="5.5" text-anchor="middle">25</text><text x="164.8" y="331.9" font-size="5.5" text-anchor="middle">50</text><text x="182.1" y="331.9" font-size="5.5" text-anchor="middle">75</text><text x="199.3" y="331.9" font-size="5.5" text-anchor="middle">100</text><text x="216.6" y="331.9" font-size="5.5" text-anchor="middle">125</text><text x="290.4" y="7.4" font-size="7.7" text-anchor="middle">Predicted</text><text x="238.9" y="331.9" font-size="5.5" text-anchor="middle">0</text><text x="256.2" y="331.9" font-size="5.5" text-anchor="middle">25</text><text x="273.4" y="331.9" font-size="5.5" text-anchor="middle">50</text><text x="290.7" y="331.9" font-size="5.5" text-anchor="middle">75</text><text x="307.9" y="331.9" font-size="5.5" text-anchor="middle">100</text><text x="325.2" y="331.9" font-size="5.5" text-anchor="middle">125</text><text x="398.9" y="7.4" font-size="7.7" text-anchor="middle">Difference</text><text x="347.5" y="331.9" font-size="5.5" text-anchor="middle">0</text><text x="364.8" y="331.9" font-size="5.5" text-anchor="middle">25</text><text x="382.0" y="331.9" font-size="5.5" text-anchor="middle">50</text><text x="399.3" y="331.9" font-size="5.5" text-anchor="middle">75</text><text x="416.5" y="331.9" font-size="5.5" text-anchor="middle">100</text><text x="433.8" y="331.9" font-size="5.5" text-anchor="middle">125</text><path d="M21.40 10.30h103.50v31.33h-103.50zM21.40 41.63h103.50v31.33h-103.50zM21.40 72.96h103.50v31.33h-103.50zM21.40 104.29h103.50v31.33h-103.50zM21.40 135.62h103.50v31.33h-103.50zM21.40 166.95h103.50v31.33h-103.50zM21.40 198.28h103.50v31.33h-103.50zM21.40 229.61h103.50v31.33h-103.50zM21.40 260.94h103.50v31.33h-103.50zM21.40 292.27h103.50v31.33h-103.50zM130.00 10.30h103.50v31.33h-103.50zM130.00 41.63h103.50v31.33h-103.50zM130.00 72.96h103.50v31.33h-103.50zM130.00 104.29h103.50v31.33h-103.50zM130.00 135.62h103.50v31.33h-103.50zM130.00 166.95h103.50v31.33h-103.50zM130.00 198.28h103.50v31.33h-103.50zM130.00 229.61h103.50v31.33h-103.50zM130.00 260.94h103.50v31.33h-103.50zM130.00 292.27h103.50v31.33h-103.50zM238.60 10.30h103.50v31.33h-103.50zM238.60 41.63h103.50v31.33h-103.50zM238.60 72.96h103.50v31.33h-103.50zM238.60 104.29h103.50v31.33h-103.50zM238.60 135.62h103.50v31.33h-103.50zM238.60 166.95h103.50v31.33h-103.50zM238.60 198.28h103.50v31.33h-103.50zM238.60 229.61h103.50v31.33h-103.50zM238.60 260.94h103.50v31.33h-103.50zM238.60 292.27h103.50v31.33h-103.50zM347.20 10.30h103.50v31.33h-103.50zM347.20 41.63h103.50v31.33h-103.50zM347.20 72.96h103.50v31.33h-103.50zM347.20 104.29h103.50v31.33h-103.50zM347.20 135.62h103.50v31.33h-103.50zM347.20 166.95h103.50v31.33h-103.50zM347.20 198.28h103.50v31.33h-103.50zM347.20 229.61h103.50v31.33h-103.50zM347.20 260.94h103.50v31.33h-103.50zM347.20 292.27h103.50v31.33h-103.50z" fill="none" stroke="#000" stroke-width="0.3" stroke-opacity="0.6"/><path d="M21.40 11.25h-1.7M21.40 24.31h-1.7M21.40 37.36h-1.7M21.40 42.58h-1.7M21.40 55.64h-1.7M21.40 68.69h-1.7M21.40 73.91h-1.7M21.40 86.97h-1.7M21.40 100.02h-1.7M21.40 105.24h-1.7M21.40 118.30h-1.7M21.40 131.35h-1.7M21.40 136.57h-1.7M21.40 149.63h-1.7M21.40 162.68h-1.7M21.40 167.90h-1.7M21.40 180.96h-1.7M21.40 194.01h-1.7M21.40 199.23h-1.7M21.40 212.29h-1.7M21.40 225.34h-1.7M21.40 230.56h-1.7M21.40 243.62h-1.7M21.40 256.67h-1.7M21.40 261.89h-1.7M21.40 274.95h-1.7M21.40 288.00h-1.7M21.40 293.22h-1.7M21.40 306.28h-1.7M21.40 319.33h-1.7M21.74 323.60v1.7M39.00 323.60v1.7M56.24 323.60v1.7M73.50 323.60v1.7M90.75 323.60v1.7M108.00 323.60v1.7M130.00 11.25h-1.7M130.00 24.31h-1.7M130.00 37.36h-1.7M130.00 42.58h-1.7M130.00 55.64h-1.7M130.00 68.69h-1.7M130.00 73.91h-1.7M130.00 86.97h-1.7M130.00 100.02h-1.7M130.00 105.24h-1.7M130.00 118.30h-1.7M130.00 131.35h-1.7M130.00 136.57h-1.7M130.00 149.63h-1.7M130.00 162.68h-1.7M130.00 167.90h-1.7M130.00 180.96h-1.7M130.00 194.01h-1.7M130.00 199.23h-1.7M130.00 212.29h-1.7M130.00 225.34h-1.7M130.00 230.56h-1.7M130.00 243.62h-1.7M130.00 256.67h-1.7M130.00 261.89h-1.7M130.00 274.95h-1.7M130.00 288.00h-1.7M130.00 293.22h-1.7M130.00 306.28h-1.7M130.00 319.33h-1.7M130.34 323.60v1.7M147.59 323.60v1.7M164.84 323.60v1.7M182.09 323.60v1.7M199.34 323.60v1.7M216.59 323.60v1.7M238.60 11.25h-1.7M238.60 24.31h-1.7M238.60 37.36h-1.7M238.60 42.58h-1.7M238.60 55.64h-1.7M238.60 68.69h-1.7M238.60 73.91h-1.7M238.60 86.97h-1.7M238.60 100.02h-1.7M238.60 105.24h-1.7M238.60 118.30h-1.7M238.60 131.35h-1.7M238.60 136.57h-1.7M238.60 149.63h-1.7M238.60 162.68h-1.7M238.60 167.90h-1.7M238.60 180.96h-1.7M238.60 194.01h-1.7M238.60 199.23h-1.7M238.60 212.29h-1.7M238.60 225.34h-1.7M238.60 230.56h-1.7M238.60 243.62h-1.7M238.60 256.67h-1.7M238.60 261.89h-1.7M238.60 274.95h-1.7M238.60 288.00h-1.7M238.60 293.22h-1.7M238.60 306.28h-1.7M238.60 319.33h-1.7M238.94 323.60v1.7M256.19 323.60v1.7M273.44 323.60v1.7M290.69 323.60v1.7M307.94 323.60v1.7M325.19 323.60v1.7M347.20 11.25h-1.7M347.20 24.31h-1.7M347.20 37.36h-1.7M347.20 42.58h-1.7M347.20 55.64h-1.7M347.20 68.69h-1.7M347.20 73.91h-1.7M347.20 86.97h-1.7M347.20 100.02h-1.7M347.20 105.24h-1.7M347.20 118.30h-1.7M347.20 131.35h-1.7M347.20 136.57h-1.7M347.20 149.63h-1.7M347.20 162.68h-1.7M347.20 167.90h-1.7M347.20 180.96h-1.7M347.20 194.01h-1.7M347.20 199.23h-1.7M347.20 212.29h-1.7M347.20 225.34h-1.7M347.20 230.56h-1.7M347.20 243.62h-1.7M347.20 256.67h-1.7M347.20 261.89h-1.7M347.20 274.95h-1.7M347.20 288.00h-1.7M347.20 293.22h-1.7M347.20 306.28h-1.7M347.20 319.33h-1.7M347.55 323.60v1.7M364.80 323.60v1.7M382.04 323.60v1.7M399.29 323.60v1.7M416.54 323.60v1.7M433.79 323.60v1.7" fill="none" stroke="#000" stroke-width="0.4" stroke-opacity="0.8"/><text x="236.0" y="342.2" font-size="7.5" text-anchor="middle">Depth Y-axis values [mm]</text><text transform="translate(7.2 182.3) rotate(-90)" font-size="7.5" text-anchor="middle">X-axis values [mm]</text><defs><linearGradient id="cb140393786008384" x1="0" y1="0" x2="0" y2="1"><stop offset="0.000" stop-color="#7a0403"/><stop offset="0.031" stop-color="#920b01"/><stop offset="0.062" stop-color="#a91601"/><stop offset="0.094" stop-color="#be2102"/><stop offset="0.125" stop-color="#d02f05"/><stop offset="0.156" stop-color="#df3f08"/><stop offset="0.188" stop-color="#eb500e"/><stop offset="0.219" stop-color="#f46617"/><stop offset="0.250" stop-color="#fb7e21"/><stop offset="0.281" stop-color="#fe962b"/><stop offset="0.312" stop-color="#fdac34"/><stop offset="0.344" stop-color="#f8be39"/><stop offset="0.375" stop-color="#eecf3a"/><stop offset="0.406" stop-color="#dfdf37"/><stop offset="0.438" stop-color="#cdec34"/><stop offset="0.469" stop-color="#b9f635"/><stop offset="0.500" stop-color="#a4fc3c"/><stop offset="0.531" stop-color="#8bff4b"/><stop offset="0.562" stop-color="#6dfe62"/><stop offset="0.594" stop-color="#4ef97d"/><stop offset="0.625" stop-color="#32f298"/><stop offset="0.656" stop-color="#1fe9af"/><stop offset="0.688" stop-color="#18ddc2"/><stop offset="0.719" stop-color="#1ccdd8"/><stop offset="0.750" stop-color="#28bceb"/><stop offset="0.781" stop-color="#37a8fa"/><stop offset="0.812" stop-color="#4294ff"/><stop offset="0.844" stop-color="#4680f6"/><stop offset="0.875" stop-color="#466be3"/><stop offset="0.906" stop-color="#4456c7"/><stop offset="0.938" stop-color="#4040a2"/><stop offset="0.969" stop-color="#392a73"/><stop offset="1.000" stop-color="#30123b"/></linearGradient></defs><rect x="477.60" y="10.30" width="16.10" height="313.30" fill="url(#cb140393786008384)" stroke="#000" stroke-width="0.4" stroke-opacity="0.75"/><text x="497.5" y="326.8" font-size="7.4">0.0</text><text x="497.5" y="288.1" font-size="7.4">2.5</text><text x="497.5" y="249.4" font-size="7.4">5.0</text><text x="497.5" y="210.8" font-size="7.4">7.5</text><text x="497.5" y="172.1" font-size="7.4">10.0</text><text x="497.5" y="133.4" font-size="7.4">12.5</text><text x="497.5" y="94.7" font-size="7.4">15.0</text><text x="497.5" y="56.0" font-size="7.4">17.5</text><text x="497.5" y="17.4" font-size="7.4">20.0</text><path d="M493.70 323.60h2.2M493.70 284.92h2.2M493.70 246.24h2.2M493.70 207.56h2.2M493.70 168.88h2.2M493.70 130.20h2.2M493.70 91.53h2.2M493.70 52.85h2.2M493.70 14.17h2.2" fill="none" stroke="#000" stroke-width="0.5"/><text transform="translate(523.2 168.0) rotate(-90)" font-size="7.4" text-anchor="middle">[Gy/MU]</text><text class="cap" x="192.8" y="364.9" font-size="11.6" textLength="139.4" lengthAdjust="spacingAndGlyphs" xml:space="preserve"><tspan font-weight="bold">(a)</tspan>  PBA worst prediction.</text><clipPath id="k1_0"><rect x="21.40" y="384.00" width="103.50" height="31.36"/></clipPath><g clip-path="url(#k1_0)"><rect x="20.40" y="383.00" width="105.50" height="33.36" fill="#8b8b8b"/><g filter="url(#bl)"><rect x="20.40" y="382.00" width="4.2" height="35.36" fill="#7b7b7b"/><rect x="20.40" y="382.00" width="1.6" height="35.36" fill="#4a4a4a"/><ellipse cx="46.7" cy="392.3" rx="1.0" ry="3.5" fill="#a9a9a9"/><ellipse cx="47.5" cy="408.8" rx="1.0" ry="4.8" fill="#a9a9a9"/><polygon points="48.8,382.4 121.9,382.4 124.0,417.0 52.8,417.0" fill="#222222"/><polygon points="87.0,391.2 88.3,391.2 87.3,399.9 86.0,399.9" fill="#8f8f8f"/><polygon points="81.3,408.2 83.2,408.2 82.0,415.9 80.1,415.9" fill="#616161"/><polygon points="64.0,414.5 66.1,414.5 64.6,425.2 62.5,425.2" fill="#878787"/><polygon points="98.9,396.3 100.5,396.3 103.9,406.6 102.3,406.6" fill="#717171"/><polygon points="98.5,385.6 99.8,385.6 97.3,390.3 95.9,390.3" fill="#8a8a8a"/><polygon points="116.2,406.4 118.1,406.4 121.6,415.9 119.7,415.9" fill="#656565"/><polygon points="99.4,404.4 101.2,404.4 102.6,411.0 100.9,411.0" fill="#878787"/><polygon points="106.9,397.5 109.1,397.5 110.9,410.9 108.7,410.9" fill="#505050"/><polygon points="114.8,396.2 116.1,396.2 115.9,407.6 114.5,407.6" fill="#5a5a5a"/><polygon points="109.7,389.6 111.0,389.6 110.8,401.5 109.5,401.5" fill="#4d4d4d"/><polygon points="63.6,387.5 65.1,387.5 68.8,398.0 67.2,398.0" fill="#727272"/><polygon points="89.1,412.9 91.3,412.9 92.7,419.9 90.6,419.9" fill="#8d8d8d"/><polygon points="69.4,406.5 71.3,406.5 74.2,421.7 72.2,421.7" fill="#666666"/><polygon points="54.8,385.1 55.7,385.1 54.8,396.2 53.8,396.2" fill="#505050"/><polygon points="111.4,409.8 113.3,409.8 112.5,423.9 110.6,423.9" fill="#7d7d7d"/><polygon points="91.3,403.2 92.6,403.2 92.0,414.5 90.7,414.5" fill="#6e6e6e"/><polygon points="86.5,399.7 88.6,399.7 85.0,406.8 82.9,406.8" fill="#696969"/><polygon points="81.3,399.3 82.4,399.3 86.3,410.3 85.2,410.3" fill="#575757"/><polygon points="68.4,414.1 70.3,414.1 69.3,425.3 67.4,425.3" fill="#757575"/><polygon points="87.5,386.8 88.9,386.8 86.3,400.8 84.9,400.8" fill="#898989"/><polygon points="93.2,384.5 94.6,384.5 91.6,389.0 90.2,389.0" fill="#545454"/><polygon points="65.4,411.7 67.5,411.7 66.8,418.5 64.6,418.5" fill="#696969"/><polygon points="109.1,393.2 110.3,393.2 113.5,402.7 112.3,402.7" fill="#727272"/><polygon points="81.6,396.7 83.0,396.7 82.3,404.5 80.9,404.5" fill="#757575"/><polygon points="122.6,382.4 130.4,382.4 130.4,417.0 124.6,417.0" fill="#969696"/><polygon points="81.6,384.0 95.2,384.0 97.6,390.7 101.9,392.3 107.2,390.7 112.0,392.8 114.7,403.2 111.2,415.4 84.0,415.4 78.4,400.3" fill="#828282"/><polygon points="68.0,389.1 73.6,390.4 74.4,400.0 69.6,401.3 67.7,395.2" fill="#666666"/><polygon points="63.2,403.2 65.6,401.6 66.4,411.2 64.0,412.8" fill="#666666"/><polygon points="94.6,384.0 107.4,384.0 105.8,388.2 101.9,391.4 98.1,392.3 95.8,388.2" fill="#060606"/></g></g><clipPath id="k1_1"><rect x="21.40" y="415.36" width="103.50" height="31.36"/></clipPath><g clip-path="url(#k1_1)"><rect x="20.40" y="414.36" width="105.50" height="33.36" fill="#8b8b8b"/><g filter="url(#bl)"><rect x="20.40" y="413.36" width="4.2" height="35.36" fill="#7b7b7b"/><rect x="20.40" y="413.36" width="1.6" height="35.36" fill="#4a4a4a"/><ellipse cx="46.7" cy="422.6" rx="1.0" ry="3.5" fill="#a9a9a9"/><ellipse cx="47.5" cy="439.4" rx="1.0" ry="4.8" fill="#a9a9a9"/><polygon points="48.8,413.8 121.9,413.8 124.0,448.3 52.8,448.3" fill="#222222"/><polygon points="98.9,416.8 100.3,416.8 98.6,428.5 97.2,428.5" fill="#8c8c8c"/><polygon points="64.8,427.5 66.5,427.5 63.9,437.4 62.2,437.4" fill="#575757"/><polygon points="97.0,423.2 98.5,423.2 97.1,427.8 95.6,427.8" fill="#5d5d5d"/><polygon points="83.8,417.3 85.7,417.3 86.2,430.0 84.3,430.0" fill="#7b7b7b"/><polygon points="92.8,435.4 94.8,435.4 93.6,449.8 91.6,449.8" fill="#5e5e5e"/><polygon points="94.2,427.0 96.3,427.0 95.6,439.6 93.6,439.6" fill="#878787"/><polygon points="55.7,429.7 56.8,429.7 53.8,443.8 52.7,443.8" fill="#7d7d7d"/><polygon points="110.3,420.8 111.6,420.8 112.8,435.9 111.5,435.9" fill="#5e5e5e"/><polygon points="81.8,420.5 83.0,420.5 85.8,426.9 84.6,426.9" fill="#797979"/><polygon points="61.1,425.6 62.8,425.6 60.6,429.7 58.9,429.7" fill="#7a7a7a"/><polygon points="72.5,427.2 73.5,427.2 71.5,432.1 70.5,432.1" fill="#4a4a4a"/><polygon points="65.9,429.9 67.9,429.9 71.1,441.7 69.1,441.7" fill="#757575"/><polygon points="89.7,425.3 90.8,425.3 90.8,437.3 89.7,437.3" fill="#6a6a6a"/><polygon points="94.0,431.5 96.1,431.5 93.8,437.1 91.7,437.1" fill="#888888"/><polygon points="54.8,426.4 55.8,426.4 56.0,438.7 55.1,438.7" fill="#515151"/><polygon points="97.3,436.7 98.5,436.7 99.3,445.5 98.1,445.5" fill="#6e6e6e"/><polygon points="100.4,421.9 102.0,421.9 104.4,436.5 102.8,436.5" fill="#525252"/><polygon points="112.3,437.5 114.5,437.5 110.9,442.7 108.7,442.7" fill="#5f5f5f"/><polygon points="75.0,433.7 76.7,433.7 74.7,447.7 73.0,447.7" fill="#686868"/><polygon points="113.6,416.3 115.8,416.3 116.9,422.9 114.6,422.9" fill="#525252"/><polygon points="80.7,419.2 82.2,419.2 85.8,427.7 84.3,427.7" fill="#7c7c7c"/><polygon points="57.2,415.8 58.9,415.8 62.8,429.7 61.1,429.7" fill="#7d7d7d"/><polygon points="83.5,434.3 84.9,434.3 88.2,439.3 86.8,439.3" fill="#646464"/><polygon points="108.9,418.2 110.2,418.2 109.5,425.9 108.3,425.9" fill="#6d6d6d"/><polygon points="122.6,413.8 130.4,413.8 130.4,448.3 124.6,448.3" fill="#969696"/><polygon points="83.2,415.4 89.6,415.4 90.4,420.2 93.6,428.2 98.4,423.4 105.6,421.8 110.4,429.8 109.6,446.7 84.0,446.7 80.0,437.8 78.4,429.8" fill="#828282"/><polygon points="68.0,420.2 74.4,421.4 75.0,433.0 69.6,433.6 67.7,426.6" fill="#666666"/><polygon points="63.2,436.2 66.4,434.6 67.2,444.2 64.0,445.0" fill="#666666"/><polygon points="91.4,415.4 108.6,415.4 107.8,418.6 103.5,421.1 98.7,423.0 94.9,427.5 92.8,421.8" fill="#060606"/><polygon points="77.9,415.4 83.7,415.4 81.8,423.0 80.2,420.2" fill="#060606"/></g></g><clipPath id="k1_2"><rect x="21.40" y="446.72" width="103.50" height="31.36"/></clipPath><g clip-path="url(#k1_2)"><rect x="20.40" y="445.72" width="105.50" height="33.36" fill="#8b8b8b"/><g filter="url(#bl)"><rect x="20.40" y="444.72" width="4.2" height="35.36" fill="#7b7b7b"/><rect x="20.40" y="444.72" width="1.6" height="35.36" fill="#4a4a4a"/><ellipse cx="46.7" cy="453.1" rx="1.0" ry="3.5" fill="#a9a9a9"/><ellipse cx="47.5" cy="469.9" rx="1.0" ry="4.8" fill="#a9a9a9"/><polygon points="48.8,445.1 121.9,445.1 124.0,479.7 52.8,479.7" fill="#222222"/><polygon points="108.7,447.5 109.9,447.5 106.7,459.0 105.4,459.0" fill="#747474"/><polygon points="58.0,476.8 60.2,476.8 61.3,487.1 59.0,487.1" fill="#7f7f7f"/><polygon points="104.8,459.8 106.8,459.8 110.2,468.9 108.2,468.9" fill="#797979"/><polygon points="78.7,473.7 80.1,473.7 78.7,478.8 77.3,478.8" fill="#656565"/><polygon points="103.3,467.4 104.5,467.4 106.8,481.1 105.6,481.1" fill="#646464"/><polygon points="88.1,471.7 89.6,471.7 86.2,484.6 84.7,484.6" fill="#6b6b6b"/><polygon points="83.0,454.4 85.1,454.4 84.7,458.7 82.6,458.7" fill="#4b4b4b"/><polygon points="87.2,473.7 88.6,473.7 85.6,488.5 84.2,488.5" fill="#535353"/><polygon points="106.3,467.6 108.2,467.6 108.0,478.0 106.1,478.0" fill="#888888"/><polygon points="79.1,463.3 80.9,463.3 82.0,472.4 80.2,472.4" fill="#727272"/><polygon points="84.3,475.4 86.3,475.4 89.4,490.6 87.5,490.6" fill="#5f5f5f"/><polygon points="99.9,448.6 101.1,448.6 103.1,461.2 101.9,461.2" fill="#5d5d5d"/><polygon points="117.6,446.9 119.0,446.9 118.5,453.2 117.1,453.2" fill="#8a8a8a"/><polygon points="72.9,460.1 74.4,460.1 78.3,474.4 76.7,474.4" fill="#6a6a6a"/><polygon points="89.8,471.2 91.8,471.2 90.5,477.0 88.5,477.0" fill="#7a7a7a"/><polygon points="66.8,461.0 69.0,461.0 71.0,476.9 68.8,476.9" fill="#6c6c6c"/><polygon points="88.3,448.9 90.5,448.9 92.8,464.3 90.6,464.3" fill="#858585"/><polygon points="80.7,471.7 81.7,471.7 79.3,477.7 78.3,477.7" fill="#595959"/><polygon points="59.5,469.7 60.6,469.7 58.3,478.6 57.2,478.6" fill="#8b8b8b"/><polygon points="87.7,465.8 89.5,465.8 86.8,475.7 85.1,475.7" fill="#818181"/><polygon points="107.6,467.3 108.8,467.3 107.0,478.2 105.9,478.2" fill="#5a5a5a"/><polygon points="94.7,466.3 96.2,466.3 95.2,475.3 93.8,475.3" fill="#545454"/><polygon points="56.7,460.8 58.8,460.8 55.9,469.0 53.9,469.0" fill="#606060"/><polygon points="118.1,454.1 119.6,454.1 120.9,469.5 119.5,469.5" fill="#656565"/><polygon points="122.6,445.1 130.4,445.1 130.4,479.7 124.6,479.7" fill="#969696"/><polygon points="84.0,446.7 89.6,446.7 90.1,453.1 92.0,461.8 95.2,453.8 100.0,450.6 107.2,452.2 108.8,462.7 108.8,478.1 83.2,478.1 78.4,470.7 78.4,461.1 82.4,457.8" fill="#828282"/><polygon points="68.0,449.9 75.2,451.5 76.0,461.1 69.6,459.5" fill="#666666"/><polygon points="60.0,462.7 76.0,461.8 76.8,472.3 61.6,473.0" fill="#666666"/><polygon points="88.6,464.3 89.3,453.8 91.4,446.7 108.3,446.7 109.3,453.8 106.4,453.1 101.3,454.1 97.4,457.0 94.2,463.0 91.4,465.9" fill="#060606"/><polygon points="77.0,446.7 84.3,446.7 83.7,453.9 81.9,458.6 79.2,453.9" fill="#060606"/></g></g><clipPath id="k1_3"><rect x="21.40" y="478.08" width="103.50" height="31.36"/></clipPath><g clip-path="url(#k1_3)"><rect x="20.40" y="477.08" width="105.50" height="33.36" fill="#8b8b8b"/><g filter="url(#bl)"><rect x="20.40" y="476.08" width="4.2" height="35.36" fill="#7b7b7b"/><rect x="20.40" y="476.08" width="1.6" height="35.36" fill="#4a4a4a"/><ellipse cx="46.7" cy="484.5" rx="1.0" ry="3.5" fill="#a9a9a9"/><ellipse cx="47.5" cy="501.3" rx="1.0" ry="4.8" fill="#a9a9a9"/><polygon points="48.8,476.5 121.9,476.5 124.0,511.0 52.8,511.0" fill="#222222"/><polygon points="110.2,495.7 111.8,495.7 112.4,503.9 110.9,503.9" fill="#6e6e6e"/><polygon points="108.9,486.4 110.5,486.4 107.6,494.5 106.0,494.5" fill="#5a5a5a"/><polygon points="57.5,490.4 59.0,490.4 62.2,501.1 60.7,501.1" fill="#545454"/><polygon points="81.2,498.5 82.9,498.5 83.1,509.3 81.4,509.3" fill="#737373"/><polygon points="62.9,484.0 64.4,484.0 67.6,498.4 66.0,498.4" fill="#585858"/><polygon points="85.1,492.8 86.6,492.8 89.2,508.5 87.7,508.5" fill="#7a7a7a"/><polygon points="74.5,482.8 76.6,482.8 74.6,496.1 72.4,496.1" fill="#7b7b7b"/><polygon points="72.0,505.3 73.3,505.3 69.5,511.9 68.3,511.9" fill="#6b6b6b"/><polygon points="102.2,489.0 103.5,489.0 106.1,502.8 104.9,502.8" fill="#4b4b4b"/><polygon points="110.7,500.0 111.7,500.0 112.0,508.7 111.0,508.7" fill="#535353"/><polygon points="116.4,479.0 118.3,479.0 117.2,484.6 115.3,484.6" fill="#4b4b4b"/><polygon points="96.2,500.9 98.0,500.9 101.5,514.9 99.7,514.9" fill="#838383"/><polygon points="101.1,495.2 102.8,495.2 105.8,510.0 104.0,510.0" fill="#757575"/><polygon points="58.4,499.6 60.0,499.6 57.7,512.1 56.1,512.1" fill="#7a7a7a"/><polygon points="113.6,499.4 114.8,499.4 117.8,509.9 116.6,509.9" fill="#717171"/><polygon points="76.1,495.6 77.3,495.6 80.2,507.6 79.0,507.6" fill="#6a6a6a"/><polygon points="78.1,507.8 80.0,507.8 78.1,515.5 76.3,515.5" fill="#727272"/><polygon points="71.7,496.1 73.3,496.1 71.4,504.6 69.8,504.6" fill="#898989"/><polygon points="77.1,484.3 79.3,484.3 80.0,494.8 77.8,494.8" fill="#737373"/><polygon points="62.7,505.2 64.5,505.2 66.4,509.8 64.5,509.8" fill="#727272"/><polygon points="60.2,483.5 62.4,483.5 63.1,491.7 60.9,491.7" fill="#4e4e4e"/><polygon points="91.6,503.8 93.1,503.8 92.7,512.1 91.1,512.1" fill="#727272"/><polygon points="96.8,507.1 98.8,507.1 99.7,518.1 97.8,518.1" fill="#787878"/><polygon points="88.5,498.2 90.4,498.2 90.9,512.5 89.0,512.5" fill="#676767"/><polygon points="122.6,476.5 130.4,476.5 130.4,511.0 124.6,511.0" fill="#969696"/><polygon points="84.0,478.1 108.0,478.1 108.0,509.4 81.6,509.4 77.9,500.5 80.0,487.7" fill="#828282"/><polygon points="68.0,480.5 76.0,481.3 76.8,487.7 69.6,489.3" fill="#666666"/><polygon points="61.6,492.5 76.0,494.1 76.8,502.1 63.2,502.1" fill="#666666"/><polygon points="77.0,478.1 85.6,478.1 87.8,484.5 89.9,490.1 91.4,497.0 88.8,498.2 85.3,494.1 80.8,486.7" fill="#060606"/><polygon points="88.5,498.2 89.4,489.6 91.7,485.8 97.4,480.8 102.9,478.4 105.3,480.3 101.9,484.2 98.1,487.7 94.4,494.4 91.5,498.6" fill="#060606"/></g></g><clipPath id="k1_4"><rect x="21.40" y="509.44" width="103.50" height="31.36"/></clipPath><g clip-path="url(#k1_4)"><rect x="20.40" y="508.44" width="105.50" height="33.36" fill="#8b8b8b"/><g filter="url(#bl)"><rect x="20.40" y="507.44" width="4.2" height="35.36" fill="#7b7b7b"/><rect x="20.40" y="507.44" width="1.6" height="35.36" fill="#4a4a4a"/><ellipse cx="46.7" cy="515.8" rx="1.0" ry="3.5" fill="#a9a9a9"/><ellipse cx="47.5" cy="531.8" rx="1.0" ry="4.8" fill="#a9a9a9"/><polygon points="48.8,507.8 121.9,507.8 124.0,542.4 52.8,542.4" fill="#222222"/><polygon points="82.1,520.8 83.3,520.8 79.4,531.1 78.2,531.1" fill="#8d8d8d"/><polygon points="107.2,533.2 109.0,533.2 108.2,537.5 106.4,537.5" fill="#656565"/><polygon points="66.9,533.5 68.6,533.5 67.3,548.6 65.5,548.6" fill="#5a5a5a"/><polygon points="101.9,540.7 103.2,540.7 100.6,546.8 99.3,546.8" fill="#535353"/><polygon points="93.0,524.3 94.5,524.3 97.4,531.1 95.8,531.1" fill="#696969"/><polygon points="58.0,540.6 59.2,540.6 61.7,553.1 60.5,553.1" fill="#696969"/><polygon points="71.6,523.3 72.8,523.3 70.7,532.9 69.5,532.9" fill="#535353"/><polygon points="68.7,514.5 70.9,514.5 72.7,525.9 70.5,525.9" fill="#878787"/><polygon points="116.5,513.2 118.6,513.2 120.8,518.4 118.7,518.4" fill="#777777"/><polygon points="112.6,529.9 113.6,529.9 115.3,541.5 114.2,541.5" fill="#686868"/><polygon points="98.7,534.4 99.9,534.4 96.0,540.5 94.8,540.5" fill="#7e7e7e"/><polygon points="107.9,510.9 108.9,510.9 111.0,524.6 110.0,524.6" fill="#7f7f7f"/><polygon points="78.6,522.9 80.4,522.9 81.2,529.0 79.4,529.0" fill="#646464"/><polygon points="108.9,531.8 109.9,531.8 109.7,540.7 108.7,540.7" fill="#5c5c5c"/><polygon points="67.7,513.5 68.9,513.5 66.6,517.5 65.3,517.5" fill="#7a7a7a"/><polygon points="93.1,540.5 94.4,540.5 96.7,549.2 95.4,549.2" fill="#7b7b7b"/><polygon points="69.7,518.4 71.0,518.4 71.4,523.9 70.1,523.9" fill="#8d8d8d"/><polygon points="87.9,512.3 89.7,512.3 88.5,522.4 86.7,522.4" fill="#747474"/><polygon points="112.1,535.3 113.4,535.3 114.3,542.0 113.0,542.0" fill="#757575"/><polygon points="63.7,537.3 65.5,537.3 68.6,545.5 66.8,545.5" fill="#4d4d4d"/><polygon points="84.4,540.3 85.5,540.3 89.3,548.3 88.3,548.3" fill="#5a5a5a"/><polygon points="95.4,531.7 96.4,531.7 94.8,535.9 93.8,535.9" fill="#848484"/><polygon points="116.8,537.3 118.9,537.3 122.4,546.1 120.3,546.1" fill="#5e5e5e"/><polygon points="102.1,523.6 103.7,523.6 100.2,530.4 98.5,530.4" fill="#4a4a4a"/><polygon points="122.6,507.8 130.4,507.8 130.4,542.4 124.6,542.4" fill="#969696"/><polygon points="83.2,509.4 107.2,509.4 107.2,540.8 81.1,540.8 80.5,528.6" fill="#828282"/><polygon points="107.7,512.6 109.3,512.6 109.9,528.6 108.3,528.6" fill="#9a9a9a"/><polygon points="70.4,509.4 83.2,509.4 81.6,540.8 70.4,540.8" fill="#2b2b2b"/><polygon points="58.4,511.0 69.6,510.7 69.6,516.2 58.4,516.2" fill="#666666"/><polygon points="75.4,519.4 78.2,518.4 80.8,527.0 81.8,540.8 77.9,540.8 76.8,528.6" fill="#666666"/><polygon points="71.8,509.4 73.4,509.4 73.4,540.8 71.8,540.8" fill="#666666"/><polygon points="74.4,509.4 84.3,509.4 86.6,515.8 89.4,522.2 90.7,529.6 87.2,530.9 81.1,522.9 76.5,515.8" fill="#060606"/><polygon points="86.9,530.9 87.2,523.0 90.4,516.2 96.8,511.0 99.0,513.6 97.1,518.4 93.3,524.8 90.7,531.4" fill="#060606"/></g></g><clipPath id="k1_5"><rect x="21.40" y="540.80" width="103.50" height="31.36"/></clipPath><g clip-path="url(#k1_5)"><rect x="20.40" y="539.80" width="105.50" height="33.36" fill="#8b8b8b"/><g filter="url(#bl)"><rect x="20.40" y="538.80" width="4.2" height="35.36" fill="#7b7b7b"/><rect x="20.40" y="538.80" width="1.6" height="35.36" fill="#4a4a4a"/><ellipse cx="46.4" cy="547.2" rx="1.0" ry="3.5" fill="#a9a9a9"/><ellipse cx="47.2" cy="563.2" rx="1.0" ry="4.8" fill="#a9a9a9"/><polygon points="48.5,539.2 121.6,539.2 124.0,573.8 52.8,573.8" fill="#222222"/><polygon points="60.5,571.3 62.1,571.3 62.3,578.2 60.8,578.2" fill="#5c5c5c"/><polygon points="111.0,542.1 112.1,542.1 108.5,555.3 107.4,555.3" fill="#7f7f7f"/><polygon points="55.0,560.2 57.0,560.2 60.9,575.0 58.9,575.0" fill="#6b6b6b"/><polygon points="77.5,568.0 79.0,568.0 75.1,579.7 73.7,579.7" fill="#828282"/><polygon points="82.6,558.3 84.5,558.3 87.8,567.1 85.8,567.1" fill="#767676"/><polygon points="102.1,565.2 103.5,565.2 102.4,569.5 101.0,569.5" fill="#5d5d5d"/><polygon points="114.7,548.7 116.0,548.7 118.2,563.7 116.9,563.7" fill="#666666"/><polygon points="114.9,563.0 115.9,563.0 118.7,570.9 117.6,570.9" fill="#757575"/><polygon points="94.8,566.1 96.5,566.1 95.6,573.4 93.9,573.4" fill="#606060"/><polygon points="67.5,549.0 69.4,549.0 67.0,563.1 65.2,563.1" fill="#7f7f7f"/><polygon points="108.9,557.7 110.4,557.7 107.9,564.1 106.4,564.1" fill="#5f5f5f"/><polygon points="59.1,546.9 61.3,546.9 57.6,558.2 55.4,558.2" fill="#5b5b5b"/><polygon points="101.8,570.1 103.3,570.1 105.8,582.7 104.4,582.7" fill="#4a4a4a"/><polygon points="108.6,555.8 109.9,555.8 106.5,566.9 105.1,566.9" fill="#545454"/><polygon points="89.4,559.1 90.7,559.1 92.8,572.0 91.5,572.0" fill="#616161"/><polygon points="93.4,571.5 94.8,571.5 93.3,583.0 92.0,583.0" fill="#8a8a8a"/><polygon points="84.9,567.8 86.1,567.8 84.3,575.2 83.1,575.2" fill="#717171"/><polygon points="86.6,564.5 87.7,564.5 86.0,579.6 84.9,579.6" fill="#6f6f6f"/><polygon points="89.0,556.2 91.2,556.2 90.5,567.6 88.3,567.6" fill="#676767"/><polygon points="69.9,571.6 71.8,571.6 70.1,579.0 68.2,579.0" fill="#7c7c7c"/><polygon points="87.5,542.1 89.1,542.1 91.1,550.6 89.5,550.6" fill="#7b7b7b"/><polygon points="59.4,567.8 60.5,567.8 57.0,579.7 56.0,579.7" fill="#7a7a7a"/><polygon points="78.9,547.2 80.9,547.2 81.8,563.0 79.8,563.0" fill="#6a6a6a"/><polygon points="87.4,542.6 88.4,542.6 85.3,549.5 84.3,549.5" fill="#646464"/><polygon points="122.2,539.2 130.4,539.2 130.4,573.8 124.6,573.8" fill="#969696"/><polygon points="82.4,540.8 107.2,540.8 107.2,572.2 82.1,572.2 81.1,560.0" fill="#828282"/><polygon points="107.7,544.0 109.3,544.0 109.9,560.0 108.3,560.0" fill="#9a9a9a"/><polygon points="70.4,540.8 83.2,540.8 82.4,572.2 70.4,572.2" fill="#2b2b2b"/><polygon points="58.4,542.4 69.6,542.1 69.6,547.2 58.4,547.2" fill="#666666"/><polygon points="75.0,550.7 77.9,549.8 80.8,559.2 82.4,572.2 78.2,572.2 76.6,560.8" fill="#666666"/><polygon points="71.8,540.8 73.4,540.8 73.4,572.2 71.8,572.2" fill="#666666"/><polygon points="73.6,540.8 84.0,540.8 86.9,548.8 89.8,558.4 90.7,564.8 86.6,565.8 81.8,556.8 76.6,548.0" fill="#060606"/><polygon points="86.2,565.8 86.6,556.8 89.8,549.8 94.4,544.0 96.8,546.9 94.9,553.6 91.7,562.4 90.1,566.1" fill="#060606"/></g></g><clipPath id="k1_6"><rect x="21.40" y="572.16" width="103.50" height="31.36"/></clipPath><g clip-path="url(#k1_6)"><rect x="20.40" y="571.16" width="105.50" height="33.36" fill="#8b8b8b"/><g filter="url(#bl)"><rect x="20.40" y="570.16" width="4.2" height="35.36" fill="#7b7b7b"/><rect x="20.40" y="570.16" width="1.6" height="35.36" fill="#4a4a4a"/><ellipse cx="46.1" cy="578.6" rx="1.0" ry="3.5" fill="#a9a9a9"/><ellipse cx="46.9" cy="594.6" rx="1.0" ry="4.8" fill="#a9a9a9"/><polygon points="48.2,570.6 121.4,570.6 123.7,605.1 52.3,605.1" fill="#222222"/><polygon points="118.8,582.6 120.6,582.6 119.5,589.0 117.6,589.0" fill="#828282"/><polygon points="70.3,586.5 72.3,586.5 71.0,595.2 68.9,595.2" fill="#4e4e4e"/><polygon points="108.9,575.2 110.7,575.2 113.5,585.8 111.7,585.8" fill="#5b5b5b"/><polygon points="83.0,599.8 84.9,599.8 81.2,612.3 79.3,612.3" fill="#494949"/><polygon points="75.5,589.8 77.4,589.8 81.4,602.6 79.4,602.6" fill="#8d8d8d"/><polygon points="90.2,603.2 91.8,603.2 95.3,611.3 93.6,611.3" fill="#565656"/><polygon points="80.4,587.0 81.5,587.0 82.2,599.7 81.1,599.7" fill="#535353"/><polygon points="105.7,577.3 107.7,577.3 109.7,584.5 107.8,584.5" fill="#515151"/><polygon points="55.6,577.7 57.8,577.7 60.4,585.1 58.2,585.1" fill="#626262"/><polygon points="84.8,578.1 86.0,578.1 85.7,582.1 84.5,582.1" fill="#4a4a4a"/><polygon points="102.3,593.5 103.4,593.5 107.1,603.9 106.0,603.9" fill="#7d7d7d"/><polygon points="115.7,582.4 117.7,582.4 114.9,596.9 112.9,596.9" fill="#494949"/><polygon points="82.6,584.8 84.0,584.8 81.7,589.2 80.4,589.2" fill="#626262"/><polygon points="88.7,595.8 90.5,595.8 94.5,601.1 92.6,601.1" fill="#8b8b8b"/><polygon points="86.9,593.6 88.5,593.6 87.7,600.3 86.1,600.3" fill="#6c6c6c"/><polygon points="117.6,578.6 119.2,578.6 122.3,589.5 120.7,589.5" fill="#797979"/><polygon points="83.1,594.9 84.1,594.9 80.6,599.3 79.6,599.3" fill="#8e8e8e"/><polygon points="112.9,594.0 114.0,594.0 115.3,607.5 114.2,607.5" fill="#5c5c5c"/><polygon points="59.4,587.9 60.7,587.9 61.2,598.9 59.9,598.9" fill="#737373"/><polygon points="100.4,594.2 101.7,594.2 100.3,610.0 99.0,610.0" fill="#737373"/><polygon points="64.9,581.8 66.6,581.8 69.6,588.0 67.9,588.0" fill="#4d4d4d"/><polygon points="94.7,594.0 96.7,594.0 96.9,605.7 95.0,605.7" fill="#8f8f8f"/><polygon points="115.5,581.5 116.6,581.5 117.8,587.3 116.7,587.3" fill="#797979"/><polygon points="119.3,600.4 120.3,600.4 123.3,615.3 122.2,615.3" fill="#636363"/><polygon points="122.1,570.6 130.4,570.6 130.4,605.1 124.3,605.1" fill="#969696"/><polygon points="82.4,572.2 107.2,572.2 107.2,603.5 81.6,603.5" fill="#828282"/><polygon points="107.7,575.4 109.3,575.4 109.9,591.4 108.3,591.4" fill="#9a9a9a"/><polygon points="70.1,572.2 83.2,572.2 82.4,603.5 70.1,603.5" fill="#2b2b2b"/><polygon points="71.2,603.5 71.5,588.2 74.4,581.8 78.4,580.2 81.8,584.2 82.9,603.5 79.8,603.5 79.0,586.2 76.8,585.0 74.7,589.8 74.4,603.5" fill="#666666"/><polygon points="70.2,572.2 72.0,572.2 72.0,603.5 70.2,603.5" fill="#666666"/><polygon points="74.9,572.2 82.7,572.2 85.3,578.6 86.9,584.2 90.4,580.2 93.3,578.6 94.4,581.4 92.0,586.6 89.9,589.8 89.6,597.4 83.7,597.8 83.0,589.8 80.0,583.4 76.8,577.8" fill="#060606"/></g></g><clipPath id="k1_7"><rect x="21.40" y="603.52" width="103.50" height="31.36"/></clipPath><g clip-path="url(#k1_7)"><rect x="20.40" y="602.52" width="105.50" height="33.36" fill="#8b8b8b"/><g filter="url(#bl)"><rect x="20.40" y="601.52" width="4.2" height="35.36" fill="#7b7b7b"/><rect x="20.40" y="601.52" width="1.6" height="35.36" fill="#4a4a4a"/><ellipse cx="45.8" cy="609.9" rx="1.0" ry="3.5" fill="#a9a9a9"/><ellipse cx="46.6" cy="625.9" rx="1.0" ry="4.8" fill="#a9a9a9"/><polygon points="47.8,601.9 121.1,601.9 123.7,636.5 52.0,636.5" fill="#222222"/><polygon points="59.4,610.7 60.8,610.7 61.4,618.5 59.9,618.5" fill="#6f6f6f"/><polygon points="106.8,632.3 108.4,632.3 105.0,641.4 103.4,641.4" fill="#888888"/><polygon points="81.3,621.8 82.6,621.8 82.3,631.1 81.1,631.1" fill="#4f4f4f"/><polygon points="114.7,608.6 116.8,608.6 120.7,613.2 118.7,613.2" fill="#4f4f4f"/><polygon points="80.1,605.8 81.1,605.8 77.4,618.4 76.4,618.4" fill="#494949"/><polygon points="59.1,612.3 60.6,612.3 60.3,616.6 58.8,616.6" fill="#787878"/><polygon points="98.0,628.5 99.0,628.5 101.3,643.3 100.3,643.3" fill="#777777"/><polygon points="109.8,620.6 111.0,620.6 111.1,631.1 109.9,631.1" fill="#5b5b5b"/><polygon points="97.7,626.5 99.5,626.5 97.1,637.6 95.2,637.6" fill="#777777"/><polygon points="73.9,615.1 75.3,615.1 77.5,630.2 76.1,630.2" fill="#767676"/><polygon points="72.5,624.4 73.6,624.4 74.8,634.3 73.6,634.3" fill="#8b8b8b"/><polygon points="119.4,628.9 120.9,628.9 122.6,641.2 121.0,641.2" fill="#636363"/><polygon points="91.9,623.2 93.0,623.2 93.7,635.2 92.6,635.2" fill="#5e5e5e"/><polygon points="79.4,616.5 81.5,616.5 83.0,624.2 80.8,624.2" fill="#5a5a5a"/><polygon points="61.7,609.7 63.8,609.7 64.2,617.4 62.1,617.4" fill="#8d8d8d"/><polygon points="112.0,617.7 113.2,617.7 113.5,625.2 112.3,625.2" fill="#7e7e7e"/><polygon points="112.2,621.3 113.8,621.3 116.3,634.5 114.8,634.5" fill="#525252"/><polygon points="98.0,621.7 99.5,621.7 102.3,627.4 100.9,627.4" fill="#5c5c5c"/><polygon points="81.7,626.5 83.9,626.5 82.7,642.0 80.5,642.0" fill="#6a6a6a"/><polygon points="94.8,610.3 96.9,610.3 97.6,622.8 95.5,622.8" fill="#6c6c6c"/><polygon points="86.0,626.1 87.8,626.1 87.5,630.2 85.7,630.2" fill="#4b4b4b"/><polygon points="89.1,605.9 90.5,605.9 89.3,619.4 87.9,619.4" fill="#636363"/><polygon points="96.9,617.3 98.5,617.3 100.1,622.6 98.4,622.6" fill="#5b5b5b"/><polygon points="64.6,622.0 66.1,622.0 65.9,631.4 64.4,631.4" fill="#616161"/><polygon points="121.8,601.9 130.4,601.9 130.4,636.5 124.3,636.5" fill="#969696"/><polygon points="81.6,603.5 107.2,603.5 107.7,634.9 82.4,634.9" fill="#828282"/><polygon points="107.7,606.7 109.3,606.7 109.9,622.7 108.3,622.7" fill="#9a9a9a"/><polygon points="69.8,603.5 83.2,603.5 83.2,634.9 69.8,634.9" fill="#2b2b2b"/><polygon points="70.4,634.9 70.9,619.5 73.6,613.4 77.9,611.2 81.8,614.7 82.7,624.0 79.8,624.3 78.9,617.0 76.6,616.0 74.4,621.1 73.4,634.9" fill="#666666"/><polygon points="69.9,603.5 71.7,603.5 71.7,634.9 69.9,634.9" fill="#666666"/><polygon points="75.4,603.5 82.4,603.5 81.8,605.8 74.7,605.1" fill="#666666"/><polygon points="74.1,605.8 81.8,606.4 84.6,610.7 86.9,616.0 90.1,613.4 92.0,611.5 93.3,614.4 90.7,619.5 90.4,631.5 83.7,631.8 83.0,620.3 79.5,613.1 75.7,609.6" fill="#060606"/></g></g><clipPath id="k1_8"><rect x="21.40" y="634.88" width="103.50" height="31.36"/></clipPath><g clip-path="url(#k1_8)"><rect x="20.40" y="633.88" width="105.50" height="33.36" fill="#8b8b8b"/><g filter="url(#bl)"><rect x="20.40" y="632.88" width="4.2" height="35.36" fill="#7b7b7b"/><rect x="20.40" y="632.88" width="1.6" height="35.36" fill="#4a4a4a"/><ellipse cx="45.4" cy="641.3" rx="1.0" ry="3.5" fill="#a9a9a9"/><ellipse cx="46.2" cy="657.3" rx="1.0" ry="4.8" fill="#a9a9a9"/><polygon points="47.5,633.3 121.0,633.3 123.5,667.8 51.5,667.8" fill="#222222"/><polygon points="77.3,649.0 78.9,649.0 79.5,653.9 77.9,653.9" fill="#5c5c5c"/><polygon points="73.6,646.6 75.6,646.6 77.9,662.3 75.9,662.3" fill="#636363"/><polygon points="63.9,652.0 65.9,652.0 67.1,659.6 65.1,659.6" fill="#5d5d5d"/><polygon points="55.3,664.6 56.4,664.6 57.0,672.0 55.9,672.0" fill="#6f6f6f"/><polygon points="58.4,640.0 60.3,640.0 59.2,645.5 57.3,645.5" fill="#494949"/><polygon points="87.3,642.4 88.9,642.4 87.9,650.9 86.3,650.9" fill="#666666"/><polygon points="91.4,653.7 93.1,653.7 91.4,667.8 89.7,667.8" fill="#4d4d4d"/><polygon points="96.7,641.8 98.7,641.8 100.1,650.6 98.1,650.6" fill="#898989"/><polygon points="98.4,664.4 100.6,664.4 104.5,675.3 102.3,675.3" fill="#5b5b5b"/><polygon points="90.1,635.3 92.0,635.3 88.2,649.9 86.3,649.9" fill="#5f5f5f"/><polygon points="54.9,659.5 56.6,659.5 59.8,670.3 58.1,670.3" fill="#717171"/><polygon points="105.8,653.5 107.6,653.5 105.4,662.5 103.6,662.5" fill="#5c5c5c"/><polygon points="74.3,662.2 75.9,662.2 77.2,667.5 75.6,667.5" fill="#4c4c4c"/><polygon points="113.4,652.8 115.3,652.8 111.6,668.1 109.7,668.1" fill="#4b4b4b"/><polygon points="100.2,652.1 102.0,652.1 101.3,660.2 99.4,660.2" fill="#737373"/><polygon points="117.2,637.5 118.4,637.5 120.2,646.5 119.1,646.5" fill="#515151"/><polygon points="112.4,641.8 113.4,641.8 112.6,647.9 111.6,647.9" fill="#4d4d4d"/><polygon points="104.7,643.6 105.9,643.6 105.5,658.0 104.2,658.0" fill="#4c4c4c"/><polygon points="99.7,657.4 100.9,657.4 103.6,662.9 102.5,662.9" fill="#8b8b8b"/><polygon points="83.5,663.8 85.1,663.8 88.9,675.2 87.2,675.2" fill="#8f8f8f"/><polygon points="105.3,638.9 107.0,638.9 110.2,643.0 108.5,643.0" fill="#5f5f5f"/><polygon points="106.5,657.2 107.6,657.2 108.0,668.8 107.0,668.8" fill="#5e5e5e"/><polygon points="59.0,644.5 60.9,644.5 64.3,651.0 62.4,651.0" fill="#616161"/><polygon points="118.5,643.7 119.6,643.7 120.6,650.2 119.5,650.2" fill="#494949"/><polygon points="121.6,633.3 130.4,633.3 130.4,667.8 124.2,667.8" fill="#969696"/><polygon points="70.4,634.9 106.7,634.9 108.0,666.2 69.6,666.2" fill="#828282"/><polygon points="107.7,638.1 109.3,638.1 109.9,654.1 108.3,654.1" fill="#9a9a9a"/><polygon points="74.7,650.9 82.4,646.4 82.7,666.2 70.4,666.2 71.2,657.3" fill="#222222"/><polygon points="72.0,637.8 75.5,637.8 75.5,642.2 72.0,642.2" fill="#222222"/><polygon points="105.8,639.4 108.0,639.4 108.3,645.4 106.1,645.4" fill="#222222"/><polygon points="76.8,641.3 80.5,642.1 76.0,652.5 72.5,660.5 70.4,658.9 73.6,650.1" fill="#666666"/><polygon points="80.2,643.7 82.4,643.7 82.7,665.3 80.8,665.3" fill="#666666"/><polygon points="82.9,644.5 85.0,646.4 89.4,646.4 91.7,644.5 91.4,664.6 83.4,664.6" fill="#060606"/></g></g><clipPath id="k1_9"><rect x="21.40" y="666.24" width="103.50" height="31.36"/></clipPath><g clip-path="url(#k1_9)"><rect x="20.40" y="665.24" width="105.50" height="33.36" fill="#8b8b8b"/><g filter="url(#bl)"><rect x="20.40" y="664.24" width="4.2" height="35.36" fill="#7b7b7b"/><rect x="20.40" y="664.24" width="1.6" height="35.36" fill="#4a4a4a"/><ellipse cx="45.1" cy="672.6" rx="1.0" ry="3.5" fill="#a9a9a9"/><ellipse cx="45.9" cy="688.6" rx="1.0" ry="4.8" fill="#a9a9a9"/><polygon points="47.2,664.6 120.8,664.6 123.5,699.2 51.2,699.2" fill="#222222"/><polygon points="114.2,671.2 116.2,671.2 116.8,676.2 114.7,676.2" fill="#5c5c5c"/><polygon points="69.8,683.9 71.1,683.9 72.1,695.7 70.8,695.7" fill="#656565"/><polygon points="79.5,680.4 80.8,680.4 77.6,686.0 76.4,686.0" fill="#6a6a6a"/><polygon points="60.4,675.2 62.4,675.2 59.0,683.0 57.0,683.0" fill="#7f7f7f"/><polygon points="69.9,695.5 71.9,695.5 71.9,703.6 69.9,703.6" fill="#585858"/><polygon points="81.6,686.4 83.8,686.4 83.3,695.7 81.1,695.7" fill="#767676"/><polygon points="113.4,683.7 115.1,683.7 112.2,693.0 110.5,693.0" fill="#8b8b8b"/><polygon points="95.2,696.0 96.7,696.0 97.6,704.7 96.1,704.7" fill="#787878"/><polygon points="103.5,676.0 104.8,676.0 103.1,682.4 101.8,682.4" fill="#7a7a7a"/><polygon points="114.1,676.9 115.9,676.9 112.3,688.6 110.4,688.6" fill="#7d7d7d"/><polygon points="54.2,691.7 55.5,691.7 58.9,700.9 57.6,700.9" fill="#6f6f6f"/><polygon points="112.7,678.5 114.5,678.5 111.8,693.3 110.0,693.3" fill="#828282"/><polygon points="65.2,686.1 66.8,686.1 63.1,698.9 61.5,698.9" fill="#898989"/><polygon points="104.0,696.3 105.2,696.3 104.1,708.4 102.8,708.4" fill="#5a5a5a"/><polygon points="78.9,690.0 80.3,690.0 81.4,705.0 79.9,705.0" fill="#8f8f8f"/><polygon points="100.8,681.3 102.0,681.3 102.7,693.2 101.4,693.2" fill="#727272"/><polygon points="63.4,691.3 65.2,691.3 62.3,705.7 60.5,705.7" fill="#6f6f6f"/><polygon points="77.0,683.2 78.3,683.2 81.4,696.4 80.1,696.4" fill="#484848"/><polygon points="72.8,667.3 74.1,667.3 70.3,674.3 69.0,674.3" fill="#5b5b5b"/><polygon points="89.6,673.7 91.2,673.7 92.5,680.4 90.8,680.4" fill="#818181"/><polygon points="118.9,686.2 121.1,686.2 123.9,699.7 121.7,699.7" fill="#4d4d4d"/><polygon points="88.5,687.8 90.0,687.8 91.2,703.0 89.7,703.0" fill="#505050"/><polygon points="106.8,683.5 108.9,683.5 109.8,695.3 107.7,695.3" fill="#4b4b4b"/><polygon points="79.7,680.2 81.4,680.2 81.3,686.3 79.7,686.3" fill="#7e7e7e"/><polygon points="121.4,664.6 130.4,664.6 130.4,699.2 124.2,699.2" fill="#969696"/><polygon points="69.6,666.2 106.9,666.2 108.0,697.6 68.0,697.6" fill="#828282"/><polygon points="107.7,669.4 109.3,669.4 109.9,685.4 108.3,685.4" fill="#9a9a9a"/><polygon points="75.5,681.4 82.7,680.6 83.4,697.6 73.8,697.6" fill="#222222"/><polygon points="71.2,670.2 73.9,670.2 73.9,673.9 71.2,673.9" fill="#222222"/><polygon points="105.8,672.3 108.0,672.3 108.3,678.1 106.1,678.1" fill="#222222"/><polygon points="76.0,674.2 79.5,675.0 76.0,685.4 72.8,697.6 69.6,697.6 72.8,683.8" fill="#666666"/><polygon points="80.5,677.4 83.0,677.4 83.4,697.6 81.1,697.6" fill="#666666"/><polygon points="83.8,679.0 91.0,679.0 91.0,698.2 83.8,698.2" fill="#060606"/></g></g><text x="73.2" y="381.1" font-size="7.7" text-anchor="middle">CT scan</text><text x="18.8" y="387.2" font-size="5.5" text-anchor="end">0</text><text x="18.8" y="400.2" font-size="5.5" text-anchor="end">10</text><text x="18.8" y="413.3" font-size="5.5" text-anchor="end">20</text><text x="18.8" y="418.5" font-size="5.5" text-anchor="end">0</text><text x="18.8" y="431.6" font-size="5.5" text-anchor="end">10</text><text x="18.8" y="444.6" font-size="5.5" text-anchor="end">20</text><text x="18.8" y="449.9" font-size="5.5" text-anchor="end">0</text><text x="18.8" y="462.9" font-size="5.5" text-anchor="end">10</text><text x="18.8" y="476.0" font-size="5.5" text-anchor="end">20</text><text x="18.8" y="481.2" font-size="5.5" text-anchor="end">0</text><text x="18.8" y="494.3" font-size="5.5" text-anchor="end">10</text><text x="18.8" y="507.4" font-size="5.5" text-anchor="end">20</text><text x="18.8" y="512.6" font-size="5.5" text-anchor="end">0</text><text x="18.8" y="525.7" font-size="5.5" text-anchor="end">10</text><text x="18.8" y="538.7" font-size="5.5" text-anchor="end">20</text><text x="18.8" y="544.0" font-size="5.5" text-anchor="end">0</text><text x="18.8" y="557.0" font-size="5.5" text-anchor="end">10</text><text x="18.8" y="570.1" font-size="5.5" text-anchor="end">20</text><text x="18.8" y="575.3" font-size="5.5" text-anchor="end">0</text><text x="18.8" y="588.4" font-size="5.5" text-anchor="end">10</text><text x="18.8" y="601.4" font-size="5.5" text-anchor="end">20</text><text x="18.8" y="606.7" font-size="5.5" text-anchor="end">0</text><text x="18.8" y="619.7" font-size="5.5" text-anchor="end">10</text><text x="18.8" y="632.8" font-size="5.5" text-anchor="end">20</text><text x="18.8" y="638.0" font-size="5.5" text-anchor="end">0</text><text x="18.8" y="651.1" font-size="5.5" text-anchor="end">10</text><text x="18.8" y="664.2" font-size="5.5" text-anchor="end">20</text><text x="18.8" y="669.4" font-size="5.5" text-anchor="end">0</text><text x="18.8" y="682.5" font-size="5.5" text-anchor="end">10</text><text x="18.8" y="695.5" font-size="5.5" text-anchor="end">20</text><text x="21.7" y="705.9" font-size="5.5" text-anchor="middle">0</text><text x="39.0" y="705.9" font-size="5.5" text-anchor="middle">25</text><text x="56.2" y="705.9" font-size="5.5" text-anchor="middle">50</text><text x="73.5" y="705.9" font-size="5.5" text-anchor="middle">75</text><text x="90.7" y="705.9" font-size="5.5" text-anchor="middle">100</text><text x="108.0" y="705.9" font-size="5.5" text-anchor="middle">125</text><text x="181.8" y="381.1" font-size="7.7" text-anchor="middle">Target</text><text x="130.3" y="705.9" font-size="5.5" text-anchor="middle">0</text><text x="147.6" y="705.9" font-size="5.5" text-anchor="middle">25</text><text x="164.8" y="705.9" font-size="5.5" text-anchor="middle">50</text><text x="182.1" y="705.9" font-size="5.5" text-anchor="middle">75</text><text x="199.3" y="705.9" font-size="5.5" text-anchor="middle">100</text><text x="216.6" y="705.9" font-size="5.5" text-anchor="middle">125</text><text x="290.4" y="381.1" font-size="7.7" text-anchor="middle">Predicted</text><text x="238.9" y="705.9" font-size="5.5" text-anchor="middle">0</text><text x="256.2" y="705.9" font-size="5.5" text-anchor="middle">25</text><text x="273.4" y="705.9" font-size="5.5" text-anchor="middle">50</text><text x="290.7" y="705.9" font-size="5.5" text-anchor="middle">75</text><text x="307.9" y="705.9" font-size="5.5" text-anchor="middle">100</text><text x="325.2" y="705.9" font-size="5.5" text-anchor="middle">125</text><text x="398.9" y="381.1" font-size="7.7" text-anchor="middle">Difference</text><text x="347.5" y="705.9" font-size="5.5" text-anchor="middle">0</text><text x="364.8" y="705.9" font-size="5.5" text-anchor="middle">25</text><text x="382.0" y="705.9" font-size="5.5" text-anchor="middle">50</text><text x="399.3" y="705.9" font-size="5.5" text-anchor="middle">75</text><text x="416.5" y="705.9" font-size="5.5" text-anchor="middle">100</text><text x="433.8" y="705.9" font-size="5.5" text-anchor="middle">125</text><path d="M21.40 384.00h103.50v31.36h-103.50zM21.40 415.36h103.50v31.36h-103.50zM21.40 446.72h103.50v31.36h-103.50zM21.40 478.08h103.50v31.36h-103.50zM21.40 509.44h103.50v31.36h-103.50zM21.40 540.80h103.50v31.36h-103.50zM21.40 572.16h103.50v31.36h-103.50zM21.40 603.52h103.50v31.36h-103.50zM21.40 634.88h103.50v31.36h-103.50zM21.40 666.24h103.50v31.36h-103.50zM130.00 384.00h103.50v31.36h-103.50zM130.00 415.36h103.50v31.36h-103.50zM130.00 446.72h103.50v31.36h-103.50zM130.00 478.08h103.50v31.36h-103.50zM130.00 509.44h103.50v31.36h-103.50zM130.00 540.80h103.50v31.36h-103.50zM130.00 572.16h103.50v31.36h-103.50zM130.00 603.52h103.50v31.36h-103.50zM130.00 634.88h103.50v31.36h-103.50zM130.00 666.24h103.50v31.36h-103.50zM238.60 384.00h103.50v31.36h-103.50zM238.60 415.36h103.50v31.36h-103.50zM238.60 446.72h103.50v31.36h-103.50zM238.60 478.08h103.50v31.36h-103.50zM238.60 509.44h103.50v31.36h-103.50zM238.60 540.80h103.50v31.36h-103.50zM238.60 572.16h103.50v31.36h-103.50zM238.60 603.52h103.50v31.36h-103.50zM238.60 634.88h103.50v31.36h-103.50zM238.60 666.24h103.50v31.36h-103.50zM347.20 384.00h103.50v31.36h-103.50zM347.20 415.36h103.50v31.36h-103.50zM347.20 446.72h103.50v31.36h-103.50zM347.20 478.08h103.50v31.36h-103.50zM347.20 509.44h103.50v31.36h-103.50zM347.20 540.80h103.50v31.36h-103.50zM347.20 572.16h103.50v31.36h-103.50zM347.20 603.52h103.50v31.36h-103.50zM347.20 634.88h103.50v31.36h-103.50zM347.20 666.24h103.50v31.36h-103.50z" fill="none" stroke="#000" stroke-width="0.3" stroke-opacity="0.6"/><path d="M21.40 384.95h-1.7M21.40 398.02h-1.7M21.40 411.09h-1.7M21.40 416.31h-1.7M21.40 429.38h-1.7M21.40 442.45h-1.7M21.40 447.67h-1.7M21.40 460.74h-1.7M21.40 473.81h-1.7M21.40 479.03h-1.7M21.40 492.10h-1.7M21.40 505.17h-1.7M21.40 510.39h-1.7M21.40 523.46h-1.7M21.40 536.53h-1.7M21.40 541.75h-1.7M21.40 554.82h-1.7M21.40 567.89h-1.7M21.40 573.11h-1.7M21.40 586.18h-1.7M21.40 599.25h-1.7M21.40 604.47h-1.7M21.40 617.54h-1.7M21.40 630.61h-1.7M21.40 635.83h-1.7M21.40 648.90h-1.7M21.40 661.97h-1.7M21.40 667.19h-1.7M21.40 680.26h-1.7M21.40 693.33h-1.7M21.74 697.60v1.7M39.00 697.60v1.7M56.24 697.60v1.7M73.50 697.60v1.7M90.75 697.60v1.7M108.00 697.60v1.7M130.00 384.95h-1.7M130.00 398.02h-1.7M130.00 411.09h-1.7M130.00 416.31h-1.7M130.00 429.38h-1.7M130.00 442.45h-1.7M130.00 447.67h-1.7M130.00 460.74h-1.7M130.00 473.81h-1.7M130.00 479.03h-1.7M130.00 492.10h-1.7M130.00 505.17h-1.7M130.00 510.39h-1.7M130.00 523.46h-1.7M130.00 536.53h-1.7M130.00 541.75h-1.7M130.00 554.82h-1.7M130.00 567.89h-1.7M130.00 573.11h-1.7M130.00 586.18h-1.7M130.00 599.25h-1.7M130.00 604.47h-1.7M130.00 617.54h-1.7M130.00 630.61h-1.7M130.00 635.83h-1.7M130.00 648.90h-1.7M130.00 661.97h-1.7M130.00 667.19h-1.7M130.00 680.26h-1.7M130.00 693.33h-1.7M130.34 697.60v1.7M147.59 697.60v1.7M164.84 697.60v1.7M182.09 697.60v1.7M199.34 697.60v1.7M216.59 697.60v1.7M238.60 384.95h-1.7M238.60 398.02h-1.7M238.60 411.09h-1.7M238.60 416.31h-1.7M238.60 429.38h-1.7M238.60 442.45h-1.7M238.60 447.67h-1.7M238.60 460.74h-1.7M238.60 473.81h-1.7M238.60 479.03h-1.7M238.60 492.10h-1.7M238.60 505.17h-1.7M238.60 510.39h-1.7M238.60 523.46h-1.7M238.60 536.53h-1.7M238.60 541.75h-1.7M238.60 554.82h-1.7M238.60 567.89h-1.7M238.60 573.11h-1.7M238.60 586.18h-1.7M238.60 599.25h-1.7M238.60 604.47h-1.7M238.60 617.54h-1.7M238.60 630.61h-1.7M238.60 635.83h-1.7M238.60 648.90h-1.7M238.60 661.97h-1.7M238.60 667.19h-1.7M238.60 680.26h-1.7M238.60 693.33h-1.7M238.94 697.60v1.7M256.19 697.60v1.7M273.44 697.60v1.7M290.69 697.60v1.7M307.94 697.60v1.7M325.19 697.60v1.7M347.20 384.95h-1.7M347.20 398.02h-1.7M347.20 411.09h-1.7M347.20 416.31h-1.7M347.20 429.38h-1.7M347.20 442.45h-1.7M347.20 447.67h-1.7M347.20 460.74h-1.7M347.20 473.81h-1.7M347.20 479.03h-1.7M347.20 492.10h-1.7M347.20 505.17h-1.7M347.20 510.39h-1.7M347.20 523.46h-1.7M347.20 536.53h-1.7M347.20 541.75h-1.7M347.20 554.82h-1.7M347.20 567.89h-1.7M347.20 573.11h-1.7M347.20 586.18h-1.7M347.20 599.25h-1.7M347.20 604.47h-1.7M347.20 617.54h-1.7M347.20 630.61h-1.7M347.20 635.83h-1.7M347.20 648.90h-1.7M347.20 661.97h-1.7M347.20 667.19h-1.7M347.20 680.26h-1.7M347.20 693.33h-1.7M347.55 697.60v1.7M364.80 697.60v1.7M382.04 697.60v1.7M399.29 697.60v1.7M416.54 697.60v1.7M433.79 697.60v1.7" fill="none" stroke="#000" stroke-width="0.4" stroke-opacity="0.8"/><text x="236.0" y="716.2" font-size="7.5" text-anchor="middle">Depth Y-axis values [mm]</text><text transform="translate(7.2 556.2) rotate(-90)" font-size="7.5" text-anchor="middle">X-axis values [mm]</text><defs><linearGradient id="cb140393920205248" x1="0" y1="0" x2="0" y2="1"><stop offset="0.000" stop-color="#7a0403"/><stop offset="0.031" stop-color="#920b01"/><stop offset="0.062" stop-color="#a91601"/><stop offset="0.094" stop-color="#be2102"/><stop offset="0.125" stop-color="#d02f05"/><stop offset="0.156" stop-color="#df3f08"/><stop offset="0.188" stop-color="#eb500e"/><stop offset="0.219" stop-color="#f46617"/><stop offset="0.250" stop-color="#fb7e21"/><stop offset="0.281" stop-color="#fe962b"/><stop offset="0.312" stop-color="#fdac34"/><stop offset="0.344" stop-color="#f8be39"/><stop offset="0.375" stop-color="#eecf3a"/><stop offset="0.406" stop-color="#dfdf37"/><stop offset="0.438" stop-color="#cdec34"/><stop offset="0.469" stop-color="#b9f635"/><stop offset="0.500" stop-color="#a4fc3c"/><stop offset="0.531" stop-color="#8bff4b"/><stop offset="0.562" stop-color="#6dfe62"/><stop offset="0.594" stop-color="#4ef97d"/><stop offset="0.625" stop-color="#32f298"/><stop offset="0.656" stop-color="#1fe9af"/><stop offset="0.688" stop-color="#18ddc2"/><stop offset="0.719" stop-color="#1ccdd8"/><stop offset="0.750" stop-color="#28bceb"/><stop offset="0.781" stop-color="#37a8fa"/><stop offset="0.812" stop-color="#4294ff"/><stop offset="0.844" stop-color="#4680f6"/><stop offset="0.875" stop-color="#466be3"/><stop offset="0.906" stop-color="#4456c7"/><stop offset="0.938" stop-color="#4040a2"/><stop offset="0.969" stop-color="#392a73"/><stop offset="1.000" stop-color="#30123b"/></linearGradient></defs><rect x="477.60" y="384.00" width="16.10" height="313.60" fill="url(#cb140393920205248)" stroke="#000" stroke-width="0.4" stroke-opacity="0.75"/><text x="497.5" y="700.8" font-size="7.4">0.0</text><text x="497.5" y="659.9" font-size="7.4">2.5</text><text x="497.5" y="619.0" font-size="7.4">5.0</text><text x="497.5" y="578.2" font-size="7.4">7.5</text><text x="497.5" y="537.3" font-size="7.4">10.0</text><text x="497.5" y="496.4" font-size="7.4">12.5</text><text x="497.5" y="455.5" font-size="7.4">15.0</text><text x="497.5" y="414.7" font-size="7.4">17.5</text><path d="M493.70 697.60h2.2M493.70 656.72h2.2M493.70 615.85h2.2M493.70 574.97h2.2M493.70 534.10h2.2M493.70 493.22h2.2M493.70 452.34h2.2M493.70 411.47h2.2" fill="none" stroke="#000" stroke-width="0.5"/><text transform="translate(523.2 541.8) rotate(-90)" font-size="7.4" text-anchor="middle">[Gy/MU]</text><text class="cap" x="133.8" y="738.9" font-size="11.6" textLength="257.4" lengthAdjust="spacingAndGlyphs" xml:space="preserve"><tspan font-weight="bold">(b)</tspan>  DoTA’s prediction of the worst PBA sample.</text></svg>
</div></body></html>
